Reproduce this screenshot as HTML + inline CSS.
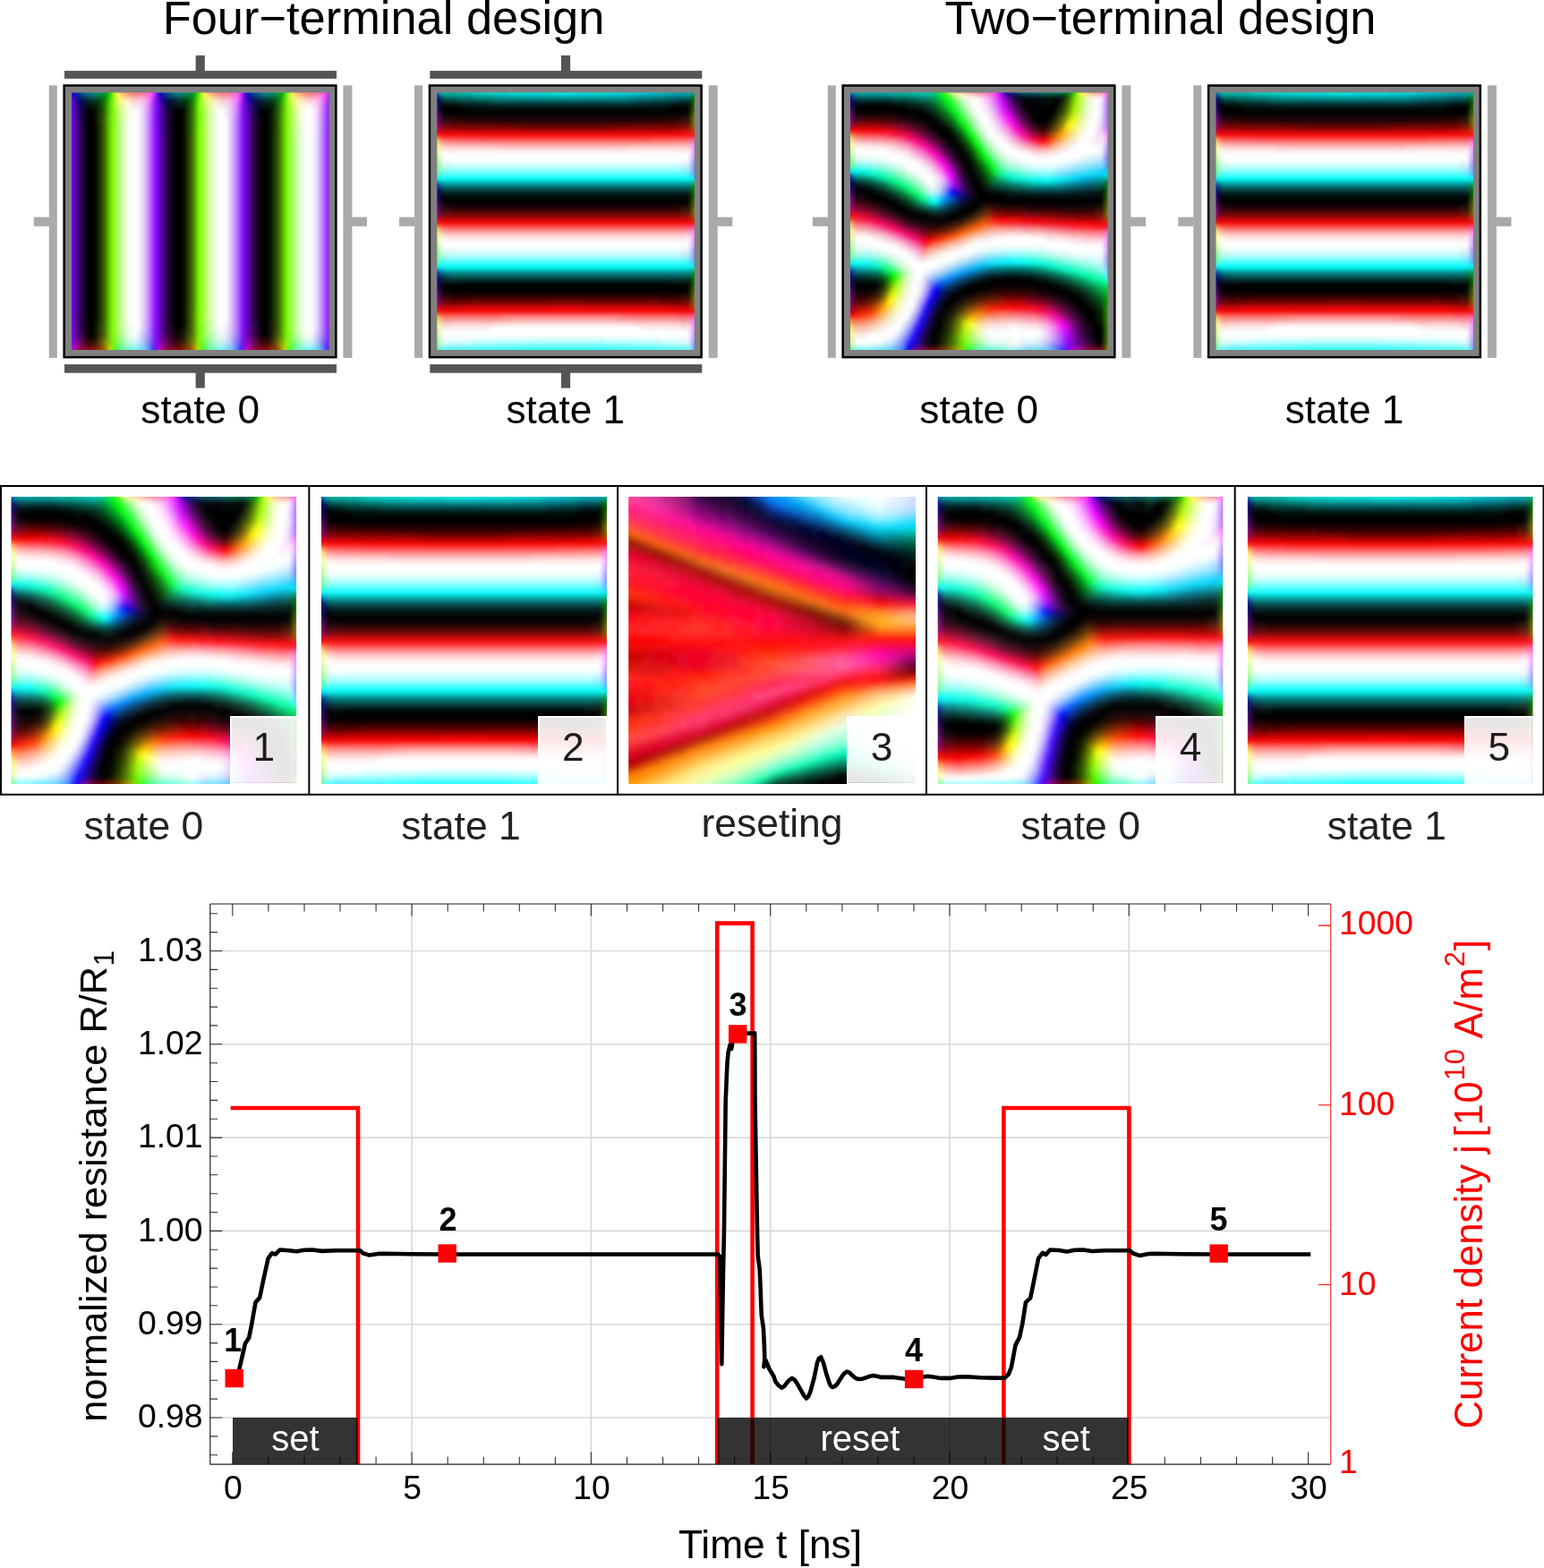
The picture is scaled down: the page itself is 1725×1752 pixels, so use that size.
<!DOCTYPE html>
<html lang="en"><head><meta charset="utf-8"><title>Skyrmion memristor figure</title><style>html,body{margin:0;padding:0;background:#fff}svg{display:block}</style></head><body><svg xmlns="http://www.w3.org/2000/svg" width="1725" height="1752" viewBox="0 0 1725 1752"><defs><clipPath id="ct0"><rect x="0.00" y="0.00" width="287.30" height="287.60"/></clipPath><filter id="bt0" x="-13.5" y="-13.5" width="314.2" height="314.6" filterUnits="userSpaceOnUse" color-interpolation-filters="sRGB"><feGaussianBlur stdDeviation="2.79"/></filter><clipPath id="ct1"><rect x="488.30" y="103.60" width="287.60" height="287.30"/></clipPath><filter id="bt1" x="474.8" y="90.1" width="314.6" height="314.2" filterUnits="userSpaceOnUse" color-interpolation-filters="sRGB"><feGaussianBlur stdDeviation="2.79"/></filter><clipPath id="ct2"><rect x="950.00" y="103.60" width="287.60" height="287.30"/></clipPath><filter id="bt2" x="936.5" y="90.1" width="314.6" height="314.2" filterUnits="userSpaceOnUse" color-interpolation-filters="sRGB"><feGaussianBlur stdDeviation="2.79"/></filter><clipPath id="ct3"><rect x="1358.50" y="103.60" width="287.60" height="287.30"/></clipPath><filter id="bt3" x="1345.0" y="90.1" width="314.6" height="314.2" filterUnits="userSpaceOnUse" color-interpolation-filters="sRGB"><feGaussianBlur stdDeviation="2.79"/></filter><clipPath id="cp0"><rect x="12.50" y="555.00" width="318.60" height="321.00"/></clipPath><filter id="bp0" x="-2.4" y="540.0" width="348.5" height="351.1" filterUnits="userSpaceOnUse" color-interpolation-filters="sRGB"><feGaussianBlur stdDeviation="3.09"/></filter><clipPath id="cp1"><rect x="359.00" y="555.00" width="318.90" height="321.00"/></clipPath><filter id="bp1" x="344.1" y="540.0" width="348.8" height="351.1" filterUnits="userSpaceOnUse" color-interpolation-filters="sRGB"><feGaussianBlur stdDeviation="3.09"/></filter><clipPath id="cp2"><rect x="702.20" y="555.00" width="320.80" height="321.00"/></clipPath><filter id="bp2" x="687.2" y="540.0" width="350.9" height="351.1" filterUnits="userSpaceOnUse" color-interpolation-filters="sRGB"><feGaussianBlur stdDeviation="3.11"/></filter><clipPath id="cp3"><rect x="1047.70" y="555.00" width="318.60" height="321.00"/></clipPath><filter id="bp3" x="1032.8" y="540.0" width="348.5" height="351.1" filterUnits="userSpaceOnUse" color-interpolation-filters="sRGB"><feGaussianBlur stdDeviation="3.09"/></filter><clipPath id="cp4"><rect x="1393.90" y="555.00" width="318.70" height="321.00"/></clipPath><filter id="bp4" x="1379.0" y="540.0" width="348.6" height="351.1" filterUnits="userSpaceOnUse" color-interpolation-filters="sRGB"><feGaussianBlur stdDeviation="3.09"/></filter></defs>
<g font-family="'Liberation Sans',Arial,Helvetica,sans-serif" fill="#000" text-anchor="middle">
<text x="428.5" y="37.6" font-size="52.4">Four−terminal design</text>
<text x="1296.5" y="37.6" font-size="52.4">Two−terminal design</text>
<text x="223.7" y="472.8" font-size="44.2">state 0</text>
<text x="631.8" y="472.8" font-size="44.2">state 1</text>
<text x="1093.7" y="472.8" font-size="44.2">state 0</text>
<text x="1502.0" y="472.8" font-size="44.2">state 1</text>
</g>
<g fill="#aaa">
<rect x="54.8" y="95.4" width="9" height="304.5"/>
<rect x="383.4" y="95.4" width="10" height="304.5"/>
<rect x="37.8" y="242.6" width="17.2" height="10.2"/>
<rect x="392.8" y="242.6" width="17.2" height="10.2"/>
</g>
<g fill="#555">
<rect x="72.0" y="79.1" width="304.0" height="8.8"/>
<rect x="72.0" y="407.1" width="304.0" height="9.6"/>
<rect x="218.6" y="61.9" width="10.2" height="18"/>
<rect x="218.6" y="416" width="10.2" height="17.6"/>
</g>
<rect x="71.65" y="95.55" width="303.70" height="303.60" fill="#808080" stroke="#000" stroke-width="2.5"/>
<g transform="matrix(0 1 1 0 80.00 103.60)"><g clip-path="url(#ct0)"><g filter="url(#bt0)"><g transform="translate(-13.47 -13.48) scale(4.48906 4.49375) translate(0 .5)" fill="none" stroke-width="1.04"><path stroke="#000" d="M7 7h57M7 8h57M7 28h55M7 29h57M7 30h55M7 50h57M7 51h57"/><path stroke="#001" d="M6 6h53M6 28h1M6 50h1"/><path stroke="#002" d="M6 27h2M6 49h3"/><path stroke="#003" d="M5 27h1"/><path stroke="#004" d="M5 5h2M6 68h4"/><path stroke="#005" d="M5 48h1M5 68h1"/><path stroke="#006" d="M4 26h2M4 48h1M4 68h1"/><path stroke="#008" d="M4 4h1M4 25h1M4 47h1"/><path stroke="#009" d="M3 25h1"/><path stroke="#00b" d="M0 3h2M3 3h1"/><path stroke="#00c" d="M2 3h1M0 46h4"/><path stroke="#00e" d="M2 24h1"/><path stroke="#010" d="M6 7h1M6 8h1M6 30h1M6 52h54"/><path stroke="#011" d="M6 29h1M6 51h1"/><path stroke="#012" d="M5 6h1M5 7h1M5 28h1M5 50h1"/><path stroke="#013" d="M5 49h1"/><path stroke="#015" d="M4 5h1"/><path stroke="#018" d="M3 68h1"/><path stroke="#019" d="M3 4h1M0 25h2M3 47h1"/><path stroke="#020" d="M6 9h3M7 31h1M7 69h1"/><path stroke="#021" d="M5 8h1M5 30h1M5 51h1M5 52h1"/><path stroke="#022" d="M5 29h1"/><path stroke="#024" d="M4 6h1M4 27h1M4 28h1M4 49h1"/><path stroke="#029" d="M2 25h1"/><path stroke="#030" d="M5 31h2M6 53h1M6 69h1"/><path stroke="#031" d="M5 9h1"/><path stroke="#034" d="M4 7h1M4 50h1"/><path stroke="#038" d="M1 68h1"/><path stroke="#039" d="M1 4h1M0 47h2M0 68h1"/><path stroke="#03a" d="M0 4h1"/><path stroke="#040" d="M5 53h1M5 69h1"/><path stroke="#042" d="M4 9h1M4 30h1M4 31h1M4 52h1"/><path stroke="#043" d="M4 8h1M4 51h1"/><path stroke="#044" d="M4 29h1"/><path stroke="#048" d="M3 26h1"/><path stroke="#049" d="M2 47h1M2 68h1"/><path stroke="#04a" d="M2 4h1"/><path stroke="#050" d="M5 10h1"/><path stroke="#051" d="M4 53h1"/><path stroke="#057" d="M3 6h1"/><path stroke="#058" d="M3 5h1M3 27h1M3 48h1M3 49h1"/><path stroke="#059" d="M1 5h1M0 26h2M0 48h2"/><path stroke="#060" d="M4 10h1M4 32h2M4 69h1"/><path stroke="#067" d="M3 28h1"/><path stroke="#068" d="M1 6h1M1 27h1M0 49h2"/><path stroke="#069" d="M0 5h1M2 5h1M0 27h1M2 27h1M2 48h1"/><path stroke="#06a" d="M2 26h1"/><path stroke="#070" d="M4 54h2"/><path stroke="#076" d="M3 30h1M3 52h1"/><path stroke="#078" d="M0 6h1M3 7h1M0 28h2M1 50h1M3 50h1"/><path stroke="#079" d="M2 6h1M2 49h1"/><path stroke="#080" d="M4 11h1M4 33h1"/><path stroke="#084" d="M3 32h1"/><path stroke="#085" d="M3 9h1M3 10h1M3 31h1M1 53h1M3 53h1"/><path stroke="#086" d="M0 9h2M1 31h1"/><path stroke="#087" d="M1 8h1M3 8h1M0 30h2M3 51h1M0 52h2"/><path stroke="#088" d="M1 7h1M0 8h1M1 29h1M3 29h1M0 50h1M1 51h1"/><path stroke="#089" d="M0 7h1M2 28h1M2 50h1"/><path stroke="#090" d="M3 33h1"/><path stroke="#091" d="M3 11h1M0 33h2"/><path stroke="#092" d="M2 33h1"/><path stroke="#093" d="M0 11h2M3 54h1"/><path stroke="#094" d="M2 11h1M1 54h1"/><path stroke="#095" d="M0 10h2M0 32h2M0 54h1"/><path stroke="#096" d="M2 10h1M0 31h1M2 31h1M0 53h1M2 53h1"/><path stroke="#097" d="M2 9h1M2 52h1"/><path stroke="#098" d="M2 8h1M2 30h1M0 51h1"/><path stroke="#099" d="M2 7h1M0 29h1M2 29h1M2 51h1"/><path stroke="#0a0" d="M0 55h4"/><path stroke="#0a5" d="M3 69h1"/><path stroke="#0a6" d="M2 32h1M2 54h1M0 69h2"/><path stroke="#0b7" d="M2 69h1"/><path stroke="#0c0" d="M0 12h4"/><path stroke="#0e0" d="M2 34h1"/><path stroke="#100" d="M63 28h1M63 30h1"/><path stroke="#101" d="M59 6h4M62 28h1M10 49h50"/><path stroke="#102" d="M8 27h53M9 49h1M60 49h2"/><path stroke="#104" d="M7 5h2M6 48h2M10 68h52"/><path stroke="#105" d="M6 26h1"/><path stroke="#108" d="M5 4h1M5 47h1"/><path stroke="#10e" d="M0 24h2"/><path stroke="#10f" d="M67 23h1"/><path stroke="#110" d="M10 9h50M62 30h1M60 52h4"/><path stroke="#120" d="M9 9h1M60 9h2M8 31h53M8 69h55"/><path stroke="#12f" d="M67 66h1"/><path stroke="#130" d="M7 53h7"/><path stroke="#140" d="M6 10h2"/><path stroke="#150" d="M6 32h1"/><path stroke="#180" d="M5 11h1"/><path stroke="#1a0" d="M4 55h1"/><path stroke="#1e0" d="M0 34h2"/><path stroke="#1f0" d="M67 35h1"/><path stroke="#1f3" d="M67 57h1M69 57h1"/><path stroke="#200" d="M64 7h1M64 8h1M64 29h1M64 50h1M64 51h1"/><path stroke="#201" d="M63 6h2M64 28h1"/><path stroke="#202" d="M61 27h2M62 49h2"/><path stroke="#204" d="M9 5h53M8 48h53M62 68h1"/><path stroke="#205" d="M7 26h6"/><path stroke="#208" d="M6 4h1"/><path stroke="#20e" d="M3 24h1"/><path stroke="#210" d="M64 30h1M64 52h1"/><path stroke="#21f" d="M68 23h2"/><path stroke="#220" d="M62 9h2M61 31h2"/><path stroke="#22f" d="M68 66h2"/><path stroke="#230" d="M14 53h49M63 69h2"/><path stroke="#240" d="M8 10h53"/><path stroke="#250" d="M7 32h6"/><path stroke="#260" d="M6 54h2"/><path stroke="#2e0" d="M3 34h1"/><path stroke="#2f1" d="M68 35h2"/><path stroke="#2f3" d="M68 57h1"/><path stroke="#300" d="M65 7h1M65 29h1M65 51h1"/><path stroke="#302" d="M64 49h1"/><path stroke="#303" d="M63 27h2"/><path stroke="#304" d="M62 5h2M61 48h3M63 68h1"/><path stroke="#305" d="M13 26h50"/><path stroke="#307" d="M6 47h3"/><path stroke="#308" d="M7 4h4M5 25h2"/><path stroke="#30c" d="M4 46h1"/><path stroke="#310" d="M65 8h1"/><path stroke="#320" d="M64 9h1"/><path stroke="#32f" d="M66 66h1"/><path stroke="#330" d="M63 31h2M63 53h1"/><path stroke="#340" d="M61 10h3"/><path stroke="#350" d="M13 32h50"/><path stroke="#35f" d="M66 44h1"/><path stroke="#360" d="M8 54h53"/><path stroke="#36f" d="M67 44h3"/><path stroke="#370" d="M6 11h3"/><path stroke="#380" d="M5 33h2"/><path stroke="#38f" d="M67 1h3"/><path stroke="#3d0" d="M4 12h1"/><path stroke="#3f3" d="M66 57h1"/><path stroke="#3f5" d="M66 14h1"/><path stroke="#3f6" d="M67 14h3"/><path stroke="#401" d="M65 28h1M65 50h1"/><path stroke="#402" d="M65 6h1M65 49h1"/><path stroke="#403" d="M65 27h1"/><path stroke="#405" d="M63 26h1M64 68h1"/><path stroke="#407" d="M9 47h53"/><path stroke="#408" d="M11 4h51M7 25h51"/><path stroke="#40c" d="M4 3h1M5 46h1"/><path stroke="#40f" d="M67 45h3"/><path stroke="#410" d="M65 30h1"/><path stroke="#41f" d="M66 23h1"/><path stroke="#420" d="M65 9h1M65 52h1"/><path stroke="#430" d="M65 31h1M65 53h1M65 69h1"/><path stroke="#440" d="M64 53h1"/><path stroke="#450" d="M63 32h1"/><path stroke="#460" d="M61 54h3"/><path stroke="#470" d="M9 11h53"/><path stroke="#47f" d="M66 1h1M66 22h1"/><path stroke="#480" d="M7 33h50"/><path stroke="#4a0" d="M5 55h3"/><path stroke="#4d0" d="M5 12h1"/><path stroke="#4f0" d="M67 13h3"/><path stroke="#4f1" d="M66 35h1"/><path stroke="#4f7" d="M66 36h1"/><path stroke="#504" d="M65 5h1M65 48h1"/><path stroke="#505" d="M64 5h1"/><path stroke="#507" d="M62 47h2"/><path stroke="#508" d="M62 4h2M58 25h5"/><path stroke="#50c" d="M5 3h1M6 46h1"/><path stroke="#50d" d="M7 46h1"/><path stroke="#50e" d="M4 24h2"/><path stroke="#50f" d="M4 2h5"/><path stroke="#550" d="M65 10h1"/><path stroke="#570" d="M62 11h2"/><path stroke="#57f" d="M66 65h1"/><path stroke="#580" d="M57 33h6"/><path stroke="#58f" d="M69 22h1"/><path stroke="#59f" d="M67 22h1"/><path stroke="#5a0" d="M8 55h54"/><path stroke="#5d0" d="M6 12h2"/><path stroke="#5f0" d="M4 34h1M2 56h1"/><path stroke="#5f8" d="M69 36h1"/><path stroke="#5f9" d="M67 36h1"/><path stroke="#605" d="M64 48h1M65 68h1"/><path stroke="#606" d="M64 26h1"/><path stroke="#607" d="M64 47h1"/><path stroke="#608" d="M64 4h1M63 25h2"/><path stroke="#60c" d="M6 3h53M62 46h1"/><path stroke="#60d" d="M8 46h54"/><path stroke="#60e" d="M6 24h1"/><path stroke="#60f" d="M0 2h4M9 2h54M7 24h4M66 45h1M0 67h4"/><path stroke="#65f" d="M65 65h1"/><path stroke="#660" d="M64 10h1M64 32h1"/><path stroke="#66f" d="M65 22h1"/><path stroke="#670" d="M64 11h1M64 54h1"/><path stroke="#680" d="M63 33h2"/><path stroke="#68f" d="M68 22h1M68 65h2"/><path stroke="#69f" d="M67 65h1"/><path stroke="#6a0" d="M62 55h2"/><path stroke="#6bf" d="M67 21h3M67 43h1M68 64h1"/><path stroke="#6cf" d="M67 42h3M67 64h1M69 64h1"/><path stroke="#6d0" d="M8 12h55"/><path stroke="#6df" d="M67 20h1M69 20h1M67 63h1"/><path stroke="#6ef" d="M67 19h1M67 41h1"/><path stroke="#6f0" d="M66 13h1M5 34h6M0 56h2M3 56h1"/><path stroke="#6f6" d="M65 36h1M65 58h1"/><path stroke="#6f8" d="M68 36h1"/><path stroke="#6f9" d="M66 58h1"/><path stroke="#6fa" d="M67 58h1"/><path stroke="#6fb" d="M67 15h1M67 37h3M68 59h2"/><path stroke="#6fc" d="M67 16h3M67 59h1"/><path stroke="#6fd" d="M67 38h1M69 38h1M67 60h1"/><path stroke="#6fe" d="M67 17h1M67 39h1"/><path stroke="#6ff" d="M67 18h1M67 40h1M67 61h1M67 62h1"/><path stroke="#700" d="M66 7h1M66 29h1M66 51h1"/><path stroke="#701" d="M66 28h1M66 50h1"/><path stroke="#704" d="M66 26h1"/><path stroke="#706" d="M65 26h1"/><path stroke="#70c" d="M59 3h5"/><path stroke="#70d" d="M63 46h1"/><path stroke="#70e" d="M62 24h1"/><path stroke="#70f" d="M63 2h2M11 24h51M63 24h1M64 45h2"/><path stroke="#710" d="M66 8h1M66 30h1"/><path stroke="#71f" d="M64 23h1"/><path stroke="#72f" d="M65 23h1"/><path stroke="#730" d="M66 69h1"/><path stroke="#73f" d="M63 66h3"/><path stroke="#740" d="M66 32h1"/><path stroke="#760" d="M65 32h1"/><path stroke="#76f" d="M65 44h1"/><path stroke="#77f" d="M65 1h1"/><path stroke="#7a0" d="M64 55h1"/><path stroke="#7af" d="M66 43h1"/><path stroke="#7bf" d="M66 21h1M68 43h2"/><path stroke="#7cf" d="M66 20h1M66 42h1M66 64h1"/><path stroke="#7d0" d="M63 12h1"/><path stroke="#7df" d="M68 20h1M66 41h1M66 63h1M68 63h2"/><path stroke="#7ef" d="M68 19h2M68 41h2"/><path stroke="#7f0" d="M64 13h2M11 34h53M4 56h60"/><path stroke="#7f1" d="M64 35h1"/><path stroke="#7f2" d="M65 35h1"/><path stroke="#7f4" d="M65 57h1"/><path stroke="#7f6" d="M65 14h1"/><path stroke="#7fa" d="M66 15h1M68 58h2"/><path stroke="#7fb" d="M68 15h2M66 37h1"/><path stroke="#7fc" d="M66 16h1M66 38h1M66 59h1"/><path stroke="#7fd" d="M67 0h1M66 17h1M68 38h1M66 60h1M68 60h2"/><path stroke="#7fe" d="M68 17h2M68 39h2"/><path stroke="#7ff" d="M68 18h2M68 40h2M68 61h2M68 62h2"/><path stroke="#800" d="M68 7h2M68 29h2M68 51h2"/><path stroke="#801" d="M68 28h2M68 50h2"/><path stroke="#802" d="M66 6h1M68 6h2M66 49h1M68 49h2"/><path stroke="#803" d="M66 5h1M66 27h1M68 27h1"/><path stroke="#804" d="M68 26h1M66 48h1"/><path stroke="#809" d="M65 25h1"/><path stroke="#80b" d="M65 3h1"/><path stroke="#80c" d="M64 3h1M64 46h2"/><path stroke="#80e" d="M65 24h1"/><path stroke="#80f" d="M65 2h5M64 24h1M7 45h57M4 67h1M65 67h1"/><path stroke="#810" d="M68 8h2M68 30h2"/><path stroke="#81f" d="M61 23h3"/><path stroke="#820" d="M66 9h1M68 9h2M66 52h1M68 52h2M67 69h3"/><path stroke="#830" d="M66 31h1M68 31h1M66 53h1"/><path stroke="#83f" d="M8 66h55"/><path stroke="#840" d="M66 10h1M68 32h1M67 54h1M69 54h1"/><path stroke="#850" d="M66 54h1M68 54h1"/><path stroke="#86f" d="M64 44h1"/><path stroke="#87f" d="M64 1h1"/><path stroke="#880" d="M65 54h1"/><path stroke="#88f" d="M65 43h1"/><path stroke="#890" d="M65 33h1"/><path stroke="#8a0" d="M65 55h1"/><path stroke="#8c0" d="M65 12h1"/><path stroke="#8d0" d="M64 12h1"/><path stroke="#8e0" d="M65 34h1"/><path stroke="#8ef" d="M66 19h1"/><path stroke="#8f0" d="M7 13h57M64 34h1M64 56h3"/><path stroke="#8f1" d="M61 35h1M63 35h1"/><path stroke="#8f2" d="M62 35h1"/><path stroke="#8f3" d="M63 57h1"/><path stroke="#8f4" d="M64 57h1"/><path stroke="#8f6" d="M64 14h1"/><path stroke="#8f8" d="M65 15h1"/><path stroke="#8fd" d="M66 0h1M68 0h2"/><path stroke="#8fe" d="M66 39h1"/><path stroke="#8ff" d="M66 18h1M66 40h1M66 61h1M66 62h1"/><path stroke="#900" d="M67 7h1M67 29h1M67 51h1"/><path stroke="#901" d="M67 28h1M67 50h1"/><path stroke="#902" d="M67 6h1M67 27h1M67 49h1"/><path stroke="#903" d="M67 5h3M69 27h1"/><path stroke="#904" d="M67 26h1M69 26h1M67 48h3"/><path stroke="#905" d="M67 4h1M67 47h1"/><path stroke="#906" d="M68 4h2M68 47h2"/><path stroke="#909" d="M65 47h1"/><path stroke="#90a" d="M65 4h1"/><path stroke="#90f" d="M4 45h3M5 67h2M61 67h4M66 67h4"/><path stroke="#910" d="M67 8h1M67 30h1M67 52h1"/><path stroke="#91f" d="M7 23h54"/><path stroke="#920" d="M67 9h1"/><path stroke="#930" d="M67 31h1M69 31h1M67 53h3"/><path stroke="#93f" d="M6 66h2"/><path stroke="#940" d="M67 10h3M67 32h1M69 32h1"/><path stroke="#950" d="M67 11h1"/><path stroke="#960" d="M68 11h2"/><path stroke="#96f" d="M63 44h1"/><path stroke="#97f" d="M64 22h1M64 65h1"/><path stroke="#98f" d="M64 43h1"/><path stroke="#990" d="M65 11h1"/><path stroke="#99f" d="M64 21h1"/><path stroke="#9af" d="M65 21h1M64 64h1"/><path stroke="#9f0" d="M4 13h3M67 56h3"/><path stroke="#9f1" d="M7 35h54"/><path stroke="#9f3" d="M12 57h51"/><path stroke="#9f6" d="M63 14h1"/><path stroke="#9f8" d="M64 15h1M64 36h1M64 58h1"/><path stroke="#9f9" d="M64 37h1"/><path stroke="#9fa" d="M65 37h1"/><path stroke="#a04" d="M66 68h1M68 68h2"/><path stroke="#a07" d="M66 4h1M66 47h1"/><path stroke="#a08" d="M68 25h1"/><path stroke="#a0e" d="M66 24h1"/><path stroke="#a0f" d="M7 67h54"/><path stroke="#a1f" d="M5 23h2"/><path stroke="#a3f" d="M5 66h1"/><path stroke="#a6f" d="M9 44h54"/><path stroke="#a70" d="M66 11h1"/><path stroke="#a7f" d="M63 1h1M61 22h3M62 65h2"/><path stroke="#abf" d="M65 64h1"/><path stroke="#ae0" d="M66 34h1"/><path stroke="#af2" d="M5 35h2"/><path stroke="#af3" d="M7 57h5"/><path stroke="#af6" d="M10 14h53"/><path stroke="#af7" d="M61 36h3"/><path stroke="#af8" d="M63 58h1"/><path stroke="#afa" d="M64 59h1"/><path stroke="#afb" d="M65 59h1"/><path stroke="#b03" d="M67 68h1"/><path stroke="#b07" d="M67 25h1"/><path stroke="#b08" d="M69 25h1"/><path stroke="#b09" d="M66 25h1"/><path stroke="#b0c" d="M66 3h1"/><path stroke="#b0f" d="M3 45h1"/><path stroke="#b1f" d="M4 23h1"/><path stroke="#b3f" d="M4 66h1"/><path stroke="#b6f" d="M7 44h2"/><path stroke="#b70" d="M67 33h1"/><path stroke="#b7f" d="M62 1h1M8 22h53M9 65h53"/><path stroke="#b80" d="M68 33h2"/><path stroke="#b8f" d="M61 1h1"/><path stroke="#b90" d="M66 33h1"/><path stroke="#b9f" d="M62 43h2"/><path stroke="#baf" d="M63 21h1"/><path stroke="#bcf" d="M64 42h2"/><path stroke="#bdf" d="M65 20h1M65 41h1M65 63h1"/><path stroke="#bef" d="M65 19h1"/><path stroke="#bf0" d="M3 13h1"/><path stroke="#bf2" d="M4 35h1"/><path stroke="#bf3" d="M5 57h2"/><path stroke="#bf6" d="M7 14h3"/><path stroke="#bf7" d="M8 36h53"/><path stroke="#bf8" d="M14 58h49"/><path stroke="#bf9" d="M62 15h2"/><path stroke="#bfa" d="M63 37h1"/><path stroke="#bfc" d="M64 16h2"/><path stroke="#bfd" d="M65 17h1M65 38h1M65 60h1"/><path stroke="#bfe" d="M65 39h1"/><path stroke="#c0d" d="M66 46h1"/><path stroke="#c0f" d="M68 24h2M0 45h3"/><path stroke="#c6f" d="M5 44h2"/><path stroke="#c7f" d="M6 22h2M6 65h3"/><path stroke="#c8f" d="M9 1h52"/><path stroke="#c9f" d="M9 43h53"/><path stroke="#caf" d="M60 21h3"/><path stroke="#cb0" d="M66 55h1"/><path stroke="#cbf" d="M61 64h3"/><path stroke="#ccf" d="M63 20h1M63 42h1"/><path stroke="#cd0" d="M66 12h1"/><path stroke="#cdf" d="M64 20h1"/><path stroke="#cf0" d="M0 13h3M68 34h2"/><path stroke="#cf6" d="M5 14h2"/><path stroke="#cf7" d="M6 36h2"/><path stroke="#cf8" d="M7 58h7"/><path stroke="#cf9" d="M9 15h53"/><path stroke="#cfa" d="M60 37h3"/><path stroke="#cfb" d="M62 59h2"/><path stroke="#cfc" d="M63 16h1M63 38h1"/><path stroke="#cfd" d="M65 0h1M64 38h1"/><path stroke="#cff" d="M65 18h1M65 40h1M65 61h1M65 62h1"/><path stroke="#d0d" d="M67 3h3"/><path stroke="#d0f" d="M67 24h1"/><path stroke="#d7f" d="M7 1h1M5 22h1M5 65h1"/><path stroke="#d8f" d="M8 1h1"/><path stroke="#d9f" d="M6 43h3"/><path stroke="#da0" d="M67 55h1"/><path stroke="#daf" d="M7 21h53"/><path stroke="#db0" d="M68 55h2"/><path stroke="#dbf" d="M8 64h53"/><path stroke="#dcf" d="M60 42h3"/><path stroke="#ddf" d="M62 20h1M63 63h2"/><path stroke="#def" d="M64 19h1M64 41h1"/><path stroke="#df0" d="M67 34h1"/><path stroke="#df4" d="M4 57h1"/><path stroke="#df7" d="M5 36h1"/><path stroke="#df8" d="M6 58h1"/><path stroke="#df9" d="M6 15h3"/><path stroke="#dfa" d="M7 37h53"/><path stroke="#dfb" d="M9 59h53"/><path stroke="#dfc" d="M60 16h3"/><path stroke="#dfd" d="M62 38h1M63 60h2"/><path stroke="#dfe" d="M64 17h1M64 39h1"/><path stroke="#dff" d="M64 18h1M64 40h1M64 61h1M64 62h1"/><path stroke="#e0d" d="M68 46h2"/><path stroke="#e0e" d="M67 46h1"/><path stroke="#e7f" d="M6 1h1"/><path stroke="#eaf" d="M6 21h1"/><path stroke="#ebf" d="M7 64h1"/><path stroke="#ecf" d="M7 42h53"/><path stroke="#ed0" d="M69 12h1"/><path stroke="#edf" d="M8 20h54"/><path stroke="#ee0" d="M67 12h2"/><path stroke="#eef" d="M61 41h3M13 63h50"/><path stroke="#ef8" d="M5 58h1"/><path stroke="#efa" d="M6 37h1"/><path stroke="#efb" d="M7 59h2"/><path stroke="#efc" d="M7 16h53"/><path stroke="#efd" d="M64 0h1M8 38h54"/><path stroke="#efe" d="M61 17h3M12 60h51"/><path stroke="#eff" d="M62 19h2M62 39h2"/><path stroke="#f2f" d="M0 23h4"/><path stroke="#f3f" d="M0 66h4"/><path stroke="#f59" d="M2 43h1"/><path stroke="#f5c" d="M2 65h1"/><path stroke="#f5d" d="M0 65h1"/><path stroke="#f5e" d="M0 1h3"/><path stroke="#f5f" d="M0 44h1M2 44h1"/><path stroke="#f66" d="M0 18h1M2 18h1M0 40h1M2 40h1M2 62h1"/><path stroke="#f67" d="M2 19h1M2 41h1M0 62h1"/><path stroke="#f68" d="M2 20h1M2 63h1"/><path stroke="#f69" d="M2 21h1M0 42h1M2 42h1M0 64h1M2 64h1"/><path stroke="#f6a" d="M0 21h2M0 43h2M1 64h1"/><path stroke="#f6c" d="M2 22h1M3 43h1"/><path stroke="#f6d" d="M0 22h2M1 65h1"/><path stroke="#f6f" d="M3 1h2M3 22h1M1 44h1M3 44h2M3 65h1"/><path stroke="#f76" d="M2 17h1M2 39h1M0 61h1M2 61h1"/><path stroke="#f77" d="M1 18h1M3 18h1M1 40h1M3 40h1M1 61h1M1 62h1"/><path stroke="#f78" d="M0 19h2M0 41h2M3 62h1"/><path stroke="#f79" d="M0 20h2M0 63h2"/><path stroke="#f7a" d="M3 20h1M3 21h1M1 42h1M3 42h1M3 64h1"/><path stroke="#f7f" d="M5 1h1M4 22h1M4 65h1"/><path stroke="#f84" d="M2 0h1"/><path stroke="#f86" d="M2 38h1M2 60h1"/><path stroke="#f87" d="M0 17h2M0 39h2M0 60h1M3 61h1"/><path stroke="#f89" d="M3 19h1M3 41h1"/><path stroke="#f8a" d="M3 63h1"/><path stroke="#f8f" d="M4 43h1"/><path stroke="#f94" d="M0 0h1"/><path stroke="#f95" d="M1 0h1M2 15h1"/><path stroke="#f96" d="M0 16h1M2 16h1M2 37h1M2 59h1"/><path stroke="#f97" d="M0 38h2M1 60h1"/><path stroke="#f98" d="M3 17h1M3 39h1"/><path stroke="#f9f" d="M4 21h1M5 43h1"/><path stroke="#fa5" d="M3 0h1M2 58h1"/><path stroke="#fa6" d="M0 15h2M0 37h2M0 59h2"/><path stroke="#fa7" d="M1 16h1M3 16h1M3 37h1M3 38h1M3 59h1"/><path stroke="#fa8" d="M3 60h1"/><path stroke="#fad" d="M4 42h1"/><path stroke="#faf" d="M5 21h1M4 64h2"/><path stroke="#fb6" d="M0 58h1"/><path stroke="#fbb" d="M4 18h1M4 40h1"/><path stroke="#fbc" d="M4 62h1"/><path stroke="#fbd" d="M4 20h1M4 41h1M4 63h1"/><path stroke="#fbf" d="M5 42h1M6 64h1"/><path stroke="#fc6" d="M3 15h1M2 36h1M1 58h1"/><path stroke="#fcb" d="M4 61h1"/><path stroke="#fcd" d="M4 19h1"/><path stroke="#fcf" d="M5 20h1M6 42h1"/><path stroke="#fd6" d="M0 36h2"/><path stroke="#fda" d="M4 16h1"/><path stroke="#fdb" d="M4 17h1M4 38h1M4 60h1"/><path stroke="#fdc" d="M4 39h1"/><path stroke="#fdd" d="M5 18h1M5 40h1"/><path stroke="#fde" d="M5 19h1M5 41h1M5 62h1M5 63h1"/><path stroke="#fdf" d="M6 20h2M6 63h1"/><path stroke="#fe6" d="M3 58h1"/><path stroke="#fea" d="M4 59h1"/><path stroke="#fed" d="M5 17h1M5 39h1M5 60h1M5 61h1"/><path stroke="#fee" d="M6 18h1M6 40h1"/><path stroke="#fef" d="M6 19h1M6 41h3M7 63h6"/><path stroke="#ff2" d="M0 35h4"/><path stroke="#ff4" d="M0 57h4"/><path stroke="#ff5" d="M2 14h1"/><path stroke="#ff6" d="M0 14h2M3 14h2M3 36h1"/><path stroke="#ff7" d="M4 36h1"/><path stroke="#ff8" d="M4 15h1M4 58h1"/><path stroke="#ff9" d="M5 15h1M4 37h1"/><path stroke="#ffa" d="M4 0h1M5 37h1"/><path stroke="#ffb" d="M5 59h2"/><path stroke="#ffc" d="M5 0h1M5 16h2M5 38h1"/><path stroke="#ffd" d="M6 0h2M62 0h2M6 38h2M6 60h1"/><path stroke="#ffe" d="M8 0h54M6 17h3M6 39h1M7 60h5"/><path stroke="#fff" d="M9 17h52M7 18h57M7 19h55M7 39h55M7 40h57M9 41h52M6 61h58M6 62h58"/></g></g></g></g>
<g fill="#aaa">
<rect x="463.1" y="95.4" width="9" height="304.5"/>
<rect x="791.7" y="95.4" width="10" height="304.5"/>
<rect x="446.1" y="242.6" width="17.2" height="10.2"/>
<rect x="801.1" y="242.6" width="17.2" height="10.2"/>
</g>
<g fill="#555">
<rect x="480.3" y="79.1" width="304.0" height="8.8"/>
<rect x="480.3" y="407.1" width="304.0" height="9.6"/>
<rect x="626.9" y="61.9" width="10.2" height="18"/>
<rect x="626.9" y="416" width="10.2" height="17.6"/>
</g>
<rect x="479.95" y="95.55" width="303.70" height="303.60" fill="#808080" stroke="#000" stroke-width="2.5"/>
<g clip-path="url(#ct1)"><g filter="url(#bt1)"><g transform="translate(474.82 90.13) scale(4.49375 4.48906) translate(0 .5)" fill="none" stroke-width="1.04"><path stroke="#000" d="M4 6h6M60 6h6M4 7h62M4 8h62M4 28h1M65 28h1M4 29h62M4 30h62M4 50h1M6 50h1M8 50h54M63 50h1M65 50h1M4 51h62M4 52h62M22 69h26"/><path stroke="#001" d="M5 50h1M7 50h1M21 69h1"/><path stroke="#004" d="M3 5h1M3 6h1M3 28h1M3 50h1"/><path stroke="#005" d="M3 4h1M3 27h1M3 49h1"/><path stroke="#007" d="M1 4h1M1 27h1M1 49h1"/><path stroke="#008" d="M0 4h1M0 27h1M0 49h1"/><path stroke="#009" d="M2 4h1M2 26h1M2 27h1M2 48h1M2 49h1"/><path stroke="#010" d="M62 50h1M64 50h1M48 69h1"/><path stroke="#011" d="M4 5h1M65 5h1M10 6h50M5 28h60M20 69h1M49 69h1"/><path stroke="#012" d="M19 69h1"/><path stroke="#019" d="M0 26h1M0 48h1"/><path stroke="#021" d="M50 69h1"/><path stroke="#022" d="M5 5h3M62 5h3M4 49h1M65 49h1"/><path stroke="#023" d="M61 5h1M5 49h1M18 69h1"/><path stroke="#028" d="M1 26h1M1 48h1"/><path stroke="#02a" d="M2 3h1M2 47h1"/><path stroke="#032" d="M8 5h1M64 49h1M51 69h1"/><path stroke="#033" d="M9 5h7M54 5h7M4 27h62M6 49h58"/><path stroke="#034" d="M53 5h1M16 69h2"/><path stroke="#037" d="M3 26h1M3 48h1"/><path stroke="#039" d="M0 47h2"/><path stroke="#03a" d="M0 3h1"/><path stroke="#03b" d="M2 25h1"/><path stroke="#040" d="M66 5h1M66 6h1M66 28h1M66 50h1"/><path stroke="#043" d="M16 5h1M52 69h2"/><path stroke="#044" d="M4 4h1M65 4h1M17 5h36"/><path stroke="#045" d="M15 69h1"/><path stroke="#04a" d="M1 3h1M0 25h1"/><path stroke="#050" d="M66 4h1M66 27h1M66 49h1"/><path stroke="#054" d="M54 69h1"/><path stroke="#055" d="M5 4h3M62 4h3"/><path stroke="#056" d="M60 4h2M4 48h2M14 69h1"/><path stroke="#059" d="M3 47h1"/><path stroke="#05a" d="M1 25h1"/><path stroke="#05b" d="M2 2h1"/><path stroke="#065" d="M8 4h2M64 48h2M55 69h1"/><path stroke="#066" d="M10 4h2M58 4h2M4 26h62M6 48h58"/><path stroke="#067" d="M56 4h2M13 69h1"/><path stroke="#070" d="M68 4h1M68 27h1M68 49h1"/><path stroke="#073" d="M66 26h1M66 48h1"/><path stroke="#076" d="M12 4h2M56 69h1"/><path stroke="#077" d="M14 4h3M53 4h3"/><path stroke="#078" d="M51 4h2M12 69h1"/><path stroke="#079" d="M3 3h1"/><path stroke="#07a" d="M3 25h1"/><path stroke="#07b" d="M0 2h2"/><path stroke="#07e" d="M2 1h1"/><path stroke="#080" d="M69 4h1M69 27h1M69 49h1"/><path stroke="#082" d="M68 26h1M68 48h1"/><path stroke="#087" d="M17 4h2M57 69h1"/><path stroke="#088" d="M19 4h32"/><path stroke="#089" d="M4 47h1M11 69h1"/><path stroke="#08a" d="M10 69h1"/><path stroke="#090" d="M67 4h1M67 26h1M67 27h1M67 48h1M67 49h1"/><path stroke="#091" d="M69 26h1M69 48h1"/><path stroke="#093" d="M68 47h2"/><path stroke="#095" d="M66 47h1"/><path stroke="#097" d="M66 3h1"/><path stroke="#098" d="M65 47h1M58 69h1"/><path stroke="#099" d="M5 47h60"/><path stroke="#09a" d="M3 2h1M61 3h4"/><path stroke="#09b" d="M9 69h1"/><path stroke="#09e" d="M0 1h1"/><path stroke="#0a2" d="M67 3h1M67 47h1"/><path stroke="#0a3" d="M69 3h1"/><path stroke="#0a4" d="M68 3h1M69 25h1"/><path stroke="#0a5" d="M68 25h1"/><path stroke="#0a7" d="M66 25h1"/><path stroke="#0a8" d="M59 69h1"/><path stroke="#0a9" d="M66 2h1M5 3h4"/><path stroke="#0aa" d="M4 3h1M9 3h3M58 3h3M65 3h1M4 25h62"/><path stroke="#0ab" d="M64 2h1M53 3h5"/><path stroke="#0ac" d="M8 69h1"/><path stroke="#0ae" d="M1 1h1"/><path stroke="#0b3" d="M67 25h1"/><path stroke="#0b5" d="M67 2h1"/><path stroke="#0b7" d="M68 2h2"/><path stroke="#0b9" d="M60 69h1"/><path stroke="#0ba" d="M5 2h1M12 3h5"/><path stroke="#0bb" d="M6 2h2M62 2h2M17 3h4M49 3h4"/><path stroke="#0bc" d="M60 2h2M65 2h1M46 3h3"/><path stroke="#0bd" d="M7 69h1"/><path stroke="#0be" d="M6 69h1"/><path stroke="#0ca" d="M61 69h1"/><path stroke="#0cb" d="M4 2h1M8 2h2M21 3h3"/><path stroke="#0cc" d="M10 2h1M59 2h1M24 3h7M39 3h7"/><path stroke="#0cd" d="M65 1h1M57 2h2M37 3h2"/><path stroke="#0ce" d="M5 69h1"/><path stroke="#0cf" d="M4 69h1"/><path stroke="#0db" d="M62 69h1"/><path stroke="#0dc" d="M4 1h1M11 2h2M31 3h2"/><path stroke="#0dd" d="M33 3h4"/><path stroke="#0de" d="M64 1h1M55 2h2"/><path stroke="#0df" d="M62 1h2"/><path stroke="#0e7" d="M67 1h1"/><path stroke="#0e9" d="M69 1h1"/><path stroke="#0ea" d="M68 1h1"/><path stroke="#0eb" d="M63 69h1"/><path stroke="#0ec" d="M64 69h1"/><path stroke="#0ed" d="M5 1h1M13 2h2"/><path stroke="#0ef" d="M3 1h1M55 1h7M52 2h3M3 69h1M67 69h1M69 69h1"/><path stroke="#0fc" d="M65 69h1"/><path stroke="#0fd" d="M6 1h2"/><path stroke="#0fe" d="M8 1h7M66 1h1M15 2h3M0 69h1M2 69h1M66 69h1"/><path stroke="#0ff" d="M18 2h34M0 24h70M0 46h70M11 68h48M1 69h1M68 69h1"/><path stroke="#100" d="M4 9h1M10 9h50M65 9h1M4 31h1M6 31h58M65 31h1M4 53h1M65 53h1"/><path stroke="#104" d="M3 29h1"/><path stroke="#107" d="M1 5h1"/><path stroke="#108" d="M0 5h1"/><path stroke="#140" d="M66 29h1"/><path stroke="#170" d="M68 5h1"/><path stroke="#180" d="M69 5h1"/><path stroke="#1ef" d="M54 1h1"/><path stroke="#1fe" d="M15 1h1"/><path stroke="#1ff" d="M24 67h22M10 68h1M59 68h1"/><path stroke="#200" d="M6 9h4M60 9h4M6 53h58"/><path stroke="#201" d="M5 9h1M5 31h1M5 53h1"/><path stroke="#204" d="M3 7h1M3 51h1"/><path stroke="#206" d="M1 6h1"/><path stroke="#207" d="M0 28h2M0 50h2"/><path stroke="#209" d="M2 5h1"/><path stroke="#210" d="M64 9h1M64 31h1M64 53h1"/><path stroke="#240" d="M66 7h1M66 51h1"/><path stroke="#260" d="M68 6h1"/><path stroke="#270" d="M68 28h2M68 50h2"/><path stroke="#290" d="M67 5h1"/><path stroke="#29f" d="M66 0h1"/><path stroke="#2cf" d="M68 0h1"/><path stroke="#2df" d="M69 0h1"/><path stroke="#2ef" d="M67 0h1M53 1h1"/><path stroke="#2f9" d="M3 0h1"/><path stroke="#2fc" d="M1 0h1"/><path stroke="#2fd" d="M0 0h1"/><path stroke="#2fe" d="M2 0h1M16 1h1"/><path stroke="#2ff" d="M4 45h62M19 67h5M46 67h5M8 68h2M60 68h2"/><path stroke="#300" d="M18 10h34M4 32h1M65 32h1"/><path stroke="#304" d="M3 30h1M3 52h1"/><path stroke="#306" d="M1 7h1M1 29h1M1 51h1"/><path stroke="#307" d="M0 6h1M0 29h1M0 51h1"/><path stroke="#309" d="M2 28h1M2 50h1"/><path stroke="#340" d="M66 30h1M66 52h1"/><path stroke="#360" d="M68 7h1M68 29h1M68 51h1"/><path stroke="#370" d="M69 6h1M69 29h1M69 51h1"/><path stroke="#390" d="M67 28h1M67 50h1"/><path stroke="#3af" d="M67 45h1"/><path stroke="#3bf" d="M69 45h1"/><path stroke="#3cf" d="M68 45h1"/><path stroke="#3df" d="M66 45h1"/><path stroke="#3ef" d="M52 1h1M15 67h2"/><path stroke="#3fa" d="M2 45h1"/><path stroke="#3fb" d="M0 45h1"/><path stroke="#3fc" d="M1 45h1"/><path stroke="#3fd" d="M3 45h1"/><path stroke="#3fe" d="M17 1h1M53 67h2"/><path stroke="#3ff" d="M17 67h2M51 67h2M6 68h2M62 68h2"/><path stroke="#400" d="M4 10h1M6 10h12M52 10h12M65 10h1M6 32h58M4 54h1M6 54h6M58 54h6M65 54h1"/><path stroke="#401" d="M5 32h1"/><path stroke="#405" d="M3 8h1"/><path stroke="#407" d="M0 7h1M0 30h2M1 52h1"/><path stroke="#409" d="M2 6h1M2 29h1M2 51h1"/><path stroke="#410" d="M64 32h1"/><path stroke="#450" d="M66 8h1"/><path stroke="#470" d="M69 7h1M68 30h2M68 52h1"/><path stroke="#48f" d="M67 68h1"/><path stroke="#490" d="M67 6h1M67 29h1M67 51h1"/><path stroke="#49f" d="M67 23h1M67 67h1M69 68h1"/><path stroke="#4af" d="M68 23h2M69 67h1M68 68h1"/><path stroke="#4bf" d="M68 67h1"/><path stroke="#4cf" d="M66 23h1"/><path stroke="#4df" d="M65 0h1M66 67h1"/><path stroke="#4ef" d="M51 1h1M6 67h9"/><path stroke="#4f8" d="M2 68h1"/><path stroke="#4f9" d="M2 23h1M2 67h1M0 68h1"/><path stroke="#4fa" d="M0 23h2M0 67h1M1 68h1"/><path stroke="#4fb" d="M1 67h1"/><path stroke="#4fc" d="M3 23h1"/><path stroke="#4fd" d="M4 0h1M3 67h1"/><path stroke="#4fe" d="M18 1h1M55 67h9"/><path stroke="#4ff" d="M4 23h62M23 66h24M4 67h2M64 67h2M4 68h2M64 68h2"/><path stroke="#500" d="M12 54h46"/><path stroke="#501" d="M5 10h1M5 54h1"/><path stroke="#505" d="M3 31h1M3 53h1"/><path stroke="#507" d="M0 8h2M1 31h1M0 52h1M1 53h1"/><path stroke="#508" d="M2 8h1"/><path stroke="#509" d="M2 7h1M2 30h1M2 52h1"/><path stroke="#510" d="M64 10h1M64 54h1"/><path stroke="#550" d="M66 31h1M66 53h1"/><path stroke="#55f" d="M67 43h1"/><path stroke="#56f" d="M67 66h1"/><path stroke="#570" d="M68 8h2M68 31h1M69 52h1M68 53h1"/><path stroke="#580" d="M67 8h1"/><path stroke="#590" d="M67 7h1M67 30h1M67 52h1"/><path stroke="#5df" d="M64 0h1"/><path stroke="#5ef" d="M50 1h1"/><path stroke="#5f5" d="M2 43h1"/><path stroke="#5f6" d="M2 66h1"/><path stroke="#5fd" d="M5 0h1"/><path stroke="#5fe" d="M19 1h1"/><path stroke="#5ff" d="M10 66h13M47 66h13M3 68h1M66 68h1"/><path stroke="#600" d="M23 11h24"/><path stroke="#604" d="M3 32h1M3 54h1"/><path stroke="#605" d="M3 10h1"/><path stroke="#606" d="M3 9h1"/><path stroke="#607" d="M1 9h1M0 31h1M0 53h1"/><path stroke="#608" d="M0 9h1M2 31h1M2 53h1"/><path stroke="#640" d="M66 32h1M66 54h1"/><path stroke="#650" d="M66 10h1"/><path stroke="#65f" d="M67 21h1"/><path stroke="#660" d="M66 9h1"/><path stroke="#670" d="M68 9h1M69 31h1M69 53h1"/><path stroke="#67f" d="M67 22h1M69 43h1M67 44h1"/><path stroke="#680" d="M69 9h1M67 31h1M67 53h1"/><path stroke="#68f" d="M69 22h1M69 66h1"/><path stroke="#69f" d="M68 66h1"/><path stroke="#6ef" d="M49 1h1M6 66h4"/><path stroke="#6f5" d="M2 21h1"/><path stroke="#6f7" d="M2 22h1M0 43h1M2 44h1"/><path stroke="#6f8" d="M0 22h1M0 66h1"/><path stroke="#6f9" d="M1 66h1"/><path stroke="#6fe" d="M20 1h1M60 66h4"/><path stroke="#6ff" d="M5 66h1M64 66h1"/><path stroke="#700" d="M6 11h17M47 11h17M6 33h58M5 55h3M62 55h3"/><path stroke="#701" d="M4 11h2M4 33h2M4 55h1"/><path stroke="#704" d="M3 33h1"/><path stroke="#709" d="M2 9h1"/><path stroke="#710" d="M64 11h2M64 33h2M65 55h1"/><path stroke="#740" d="M66 33h1"/><path stroke="#75f" d="M67 65h1"/><path stroke="#77f" d="M68 21h2M68 43h1"/><path stroke="#78f" d="M69 44h1"/><path stroke="#790" d="M67 9h1"/><path stroke="#79f" d="M68 22h1M68 44h1"/><path stroke="#7bf" d="M66 44h1"/><path stroke="#7df" d="M63 0h1"/><path stroke="#7ef" d="M48 1h1"/><path stroke="#7f5" d="M2 65h1"/><path stroke="#7f7" d="M0 21h2M1 43h1"/><path stroke="#7f8" d="M0 44h1"/><path stroke="#7f9" d="M1 22h1M1 44h1"/><path stroke="#7fb" d="M3 44h1"/><path stroke="#7fd" d="M6 0h1"/><path stroke="#7fe" d="M21 1h1"/><path stroke="#7ff" d="M4 66h1M65 66h1"/><path stroke="#800" d="M8 55h54"/><path stroke="#804" d="M3 11h1M3 55h1"/><path stroke="#806" d="M1 11h1M1 33h1M1 55h1"/><path stroke="#807" d="M1 10h1M0 33h1"/><path stroke="#808" d="M0 32h2M1 54h1"/><path stroke="#840" d="M66 11h1M66 55h1"/><path stroke="#860" d="M68 11h1M68 33h1M68 55h1"/><path stroke="#86f" d="M69 65h1"/><path stroke="#870" d="M68 10h1M69 33h1"/><path stroke="#87f" d="M68 65h1"/><path stroke="#880" d="M68 32h2M68 54h1"/><path stroke="#8bf" d="M66 22h1"/><path stroke="#8cf" d="M66 66h1"/><path stroke="#8df" d="M62 0h1"/><path stroke="#8ef" d="M46 1h2M64 22h2M64 44h2"/><path stroke="#8f6" d="M0 65h1"/><path stroke="#8f7" d="M1 65h1"/><path stroke="#8fb" d="M3 22h1"/><path stroke="#8fc" d="M3 66h1"/><path stroke="#8fd" d="M7 0h1"/><path stroke="#8fe" d="M22 1h2M4 22h2M4 44h2"/><path stroke="#8ff" d="M6 22h58M6 44h58"/><path stroke="#907" d="M0 11h1M0 55h1"/><path stroke="#908" d="M0 10h1M2 11h1M2 33h1M0 54h1M2 55h1"/><path stroke="#90a" d="M2 32h1"/><path stroke="#96f" d="M67 42h1"/><path stroke="#970" d="M69 11h1M69 55h1"/><path stroke="#97f" d="M67 20h1"/><path stroke="#980" d="M69 10h1M67 11h1M67 33h1M69 54h1M67 55h1"/><path stroke="#98f" d="M69 42h1"/><path stroke="#9a0" d="M67 32h1"/><path stroke="#9af" d="M66 21h1"/><path stroke="#9bf" d="M66 43h1"/><path stroke="#9f6" d="M2 42h1"/><path stroke="#9f7" d="M2 20h1"/><path stroke="#9f8" d="M0 42h1"/><path stroke="#9fa" d="M3 21h1"/><path stroke="#9fb" d="M3 43h1"/><path stroke="#9ff" d="M24 1h2M44 1h2M18 65h34"/><path stroke="#a00" d="M25 12h20"/><path stroke="#a0a" d="M2 10h1M2 54h1"/><path stroke="#a6f" d="M67 19h1M67 41h1"/><path stroke="#a7f" d="M67 64h1"/><path stroke="#a8f" d="M69 20h1M69 41h1M68 42h1M69 64h1"/><path stroke="#a9f" d="M68 20h1"/><path stroke="#aa0" d="M67 10h1M67 54h1"/><path stroke="#aaf" d="M66 20h1M66 42h1"/><path stroke="#abf" d="M66 65h1"/><path stroke="#adf" d="M61 0h1"/><path stroke="#aef" d="M64 43h1"/><path stroke="#af6" d="M2 19h1M2 41h1"/><path stroke="#af7" d="M2 64h1"/><path stroke="#af8" d="M0 20h1M0 41h1M1 42h1M0 64h1"/><path stroke="#af9" d="M1 20h1"/><path stroke="#afa" d="M3 20h1M3 42h1"/><path stroke="#afb" d="M3 65h1"/><path stroke="#afd" d="M8 0h1"/><path stroke="#afe" d="M5 43h1"/><path stroke="#aff" d="M26 1h2M42 1h2M12 65h6M52 65h6"/><path stroke="#b00" d="M9 12h16M45 12h16"/><path stroke="#b6f" d="M67 18h1M67 40h1M67 63h1"/><path stroke="#b8f" d="M68 19h2M69 63h1"/><path stroke="#b9f" d="M68 41h1M68 64h1"/><path stroke="#bbf" d="M66 64h1"/><path stroke="#bef" d="M60 0h1M64 21h1"/><path stroke="#bf6" d="M2 18h1M2 40h1M2 63h1"/><path stroke="#bf8" d="M0 19h2M0 63h1"/><path stroke="#bf9" d="M1 41h1M1 64h1"/><path stroke="#bfb" d="M3 64h1"/><path stroke="#bfe" d="M9 0h1M5 21h1"/><path stroke="#bff" d="M28 1h14M6 21h58M4 43h1M6 43h58M65 43h1M7 65h5M58 65h5"/><path stroke="#c00" d="M6 12h3M61 12h3M4 34h62M4 56h5M61 56h5"/><path stroke="#c01" d="M4 12h2"/><path stroke="#c02" d="M3 34h1M3 56h1"/><path stroke="#c03" d="M3 12h1"/><path stroke="#c04" d="M0 12h2M0 34h2M1 56h1"/><path stroke="#c05" d="M2 12h1M2 34h1M0 56h1"/><path stroke="#c06" d="M2 56h1"/><path stroke="#c10" d="M64 12h2"/><path stroke="#c20" d="M66 34h1M66 56h1"/><path stroke="#c30" d="M66 12h1"/><path stroke="#c40" d="M68 12h2M68 34h2M68 56h1"/><path stroke="#c50" d="M67 12h1M67 34h1M69 56h1"/><path stroke="#c60" d="M67 56h1"/><path stroke="#c6f" d="M67 17h1M67 39h1M67 62h1"/><path stroke="#c8f" d="M69 18h1M69 40h1M69 62h1M68 63h1"/><path stroke="#c9f" d="M68 18h1M68 40h1"/><path stroke="#cbf" d="M66 19h1M66 41h1"/><path stroke="#cef" d="M59 0h1"/><path stroke="#cf6" d="M2 17h1M2 39h1M2 62h1"/><path stroke="#cf8" d="M0 18h1M0 40h1M0 62h1M1 63h1"/><path stroke="#cf9" d="M1 18h1M1 40h1"/><path stroke="#cfb" d="M3 19h1M3 41h1"/><path stroke="#cfe" d="M10 0h1"/><path stroke="#cff" d="M4 21h1M65 21h1M26 64h18M5 65h2M63 65h2"/><path stroke="#d00" d="M9 56h22M39 56h22"/><path stroke="#d6f" d="M67 61h1"/><path stroke="#d8f" d="M68 17h2M68 39h2M69 61h1"/><path stroke="#d9f" d="M68 62h1"/><path stroke="#dbf" d="M66 63h1"/><path stroke="#def" d="M64 42h1"/><path stroke="#df6" d="M2 61h1"/><path stroke="#df8" d="M0 17h2M0 39h2M0 61h1"/><path stroke="#df9" d="M1 62h1"/><path stroke="#dfb" d="M3 63h1"/><path stroke="#dfe" d="M5 42h1"/><path stroke="#dff" d="M7 42h56M12 64h14M44 64h14M4 65h1M65 65h1"/><path stroke="#e00" d="M31 56h8"/><path stroke="#e8f" d="M68 61h1"/><path stroke="#ebf" d="M66 18h1M66 40h1M66 62h1"/><path stroke="#eef" d="M58 0h1M64 20h1"/><path stroke="#ef8" d="M1 61h1"/><path stroke="#efb" d="M3 18h1M3 40h1M3 62h1"/><path stroke="#efe" d="M11 0h1M5 20h1"/><path stroke="#eff" d="M4 20h1M6 20h58M65 20h1M4 42h1M6 42h1M63 42h1M65 42h1M5 64h7M58 64h7"/><path stroke="#f00" d="M0 13h70M0 35h70M0 57h70"/><path stroke="#f44" d="M14 14h42"/><path stroke="#f45" d="M11 14h3"/><path stroke="#f4c" d="M67 58h1"/><path stroke="#f54" d="M56 14h3"/><path stroke="#f55" d="M4 14h7M59 14h7M6 36h58"/><path stroke="#f56" d="M64 36h2M62 58h4"/><path stroke="#f59" d="M66 14h1M66 36h1M66 58h1"/><path stroke="#f5a" d="M68 58h1"/><path stroke="#f5b" d="M68 14h1M68 36h1M69 58h1"/><path stroke="#f5c" d="M69 14h1M69 36h1"/><path stroke="#f5d" d="M67 14h1M67 36h1"/><path stroke="#f65" d="M4 36h2M4 58h4"/><path stroke="#f66" d="M8 58h11M51 58h11"/><path stroke="#f67" d="M49 58h2"/><path stroke="#f6d" d="M69 59h1"/><path stroke="#f6e" d="M69 15h1M67 59h1"/><path stroke="#f6f" d="M67 15h1M67 16h1M67 37h1M67 38h1M67 60h1"/><path stroke="#f76" d="M19 58h2"/><path stroke="#f77" d="M21 58h28"/><path stroke="#f7c" d="M66 59h1"/><path stroke="#f7d" d="M68 15h1M68 37h1M68 59h1"/><path stroke="#f7e" d="M69 37h1"/><path stroke="#f7f" d="M69 16h1M69 38h1M69 60h1"/><path stroke="#f88" d="M7 15h1M9 15h52M62 15h1"/><path stroke="#f89" d="M8 15h1M64 15h1M64 59h1"/><path stroke="#f8c" d="M66 15h1M66 37h1"/><path stroke="#f8f" d="M68 16h1M68 38h1M68 60h1"/><path stroke="#f95" d="M3 14h1M3 36h1M3 58h1"/><path stroke="#f98" d="M5 15h1M61 15h1M5 59h1"/><path stroke="#f99" d="M4 15h1M6 15h1M63 15h1M65 15h1M5 37h60M4 59h1M6 59h15M49 59h15M65 59h1"/><path stroke="#f9a" d="M65 37h1M47 59h2"/><path stroke="#f9f" d="M66 60h1"/><path stroke="#fa5" d="M1 58h1"/><path stroke="#fa9" d="M4 37h1M21 59h2"/><path stroke="#faa" d="M23 59h24"/><path stroke="#faf" d="M66 16h1M66 38h1M66 61h1"/><path stroke="#fb5" d="M1 14h1M1 36h1M0 58h1"/><path stroke="#fbb" d="M20 16h30"/><path stroke="#fbc" d="M18 16h2M64 60h1"/><path stroke="#fbf" d="M66 17h1M66 39h1"/><path stroke="#fc4" d="M2 58h1"/><path stroke="#fc5" d="M0 14h1M0 36h1"/><path stroke="#fc7" d="M3 59h1"/><path stroke="#fc8" d="M3 15h1M3 37h1"/><path stroke="#fcb" d="M50 16h2M5 60h1"/><path stroke="#fcc" d="M4 16h14M52 16h14M6 38h58M4 60h1M6 60h11M53 60h11M65 60h1"/><path stroke="#fcd" d="M64 38h1M52 60h1"/><path stroke="#fd5" d="M2 14h1M2 36h1"/><path stroke="#fd6" d="M0 59h1"/><path stroke="#fd7" d="M1 15h1M1 37h1M1 59h1"/><path stroke="#fdc" d="M5 38h1M17 60h1"/><path stroke="#fdd" d="M4 38h1M65 38h1M18 60h34"/><path stroke="#fde" d="M64 61h1"/><path stroke="#fe6" d="M0 15h1M2 59h1"/><path stroke="#fe7" d="M0 37h1"/><path stroke="#fed" d="M5 61h1"/><path stroke="#fee" d="M25 0h20M5 17h60M6 39h58M4 61h1M6 61h10M54 61h10M65 61h1"/><path stroke="#fef" d="M56 0h2M64 39h1"/><path stroke="#ff6" d="M2 15h1M2 16h1M2 37h1M2 38h1M2 60h1"/><path stroke="#ff7" d="M0 16h1M0 38h1M0 60h1"/><path stroke="#ff8" d="M1 16h1M1 38h1M1 60h1"/><path stroke="#ff9" d="M3 60h1"/><path stroke="#ffa" d="M3 16h1M3 38h1M3 61h1"/><path stroke="#ffb" d="M3 17h1M3 39h1"/><path stroke="#ffe" d="M12 0h2M5 39h1"/><path stroke="#fff" d="M14 0h11M45 0h11M4 17h1M65 17h1M4 18h62M4 19h62M4 39h1M65 39h1M4 40h62M4 41h62M16 61h38M4 62h62M4 63h62M4 64h1M65 64h1"/></g></g></g>
<g fill="#aaa">
<rect x="924.8" y="95.4" width="9" height="304.5"/>
<rect x="1253.4" y="95.4" width="10" height="304.5"/>
<rect x="907.8" y="242.6" width="17.2" height="10.2"/>
<rect x="1262.8" y="242.6" width="17.2" height="10.2"/>
</g>
<rect x="941.65" y="95.55" width="303.70" height="303.60" fill="#808080" stroke="#000" stroke-width="2.5"/>
<g clip-path="url(#ct2)"><g filter="url(#bt2)"><g transform="translate(936.52 90.13) scale(4.49375 4.48906) translate(0 .5)" fill="none" stroke-width="1.04"><path stroke="#000" d="M45 4h11M46 5h2M53 5h2M4 6h13M46 6h9M4 7h17M47 7h7M4 8h1M14 8h9M48 8h6M19 9h5M48 9h5M21 10h4M49 10h3M23 11h4M24 12h4M25 13h4M26 14h3M27 15h3M28 16h3M29 17h2M30 18h2M30 19h2M31 20h2M31 21h2M32 22h2M32 23h2M33 24h2M33 25h2M4 26h1M33 26h3M4 27h5M34 27h3M6 28h5M34 28h8M65 28h1M8 29h5M34 29h32M10 30h5M33 30h3M40 30h26M12 31h5M31 31h4M14 32h5M29 32h5M16 33h7M27 33h5M19 34h11M24 35h2M38 49h11M4 50h6M34 50h19M4 51h6M31 51h8M48 51h8M4 52h1M6 52h1M30 52h5M52 52h6M28 53h4M55 53h5M27 54h3M57 54h4M26 55h3M58 55h4M26 56h2M59 56h4M25 57h1M60 57h4M25 58h2M61 58h3M24 59h2M62 59h2M24 60h2M62 60h3M24 61h2M63 61h3M23 62h2M63 62h3M23 63h2M63 63h3M23 64h2M64 64h2M23 65h2M64 65h2"/><path stroke="#001" d="M48 5h3M32 24h1M5 26h1M63 28h1M33 29h1M32 30h1M30 31h1M26 33h1M37 49h1M33 50h1M29 52h1M27 53h1M25 56h1M26 57h1M24 58h1M23 61h1M22 65h1"/><path stroke="#002" d="M44 4h1M32 29h1M26 54h1M24 57h1M23 60h1M22 63h1"/><path stroke="#003" d="M25 55h1M23 59h1"/><path stroke="#004" d="M44 3h1M3 6h1M3 25h1M3 26h1M31 29h1M3 50h1M24 56h1M23 58h1"/><path stroke="#005" d="M43 3h1M3 5h1M3 49h1M25 54h1"/><path stroke="#006" d="M3 4h1M31 28h1M24 55h1"/><path stroke="#007" d="M42 3h1M1 4h1M1 24h1M1 48h1M25 53h1M24 54h1"/><path stroke="#008" d="M0 4h1M0 24h1M30 28h1M0 48h1"/><path stroke="#009" d="M41 1h1M2 4h1M2 24h1M2 48h1"/><path stroke="#00a" d="M41 0h1M41 2h1M24 53h1"/><path stroke="#00b" d="M29 28h1"/><path stroke="#00f" d="M28 27h1M24 51h1M24 52h1M23 53h1M23 54h1M22 55h1M22 56h1M21 58h1M20 60h1M19 62h1M18 65h1M17 66h1M17 67h1M16 68h1M15 69h1"/><path stroke="#010" d="M51 5h2M17 6h1M21 7h1M23 8h1M24 9h1M25 10h1M29 14h1M30 15h1M31 17h1M32 18h1M32 19h1M33 20h1M33 21h1M34 22h1M34 23h1M35 24h1M35 25h1M36 26h1M11 28h1M42 28h1M64 28h1M13 29h1M15 30h1M17 31h1M19 32h1M49 49h1M10 50h1M53 50h1M56 51h1M58 52h1M60 53h1M61 54h1M62 55h1M63 56h1M64 57h1M64 58h1M64 59h2M65 60h1M25 62h1M25 63h1M25 65h1"/><path stroke="#011" d="M4 5h1M6 5h8M18 6h2M6 26h2M9 27h1M37 27h3M65 27h1M12 28h1M43 28h20M14 29h1M20 32h1M28 32h1M23 33h3M41 48h5M4 49h1M35 49h2M50 49h2M32 50h1M54 50h1M30 51h1M57 51h1M59 52h1"/><path stroke="#012" d="M5 5h1M31 30h1M29 31h1M27 32h1M5 49h1M28 52h1"/><path stroke="#013" d="M30 30h1M29 51h1M27 52h1"/><path stroke="#014" d="M26 53h1"/><path stroke="#016" d="M30 29h1M3 48h1M26 52h1"/><path stroke="#018" d="M25 52h1"/><path stroke="#019" d="M42 2h1M2 47h1"/><path stroke="#01f" d="M28 28h1"/><path stroke="#020" d="M26 10h1M27 11h1M28 12h1M29 13h1M31 16h1M34 21h1M35 23h1M36 25h1M63 55h1M64 56h1M65 57h1M65 58h1"/><path stroke="#021" d="M20 6h2M22 7h1M24 8h1M25 9h1M4 25h1M37 26h1M10 27h1M40 27h1M13 28h1M16 30h1M18 31h1M6 49h4M52 49h1M55 50h1M58 51h1M60 52h1M61 53h1M62 54h1"/><path stroke="#022" d="M14 5h3M8 26h1M11 27h1M41 27h2M62 27h3M21 32h1M38 48h3M46 48h3M34 49h1"/><path stroke="#023" d="M60 27h2M28 31h1M26 32h1M37 48h1M33 49h1M31 50h1"/><path stroke="#024" d="M45 3h1M30 50h1M28 51h1"/><path stroke="#025" d="M29 30h1"/><path stroke="#026" d="M3 24h1"/><path stroke="#028" d="M42 1h1M1 47h1"/><path stroke="#029" d="M0 23h1M0 47h1"/><path stroke="#02a" d="M2 23h1"/><path stroke="#030" d="M56 4h1M30 14h1M32 17h1M33 19h1M36 24h1M65 56h1"/><path stroke="#031" d="M23 7h1M15 29h1M17 30h1M10 49h1M62 53h1M63 54h1M64 55h1"/><path stroke="#032" d="M17 5h2M22 6h1M9 26h1M38 26h1M43 27h1M19 31h1M22 32h1M49 48h1M53 49h2M56 50h2M59 51h1M61 52h1"/><path stroke="#033" d="M47 3h1M19 5h1M5 25h2M44 27h3M57 27h3M25 32h1M50 48h1"/><path stroke="#034" d="M46 3h1M49 3h1M4 4h1M65 26h1M56 27h1M36 48h1"/><path stroke="#035" d="M48 3h1M27 31h1M35 48h1M32 49h1"/><path stroke="#036" d="M29 50h1M27 51h1"/><path stroke="#037" d="M43 1h1M28 30h1"/><path stroke="#038" d="M29 29h1M26 51h1"/><path stroke="#039" d="M42 0h1"/><path stroke="#03a" d="M2 3h1"/><path stroke="#03c" d="M25 51h1"/><path stroke="#03f" d="M16 67h1"/><path stroke="#040" d="M31 15h1M33 18h1M34 20h1M35 22h1M66 27h1M66 28h1M11 50h1M65 55h1"/><path stroke="#041" d="M24 7h1M25 8h1M26 9h1M27 10h1M28 11h1M37 25h1M64 54h1"/><path stroke="#042" d="M55 3h1M23 6h1M12 27h1M14 28h1M16 29h1M60 51h1M63 53h1"/><path stroke="#043" d="M53 3h2M20 5h2M7 25h1M10 26h1M39 26h2M47 27h1M23 32h1M51 48h1M55 49h1"/><path stroke="#044" d="M5 4h9M63 26h1M48 27h8M24 32h1M4 48h4"/><path stroke="#045" d="M50 3h1M62 26h1M42 47h1"/><path stroke="#046" d="M34 48h1M31 49h1"/><path stroke="#047" d="M44 1h1M30 49h1M28 50h1"/><path stroke="#048" d="M43 0h1M3 47h1"/><path stroke="#049" d="M1 23h1"/><path stroke="#04a" d="M0 3h2"/><path stroke="#04f" d="M25 50h1"/><path stroke="#050" d="M56 3h1M30 13h1M32 16h1M35 21h1M36 23h1M66 26h1M11 49h1"/><path stroke="#051" d="M29 12h1"/><path stroke="#052" d="M18 30h1M62 52h1"/><path stroke="#053" d="M51 3h2M22 5h1M11 26h1M13 27h1M15 28h1M20 31h1M58 50h1"/><path stroke="#054" d="M14 4h3M8 25h1M41 26h2M64 26h1M8 48h2M52 48h1M56 49h1"/><path stroke="#055" d="M48 1h1M17 4h1M61 26h1M39 47h3M43 47h5"/><path stroke="#056" d="M48 0h1M45 1h1M59 26h2M26 31h1M37 47h2"/><path stroke="#057" d="M44 0h1M33 48h1"/><path stroke="#058" d="M27 30h1M32 48h1"/><path stroke="#059" d="M43 2h1M29 49h1M27 50h1"/><path stroke="#05a" d="M28 29h1"/><path stroke="#05e" d="M26 50h1"/><path stroke="#060" d="M31 14h1M33 17h1M34 19h1M36 22h1"/><path stroke="#061" d="M25 7h1M26 8h1M27 9h1M28 10h1M37 24h1"/><path stroke="#062" d="M24 6h1M64 53h1M65 54h1"/><path stroke="#063" d="M23 5h1M38 25h1M66 25h1M17 29h1M10 48h1M59 50h1M61 51h1M63 52h1"/><path stroke="#064" d="M21 31h1M53 48h1M57 49h1"/><path stroke="#065" d="M18 4h2M9 25h1M43 26h2M48 47h2"/><path stroke="#066" d="M46 1h1M50 1h1M53 1h2M4 24h2M45 26h1M58 26h1M22 31h1"/><path stroke="#067" d="M45 0h1M47 1h1M49 1h1M56 26h2M25 31h1M4 47h1M36 47h1"/><path stroke="#068" d="M49 0h1M35 47h1"/><path stroke="#069" d="M44 2h1M3 3h1"/><path stroke="#06a" d="M31 48h1"/><path stroke="#06c" d="M2 46h1"/><path stroke="#06d" d="M28 49h1"/><path stroke="#06f" d="M27 28h1M27 29h1"/><path stroke="#070" d="M57 3h1M35 20h1M68 26h1"/><path stroke="#071" d="M29 11h1M30 12h1M32 15h1M37 23h1"/><path stroke="#072" d="M65 53h1"/><path stroke="#073" d="M16 28h1"/><path stroke="#074" d="M56 1h1M39 25h1M12 26h1M14 27h1M19 30h1M60 50h1M62 51h1"/><path stroke="#075" d="M52 1h1M55 1h1M20 4h1M10 25h1M40 25h1M54 48h1"/><path stroke="#076" d="M51 0h3M55 0h1M51 1h1M21 4h1M6 24h2M46 26h1M50 47h2M55 48h1"/><path stroke="#077" d="M46 0h2M50 0h1M54 0h1M64 25h2M47 26h9M23 31h2M6 47h2"/><path stroke="#078" d="M48 2h1M61 25h3M5 47h1"/><path stroke="#07a" d="M3 23h1M34 47h1"/><path stroke="#07b" d="M0 2h1M26 30h1"/><path stroke="#07c" d="M2 2h1M0 46h1"/><path stroke="#07d" d="M30 48h1"/><path stroke="#07f" d="M27 49h1"/><path stroke="#080" d="M34 18h1M36 21h1M69 26h1M12 49h1M66 55h1"/><path stroke="#081" d="M27 8h1M28 9h1M31 13h1M33 16h1M69 25h1"/><path stroke="#082" d="M57 0h1M57 1h1M25 6h1M26 7h1M68 25h1"/><path stroke="#083" d="M24 5h1M38 24h1M11 48h1M64 52h1"/><path stroke="#084" d="M15 27h1M17 28h1M18 29h1M63 51h1"/><path stroke="#085" d="M56 0h1M22 4h1M13 26h1M20 30h1M58 49h1M61 50h1"/><path stroke="#086" d="M11 25h1M41 25h1M9 47h1M52 47h1M56 48h1M59 49h1"/><path stroke="#087" d="M8 24h1M42 25h1M8 47h1"/><path stroke="#088" d="M40 46h7"/><path stroke="#089" d="M45 2h3M49 2h1M59 25h2M39 46h1"/><path stroke="#08a" d="M58 25h1M38 46h1"/><path stroke="#08b" d="M1 2h1"/><path stroke="#08c" d="M1 46h1M33 47h1"/><path stroke="#08f" d="M26 49h1"/><path stroke="#090" d="M67 26h1M66 54h1"/><path stroke="#091" d="M32 14h1M35 19h1M37 22h1M67 25h1"/><path stroke="#092" d="M29 10h1M67 24h1"/><path stroke="#093" d="M57 2h1M69 24h1"/><path stroke="#094" d="M23 4h1M68 24h1M65 52h1"/><path stroke="#095" d="M39 24h1"/><path stroke="#096" d="M56 2h1M10 47h1M60 49h1M62 50h1"/><path stroke="#097" d="M55 2h1M66 24h1M53 47h1M57 48h1"/><path stroke="#098" d="M50 2h5M43 25h2M47 46h2"/><path stroke="#099" d="M4 3h9"/><path stroke="#09a" d="M64 24h1M57 25h1"/><path stroke="#09b" d="M3 2h1M63 24h1M37 46h1"/><path stroke="#09c" d="M3 46h1"/><path stroke="#09d" d="M0 1h1M2 1h1M36 46h1"/><path stroke="#09f" d="M26 29h1M32 47h1M28 48h2"/><path stroke="#0a0" d="M34 17h1M68 54h1M68 55h1M69 56h1M69 57h1"/><path stroke="#0a1" d="M36 20h1M66 53h1"/><path stroke="#0a2" d="M25 5h1M26 6h1M27 7h1M30 11h1M12 48h1M69 55h1"/><path stroke="#0a3" d="M24 4h1M38 23h1"/><path stroke="#0a5" d="M14 26h1M16 27h1M19 29h1M64 51h1"/><path stroke="#0a6" d="M12 25h1"/><path stroke="#0a7" d="M9 24h1M40 24h1"/><path stroke="#0a8" d="M49 46h1M54 47h1"/><path stroke="#0a9" d="M13 3h6M45 25h1"/><path stroke="#0ab" d="M65 24h1M56 25h1"/><path stroke="#0ac" d="M62 24h1M55 25h1"/><path stroke="#0ad" d="M1 1h1M61 24h1M25 30h1"/><path stroke="#0af" d="M30 47h2"/><path stroke="#0b0" d="M58 0h1M58 1h1M58 2h1M67 53h1M67 54h1"/><path stroke="#0b2" d="M28 8h1M68 53h1"/><path stroke="#0b3" d="M66 52h1M69 54h1"/><path stroke="#0b5" d="M65 51h1"/><path stroke="#0b6" d="M63 50h1"/><path stroke="#0b7" d="M21 30h1M58 48h1M61 49h1"/><path stroke="#0b8" d="M23 3h1"/><path stroke="#0b9" d="M22 3h1M5 23h1M46 25h1M50 46h1"/><path stroke="#0ba" d="M19 3h3"/><path stroke="#0bb" d="M4 2h13"/><path stroke="#0bd" d="M3 1h1M54 25h1"/><path stroke="#0be" d="M60 24h1"/><path stroke="#0bf" d="M66 22h1M33 46h3"/><path stroke="#0c1" d="M31 12h1"/><path stroke="#0c2" d="M37 21h1M67 52h1"/><path stroke="#0c3" d="M25 4h1"/><path stroke="#0c4" d="M66 51h1M68 52h1"/><path stroke="#0c5" d="M18 28h1M69 53h1"/><path stroke="#0c6" d="M24 3h1"/><path stroke="#0c7" d="M64 50h1"/><path stroke="#0c8" d="M69 23h1M10 24h1M55 47h1"/><path stroke="#0c9" d="M41 24h1"/><path stroke="#0ca" d="M6 23h1M47 25h1M51 46h1"/><path stroke="#0cb" d="M17 2h4M4 23h1M6 46h1"/><path stroke="#0cc" d="M4 46h2"/><path stroke="#0cd" d="M4 1h5M53 25h1"/><path stroke="#0cf" d="M67 22h1M65 23h1M59 24h1M25 29h1"/><path stroke="#0d0" d="M33 15h1M35 18h1"/><path stroke="#0d2" d="M26 5h1M29 9h1"/><path stroke="#0d6" d="M15 26h1M11 47h1"/><path stroke="#0d7" d="M13 25h1"/><path stroke="#0d8" d="M59 48h1M62 49h1"/><path stroke="#0d9" d="M22 30h1"/><path stroke="#0da" d="M23 2h1M42 24h1"/><path stroke="#0db" d="M21 2h2M68 23h1M48 25h1M7 46h2"/><path stroke="#0dc" d="M9 1h6M49 25h1"/><path stroke="#0dd" d="M15 1h1M50 25h1M52 25h1"/><path stroke="#0df" d="M60 23h1M62 23h3M58 24h1M36 45h1"/><path stroke="#0e1" d="M27 6h1"/><path stroke="#0e2" d="M38 22h1"/><path stroke="#0e4" d="M67 51h1"/><path stroke="#0e5" d="M39 23h1"/><path stroke="#0e7" d="M65 50h1"/><path stroke="#0e8" d="M24 2h1M69 52h1"/><path stroke="#0e9" d="M11 24h1"/><path stroke="#0ea" d="M56 47h1"/><path stroke="#0eb" d="M7 23h1M52 46h1"/><path stroke="#0ed" d="M16 1h2"/><path stroke="#0ee" d="M51 25h1"/><path stroke="#0ef" d="M61 23h1M56 24h2M24 30h1M37 45h7"/><path stroke="#0f0" d="M25 1h1M25 2h1M26 3h1M27 5h1M29 8h1M30 9h1M30 10h1M31 11h1M32 12h1M32 13h1M33 14h1M34 15h1M34 16h1M35 17h1M36 18h1M36 19h1M37 20h1M13 48h2"/><path stroke="#0f1" d="M26 4h2M28 6h1M28 7h1M31 10h1M33 13h1M38 21h1M32 67h1"/><path stroke="#0f2" d="M35 16h1"/><path stroke="#0f3" d="M29 7h1M37 19h1"/><path stroke="#0f4" d="M25 3h1"/><path stroke="#0f5" d="M39 22h1M12 47h2"/><path stroke="#0f6" d="M17 27h2M19 28h1"/><path stroke="#0f7" d="M16 26h1M20 29h1M66 50h1M68 51h1"/><path stroke="#0f8" d="M24 1h1M14 25h2M17 26h1M20 28h1"/><path stroke="#0f9" d="M40 23h1M12 24h2M11 46h1M63 49h1"/><path stroke="#0fa" d="M21 29h1M10 46h1M60 48h2M64 49h2"/><path stroke="#0fb" d="M8 23h1M41 23h1M9 46h1M57 47h2M62 48h1M67 50h1"/><path stroke="#0fc" d="M23 1h1M9 23h3M42 23h1M67 23h1M43 24h1M53 46h2M59 47h1"/><path stroke="#0fd" d="M18 1h2M44 24h1M22 29h1M23 30h1M52 45h1M55 46h2"/><path stroke="#0fe" d="M20 1h3M6 22h2M45 24h2M8 45h1M44 45h8M69 51h1"/><path stroke="#0ff" d="M0 22h6M68 22h2M66 23h1M47 24h4M53 24h3M0 45h8"/><path stroke="#100" d="M5 8h9M47 8h1M16 9h3M20 10h1M52 10h1M22 11h1M50 11h2M4 28h2M4 29h1M6 29h2M8 30h2M36 30h4M11 31h1M35 31h1M46 31h18M65 31h1M13 32h1M15 33h1M32 33h1M17 34h2M30 34h1M20 35h4M26 35h2M39 51h9M5 52h1M7 52h2M35 52h3M49 52h3M4 53h1M32 53h2M53 53h2M30 54h1M56 54h1M29 55h1M27 57h1"/><path stroke="#101" d="M45 5h1M46 7h1M48 10h1M23 12h1M24 13h1M27 16h1M28 17h1M29 18h1M29 19h1M30 20h1M31 22h1M32 25h1M33 27h1M55 54h1M57 55h1M58 56h1M59 57h1M60 58h1M61 59h1M61 60h1M62 61h1M62 62h1M22 64h1M63 64h1M63 65h1"/><path stroke="#102" d="M45 6h1M31 23h1M32 26h1M33 28h1M62 63h1"/><path stroke="#103" d="M32 28h1M22 62h1M21 65h1"/><path stroke="#104" d="M22 61h1M21 64h1"/><path stroke="#105" d="M22 60h1M21 63h1"/><path stroke="#106" d="M1 6h1M23 57h1M22 59h1M21 62h1M20 65h1"/><path stroke="#107" d="M1 25h1M1 49h1M23 56h1"/><path stroke="#109" d="M2 25h1"/><path stroke="#10a" d="M23 55h1"/><path stroke="#10d" d="M21 59h1"/><path stroke="#10f" d="M23 52h1M21 57h1M20 61h1M19 63h1M18 64h1"/><path stroke="#110" d="M54 7h1M53 9h1M34 32h1M10 51h1M9 52h1M31 54h1M30 55h1M28 56h1M28 57h1M27 58h1M26 59h1M26 60h1M26 61h1M25 64h1"/><path stroke="#11f" d="M17 65h1"/><path stroke="#120" d="M55 5h1M55 6h1M54 8h1M27 59h1M26 62h1M26 63h1"/><path stroke="#170" d="M68 27h1"/><path stroke="#180" d="M66 56h1"/><path stroke="#190" d="M68 56h1M69 58h1M69 59h1"/><path stroke="#1bf" d="M32 46h1"/><path stroke="#1d0" d="M13 49h1"/><path stroke="#1df" d="M65 22h1"/><path stroke="#1f0" d="M32 68h1"/><path stroke="#1f3" d="M24 0h1"/><path stroke="#1fb" d="M63 48h1"/><path stroke="#1fc" d="M60 47h1"/><path stroke="#1fd" d="M15 0h1M43 23h1M9 45h1"/><path stroke="#1fe" d="M0 0h3M12 0h3"/><path stroke="#1ff" d="M3 0h9M51 24h2M68 50h1"/><path stroke="#200" d="M14 9h2M39 31h7M22 36h3M38 52h5M44 52h5M5 53h3"/><path stroke="#201" d="M47 9h1M18 10h2M21 11h1M49 11h1M22 12h1M25 14h1M26 15h1M5 29h1M7 30h1M10 31h1M12 32h1M14 33h1M16 34h1M18 35h2M51 53h2M54 54h1M56 55h1"/><path stroke="#202" d="M46 8h1M28 18h1M30 21h1M59 58h1M60 59h1M61 61h1M62 64h1"/><path stroke="#203" d="M44 5h1M31 24h1M32 27h1M61 62h1"/><path stroke="#204" d="M3 27h1M3 51h1"/><path stroke="#206" d="M1 26h1M1 50h1"/><path stroke="#207" d="M0 5h2M0 6h1M0 25h1M0 26h1M0 49h1M21 61h1"/><path stroke="#208" d="M22 58h1M20 63h1M20 64h1"/><path stroke="#209" d="M2 49h1"/><path stroke="#20a" d="M21 60h1M19 65h1"/><path stroke="#20b" d="M22 57h1M20 62h1"/><path stroke="#20c" d="M19 64h1"/><path stroke="#20f" d="M22 54h1M20 59h1M19 61h1"/><path stroke="#210" d="M52 11h1M36 31h1M64 31h1M33 33h1M31 34h1M28 35h1M34 53h2M32 54h1M29 56h1"/><path stroke="#220" d="M53 10h1M10 52h1M28 58h1M27 60h1M26 64h1"/><path stroke="#22f" d="M55 68h1"/><path stroke="#230" d="M55 7h1M27 61h1M27 62h1M26 65h1"/><path stroke="#23f" d="M55 67h1"/><path stroke="#240" d="M66 29h1M11 51h1M27 63h1"/><path stroke="#250" d="M66 63h1"/><path stroke="#260" d="M68 28h1M66 60h1M66 61h1M66 62h1"/><path stroke="#26f" d="M24 50h1M15 68h1"/><path stroke="#270" d="M69 27h1M69 28h1M66 57h1M66 58h1M66 59h1"/><path stroke="#290" d="M67 27h1M68 57h1M68 58h1M68 59h1M69 60h1M69 61h1M69 62h1"/><path stroke="#2a0" d="M67 55h1"/><path stroke="#2c0" d="M58 3h1"/><path stroke="#2cf" d="M35 45h1"/><path stroke="#2df" d="M64 22h1M58 23h2"/><path stroke="#2f1" d="M33 69h1"/><path stroke="#2f3" d="M32 11h1"/><path stroke="#2f4" d="M30 8h1"/><path stroke="#2f5" d="M38 20h1"/><path stroke="#2f8" d="M19 27h1"/><path stroke="#2f9" d="M40 22h1M14 24h1M16 25h1M12 46h1"/><path stroke="#2fc" d="M17 0h1M57 46h1"/><path stroke="#2fd" d="M16 0h1M8 22h1M53 45h1M66 49h1"/><path stroke="#2ff" d="M23 29h2M41 44h6"/><path stroke="#300" d="M4 9h1M6 9h1M9 9h5M38 31h1M54 32h10M65 32h1M25 36h1M43 52h1M4 54h1M65 66h1"/><path stroke="#301" d="M17 10h1M20 11h1M6 30h1M9 31h1M11 32h1M13 33h1M20 36h2M49 53h2M53 54h1"/><path stroke="#302" d="M47 10h1M48 11h1M23 13h1M24 14h1M25 15h1M55 55h1M57 56h1M58 57h1"/><path stroke="#303" d="M45 7h1M46 9h1M26 16h1M27 17h1M29 20h1M30 22h1M60 60h1M61 63h1M62 65h1"/><path stroke="#304" d="M44 6h1M31 25h1M60 61h1M61 64h1"/><path stroke="#305" d="M43 4h1M31 26h1"/><path stroke="#306" d="M31 27h1M1 51h1"/><path stroke="#307" d="M0 50h1M0 51h1"/><path stroke="#309" d="M2 5h1M2 6h1M2 50h1"/><path stroke="#30d" d="M29 27h1M18 66h1"/><path stroke="#30e" d="M40 0h1"/><path stroke="#310" d="M37 31h1M35 32h1M29 35h1M26 36h1M8 53h2M36 53h2M33 54h1M24 66h1"/><path stroke="#31f" d="M18 63h1"/><path stroke="#320" d="M31 55h1M30 56h1M29 57h1"/><path stroke="#32f" d="M55 69h1"/><path stroke="#330" d="M54 9h1M28 59h1"/><path stroke="#340" d="M56 5h1M55 8h1M28 60h1M27 64h1"/><path stroke="#34f" d="M54 69h1"/><path stroke="#350" d="M56 6h1M66 64h1M27 65h1M66 65h1"/><path stroke="#35f" d="M14 69h1"/><path stroke="#360" d="M68 29h1"/><path stroke="#370" d="M12 50h1"/><path stroke="#380" d="M68 60h1M68 61h1M68 62h1M68 63h1M69 65h1"/><path stroke="#390" d="M67 28h1M69 63h1M69 64h1"/><path stroke="#39f" d="M69 21h1M25 49h1"/><path stroke="#3a0" d="M67 56h1M67 57h1M67 58h1M67 59h1"/><path stroke="#3af" d="M27 48h1"/><path stroke="#3bf" d="M29 47h1"/><path stroke="#3df" d="M63 22h1"/><path stroke="#3ef" d="M40 44h1"/><path stroke="#3f3" d="M28 5h1M32 66h1"/><path stroke="#3f4" d="M34 14h1"/><path stroke="#3f5" d="M36 17h1M33 68h1"/><path stroke="#3f7" d="M39 21h1"/><path stroke="#3fb" d="M12 23h1M64 48h1"/><path stroke="#3fc" d="M18 0h1M10 45h1M58 46h1M61 47h1"/><path stroke="#3fd" d="M9 22h1M44 23h1"/><path stroke="#3fe" d="M47 44h2"/><path stroke="#3ff" d="M69 50h1"/><path stroke="#400" d="M7 9h2M50 12h2M47 32h7M5 54h2"/><path stroke="#401" d="M5 9h1M16 10h1M4 30h2M8 31h1M15 34h1M17 35h1M47 53h2M52 54h1M22 66h2"/><path stroke="#402" d="M19 11h1M21 12h1M10 32h1M54 55h1M56 56h1"/><path stroke="#403" d="M22 13h1M57 57h1"/><path stroke="#404" d="M3 7h1M45 8h1M28 19h1M3 52h1M58 58h1M59 59h1M60 62h1"/><path stroke="#405" d="M3 8h1M30 23h1M60 63h1M61 65h1"/><path stroke="#406" d="M43 5h1M1 8h1"/><path stroke="#407" d="M1 27h1"/><path stroke="#409" d="M2 26h1M2 27h1M30 27h1M2 51h1"/><path stroke="#40b" d="M41 3h1"/><path stroke="#40f" d="M56 68h1"/><path stroke="#410" d="M64 32h1M30 35h1M27 36h1M38 53h2M7 54h1M34 54h1"/><path stroke="#41f" d="M21 56h1M56 67h1"/><path stroke="#420" d="M36 32h1M34 33h1M32 34h1M32 55h1"/><path stroke="#430" d="M53 11h1M10 53h1"/><path stroke="#43f" d="M27 27h1"/><path stroke="#440" d="M54 10h1M66 30h1M29 58h1"/><path stroke="#44f" d="M23 51h1"/><path stroke="#450" d="M28 61h1M28 62h1"/><path stroke="#45f" d="M54 66h1"/><path stroke="#460" d="M56 7h1M28 63h1M28 65h1"/><path stroke="#470" d="M57 4h1M69 29h1M28 64h1M68 65h1"/><path stroke="#47f" d="M67 21h1M16 66h1M13 69h1"/><path stroke="#480" d="M68 64h1"/><path stroke="#48f" d="M68 21h1"/><path stroke="#490" d="M67 29h1M67 61h1M67 62h1M67 63h1M67 65h1"/><path stroke="#49f" d="M14 68h1"/><path stroke="#4a0" d="M67 60h1"/><path stroke="#4af" d="M14 67h2"/><path stroke="#4bf" d="M31 46h1"/><path stroke="#4cf" d="M34 45h1"/><path stroke="#4df" d="M62 22h1M57 23h1M38 44h1"/><path stroke="#4ef" d="M39 44h1"/><path stroke="#4f5" d="M33 66h1"/><path stroke="#4f6" d="M34 69h1"/><path stroke="#4f8" d="M35 69h1"/><path stroke="#4f9" d="M0 21h1M18 26h1M34 67h1"/><path stroke="#4fb" d="M41 22h1M35 67h1"/><path stroke="#4fc" d="M19 0h1M62 47h1M65 48h1"/><path stroke="#4fd" d="M20 0h1M45 23h1M49 44h1M54 45h1"/><path stroke="#4ff" d="M22 0h2M67 49h1"/><path stroke="#500" d="M41 32h6M22 37h1M40 53h7"/><path stroke="#501" d="M14 10h2M49 12h1M7 31h1M19 36h1M51 54h1M64 66h1"/><path stroke="#502" d="M18 11h1M20 12h1M12 33h1M14 34h1M16 35h1M63 66h1"/><path stroke="#503" d="M23 14h1"/><path stroke="#504" d="M46 10h1M26 17h1M27 18h1M3 54h1M21 66h1"/><path stroke="#505" d="M44 7h1M29 21h1M3 28h1M3 53h1M59 60h1"/><path stroke="#506" d="M30 24h1M59 61h1M60 64h1"/><path stroke="#507" d="M0 7h2M0 8h1M30 25h1M0 27h1M0 28h2M0 52h2M1 53h1M60 65h1"/><path stroke="#508" d="M2 8h1M30 26h1M19 66h1"/><path stroke="#50d" d="M17 68h1"/><path stroke="#50e" d="M40 1h1"/><path stroke="#50f" d="M16 69h1"/><path stroke="#510" d="M28 36h1M8 54h1M35 54h1"/><path stroke="#520" d="M52 12h1M33 34h1M33 55h1M25 66h1"/><path stroke="#530" d="M31 56h1M26 66h1"/><path stroke="#53f" d="M20 58h1"/><path stroke="#540" d="M30 57h1"/><path stroke="#54f" d="M67 19h1M17 64h1M55 66h1"/><path stroke="#550" d="M66 31h1M11 52h1"/><path stroke="#560" d="M29 59h1"/><path stroke="#56f" d="M67 20h1"/><path stroke="#570" d="M57 5h1M68 30h2M68 31h1M12 51h1"/><path stroke="#57f" d="M54 68h1M53 69h1"/><path stroke="#590" d="M67 64h1M29 65h1"/><path stroke="#59f" d="M69 20h1M26 28h1M15 66h1M54 67h1M53 68h1M12 69h1M52 69h1"/><path stroke="#5af" d="M66 21h1M69 49h1M53 67h1M11 69h1M51 69h1"/><path stroke="#5bf" d="M52 67h1M13 68h1"/><path stroke="#5c0" d="M13 50h1"/><path stroke="#5cf" d="M13 67h1M51 67h1M12 68h1"/><path stroke="#5df" d="M61 22h1M56 23h1M11 67h2M48 67h3"/><path stroke="#5ef" d="M8 67h3"/><path stroke="#5f0" d="M14 49h1M31 66h1M31 67h1M32 69h1"/><path stroke="#5f2" d="M26 2h1"/><path stroke="#5f5" d="M28 4h1M29 6h1M2 20h1"/><path stroke="#5f6" d="M31 9h1M33 12h1"/><path stroke="#5f7" d="M37 18h1M2 21h1M2 44h1M2 68h1"/><path stroke="#5f8" d="M2 67h1M33 67h1M2 69h1"/><path stroke="#5f9" d="M0 44h2M0 67h1M34 68h1M0 69h1M36 69h1"/><path stroke="#5fa" d="M1 21h1M3 21h1M15 24h1M21 28h1M1 67h1M35 68h1M1 69h1"/><path stroke="#5fb" d="M13 23h1M3 44h1M11 45h1M36 68h1"/><path stroke="#5fc" d="M10 22h1M59 46h1M63 47h1M36 67h1"/><path stroke="#5fd" d="M4 21h1M46 23h1M50 44h1M55 45h1M37 67h2"/><path stroke="#5fe" d="M4 44h2"/><path stroke="#5ff" d="M21 0h1M66 48h1M68 49h1M4 67h1"/><path stroke="#600" d="M11 10h1M38 32h3M56 33h8M23 37h2M4 55h2M23 68h1M65 68h1"/><path stroke="#601" d="M4 10h1M12 10h2M6 31h1M21 37h1M49 54h2M22 68h1"/><path stroke="#602" d="M17 11h1M9 32h1M11 33h1M18 36h1M53 55h1"/><path stroke="#603" d="M47 11h1M48 12h1M21 13h1M3 55h1M55 56h1M62 66h1"/><path stroke="#604" d="M24 15h1M25 16h1M56 57h1M20 68h1"/><path stroke="#605" d="M3 9h1M45 9h1M57 58h1M58 59h1"/><path stroke="#606" d="M28 20h1M29 22h1M3 29h1"/><path stroke="#607" d="M43 6h1M1 29h1M0 53h1M59 62h1M20 66h1"/><path stroke="#608" d="M42 4h1M2 53h1M59 63h1M59 64h1"/><path stroke="#609" d="M2 7h1M2 28h1M2 52h1M59 65h1"/><path stroke="#60f" d="M56 69h1"/><path stroke="#610" d="M37 32h1M65 33h1M25 37h2M36 54h2"/><path stroke="#61f" d="M56 66h1"/><path stroke="#620" d="M35 33h1M31 35h1M29 36h1M9 54h1"/><path stroke="#640" d="M32 56h1"/><path stroke="#64f" d="M19 60h1"/><path stroke="#650" d="M66 32h1M27 66h1"/><path stroke="#65f" d="M22 53h1M18 62h1"/><path stroke="#660" d="M55 9h1M30 58h1"/><path stroke="#66f" d="M67 46h1"/><path stroke="#670" d="M56 8h1M69 31h1M29 60h1"/><path stroke="#67f" d="M68 19h2M23 50h1M17 63h1M16 65h1"/><path stroke="#680" d="M57 6h1M67 31h1M29 61h1M29 62h1"/><path stroke="#68f" d="M67 47h1"/><path stroke="#690" d="M67 30h1M29 63h1M29 64h1"/><path stroke="#69f" d="M68 20h1M24 49h1"/><path stroke="#6af" d="M67 48h1M69 48h1M52 68h1M50 69h1"/><path stroke="#6bf" d="M28 47h1M26 48h1M68 48h1M14 66h1M51 68h1M10 69h1"/><path stroke="#6cf" d="M33 45h1M47 67h1M11 68h1M49 68h2M8 69h2"/><path stroke="#6d0" d="M30 65h1"/><path stroke="#6df" d="M64 21h2M60 22h1M55 23h1M37 44h1M46 67h1M9 68h2M6 69h2"/><path stroke="#6ef" d="M54 23h1M6 67h2M44 67h2M5 69h1"/><path stroke="#6f0" d="M31 65h1M31 68h1"/><path stroke="#6f4" d="M27 3h1"/><path stroke="#6f5" d="M2 42h1M2 66h1"/><path stroke="#6f6" d="M29 5h1M30 7h1M2 43h1"/><path stroke="#6f7" d="M35 15h1M38 19h1M0 20h1"/><path stroke="#6f8" d="M39 20h1M0 43h1M14 47h1M0 68h1"/><path stroke="#6f9" d="M13 46h1M34 66h1M1 68h1"/><path stroke="#6fa" d="M40 21h1M17 25h1M37 69h1"/><path stroke="#6fb" d="M37 68h2M38 69h1"/><path stroke="#6fc" d="M11 22h1M42 22h1M64 47h1M3 67h1M39 67h1M3 69h1"/><path stroke="#6fd" d="M5 21h1M47 23h1M51 44h1M56 45h1M60 46h1M40 67h1"/><path stroke="#6fe" d="M48 23h1M6 44h2M41 67h2"/><path stroke="#6ff" d="M5 67h1M4 69h1"/><path stroke="#700" d="M6 10h5M50 13h1M50 33h6M23 69h1M65 69h1"/><path stroke="#701" d="M5 10h1M48 33h2M47 54h2M64 68h1M22 69h1M64 69h1"/><path stroke="#702" d="M16 11h1M4 31h2M8 32h1M20 37h1M52 55h1M63 68h1M21 69h1M63 69h1"/><path stroke="#703" d="M19 12h1M10 33h1M13 34h1M15 35h1M17 36h1M21 68h1M62 68h1"/><path stroke="#704" d="M3 10h1M22 14h1M54 56h1"/><path stroke="#705" d="M3 30h1M61 66h1"/><path stroke="#707" d="M44 8h1M27 19h1M1 54h1M58 60h1"/><path stroke="#708" d="M43 7h1M29 23h1M0 29h1"/><path stroke="#709" d="M42 5h1M2 29h1"/><path stroke="#70b" d="M58 65h1"/><path stroke="#70e" d="M57 68h1"/><path stroke="#70f" d="M40 2h1"/><path stroke="#710" d="M51 13h1M64 33h1M38 54h2M6 55h2M24 68h1M24 69h1"/><path stroke="#720" d="M27 37h1M25 68h1M25 69h1"/><path stroke="#730" d="M36 33h1M34 34h1M32 35h1M30 36h1M34 55h1M26 68h1M26 69h1"/><path stroke="#740" d="M53 12h1M66 33h1M66 68h1"/><path stroke="#750" d="M54 11h1M10 54h1M31 57h1M66 66h1"/><path stroke="#75f" d="M67 45h1M21 55h1"/><path stroke="#760" d="M55 10h1M11 53h1"/><path stroke="#77f" d="M69 18h1M69 46h1M18 61h1"/><path stroke="#780" d="M12 52h1"/><path stroke="#78f" d="M69 47h1M16 64h1"/><path stroke="#790" d="M57 7h1"/><path stroke="#79f" d="M26 27h1M53 66h1"/><path stroke="#7af" d="M66 20h1M68 47h1"/><path stroke="#7bf" d="M25 28h1M52 66h1M49 69h1"/><path stroke="#7c0" d="M58 4h1M30 66h1"/><path stroke="#7cf" d="M30 46h1M13 66h1M51 66h1M48 68h1M48 69h1"/><path stroke="#7d0" d="M58 5h1M30 64h1"/><path stroke="#7df" d="M63 21h1M58 22h2M36 44h1M12 66h1"/><path stroke="#7ef" d="M62 21h1M53 23h1M6 68h3"/><path stroke="#7f6" d="M15 48h1"/><path stroke="#7f7" d="M30 6h1M31 8h1M32 10h1M34 13h1M0 42h1M0 66h1"/><path stroke="#7f8" d="M36 16h1M1 20h1M15 47h1M1 66h1"/><path stroke="#7f9" d="M1 43h1"/><path stroke="#7fa" d="M19 26h1M20 27h1"/><path stroke="#7fb" d="M14 23h1M16 24h1M18 25h1M12 45h1M35 66h1M3 68h1"/><path stroke="#7fc" d="M36 66h1M39 68h1M39 69h1"/><path stroke="#7fd" d="M12 22h1M43 22h2M8 44h2M52 44h2M57 45h2M61 46h2M37 66h1M40 69h1"/><path stroke="#7fe" d="M6 21h2M49 23h1"/><path stroke="#7ff" d="M50 23h3M65 47h1M43 67h1M4 68h2"/><path stroke="#800" d="M40 33h6M22 38h1M41 54h5"/><path stroke="#801" d="M46 33h2M46 54h1"/><path stroke="#802" d="M14 11h2M6 32h2M21 38h1M51 55h1M21 67h1"/><path stroke="#803" d="M18 12h1M49 13h1M9 33h1M12 34h1M19 37h1M62 69h1"/><path stroke="#804" d="M20 13h1M14 35h1M16 36h1M20 67h1M20 69h1"/><path stroke="#805" d="M47 12h1M23 15h1M3 31h1M55 57h1M61 68h1M19 69h1M61 69h1"/><path stroke="#806" d="M1 10h1M46 11h1M24 16h1M25 17h1M60 68h1M60 69h1"/><path stroke="#807" d="M0 10h1M45 10h1M26 18h1M1 55h1M57 59h1"/><path stroke="#808" d="M0 9h2M44 9h1M28 21h1M1 30h1M0 54h1M0 55h1M58 61h1M19 68h1"/><path stroke="#809" d="M58 62h1M18 68h1"/><path stroke="#80a" d="M42 6h1M29 24h1M58 63h1M18 67h1M17 69h1"/><path stroke="#80b" d="M58 64h1"/><path stroke="#80c" d="M29 25h1"/><path stroke="#80d" d="M29 26h1M57 69h1"/><path stroke="#80f" d="M28 26h1M57 65h1M57 66h1M57 67h1"/><path stroke="#810" d="M23 38h1M40 54h1"/><path stroke="#81f" d="M56 65h1"/><path stroke="#820" d="M8 55h1M35 55h1"/><path stroke="#830" d="M52 13h1M66 67h1"/><path stroke="#840" d="M35 34h1M33 56h1M27 68h1M27 69h1M66 69h1"/><path stroke="#850" d="M28 67h1M28 69h1"/><path stroke="#860" d="M54 12h1M68 33h1M28 68h1"/><path stroke="#86f" d="M67 18h1M20 57h1"/><path stroke="#87f" d="M22 52h1M19 59h1"/><path stroke="#880" d="M56 9h1M68 32h1M28 66h1"/><path stroke="#88f" d="M68 18h1M69 45h1M17 62h1"/><path stroke="#890" d="M69 32h1M30 59h1M30 60h1M68 66h2"/><path stroke="#89f" d="M66 19h1M68 46h1M15 65h1"/><path stroke="#8a0" d="M57 8h1M30 61h1M29 66h1"/><path stroke="#8af" d="M23 49h1"/><path stroke="#8b0" d="M30 68h1"/><path stroke="#8bf" d="M25 48h1"/><path stroke="#8c0" d="M30 62h1M30 63h1"/><path stroke="#8cf" d="M32 45h1M29 46h1M27 47h1M47 68h1"/><path stroke="#8d0" d="M13 51h1M31 69h1"/><path stroke="#8df" d="M35 44h1M11 66h1M47 66h1M49 66h2M46 68h1M46 69h2"/><path stroke="#8ef" d="M61 21h1M56 22h2M24 28h1M40 43h3M9 66h2M48 66h1M44 69h2"/><path stroke="#8f0" d="M14 50h1M31 64h1"/><path stroke="#8f3" d="M25 0h1"/><path stroke="#8f4" d="M32 65h1"/><path stroke="#8f6" d="M2 19h1M33 65h1"/><path stroke="#8f7" d="M0 19h1M1 42h1M34 65h1"/><path stroke="#8f8" d="M32 9h1M33 11h1M35 14h1M37 17h1"/><path stroke="#8f9" d="M38 18h1"/><path stroke="#8fa" d="M39 19h1M14 46h1M3 66h1"/><path stroke="#8fb" d="M3 20h1M40 20h1M3 43h1"/><path stroke="#8fc" d="M41 21h1M15 23h1M17 24h1M22 28h1"/><path stroke="#8fd" d="M13 22h1M10 44h1M38 66h2M40 68h2M41 69h1"/><path stroke="#8fe" d="M8 21h2M45 22h1M46 43h3M54 44h1M59 45h1M63 46h1M42 68h1M42 69h1"/><path stroke="#8ff" d="M43 43h3M66 47h1M43 69h1"/><path stroke="#900" d="M39 33h1M59 34h6M4 56h1M65 67h1"/><path stroke="#901" d="M22 67h2M64 67h1"/><path stroke="#902" d="M12 11h2M49 55h2M63 67h1"/><path stroke="#903" d="M17 12h1M5 32h1M3 56h1M62 67h1"/><path stroke="#904" d="M11 34h1M18 37h1M53 56h1M61 67h1"/><path stroke="#905" d="M19 13h1M21 14h1M1 56h1M60 67h1"/><path stroke="#906" d="M22 15h1M0 31h2M0 56h1M56 58h1"/><path stroke="#908" d="M2 10h1M27 20h1M0 30h1M60 66h1"/><path stroke="#909" d="M2 55h1"/><path stroke="#90a" d="M43 8h1M2 9h1M2 54h1"/><path stroke="#90b" d="M58 66h1M58 68h1"/><path stroke="#90c" d="M41 4h1"/><path stroke="#90f" d="M57 64h1"/><path stroke="#910" d="M38 33h1M65 34h1M5 56h2M24 67h1"/><path stroke="#91f" d="M56 64h1"/><path stroke="#920" d="M37 33h1M24 38h1M36 55h2M25 67h1"/><path stroke="#930" d="M28 37h1M26 67h1"/><path stroke="#940" d="M66 34h1M33 35h1M9 55h1M34 56h1M27 67h1"/><path stroke="#95f" d="M69 6h1M55 65h1"/><path stroke="#960" d="M32 57h1"/><path stroke="#96f" d="M67 17h1"/><path stroke="#970" d="M55 11h1M69 33h1M11 54h1M31 58h1M68 68h1M68 69h1"/><path stroke="#97f" d="M27 26h1M67 44h1"/><path stroke="#980" d="M67 33h1"/><path stroke="#98f" d="M69 17h1M68 45h1M22 51h1M21 54h1M53 65h1"/><path stroke="#990" d="M69 68h1"/><path stroke="#99f" d="M66 18h1M22 50h1M20 56h1M19 58h1M18 60h1"/><path stroke="#9a0" d="M67 32h1"/><path stroke="#9af" d="M16 63h1"/><path stroke="#9b0" d="M67 66h1"/><path stroke="#9cf" d="M24 48h1"/><path stroke="#9df" d="M64 20h2M34 44h1M31 45h1M26 47h1"/><path stroke="#9e0" d="M58 6h1"/><path stroke="#9ef" d="M59 21h2M54 22h2M37 43h3M8 66h1M44 68h2"/><path stroke="#9f0" d="M59 0h1"/><path stroke="#9f4" d="M32 64h1"/><path stroke="#9f6" d="M2 40h1"/><path stroke="#9f7" d="M2 18h1"/><path stroke="#9f8" d="M29 4h1M1 19h1M0 40h1"/><path stroke="#9f9" d="M31 7h1M33 10h1M34 12h1M36 15h1"/><path stroke="#9fa" d="M3 42h1"/><path stroke="#9fb" d="M20 26h1"/><path stroke="#9fc" d="M19 25h1M21 27h1M13 45h1"/><path stroke="#9fd" d="M42 21h1M11 44h1M40 66h1"/><path stroke="#9fe" d="M10 21h2M46 22h2M4 43h2M7 43h1M49 43h3M55 44h2M60 45h2M64 46h1"/><path stroke="#9ff" d="M23 28h1M6 43h1M5 66h1M7 66h1M43 68h1"/><path stroke="#a01" d="M10 11h2M55 34h4"/><path stroke="#a02" d="M4 32h1M47 55h2"/><path stroke="#a03" d="M16 12h1M8 33h1M20 38h1"/><path stroke="#a04" d="M48 13h1M13 35h1M52 56h1"/><path stroke="#a06" d="M54 57h1"/><path stroke="#a07" d="M23 16h1M2 56h1M55 58h1"/><path stroke="#a08" d="M45 11h1M2 31h1"/><path stroke="#a09" d="M26 19h1M56 59h1M59 69h1"/><path stroke="#a0a" d="M28 22h1M2 30h1M57 60h1M59 66h1M59 68h1M18 69h1"/><path stroke="#a0b" d="M57 61h1M58 69h1"/><path stroke="#a0c" d="M42 7h1"/><path stroke="#a0d" d="M57 62h1"/><path stroke="#a0e" d="M41 5h1M57 63h1"/><path stroke="#a20" d="M25 38h1M38 55h2M7 56h1"/><path stroke="#a40" d="M31 36h1"/><path stroke="#a50" d="M53 13h1"/><path stroke="#a5f" d="M67 4h1M69 4h1M67 5h1M69 5h1M67 6h1M67 7h1M69 7h1M67 8h1M67 9h1M67 10h1M55 64h1"/><path stroke="#a60" d="M68 34h1M10 55h1"/><path stroke="#a6f" d="M68 6h1M68 7h1M68 8h1M67 16h1M67 43h1"/><path stroke="#a70" d="M69 34h1M68 67h1"/><path stroke="#a7f" d="M54 65h1"/><path stroke="#a80" d="M67 34h1"/><path stroke="#a8f" d="M69 16h1M68 17h1M68 43h2M69 44h1"/><path stroke="#a90" d="M67 67h1M69 67h1M67 68h1M29 69h1M67 69h1M69 69h1"/><path stroke="#a9f" d="M26 26h1M68 44h1M21 53h1"/><path stroke="#aa0" d="M56 10h1M29 68h1"/><path stroke="#aaf" d="M20 55h1M17 61h1M52 65h1"/><path stroke="#ab0" d="M30 67h1M30 69h1"/><path stroke="#abf" d="M66 44h1M15 64h1M14 65h1"/><path stroke="#acf" d="M66 45h1"/><path stroke="#adf" d="M25 27h1M33 44h1M30 45h1M28 46h1M66 46h1M46 66h1"/><path stroke="#aef" d="M62 20h2M58 21h1M36 43h1"/><path stroke="#af0" d="M59 1h1M59 3h1M59 4h1M58 7h1M31 63h1"/><path stroke="#af4" d="M32 63h1"/><path stroke="#af6" d="M26 1h1M15 49h1"/><path stroke="#af7" d="M2 41h1M33 64h1"/><path stroke="#af8" d="M0 18h1M1 40h1M0 41h1"/><path stroke="#af9" d="M30 5h1M1 18h1M3 19h1"/><path stroke="#afa" d="M32 8h1M35 13h1M37 16h1M16 47h1M35 65h1"/><path stroke="#afb" d="M38 17h1"/><path stroke="#afc" d="M41 20h1M16 23h1M18 24h1"/><path stroke="#afd" d="M14 22h1M12 44h1M41 66h1"/><path stroke="#afe" d="M4 20h2M12 21h1M43 21h2M8 43h2M52 43h1M57 44h1M62 45h1"/><path stroke="#aff" d="M6 20h2M48 22h6M65 46h1M6 66h1"/><path stroke="#b00" d="M4 11h5M3 57h1"/><path stroke="#b01" d="M9 11h1M53 34h2M46 55h1"/><path stroke="#b03" d="M3 11h1"/><path stroke="#b04" d="M17 37h1M1 57h1"/><path stroke="#b05" d="M0 11h2M0 32h2M3 32h1M15 36h1M0 57h1M2 57h1"/><path stroke="#b06" d="M2 11h1M20 14h1"/><path stroke="#b07" d="M46 12h1"/><path stroke="#b08" d="M24 17h1M25 18h1M2 32h1"/><path stroke="#b09" d="M44 10h1M19 67h1"/><path stroke="#b0a" d="M59 67h1"/><path stroke="#b0c" d="M58 67h1"/><path stroke="#b0f" d="M40 3h1M28 25h1M56 63h1"/><path stroke="#b10" d="M40 55h1"/><path stroke="#b30" d="M8 56h1"/><path stroke="#b40" d="M36 34h1M29 37h1M35 56h1"/><path stroke="#b50" d="M34 35h1"/><path stroke="#b5f" d="M69 8h1M55 63h1"/><path stroke="#b60" d="M33 57h1"/><path stroke="#b6f" d="M68 4h1M68 5h1M68 9h1M67 15h1M27 25h1M67 42h1"/><path stroke="#b7f" d="M66 11h1M54 64h1"/><path stroke="#b80" d="M32 58h1"/><path stroke="#b8f" d="M66 6h1M66 7h1M66 8h1M66 9h1M66 10h1M69 15h1M68 16h1"/><path stroke="#ba0" d="M31 59h1"/><path stroke="#baf" d="M66 17h1M21 52h1M19 57h1M18 59h1"/><path stroke="#bb0" d="M12 53h1"/><path stroke="#bbf" d="M66 43h1M22 49h1M16 62h1"/><path stroke="#bd0" d="M57 9h1"/><path stroke="#bdf" d="M27 46h1M25 47h1M23 48h1M13 65h1"/><path stroke="#bef" d="M61 20h1M57 21h1M35 43h1M32 44h1M29 45h1M44 66h2"/><path stroke="#bf0" d="M59 2h1M59 5h1M14 51h1M13 52h1M31 62h1"/><path stroke="#bf1" d="M59 6h1"/><path stroke="#bf2" d="M59 7h1"/><path stroke="#bf3" d="M32 62h1"/><path stroke="#bf6" d="M60 4h1M2 38h1M15 50h1M2 64h1"/><path stroke="#bf7" d="M2 65h1"/><path stroke="#bf9" d="M1 41h1M16 48h1"/><path stroke="#bfa" d="M3 41h1M34 64h1"/><path stroke="#bfb" d="M31 6h1M33 9h1M34 11h1M3 18h1M3 40h1"/><path stroke="#bfc" d="M36 14h1M39 18h1M40 19h1M15 46h1"/><path stroke="#bfd" d="M15 22h1M17 23h1M21 26h1M14 45h1"/><path stroke="#bfe" d="M8 20h2M13 21h1M45 21h1M22 27h1M10 43h1M53 43h2M58 44h2M63 45h1M42 66h1"/><path stroke="#bff" d="M41 42h7M64 45h1M4 66h1M43 66h1"/><path stroke="#c00" d="M43 55h2M4 57h1"/><path stroke="#c01" d="M51 34h2M45 55h1"/><path stroke="#c03" d="M15 12h1M7 33h1"/><path stroke="#c04" d="M10 34h1M19 38h1M51 56h1"/><path stroke="#c05" d="M18 13h1"/><path stroke="#c06" d="M53 57h1"/><path stroke="#c0f" d="M39 0h1"/><path stroke="#c10" d="M41 55h2"/><path stroke="#c30" d="M26 38h1"/><path stroke="#c4f" d="M55 62h1"/><path stroke="#c50" d="M9 56h1"/><path stroke="#c6f" d="M67 14h1M67 40h1M67 41h1"/><path stroke="#c7f" d="M67 13h1M54 63h1"/><path stroke="#c8f" d="M66 5h1M69 41h1M69 42h1"/><path stroke="#c9f" d="M68 15h1M68 42h1"/><path stroke="#ca0" d="M29 67h1"/><path stroke="#caf" d="M53 64h1"/><path stroke="#cbf" d="M66 16h1M20 54h1"/><path stroke="#ccf" d="M25 26h1M21 51h1M19 56h1M18 58h1M17 60h1M15 63h1M51 65h1"/><path stroke="#cdf" d="M22 48h1M14 64h1"/><path stroke="#cef" d="M63 19h3M59 20h2M55 21h2M24 27h1M34 43h1M31 44h1M26 46h1M24 47h1M12 65h1"/><path stroke="#cf0" d="M58 8h1M31 61h1"/><path stroke="#cf4" d="M59 8h1"/><path stroke="#cf6" d="M2 16h1M2 17h1"/><path stroke="#cf7" d="M60 5h1M60 6h1M15 51h1M33 63h1"/><path stroke="#cf8" d="M28 3h1M60 7h1M0 17h1M0 38h1M0 64h1M0 65h1"/><path stroke="#cf9" d="M16 49h1M1 65h1"/><path stroke="#cfa" d="M34 63h1"/><path stroke="#cfb" d="M30 4h1M35 64h1"/><path stroke="#cfc" d="M31 5h1M32 7h1M35 12h1M37 15h1"/><path stroke="#cfd" d="M34 10h1M41 19h1M19 24h1M20 25h1M13 44h1M36 65h1"/><path stroke="#cfe" d="M10 20h1M42 20h2M14 21h1M46 21h1M16 22h1M5 42h1M11 43h1M55 43h2M60 44h2"/><path stroke="#cff" d="M47 21h1M23 27h1M6 42h2M38 42h3M48 42h3M62 44h1M65 45h1"/><path stroke="#d00" d="M48 34h3"/><path stroke="#d02" d="M14 12h1"/><path stroke="#d03" d="M6 33h1M50 56h1"/><path stroke="#d05" d="M12 35h1"/><path stroke="#d06" d="M47 13h1"/><path stroke="#d0c" d="M43 9h1M27 21h1M56 60h1"/><path stroke="#d0f" d="M40 4h1M40 5h1M41 6h1M28 23h1M28 24h1M56 62h1"/><path stroke="#d20" d="M5 57h1"/><path stroke="#d2f" d="M40 6h1"/><path stroke="#d30" d="M37 34h1M36 56h1"/><path stroke="#d40" d="M32 36h1"/><path stroke="#d4f" d="M39 4h1M40 7h1M27 24h1"/><path stroke="#d5f" d="M67 11h1"/><path stroke="#d6f" d="M39 5h1"/><path stroke="#d8f" d="M66 4h1M69 13h1M69 14h1M68 40h2M68 41h1"/><path stroke="#d90" d="M55 12h1"/><path stroke="#d9f" d="M68 13h1M68 14h1M53 63h1"/><path stroke="#daf" d="M26 25h1"/><path stroke="#dcf" d="M66 42h1M52 64h1"/><path stroke="#ddf" d="M21 49h1M21 50h1M20 53h1M16 61h1M51 64h1M50 65h1"/><path stroke="#de0" d="M31 60h1"/><path stroke="#def" d="M64 18h1M62 19h1M33 43h1M30 44h1M28 45h1M23 47h1M15 62h1M13 64h1M50 64h1M11 65h1M46 65h2M49 65h1"/><path stroke="#df2" d="M14 52h1M32 61h1"/><path stroke="#df4" d="M14 53h1"/><path stroke="#df5" d="M59 9h1"/><path stroke="#df6" d="M2 39h1M2 63h1"/><path stroke="#df7" d="M33 62h1"/><path stroke="#df8" d="M60 8h1M0 16h1M1 17h1M1 38h1M0 39h1M15 52h1M1 64h1"/><path stroke="#df9" d="M1 16h1M16 50h1"/><path stroke="#dfa" d="M61 5h1"/><path stroke="#dfc" d="M17 48h1"/><path stroke="#dfd" d="M32 6h1M33 8h1M36 13h1M38 16h1M39 17h1M40 18h1M15 45h1M16 46h1M17 47h1M36 64h1"/><path stroke="#dfe" d="M5 19h1M11 20h2M44 20h1M15 21h1M18 23h1M21 25h1M22 26h1M12 43h1M14 44h1M37 65h4"/><path stroke="#dff" d="M61 19h1M57 20h2M48 21h7M4 42h1M8 42h2M36 42h2M51 42h2M57 43h2M63 44h2M48 65h1"/><path stroke="#e00" d="M50 14h2M44 34h4M22 39h1"/><path stroke="#e01" d="M21 39h1"/><path stroke="#e02" d="M5 33h1M49 56h1"/><path stroke="#e04" d="M9 34h1"/><path stroke="#e07" d="M21 15h1"/><path stroke="#e08" d="M54 58h1"/><path stroke="#e0b" d="M55 59h1"/><path stroke="#e0f" d="M41 7h1"/><path stroke="#e10" d="M67 35h1"/><path stroke="#e1f" d="M41 8h1"/><path stroke="#e20" d="M37 56h1M6 57h1"/><path stroke="#e30" d="M27 38h1"/><path stroke="#e5f" d="M67 3h1M69 3h1"/><path stroke="#e60" d="M34 57h1"/><path stroke="#e6f" d="M68 3h1M40 8h1M69 9h1M68 10h1M67 12h1M54 62h1"/><path stroke="#e7f" d="M39 6h1"/><path stroke="#e8f" d="M38 5h1M39 7h1M69 11h1M66 12h1M68 12h2"/><path stroke="#e9f" d="M38 6h1M26 24h1M53 62h1"/><path stroke="#ebf" d="M38 7h1M66 15h1M66 41h1"/><path stroke="#ec0" d="M56 11h1"/><path stroke="#ecf" d="M65 12h1M52 63h1"/><path stroke="#edf" d="M65 9h1M65 10h1M65 11h1M25 25h1M19 55h1M51 63h1"/><path stroke="#eef" d="M65 6h1M65 7h1M65 8h1M64 12h1M24 25h1M24 26h1M25 46h1M21 48h1M20 51h1M20 52h1M19 54h1M18 57h1M17 59h1M16 60h1M14 63h1M45 64h1M49 64h1"/><path stroke="#ef0" d="M58 9h1"/><path stroke="#ef6" d="M26 0h1"/><path stroke="#ef7" d="M59 10h1M0 63h1"/><path stroke="#ef8" d="M1 63h1"/><path stroke="#ef9" d="M61 4h1M60 9h1M1 39h1M15 53h1M34 62h1"/><path stroke="#efa" d="M61 6h1M60 10h1M16 51h1M15 54h1"/><path stroke="#efb" d="M61 7h1M61 8h1M3 17h1M16 52h1M3 64h1M3 65h1"/><path stroke="#efc" d="M61 9h1M17 49h1M16 53h1M35 63h1"/><path stroke="#efd" d="M62 5h1M62 6h1M17 50h1M17 51h1"/><path stroke="#efe" d="M32 5h1M33 7h1M34 9h1M35 11h1M36 12h1M37 14h1M38 15h1M41 18h1M42 19h1M17 22h1M19 23h1M20 24h1M5 41h1M16 45h1M17 46h1M18 47h1M18 48h1M36 63h1M37 64h1M41 65h1"/><path stroke="#eff" d="M39 16h1M64 16h1M40 17h1M62 18h2M65 18h1M4 19h1M6 19h6M43 19h1M59 19h2M13 20h2M45 20h3M55 20h2M16 21h1M6 41h2M38 41h13M10 42h2M34 42h2M53 42h4M13 43h1M31 43h2M59 43h6M15 44h1M29 44h1M65 44h1M26 45h2M24 46h1M22 47h1M11 64h2M38 64h5M46 64h3M10 65h1"/><path stroke="#f00" d="M0 12h12M0 33h3M39 34h5M52 35h15M68 35h2M23 39h1M40 56h7M0 58h4"/><path stroke="#f01" d="M12 12h2M3 33h1M48 35h4M47 56h2"/><path stroke="#f02" d="M49 14h1M4 33h1M21 40h1"/><path stroke="#f03" d="M14 13h2M6 34h3"/><path stroke="#f04" d="M16 13h2M48 14h1M11 35h1M20 39h1M50 57h1"/><path stroke="#f05" d="M9 35h2M13 36h2M16 37h1M18 38h1M51 57h1"/><path stroke="#f06" d="M18 14h2M47 14h1M12 36h1M15 37h1M17 38h1M19 39h1M52 57h1"/><path stroke="#f07" d="M17 14h1M14 37h1"/><path stroke="#f08" d="M46 13h1M19 15h2"/><path stroke="#f09" d="M22 16h1M53 58h1"/><path stroke="#f0a" d="M45 12h1M45 13h1M21 16h1M23 17h1"/><path stroke="#f0b" d="M22 17h1"/><path stroke="#f0c" d="M44 11h1M44 12h1M24 18h1M54 59h1"/><path stroke="#f0d" d="M43 11h1M25 19h1M26 20h1"/><path stroke="#f0e" d="M25 20h1"/><path stroke="#f0f" d="M42 8h1M42 9h1M43 10h1M26 21h1M27 22h1M27 23h1M55 60h1M56 61h1"/><path stroke="#f10" d="M38 34h1M24 39h1M22 40h1M38 56h2"/><path stroke="#f11" d="M65 36h1"/><path stroke="#f12" d="M50 15h1M45 35h3M63 36h2M66 36h1"/><path stroke="#f13" d="M68 36h1"/><path stroke="#f14" d="M13 13h1M5 34h1M67 36h1M69 36h1M49 57h1"/><path stroke="#f18" d="M16 38h1M18 39h1M52 58h1"/><path stroke="#f1b" d="M23 18h1"/><path stroke="#f1c" d="M24 19h1"/><path stroke="#f1f" d="M39 1h1M55 61h1"/><path stroke="#f20" d="M52 14h1M25 39h1M7 57h1M4 58h2"/><path stroke="#f21" d="M51 15h1M3 34h1"/><path stroke="#f22" d="M40 35h5M61 36h2"/><path stroke="#f23" d="M4 34h1M58 36h3"/><path stroke="#f24" d="M12 13h1M48 57h1"/><path stroke="#f25" d="M49 15h1"/><path stroke="#f27" d="M11 36h1M20 40h1"/><path stroke="#f2e" d="M42 10h1"/><path stroke="#f2f" d="M39 2h1"/><path stroke="#f30" d="M28 38h1M8 57h1M6 58h1"/><path stroke="#f32" d="M39 35h1"/><path stroke="#f34" d="M57 36h1"/><path stroke="#f35" d="M10 13h2M56 36h1M46 57h2"/><path stroke="#f36" d="M8 35h1"/><path stroke="#f37" d="M16 14h1"/><path stroke="#f39" d="M46 14h1"/><path stroke="#f3a" d="M20 16h1"/><path stroke="#f3b" d="M53 59h1"/><path stroke="#f3d" d="M54 60h1"/><path stroke="#f3f" d="M39 3h1M26 22h1"/><path stroke="#f40" d="M37 35h1M30 37h1M26 39h1"/><path stroke="#f41" d="M37 57h1M7 58h1"/><path stroke="#f42" d="M38 35h1M38 57h1"/><path stroke="#f44" d="M6 13h1M43 57h1"/><path stroke="#f45" d="M7 13h3M55 36h1M44 57h2"/><path stroke="#f46" d="M54 36h1"/><path stroke="#f47" d="M48 15h1M7 35h1"/><path stroke="#f48" d="M13 37h1M51 58h1"/><path stroke="#f49" d="M18 15h1"/><path stroke="#f4f" d="M67 2h1M69 2h1M41 9h1"/><path stroke="#f50" d="M53 14h1M35 35h2M33 36h2M31 37h1M29 38h1M36 57h1"/><path stroke="#f52" d="M52 15h1M23 40h1M0 59h1"/><path stroke="#f53" d="M39 57h2"/><path stroke="#f54" d="M4 13h2M41 57h2"/><path stroke="#f55" d="M21 41h1"/><path stroke="#f56" d="M4 35h1M53 36h1"/><path stroke="#f57" d="M6 35h1M52 36h1"/><path stroke="#f58" d="M15 14h1M10 36h1M50 58h1"/><path stroke="#f59" d="M15 38h1M17 39h1M19 40h1"/><path stroke="#f5a" d="M37 2h1"/><path stroke="#f5b" d="M44 13h1M21 17h1"/><path stroke="#f5c" d="M38 2h1"/><path stroke="#f5d" d="M43 12h1"/><path stroke="#f5e" d="M68 0h1M68 1h1M68 2h1"/><path stroke="#f5f" d="M38 0h1M67 0h1M69 0h1M38 1h1M67 1h1M69 1h1M54 61h1"/><path stroke="#f60" d="M32 37h1M9 57h1M35 57h1"/><path stroke="#f61" d="M35 36h1M27 39h1"/><path stroke="#f62" d="M8 58h1M1 59h1"/><path stroke="#f63" d="M24 40h1M4 59h1"/><path stroke="#f64" d="M5 59h1"/><path stroke="#f65" d="M64 2h1"/><path stroke="#f67" d="M33 2h2M5 35h1M50 36h2M62 37h4"/><path stroke="#f68" d="M35 2h1M14 14h1M49 58h1"/><path stroke="#f69" d="M36 2h1M65 2h1M17 15h1M47 15h1M9 36h1M12 37h1M20 41h1"/><path stroke="#f6a" d="M19 16h1M66 37h1"/><path stroke="#f6b" d="M66 2h1M45 14h1M22 18h1M68 37h1M52 59h1"/><path stroke="#f6c" d="M37 0h1M66 0h1M37 1h1M23 19h1M69 37h1"/><path stroke="#f6d" d="M42 11h1M24 20h1M25 21h1M67 37h1M53 60h1"/><path stroke="#f6e" d="M69 38h1"/><path stroke="#f6f" d="M38 3h1M41 10h1M67 38h1M67 39h1"/><path stroke="#f70" d="M54 13h1M10 56h1"/><path stroke="#f71" d="M30 38h1"/><path stroke="#f73" d="M1 34h2M3 59h1"/><path stroke="#f74" d="M28 39h1M25 40h1"/><path stroke="#f75" d="M6 59h1"/><path stroke="#f76" d="M32 2h1M22 41h1"/><path stroke="#f77" d="M63 2h1M42 36h1M47 36h3M59 37h3M43 58h1"/><path stroke="#f78" d="M12 14h2M45 36h2M57 37h2M45 58h4"/><path stroke="#f79" d="M33 0h1M8 36h1"/><path stroke="#f7a" d="M35 0h1M16 15h1M46 15h1M11 37h1M14 38h1M16 39h1M18 40h1"/><path stroke="#f7b" d="M36 0h1M36 1h1M18 16h1M20 17h1M51 59h1"/><path stroke="#f7c" d="M66 1h1M21 18h1"/><path stroke="#f7d" d="M37 3h1M43 13h1M68 38h1"/><path stroke="#f7f" d="M38 4h1M40 9h1M69 10h1M26 23h1M69 39h1"/><path stroke="#f80" d="M54 14h1"/><path stroke="#f82" d="M2 59h1"/><path stroke="#f83" d="M0 34h1M33 37h1"/><path stroke="#f84" d="M53 15h1M36 36h1M31 38h1M9 58h1"/><path stroke="#f85" d="M3 13h1M36 58h1"/><path stroke="#f86" d="M37 36h1M37 58h2M7 59h2M4 60h1"/><path stroke="#f87" d="M64 0h1M31 2h1M38 36h4M43 36h1M39 58h3"/><path stroke="#f88" d="M6 14h1M9 14h3M50 16h2M44 36h1M56 37h1M21 42h1M42 58h1M44 58h1"/><path stroke="#f89" d="M34 0h1M7 14h2M49 16h1M6 36h2M54 37h2"/><path stroke="#f8a" d="M65 0h1M34 1h2M15 15h1M10 37h1M50 59h1"/><path stroke="#f8b" d="M65 1h1M13 38h1M15 39h1M17 40h1M19 41h1"/><path stroke="#f8c" d="M44 14h1M19 17h1M66 38h1"/><path stroke="#f8d" d="M22 19h1M23 20h1M52 60h1"/><path stroke="#f8e" d="M41 11h1M42 12h1M24 21h1M25 22h1"/><path stroke="#f8f" d="M66 3h1M68 11h1M68 39h1M53 61h1"/><path stroke="#f90" d="M11 55h1M34 58h1"/><path stroke="#f91" d="M10 57h1"/><path stroke="#f93" d="M35 58h1"/><path stroke="#f95" d="M34 37h1"/><path stroke="#f96" d="M62 2h1M29 39h1M26 40h1"/><path stroke="#f97" d="M32 0h1M64 1h1M35 37h1M23 41h1M5 60h2"/><path stroke="#f98" d="M31 0h1M63 0h1M5 14h1M52 16h1M24 41h1"/><path stroke="#f99" d="M33 1h1M4 14h1M4 36h2M53 37h1"/><path stroke="#f9a" d="M14 15h1M48 16h1M51 37h2M62 38h4M48 59h2"/><path stroke="#f9b" d="M17 16h1M47 16h1M9 37h1M12 38h1M20 42h1"/><path stroke="#f9c" d="M36 3h1M45 15h1M18 41h1"/><path stroke="#f9d" d="M20 18h1"/><path stroke="#f9f" d="M39 8h1M40 10h1"/><path stroke="#fa0" d="M55 13h1M33 58h1"/><path stroke="#fa4" d="M55 14h1"/><path stroke="#fa5" d="M1 13h1"/><path stroke="#fa6" d="M61 2h1M10 58h1M3 60h1"/><path stroke="#fa7" d="M62 0h1M30 2h1M54 15h1M3 35h1M32 38h1M9 59h1"/><path stroke="#fa8" d="M30 0h1M32 1h1M36 37h1M33 38h1M30 39h1M27 40h1M7 60h1"/><path stroke="#fa9" d="M31 1h1M63 1h1M53 16h1M37 37h1M25 41h1M22 42h1M38 59h1"/><path stroke="#faa" d="M48 37h3M59 38h3M39 59h1M47 59h1"/><path stroke="#fab" d="M12 15h2M8 37h1M46 37h2M58 38h1M45 59h2"/><path stroke="#fac" d="M34 3h2M16 16h1M14 39h1M16 40h1"/><path stroke="#fad" d="M43 14h1M18 17h1M21 19h1M51 60h1"/><path stroke="#fae" d="M41 12h1M42 13h1M24 22h1"/><path stroke="#faf" d="M37 4h1M39 9h1M66 13h1M25 23h1M66 39h1M66 40h1M52 61h1"/><path stroke="#fb0" d="M11 56h1"/><path stroke="#fb3" d="M56 13h1"/><path stroke="#fb4" d="M2 13h1"/><path stroke="#fb5" d="M0 13h1M11 57h1M34 59h1M0 60h2"/><path stroke="#fb6" d="M35 59h1"/><path stroke="#fb8" d="M29 0h1M62 1h1M55 15h1M10 59h1M36 59h1"/><path stroke="#fb9" d="M34 38h1M31 39h1M28 40h1M37 59h1M8 60h1M4 61h2"/><path stroke="#fba" d="M38 37h3M29 40h1M26 41h1M23 42h1M40 59h2M6 61h1"/><path stroke="#fbb" d="M10 15h2M50 17h2M41 37h5M56 38h2M21 43h1M42 59h3"/><path stroke="#fbc" d="M8 15h2M15 16h1M46 16h1M49 17h1M7 37h1M11 38h1M55 38h1M20 43h1"/><path stroke="#fbd" d="M44 15h1M19 18h1M13 39h1M17 41h1M19 42h1M50 60h1"/><path stroke="#fbe" d="M65 3h1M22 20h1M23 21h1"/><path stroke="#fbf" d="M37 5h1M40 11h1M66 14h1M52 62h1"/><path stroke="#fc0" d="M33 59h1"/><path stroke="#fc4" d="M12 56h1"/><path stroke="#fc5" d="M2 60h1"/><path stroke="#fc6" d="M0 35h2"/><path stroke="#fc7" d="M28 0h1M61 0h1M61 1h1M29 2h1M56 14h1M11 58h1M3 61h1"/><path stroke="#fc8" d="M29 1h1M3 14h1"/><path stroke="#fc9" d="M30 1h1M3 36h1"/><path stroke="#fca" d="M64 3h1M54 16h1M35 38h1M32 39h1M9 60h1"/><path stroke="#fcb" d="M63 3h1M52 17h1M5 37h1M36 38h1M30 40h1M27 41h1M24 42h1M7 61h2"/><path stroke="#fcc" d="M4 15h4M6 37h1M53 38h2M62 39h4M4 62h1"/><path stroke="#fcd" d="M14 16h1M45 16h1M17 17h1M48 17h1M4 37h1M9 38h2M52 38h1M61 39h1M15 40h1M47 60h3"/><path stroke="#fce" d="M41 13h1M42 14h1M43 15h1M18 18h1M20 19h1M21 20h1M18 42h1M51 61h1"/><path stroke="#fcf" d="M36 4h1M37 6h1M38 8h1M39 10h1M40 12h1M25 24h1"/><path stroke="#fd0" d="M56 12h1M12 54h1M32 59h1"/><path stroke="#fd4" d="M57 12h1"/><path stroke="#fd6" d="M2 35h1M0 61h2"/><path stroke="#fd7" d="M57 13h1M1 14h1M12 57h1"/><path stroke="#fd9" d="M57 14h1M12 58h1M35 60h1"/><path stroke="#fda" d="M62 3h1M56 15h1M11 59h1"/><path stroke="#fdb" d="M32 3h1M55 16h1M10 60h1M36 60h1"/><path stroke="#fdc" d="M33 3h1M53 17h1M37 38h1M33 39h1M31 40h1M28 41h1M25 42h1M22 43h1M37 60h3M9 61h1M5 62h2"/><path stroke="#fdd" d="M12 16h2M47 17h1M54 17h1M8 38h1M38 38h3M48 38h4M12 39h1M57 39h4M23 43h1M21 44h1M40 60h7M7 62h1"/><path stroke="#fde" d="M11 16h1M44 16h1M15 17h2M19 19h1M22 21h1M11 39h1M14 40h1M16 41h1M19 43h1M20 44h1M50 61h1"/><path stroke="#fdf" d="M36 5h1M37 7h1M38 9h1M39 11h1M64 13h2M64 14h1M23 22h1M24 23h1M51 62h1"/><path stroke="#fe0" d="M12 55h1"/><path stroke="#fe5" d="M13 55h1"/><path stroke="#fe7" d="M58 12h1M0 14h1M1 36h1M13 56h1M34 60h1"/><path stroke="#fe9" d="M58 13h1M13 57h1"/><path stroke="#feb" d="M58 14h1"/><path stroke="#fec" d="M57 15h1M56 16h1M13 58h1M12 59h1M11 60h1"/><path stroke="#fed" d="M58 15h1M34 39h1M29 41h1M26 42h1M12 60h1M10 61h1M36 61h1M8 62h1M5 63h1"/><path stroke="#fee" d="M5 16h6M57 16h1M14 17h1M45 17h2M55 17h1M17 18h1M49 18h5M5 38h3M41 38h7M10 39h1M35 39h3M53 39h4M13 40h1M32 40h1M60 40h6M15 41h1M30 41h1M17 42h1M27 42h1M24 43h1M22 44h1M11 61h1M37 61h5M46 61h4M9 62h1M4 63h1M6 63h1"/><path stroke="#fef" d="M35 4h1M35 5h1M65 5h1M36 6h1M36 7h1M37 8h1M37 9h1M38 10h1M64 10h1M38 11h1M64 11h1M39 12h1M40 13h1M41 14h1M63 14h1M42 15h1M63 15h2M43 16h1M13 17h1M16 18h1M48 18h1M18 19h1M20 20h1M21 21h1M22 22h1M23 23h1M24 24h1M4 38h1M9 39h1M52 39h1M12 40h1M59 40h1M18 43h1M19 44h1M20 50h1M45 61h1M50 62h1M45 65h1"/><path stroke="#ff0" d="M57 10h1M57 11h1M13 53h1M13 54h1M32 60h1"/><path stroke="#ff2" d="M58 10h1"/><path stroke="#ff5" d="M60 0h1M60 1h1M60 2h1M60 3h1M58 11h1M33 60h1M2 61h1"/><path stroke="#ff6" d="M27 0h1M2 14h1M2 15h1M2 36h1M2 37h1M33 61h1M2 62h1"/><path stroke="#ff7" d="M27 1h1M27 2h2M0 15h1M0 36h1M0 37h1M14 54h1M0 62h2"/><path stroke="#ff8" d="M28 1h1M61 3h1M59 11h1M1 15h1M1 37h1M14 55h1M34 61h1"/><path stroke="#ff9" d="M3 62h1"/><path stroke="#ffa" d="M29 3h1M59 12h1M3 15h1M3 37h1M14 56h1M3 63h1"/><path stroke="#ffb" d="M60 11h1M3 16h1M3 38h1M3 39h1M35 61h1"/><path stroke="#ffc" d="M30 3h2M60 12h1M59 13h1M15 55h1M14 57h1M35 62h1"/><path stroke="#ffd" d="M62 4h1M61 10h1M61 11h1M59 14h1M16 54h1M15 56h1M13 59h1"/><path stroke="#ffe" d="M31 4h1M62 7h1M62 8h1M62 9h1M61 12h1M60 13h1M65 14h1M56 17h1M33 40h1M28 42h1M25 43h1M23 44h1M18 49h1M17 52h1M17 53h1M16 55h1M16 56h1M15 57h1M14 58h1M14 59h1M13 60h1M42 61h1M10 62h1M36 62h1M42 65h1"/><path stroke="#fff" d="M32 4h3M63 4h3M33 5h2M63 5h2M33 6h3M63 6h2M34 7h2M63 7h2M34 8h3M63 8h2M35 9h2M63 9h2M35 10h3M62 10h2M36 11h2M62 11h2M37 12h2M62 12h2M37 13h3M61 13h3M38 14h3M60 14h3M39 15h3M59 15h4M65 15h1M4 16h1M40 16h3M58 16h6M65 16h1M4 17h9M41 17h4M57 17h9M4 18h12M42 18h6M54 18h8M12 19h6M44 19h15M15 20h5M48 20h7M17 21h4M18 22h4M20 23h3M21 24h3M22 25h2M23 26h1M4 39h5M38 39h14M4 40h8M34 40h25M4 41h1M8 41h7M31 41h7M51 41h15M12 42h5M29 42h5M57 42h9M14 43h4M26 43h5M65 43h1M16 44h3M24 44h5M17 45h9M18 46h6M19 47h3M19 48h2M19 49h2M18 50h2M18 51h2M18 52h2M18 53h2M17 54h2M17 55h2M17 56h2M16 57h2M15 58h3M15 59h2M14 60h2M12 61h4M43 61h2M11 62h4M37 62h13M7 63h7M37 63h14M4 64h7M43 64h2M4 65h6M43 65h2"/></g></g></g>
<g fill="#aaa">
<rect x="1333.3" y="95.4" width="9" height="304.5"/>
<rect x="1661.9" y="95.4" width="10" height="304.5"/>
<rect x="1316.3" y="242.6" width="17.2" height="10.2"/>
<rect x="1671.3" y="242.6" width="17.2" height="10.2"/>
</g>
<rect x="1350.15" y="95.55" width="303.70" height="303.60" fill="#808080" stroke="#000" stroke-width="2.5"/>
<g clip-path="url(#ct3)"><g filter="url(#bt3)"><g transform="translate(1345.02 90.13) scale(4.49375 4.48906) translate(0 .5)" fill="none" stroke-width="1.04"><path stroke="#000" d="M4 6h6M60 6h6M4 7h62M4 8h62M4 28h1M65 28h1M4 29h62M4 30h62M4 50h1M6 50h1M8 50h54M63 50h1M65 50h1M4 51h62M4 52h62M22 69h26"/><path stroke="#001" d="M5 50h1M7 50h1M21 69h1"/><path stroke="#004" d="M3 5h1M3 6h1M3 28h1M3 50h1"/><path stroke="#005" d="M3 4h1M3 27h1M3 49h1"/><path stroke="#007" d="M1 4h1M1 27h1M1 49h1"/><path stroke="#008" d="M0 4h1M0 27h1M0 49h1"/><path stroke="#009" d="M2 4h1M2 26h1M2 27h1M2 48h1M2 49h1"/><path stroke="#010" d="M62 50h1M64 50h1M48 69h1"/><path stroke="#011" d="M4 5h1M65 5h1M10 6h50M5 28h60M20 69h1M49 69h1"/><path stroke="#012" d="M19 69h1"/><path stroke="#019" d="M0 26h1M0 48h1"/><path stroke="#021" d="M50 69h1"/><path stroke="#022" d="M5 5h3M62 5h3M4 49h1M65 49h1"/><path stroke="#023" d="M61 5h1M5 49h1M18 69h1"/><path stroke="#028" d="M1 26h1M1 48h1"/><path stroke="#02a" d="M2 3h1M2 47h1"/><path stroke="#032" d="M8 5h1M64 49h1M51 69h1"/><path stroke="#033" d="M9 5h7M54 5h7M4 27h62M6 49h58"/><path stroke="#034" d="M53 5h1M16 69h2"/><path stroke="#037" d="M3 26h1M3 48h1"/><path stroke="#039" d="M0 47h2"/><path stroke="#03a" d="M0 3h1"/><path stroke="#03b" d="M2 25h1"/><path stroke="#040" d="M66 5h1M66 6h1M66 28h1M66 50h1"/><path stroke="#043" d="M16 5h1M52 69h2"/><path stroke="#044" d="M4 4h1M65 4h1M17 5h36"/><path stroke="#045" d="M15 69h1"/><path stroke="#04a" d="M1 3h1M0 25h1"/><path stroke="#050" d="M66 4h1M66 27h1M66 49h1"/><path stroke="#054" d="M54 69h1"/><path stroke="#055" d="M5 4h3M62 4h3"/><path stroke="#056" d="M60 4h2M4 48h2M14 69h1"/><path stroke="#059" d="M3 47h1"/><path stroke="#05a" d="M1 25h1"/><path stroke="#05b" d="M2 2h1"/><path stroke="#065" d="M8 4h2M64 48h2M55 69h1"/><path stroke="#066" d="M10 4h2M58 4h2M4 26h62M6 48h58"/><path stroke="#067" d="M56 4h2M13 69h1"/><path stroke="#070" d="M68 4h1M68 27h1M68 49h1"/><path stroke="#073" d="M66 26h1M66 48h1"/><path stroke="#076" d="M12 4h2M56 69h1"/><path stroke="#077" d="M14 4h3M53 4h3"/><path stroke="#078" d="M51 4h2M12 69h1"/><path stroke="#079" d="M3 3h1"/><path stroke="#07a" d="M3 25h1"/><path stroke="#07b" d="M0 2h2"/><path stroke="#07e" d="M2 1h1"/><path stroke="#080" d="M69 4h1M69 27h1M69 49h1"/><path stroke="#082" d="M68 26h1M68 48h1"/><path stroke="#087" d="M17 4h2M57 69h1"/><path stroke="#088" d="M19 4h32"/><path stroke="#089" d="M4 47h1M11 69h1"/><path stroke="#08a" d="M10 69h1"/><path stroke="#090" d="M67 4h1M67 26h1M67 27h1M67 48h1M67 49h1"/><path stroke="#091" d="M69 26h1M69 48h1"/><path stroke="#093" d="M68 47h2"/><path stroke="#095" d="M66 47h1"/><path stroke="#097" d="M66 3h1"/><path stroke="#098" d="M65 47h1M58 69h1"/><path stroke="#099" d="M5 47h60"/><path stroke="#09a" d="M3 2h1M61 3h4"/><path stroke="#09b" d="M9 69h1"/><path stroke="#09e" d="M0 1h1"/><path stroke="#0a2" d="M67 3h1M67 47h1"/><path stroke="#0a3" d="M69 3h1"/><path stroke="#0a4" d="M68 3h1M69 25h1"/><path stroke="#0a5" d="M68 25h1"/><path stroke="#0a7" d="M66 25h1"/><path stroke="#0a8" d="M59 69h1"/><path stroke="#0a9" d="M66 2h1M5 3h4"/><path stroke="#0aa" d="M4 3h1M9 3h3M58 3h3M65 3h1M4 25h62"/><path stroke="#0ab" d="M64 2h1M53 3h5"/><path stroke="#0ac" d="M8 69h1"/><path stroke="#0ae" d="M1 1h1"/><path stroke="#0b3" d="M67 25h1"/><path stroke="#0b5" d="M67 2h1"/><path stroke="#0b7" d="M68 2h2"/><path stroke="#0b9" d="M60 69h1"/><path stroke="#0ba" d="M5 2h1M12 3h5"/><path stroke="#0bb" d="M6 2h2M62 2h2M17 3h4M49 3h4"/><path stroke="#0bc" d="M60 2h2M65 2h1M46 3h3"/><path stroke="#0bd" d="M7 69h1"/><path stroke="#0be" d="M6 69h1"/><path stroke="#0ca" d="M61 69h1"/><path stroke="#0cb" d="M4 2h1M8 2h2M21 3h3"/><path stroke="#0cc" d="M10 2h1M59 2h1M24 3h7M39 3h7"/><path stroke="#0cd" d="M65 1h1M57 2h2M37 3h2"/><path stroke="#0ce" d="M5 69h1"/><path stroke="#0cf" d="M4 69h1"/><path stroke="#0db" d="M62 69h1"/><path stroke="#0dc" d="M4 1h1M11 2h2M31 3h2"/><path stroke="#0dd" d="M33 3h4"/><path stroke="#0de" d="M64 1h1M55 2h2"/><path stroke="#0df" d="M62 1h2"/><path stroke="#0e7" d="M67 1h1"/><path stroke="#0e9" d="M69 1h1"/><path stroke="#0ea" d="M68 1h1"/><path stroke="#0eb" d="M63 69h1"/><path stroke="#0ec" d="M64 69h1"/><path stroke="#0ed" d="M5 1h1M13 2h2"/><path stroke="#0ef" d="M3 1h1M55 1h7M52 2h3M3 69h1M67 69h1M69 69h1"/><path stroke="#0fc" d="M65 69h1"/><path stroke="#0fd" d="M6 1h2"/><path stroke="#0fe" d="M8 1h7M66 1h1M15 2h3M0 69h1M2 69h1M66 69h1"/><path stroke="#0ff" d="M18 2h34M0 24h70M0 46h70M11 68h48M1 69h1M68 69h1"/><path stroke="#100" d="M4 9h1M10 9h50M65 9h1M4 31h1M6 31h58M65 31h1M4 53h1M65 53h1"/><path stroke="#104" d="M3 29h1"/><path stroke="#107" d="M1 5h1"/><path stroke="#108" d="M0 5h1"/><path stroke="#140" d="M66 29h1"/><path stroke="#170" d="M68 5h1"/><path stroke="#180" d="M69 5h1"/><path stroke="#1ef" d="M54 1h1"/><path stroke="#1fe" d="M15 1h1"/><path stroke="#1ff" d="M24 67h22M10 68h1M59 68h1"/><path stroke="#200" d="M6 9h4M60 9h4M6 53h58"/><path stroke="#201" d="M5 9h1M5 31h1M5 53h1"/><path stroke="#204" d="M3 7h1M3 51h1"/><path stroke="#206" d="M1 6h1"/><path stroke="#207" d="M0 28h2M0 50h2"/><path stroke="#209" d="M2 5h1"/><path stroke="#210" d="M64 9h1M64 31h1M64 53h1"/><path stroke="#240" d="M66 7h1M66 51h1"/><path stroke="#260" d="M68 6h1"/><path stroke="#270" d="M68 28h2M68 50h2"/><path stroke="#290" d="M67 5h1"/><path stroke="#29f" d="M66 0h1"/><path stroke="#2cf" d="M68 0h1"/><path stroke="#2df" d="M69 0h1"/><path stroke="#2ef" d="M67 0h1M53 1h1"/><path stroke="#2f9" d="M3 0h1"/><path stroke="#2fc" d="M1 0h1"/><path stroke="#2fd" d="M0 0h1"/><path stroke="#2fe" d="M2 0h1M16 1h1"/><path stroke="#2ff" d="M4 45h62M19 67h5M46 67h5M8 68h2M60 68h2"/><path stroke="#300" d="M18 10h34M4 32h1M65 32h1"/><path stroke="#304" d="M3 30h1M3 52h1"/><path stroke="#306" d="M1 7h1M1 29h1M1 51h1"/><path stroke="#307" d="M0 6h1M0 29h1M0 51h1"/><path stroke="#309" d="M2 28h1M2 50h1"/><path stroke="#340" d="M66 30h1M66 52h1"/><path stroke="#360" d="M68 7h1M68 29h1M68 51h1"/><path stroke="#370" d="M69 6h1M69 29h1M69 51h1"/><path stroke="#390" d="M67 28h1M67 50h1"/><path stroke="#3af" d="M67 45h1"/><path stroke="#3bf" d="M69 45h1"/><path stroke="#3cf" d="M68 45h1"/><path stroke="#3df" d="M66 45h1"/><path stroke="#3ef" d="M52 1h1M15 67h2"/><path stroke="#3fa" d="M2 45h1"/><path stroke="#3fb" d="M0 45h1"/><path stroke="#3fc" d="M1 45h1"/><path stroke="#3fd" d="M3 45h1"/><path stroke="#3fe" d="M17 1h1M53 67h2"/><path stroke="#3ff" d="M17 67h2M51 67h2M6 68h2M62 68h2"/><path stroke="#400" d="M4 10h1M6 10h12M52 10h12M65 10h1M6 32h58M4 54h1M6 54h6M58 54h6M65 54h1"/><path stroke="#401" d="M5 32h1"/><path stroke="#405" d="M3 8h1"/><path stroke="#407" d="M0 7h1M0 30h2M1 52h1"/><path stroke="#409" d="M2 6h1M2 29h1M2 51h1"/><path stroke="#410" d="M64 32h1"/><path stroke="#450" d="M66 8h1"/><path stroke="#470" d="M69 7h1M68 30h2M68 52h1"/><path stroke="#48f" d="M67 68h1"/><path stroke="#490" d="M67 6h1M67 29h1M67 51h1"/><path stroke="#49f" d="M67 23h1M67 67h1M69 68h1"/><path stroke="#4af" d="M68 23h2M69 67h1M68 68h1"/><path stroke="#4bf" d="M68 67h1"/><path stroke="#4cf" d="M66 23h1"/><path stroke="#4df" d="M65 0h1M66 67h1"/><path stroke="#4ef" d="M51 1h1M6 67h9"/><path stroke="#4f8" d="M2 68h1"/><path stroke="#4f9" d="M2 23h1M2 67h1M0 68h1"/><path stroke="#4fa" d="M0 23h2M0 67h1M1 68h1"/><path stroke="#4fb" d="M1 67h1"/><path stroke="#4fc" d="M3 23h1"/><path stroke="#4fd" d="M4 0h1M3 67h1"/><path stroke="#4fe" d="M18 1h1M55 67h9"/><path stroke="#4ff" d="M4 23h62M23 66h24M4 67h2M64 67h2M4 68h2M64 68h2"/><path stroke="#500" d="M12 54h46"/><path stroke="#501" d="M5 10h1M5 54h1"/><path stroke="#505" d="M3 31h1M3 53h1"/><path stroke="#507" d="M0 8h2M1 31h1M0 52h1M1 53h1"/><path stroke="#508" d="M2 8h1"/><path stroke="#509" d="M2 7h1M2 30h1M2 52h1"/><path stroke="#510" d="M64 10h1M64 54h1"/><path stroke="#550" d="M66 31h1M66 53h1"/><path stroke="#55f" d="M67 43h1"/><path stroke="#56f" d="M67 66h1"/><path stroke="#570" d="M68 8h2M68 31h1M69 52h1M68 53h1"/><path stroke="#580" d="M67 8h1"/><path stroke="#590" d="M67 7h1M67 30h1M67 52h1"/><path stroke="#5df" d="M64 0h1"/><path stroke="#5ef" d="M50 1h1"/><path stroke="#5f5" d="M2 43h1"/><path stroke="#5f6" d="M2 66h1"/><path stroke="#5fd" d="M5 0h1"/><path stroke="#5fe" d="M19 1h1"/><path stroke="#5ff" d="M10 66h13M47 66h13M3 68h1M66 68h1"/><path stroke="#600" d="M23 11h24"/><path stroke="#604" d="M3 32h1M3 54h1"/><path stroke="#605" d="M3 10h1"/><path stroke="#606" d="M3 9h1"/><path stroke="#607" d="M1 9h1M0 31h1M0 53h1"/><path stroke="#608" d="M0 9h1M2 31h1M2 53h1"/><path stroke="#640" d="M66 32h1M66 54h1"/><path stroke="#650" d="M66 10h1"/><path stroke="#65f" d="M67 21h1"/><path stroke="#660" d="M66 9h1"/><path stroke="#670" d="M68 9h1M69 31h1M69 53h1"/><path stroke="#67f" d="M67 22h1M69 43h1M67 44h1"/><path stroke="#680" d="M69 9h1M67 31h1M67 53h1"/><path stroke="#68f" d="M69 22h1M69 66h1"/><path stroke="#69f" d="M68 66h1"/><path stroke="#6ef" d="M49 1h1M6 66h4"/><path stroke="#6f5" d="M2 21h1"/><path stroke="#6f7" d="M2 22h1M0 43h1M2 44h1"/><path stroke="#6f8" d="M0 22h1M0 66h1"/><path stroke="#6f9" d="M1 66h1"/><path stroke="#6fe" d="M20 1h1M60 66h4"/><path stroke="#6ff" d="M5 66h1M64 66h1"/><path stroke="#700" d="M6 11h17M47 11h17M6 33h58M5 55h3M62 55h3"/><path stroke="#701" d="M4 11h2M4 33h2M4 55h1"/><path stroke="#704" d="M3 33h1"/><path stroke="#709" d="M2 9h1"/><path stroke="#710" d="M64 11h2M64 33h2M65 55h1"/><path stroke="#740" d="M66 33h1"/><path stroke="#75f" d="M67 65h1"/><path stroke="#77f" d="M68 21h2M68 43h1"/><path stroke="#78f" d="M69 44h1"/><path stroke="#790" d="M67 9h1"/><path stroke="#79f" d="M68 22h1M68 44h1"/><path stroke="#7bf" d="M66 44h1"/><path stroke="#7df" d="M63 0h1"/><path stroke="#7ef" d="M48 1h1"/><path stroke="#7f5" d="M2 65h1"/><path stroke="#7f7" d="M0 21h2M1 43h1"/><path stroke="#7f8" d="M0 44h1"/><path stroke="#7f9" d="M1 22h1M1 44h1"/><path stroke="#7fb" d="M3 44h1"/><path stroke="#7fd" d="M6 0h1"/><path stroke="#7fe" d="M21 1h1"/><path stroke="#7ff" d="M4 66h1M65 66h1"/><path stroke="#800" d="M8 55h54"/><path stroke="#804" d="M3 11h1M3 55h1"/><path stroke="#806" d="M1 11h1M1 33h1M1 55h1"/><path stroke="#807" d="M1 10h1M0 33h1"/><path stroke="#808" d="M0 32h2M1 54h1"/><path stroke="#840" d="M66 11h1M66 55h1"/><path stroke="#860" d="M68 11h1M68 33h1M68 55h1"/><path stroke="#86f" d="M69 65h1"/><path stroke="#870" d="M68 10h1M69 33h1"/><path stroke="#87f" d="M68 65h1"/><path stroke="#880" d="M68 32h2M68 54h1"/><path stroke="#8bf" d="M66 22h1"/><path stroke="#8cf" d="M66 66h1"/><path stroke="#8df" d="M62 0h1"/><path stroke="#8ef" d="M46 1h2M64 22h2M64 44h2"/><path stroke="#8f6" d="M0 65h1"/><path stroke="#8f7" d="M1 65h1"/><path stroke="#8fb" d="M3 22h1"/><path stroke="#8fc" d="M3 66h1"/><path stroke="#8fd" d="M7 0h1"/><path stroke="#8fe" d="M22 1h2M4 22h2M4 44h2"/><path stroke="#8ff" d="M6 22h58M6 44h58"/><path stroke="#907" d="M0 11h1M0 55h1"/><path stroke="#908" d="M0 10h1M2 11h1M2 33h1M0 54h1M2 55h1"/><path stroke="#90a" d="M2 32h1"/><path stroke="#96f" d="M67 42h1"/><path stroke="#970" d="M69 11h1M69 55h1"/><path stroke="#97f" d="M67 20h1"/><path stroke="#980" d="M69 10h1M67 11h1M67 33h1M69 54h1M67 55h1"/><path stroke="#98f" d="M69 42h1"/><path stroke="#9a0" d="M67 32h1"/><path stroke="#9af" d="M66 21h1"/><path stroke="#9bf" d="M66 43h1"/><path stroke="#9f6" d="M2 42h1"/><path stroke="#9f7" d="M2 20h1"/><path stroke="#9f8" d="M0 42h1"/><path stroke="#9fa" d="M3 21h1"/><path stroke="#9fb" d="M3 43h1"/><path stroke="#9ff" d="M24 1h2M44 1h2M18 65h34"/><path stroke="#a00" d="M25 12h20"/><path stroke="#a0a" d="M2 10h1M2 54h1"/><path stroke="#a6f" d="M67 19h1M67 41h1"/><path stroke="#a7f" d="M67 64h1"/><path stroke="#a8f" d="M69 20h1M69 41h1M68 42h1M69 64h1"/><path stroke="#a9f" d="M68 20h1"/><path stroke="#aa0" d="M67 10h1M67 54h1"/><path stroke="#aaf" d="M66 20h1M66 42h1"/><path stroke="#abf" d="M66 65h1"/><path stroke="#adf" d="M61 0h1"/><path stroke="#aef" d="M64 43h1"/><path stroke="#af6" d="M2 19h1M2 41h1"/><path stroke="#af7" d="M2 64h1"/><path stroke="#af8" d="M0 20h1M0 41h1M1 42h1M0 64h1"/><path stroke="#af9" d="M1 20h1"/><path stroke="#afa" d="M3 20h1M3 42h1"/><path stroke="#afb" d="M3 65h1"/><path stroke="#afd" d="M8 0h1"/><path stroke="#afe" d="M5 43h1"/><path stroke="#aff" d="M26 1h2M42 1h2M12 65h6M52 65h6"/><path stroke="#b00" d="M9 12h16M45 12h16"/><path stroke="#b6f" d="M67 18h1M67 40h1M67 63h1"/><path stroke="#b8f" d="M68 19h2M69 63h1"/><path stroke="#b9f" d="M68 41h1M68 64h1"/><path stroke="#bbf" d="M66 64h1"/><path stroke="#bef" d="M60 0h1M64 21h1"/><path stroke="#bf6" d="M2 18h1M2 40h1M2 63h1"/><path stroke="#bf8" d="M0 19h2M0 63h1"/><path stroke="#bf9" d="M1 41h1M1 64h1"/><path stroke="#bfb" d="M3 64h1"/><path stroke="#bfe" d="M9 0h1M5 21h1"/><path stroke="#bff" d="M28 1h14M6 21h58M4 43h1M6 43h58M65 43h1M7 65h5M58 65h5"/><path stroke="#c00" d="M6 12h3M61 12h3M4 34h62M4 56h5M61 56h5"/><path stroke="#c01" d="M4 12h2"/><path stroke="#c02" d="M3 34h1M3 56h1"/><path stroke="#c03" d="M3 12h1"/><path stroke="#c04" d="M0 12h2M0 34h2M1 56h1"/><path stroke="#c05" d="M2 12h1M2 34h1M0 56h1"/><path stroke="#c06" d="M2 56h1"/><path stroke="#c10" d="M64 12h2"/><path stroke="#c20" d="M66 34h1M66 56h1"/><path stroke="#c30" d="M66 12h1"/><path stroke="#c40" d="M68 12h2M68 34h2M68 56h1"/><path stroke="#c50" d="M67 12h1M67 34h1M69 56h1"/><path stroke="#c60" d="M67 56h1"/><path stroke="#c6f" d="M67 17h1M67 39h1M67 62h1"/><path stroke="#c8f" d="M69 18h1M69 40h1M69 62h1M68 63h1"/><path stroke="#c9f" d="M68 18h1M68 40h1"/><path stroke="#cbf" d="M66 19h1M66 41h1"/><path stroke="#cef" d="M59 0h1"/><path stroke="#cf6" d="M2 17h1M2 39h1M2 62h1"/><path stroke="#cf8" d="M0 18h1M0 40h1M0 62h1M1 63h1"/><path stroke="#cf9" d="M1 18h1M1 40h1"/><path stroke="#cfb" d="M3 19h1M3 41h1"/><path stroke="#cfe" d="M10 0h1"/><path stroke="#cff" d="M4 21h1M65 21h1M26 64h18M5 65h2M63 65h2"/><path stroke="#d00" d="M9 56h22M39 56h22"/><path stroke="#d6f" d="M67 61h1"/><path stroke="#d8f" d="M68 17h2M68 39h2M69 61h1"/><path stroke="#d9f" d="M68 62h1"/><path stroke="#dbf" d="M66 63h1"/><path stroke="#def" d="M64 42h1"/><path stroke="#df6" d="M2 61h1"/><path stroke="#df8" d="M0 17h2M0 39h2M0 61h1"/><path stroke="#df9" d="M1 62h1"/><path stroke="#dfb" d="M3 63h1"/><path stroke="#dfe" d="M5 42h1"/><path stroke="#dff" d="M7 42h56M12 64h14M44 64h14M4 65h1M65 65h1"/><path stroke="#e00" d="M31 56h8"/><path stroke="#e8f" d="M68 61h1"/><path stroke="#ebf" d="M66 18h1M66 40h1M66 62h1"/><path stroke="#eef" d="M58 0h1M64 20h1"/><path stroke="#ef8" d="M1 61h1"/><path stroke="#efb" d="M3 18h1M3 40h1M3 62h1"/><path stroke="#efe" d="M11 0h1M5 20h1"/><path stroke="#eff" d="M4 20h1M6 20h58M65 20h1M4 42h1M6 42h1M63 42h1M65 42h1M5 64h7M58 64h7"/><path stroke="#f00" d="M0 13h70M0 35h70M0 57h70"/><path stroke="#f44" d="M14 14h42"/><path stroke="#f45" d="M11 14h3"/><path stroke="#f4c" d="M67 58h1"/><path stroke="#f54" d="M56 14h3"/><path stroke="#f55" d="M4 14h7M59 14h7M6 36h58"/><path stroke="#f56" d="M64 36h2M62 58h4"/><path stroke="#f59" d="M66 14h1M66 36h1M66 58h1"/><path stroke="#f5a" d="M68 58h1"/><path stroke="#f5b" d="M68 14h1M68 36h1M69 58h1"/><path stroke="#f5c" d="M69 14h1M69 36h1"/><path stroke="#f5d" d="M67 14h1M67 36h1"/><path stroke="#f65" d="M4 36h2M4 58h4"/><path stroke="#f66" d="M8 58h11M51 58h11"/><path stroke="#f67" d="M49 58h2"/><path stroke="#f6d" d="M69 59h1"/><path stroke="#f6e" d="M69 15h1M67 59h1"/><path stroke="#f6f" d="M67 15h1M67 16h1M67 37h1M67 38h1M67 60h1"/><path stroke="#f76" d="M19 58h2"/><path stroke="#f77" d="M21 58h28"/><path stroke="#f7c" d="M66 59h1"/><path stroke="#f7d" d="M68 15h1M68 37h1M68 59h1"/><path stroke="#f7e" d="M69 37h1"/><path stroke="#f7f" d="M69 16h1M69 38h1M69 60h1"/><path stroke="#f88" d="M7 15h1M9 15h52M62 15h1"/><path stroke="#f89" d="M8 15h1M64 15h1M64 59h1"/><path stroke="#f8c" d="M66 15h1M66 37h1"/><path stroke="#f8f" d="M68 16h1M68 38h1M68 60h1"/><path stroke="#f95" d="M3 14h1M3 36h1M3 58h1"/><path stroke="#f98" d="M5 15h1M61 15h1M5 59h1"/><path stroke="#f99" d="M4 15h1M6 15h1M63 15h1M65 15h1M5 37h60M4 59h1M6 59h15M49 59h15M65 59h1"/><path stroke="#f9a" d="M65 37h1M47 59h2"/><path stroke="#f9f" d="M66 60h1"/><path stroke="#fa5" d="M1 58h1"/><path stroke="#fa9" d="M4 37h1M21 59h2"/><path stroke="#faa" d="M23 59h24"/><path stroke="#faf" d="M66 16h1M66 38h1M66 61h1"/><path stroke="#fb5" d="M1 14h1M1 36h1M0 58h1"/><path stroke="#fbb" d="M20 16h30"/><path stroke="#fbc" d="M18 16h2M64 60h1"/><path stroke="#fbf" d="M66 17h1M66 39h1"/><path stroke="#fc4" d="M2 58h1"/><path stroke="#fc5" d="M0 14h1M0 36h1"/><path stroke="#fc7" d="M3 59h1"/><path stroke="#fc8" d="M3 15h1M3 37h1"/><path stroke="#fcb" d="M50 16h2M5 60h1"/><path stroke="#fcc" d="M4 16h14M52 16h14M6 38h58M4 60h1M6 60h11M53 60h11M65 60h1"/><path stroke="#fcd" d="M64 38h1M52 60h1"/><path stroke="#fd5" d="M2 14h1M2 36h1"/><path stroke="#fd6" d="M0 59h1"/><path stroke="#fd7" d="M1 15h1M1 37h1M1 59h1"/><path stroke="#fdc" d="M5 38h1M17 60h1"/><path stroke="#fdd" d="M4 38h1M65 38h1M18 60h34"/><path stroke="#fde" d="M64 61h1"/><path stroke="#fe6" d="M0 15h1M2 59h1"/><path stroke="#fe7" d="M0 37h1"/><path stroke="#fed" d="M5 61h1"/><path stroke="#fee" d="M25 0h20M5 17h60M6 39h58M4 61h1M6 61h10M54 61h10M65 61h1"/><path stroke="#fef" d="M56 0h2M64 39h1"/><path stroke="#ff6" d="M2 15h1M2 16h1M2 37h1M2 38h1M2 60h1"/><path stroke="#ff7" d="M0 16h1M0 38h1M0 60h1"/><path stroke="#ff8" d="M1 16h1M1 38h1M1 60h1"/><path stroke="#ff9" d="M3 60h1"/><path stroke="#ffa" d="M3 16h1M3 38h1M3 61h1"/><path stroke="#ffb" d="M3 17h1M3 39h1"/><path stroke="#ffe" d="M12 0h2M5 39h1"/><path stroke="#fff" d="M14 0h11M45 0h11M4 17h1M65 17h1M4 18h62M4 19h62M4 39h1M65 39h1M4 40h62M4 41h62M16 61h38M4 62h62M4 63h62M4 64h1M65 64h1"/></g></g></g>
<g clip-path="url(#cp0)"><g filter="url(#bp0)"><g transform="translate(-2.43 539.95) scale(4.97813 5.01562) translate(0 .5)" fill="none" stroke-width="1.04"><path stroke="#000" d="M45 4h11M46 5h2M53 5h2M4 6h13M46 6h9M4 7h17M47 7h7M4 8h1M14 8h9M48 8h6M19 9h5M48 9h5M21 10h4M49 10h3M23 11h4M24 12h4M25 13h4M26 14h3M27 15h3M28 16h3M29 17h2M30 18h2M30 19h2M31 20h2M31 21h2M32 22h2M32 23h2M33 24h2M33 25h2M4 26h1M33 26h3M4 27h5M34 27h3M6 28h5M34 28h8M65 28h1M8 29h5M34 29h32M10 30h5M33 30h3M40 30h26M12 31h5M31 31h4M14 32h5M29 32h5M16 33h7M27 33h5M19 34h11M24 35h2M38 49h11M4 50h6M34 50h19M4 51h6M31 51h8M48 51h8M4 52h1M6 52h1M30 52h5M52 52h6M28 53h4M55 53h5M27 54h3M57 54h4M26 55h3M58 55h4M26 56h2M59 56h4M25 57h1M60 57h4M25 58h2M61 58h3M24 59h2M62 59h2M24 60h2M62 60h3M24 61h2M63 61h3M23 62h2M63 62h3M23 63h2M63 63h3M23 64h2M64 64h2M23 65h2M64 65h2"/><path stroke="#001" d="M48 5h3M32 24h1M5 26h1M63 28h1M33 29h1M32 30h1M30 31h1M26 33h1M37 49h1M33 50h1M29 52h1M27 53h1M25 56h1M26 57h1M24 58h1M23 61h1M22 65h1"/><path stroke="#002" d="M44 4h1M32 29h1M26 54h1M24 57h1M23 60h1M22 63h1"/><path stroke="#003" d="M25 55h1M23 59h1"/><path stroke="#004" d="M44 3h1M3 6h1M3 25h1M3 26h1M31 29h1M3 50h1M24 56h1M23 58h1"/><path stroke="#005" d="M43 3h1M3 5h1M3 49h1M25 54h1"/><path stroke="#006" d="M3 4h1M31 28h1M24 55h1"/><path stroke="#007" d="M42 3h1M1 4h1M1 24h1M1 48h1M25 53h1M24 54h1"/><path stroke="#008" d="M0 4h1M0 24h1M30 28h1M0 48h1"/><path stroke="#009" d="M41 1h1M2 4h1M2 24h1M2 48h1"/><path stroke="#00a" d="M41 0h1M41 2h1M24 53h1"/><path stroke="#00b" d="M29 28h1"/><path stroke="#00f" d="M28 27h1M24 51h1M24 52h1M23 53h1M23 54h1M22 55h1M22 56h1M21 58h1M20 60h1M19 62h1M18 65h1M17 66h1M17 67h1M16 68h1M15 69h1"/><path stroke="#010" d="M51 5h2M17 6h1M21 7h1M23 8h1M24 9h1M25 10h1M29 14h1M30 15h1M31 17h1M32 18h1M32 19h1M33 20h1M33 21h1M34 22h1M34 23h1M35 24h1M35 25h1M36 26h1M11 28h1M42 28h1M64 28h1M13 29h1M15 30h1M17 31h1M19 32h1M49 49h1M10 50h1M53 50h1M56 51h1M58 52h1M60 53h1M61 54h1M62 55h1M63 56h1M64 57h1M64 58h1M64 59h2M65 60h1M25 62h1M25 63h1M25 65h1"/><path stroke="#011" d="M4 5h1M6 5h8M18 6h2M6 26h2M9 27h1M37 27h3M65 27h1M12 28h1M43 28h20M14 29h1M20 32h1M28 32h1M23 33h3M41 48h5M4 49h1M35 49h2M50 49h2M32 50h1M54 50h1M30 51h1M57 51h1M59 52h1"/><path stroke="#012" d="M5 5h1M31 30h1M29 31h1M27 32h1M5 49h1M28 52h1"/><path stroke="#013" d="M30 30h1M29 51h1M27 52h1"/><path stroke="#014" d="M26 53h1"/><path stroke="#016" d="M30 29h1M3 48h1M26 52h1"/><path stroke="#018" d="M25 52h1"/><path stroke="#019" d="M42 2h1M2 47h1"/><path stroke="#01f" d="M28 28h1"/><path stroke="#020" d="M26 10h1M27 11h1M28 12h1M29 13h1M31 16h1M34 21h1M35 23h1M36 25h1M63 55h1M64 56h1M65 57h1M65 58h1"/><path stroke="#021" d="M20 6h2M22 7h1M24 8h1M25 9h1M4 25h1M37 26h1M10 27h1M40 27h1M13 28h1M16 30h1M18 31h1M6 49h4M52 49h1M55 50h1M58 51h1M60 52h1M61 53h1M62 54h1"/><path stroke="#022" d="M14 5h3M8 26h1M11 27h1M41 27h2M62 27h3M21 32h1M38 48h3M46 48h3M34 49h1"/><path stroke="#023" d="M60 27h2M28 31h1M26 32h1M37 48h1M33 49h1M31 50h1"/><path stroke="#024" d="M45 3h1M30 50h1M28 51h1"/><path stroke="#025" d="M29 30h1"/><path stroke="#026" d="M3 24h1"/><path stroke="#028" d="M42 1h1M1 47h1"/><path stroke="#029" d="M0 23h1M0 47h1"/><path stroke="#02a" d="M2 23h1"/><path stroke="#030" d="M56 4h1M30 14h1M32 17h1M33 19h1M36 24h1M65 56h1"/><path stroke="#031" d="M23 7h1M15 29h1M17 30h1M10 49h1M62 53h1M63 54h1M64 55h1"/><path stroke="#032" d="M17 5h2M22 6h1M9 26h1M38 26h1M43 27h1M19 31h1M22 32h1M49 48h1M53 49h2M56 50h2M59 51h1M61 52h1"/><path stroke="#033" d="M47 3h1M19 5h1M5 25h2M44 27h3M57 27h3M25 32h1M50 48h1"/><path stroke="#034" d="M46 3h1M49 3h1M4 4h1M65 26h1M56 27h1M36 48h1"/><path stroke="#035" d="M48 3h1M27 31h1M35 48h1M32 49h1"/><path stroke="#036" d="M29 50h1M27 51h1"/><path stroke="#037" d="M43 1h1M28 30h1"/><path stroke="#038" d="M29 29h1M26 51h1"/><path stroke="#039" d="M42 0h1"/><path stroke="#03a" d="M2 3h1"/><path stroke="#03c" d="M25 51h1"/><path stroke="#03f" d="M16 67h1"/><path stroke="#040" d="M31 15h1M33 18h1M34 20h1M35 22h1M66 27h1M66 28h1M11 50h1M65 55h1"/><path stroke="#041" d="M24 7h1M25 8h1M26 9h1M27 10h1M28 11h1M37 25h1M64 54h1"/><path stroke="#042" d="M55 3h1M23 6h1M12 27h1M14 28h1M16 29h1M60 51h1M63 53h1"/><path stroke="#043" d="M53 3h2M20 5h2M7 25h1M10 26h1M39 26h2M47 27h1M23 32h1M51 48h1M55 49h1"/><path stroke="#044" d="M5 4h9M63 26h1M48 27h8M24 32h1M4 48h4"/><path stroke="#045" d="M50 3h1M62 26h1M42 47h1"/><path stroke="#046" d="M34 48h1M31 49h1"/><path stroke="#047" d="M44 1h1M30 49h1M28 50h1"/><path stroke="#048" d="M43 0h1M3 47h1"/><path stroke="#049" d="M1 23h1"/><path stroke="#04a" d="M0 3h2"/><path stroke="#04f" d="M25 50h1"/><path stroke="#050" d="M56 3h1M30 13h1M32 16h1M35 21h1M36 23h1M66 26h1M11 49h1"/><path stroke="#051" d="M29 12h1"/><path stroke="#052" d="M18 30h1M62 52h1"/><path stroke="#053" d="M51 3h2M22 5h1M11 26h1M13 27h1M15 28h1M20 31h1M58 50h1"/><path stroke="#054" d="M14 4h3M8 25h1M41 26h2M64 26h1M8 48h2M52 48h1M56 49h1"/><path stroke="#055" d="M48 1h1M17 4h1M61 26h1M39 47h3M43 47h5"/><path stroke="#056" d="M48 0h1M45 1h1M59 26h2M26 31h1M37 47h2"/><path stroke="#057" d="M44 0h1M33 48h1"/><path stroke="#058" d="M27 30h1M32 48h1"/><path stroke="#059" d="M43 2h1M29 49h1M27 50h1"/><path stroke="#05a" d="M28 29h1"/><path stroke="#05e" d="M26 50h1"/><path stroke="#060" d="M31 14h1M33 17h1M34 19h1M36 22h1"/><path stroke="#061" d="M25 7h1M26 8h1M27 9h1M28 10h1M37 24h1"/><path stroke="#062" d="M24 6h1M64 53h1M65 54h1"/><path stroke="#063" d="M23 5h1M38 25h1M66 25h1M17 29h1M10 48h1M59 50h1M61 51h1M63 52h1"/><path stroke="#064" d="M21 31h1M53 48h1M57 49h1"/><path stroke="#065" d="M18 4h2M9 25h1M43 26h2M48 47h2"/><path stroke="#066" d="M46 1h1M50 1h1M53 1h2M4 24h2M45 26h1M58 26h1M22 31h1"/><path stroke="#067" d="M45 0h1M47 1h1M49 1h1M56 26h2M25 31h1M4 47h1M36 47h1"/><path stroke="#068" d="M49 0h1M35 47h1"/><path stroke="#069" d="M44 2h1M3 3h1"/><path stroke="#06a" d="M31 48h1"/><path stroke="#06c" d="M2 46h1"/><path stroke="#06d" d="M28 49h1"/><path stroke="#06f" d="M27 28h1M27 29h1"/><path stroke="#070" d="M57 3h1M35 20h1M68 26h1"/><path stroke="#071" d="M29 11h1M30 12h1M32 15h1M37 23h1"/><path stroke="#072" d="M65 53h1"/><path stroke="#073" d="M16 28h1"/><path stroke="#074" d="M56 1h1M39 25h1M12 26h1M14 27h1M19 30h1M60 50h1M62 51h1"/><path stroke="#075" d="M52 1h1M55 1h1M20 4h1M10 25h1M40 25h1M54 48h1"/><path stroke="#076" d="M51 0h3M55 0h1M51 1h1M21 4h1M6 24h2M46 26h1M50 47h2M55 48h1"/><path stroke="#077" d="M46 0h2M50 0h1M54 0h1M64 25h2M47 26h9M23 31h2M6 47h2"/><path stroke="#078" d="M48 2h1M61 25h3M5 47h1"/><path stroke="#07a" d="M3 23h1M34 47h1"/><path stroke="#07b" d="M0 2h1M26 30h1"/><path stroke="#07c" d="M2 2h1M0 46h1"/><path stroke="#07d" d="M30 48h1"/><path stroke="#07f" d="M27 49h1"/><path stroke="#080" d="M34 18h1M36 21h1M69 26h1M12 49h1M66 55h1"/><path stroke="#081" d="M27 8h1M28 9h1M31 13h1M33 16h1M69 25h1"/><path stroke="#082" d="M57 0h1M57 1h1M25 6h1M26 7h1M68 25h1"/><path stroke="#083" d="M24 5h1M38 24h1M11 48h1M64 52h1"/><path stroke="#084" d="M15 27h1M17 28h1M18 29h1M63 51h1"/><path stroke="#085" d="M56 0h1M22 4h1M13 26h1M20 30h1M58 49h1M61 50h1"/><path stroke="#086" d="M11 25h1M41 25h1M9 47h1M52 47h1M56 48h1M59 49h1"/><path stroke="#087" d="M8 24h1M42 25h1M8 47h1"/><path stroke="#088" d="M40 46h7"/><path stroke="#089" d="M45 2h3M49 2h1M59 25h2M39 46h1"/><path stroke="#08a" d="M58 25h1M38 46h1"/><path stroke="#08b" d="M1 2h1"/><path stroke="#08c" d="M1 46h1M33 47h1"/><path stroke="#08f" d="M26 49h1"/><path stroke="#090" d="M67 26h1M66 54h1"/><path stroke="#091" d="M32 14h1M35 19h1M37 22h1M67 25h1"/><path stroke="#092" d="M29 10h1M67 24h1"/><path stroke="#093" d="M57 2h1M69 24h1"/><path stroke="#094" d="M23 4h1M68 24h1M65 52h1"/><path stroke="#095" d="M39 24h1"/><path stroke="#096" d="M56 2h1M10 47h1M60 49h1M62 50h1"/><path stroke="#097" d="M55 2h1M66 24h1M53 47h1M57 48h1"/><path stroke="#098" d="M50 2h5M43 25h2M47 46h2"/><path stroke="#099" d="M4 3h9"/><path stroke="#09a" d="M64 24h1M57 25h1"/><path stroke="#09b" d="M3 2h1M63 24h1M37 46h1"/><path stroke="#09c" d="M3 46h1"/><path stroke="#09d" d="M0 1h1M2 1h1M36 46h1"/><path stroke="#09f" d="M26 29h1M32 47h1M28 48h2"/><path stroke="#0a0" d="M34 17h1M68 54h1M68 55h1M69 56h1M69 57h1"/><path stroke="#0a1" d="M36 20h1M66 53h1"/><path stroke="#0a2" d="M25 5h1M26 6h1M27 7h1M30 11h1M12 48h1M69 55h1"/><path stroke="#0a3" d="M24 4h1M38 23h1"/><path stroke="#0a5" d="M14 26h1M16 27h1M19 29h1M64 51h1"/><path stroke="#0a6" d="M12 25h1"/><path stroke="#0a7" d="M9 24h1M40 24h1"/><path stroke="#0a8" d="M49 46h1M54 47h1"/><path stroke="#0a9" d="M13 3h6M45 25h1"/><path stroke="#0ab" d="M65 24h1M56 25h1"/><path stroke="#0ac" d="M62 24h1M55 25h1"/><path stroke="#0ad" d="M1 1h1M61 24h1M25 30h1"/><path stroke="#0af" d="M30 47h2"/><path stroke="#0b0" d="M58 0h1M58 1h1M58 2h1M67 53h1M67 54h1"/><path stroke="#0b2" d="M28 8h1M68 53h1"/><path stroke="#0b3" d="M66 52h1M69 54h1"/><path stroke="#0b5" d="M65 51h1"/><path stroke="#0b6" d="M63 50h1"/><path stroke="#0b7" d="M21 30h1M58 48h1M61 49h1"/><path stroke="#0b8" d="M23 3h1"/><path stroke="#0b9" d="M22 3h1M5 23h1M46 25h1M50 46h1"/><path stroke="#0ba" d="M19 3h3"/><path stroke="#0bb" d="M4 2h13"/><path stroke="#0bd" d="M3 1h1M54 25h1"/><path stroke="#0be" d="M60 24h1"/><path stroke="#0bf" d="M66 22h1M33 46h3"/><path stroke="#0c1" d="M31 12h1"/><path stroke="#0c2" d="M37 21h1M67 52h1"/><path stroke="#0c3" d="M25 4h1"/><path stroke="#0c4" d="M66 51h1M68 52h1"/><path stroke="#0c5" d="M18 28h1M69 53h1"/><path stroke="#0c6" d="M24 3h1"/><path stroke="#0c7" d="M64 50h1"/><path stroke="#0c8" d="M69 23h1M10 24h1M55 47h1"/><path stroke="#0c9" d="M41 24h1"/><path stroke="#0ca" d="M6 23h1M47 25h1M51 46h1"/><path stroke="#0cb" d="M17 2h4M4 23h1M6 46h1"/><path stroke="#0cc" d="M4 46h2"/><path stroke="#0cd" d="M4 1h5M53 25h1"/><path stroke="#0cf" d="M67 22h1M65 23h1M59 24h1M25 29h1"/><path stroke="#0d0" d="M33 15h1M35 18h1"/><path stroke="#0d2" d="M26 5h1M29 9h1"/><path stroke="#0d6" d="M15 26h1M11 47h1"/><path stroke="#0d7" d="M13 25h1"/><path stroke="#0d8" d="M59 48h1M62 49h1"/><path stroke="#0d9" d="M22 30h1"/><path stroke="#0da" d="M23 2h1M42 24h1"/><path stroke="#0db" d="M21 2h2M68 23h1M48 25h1M7 46h2"/><path stroke="#0dc" d="M9 1h6M49 25h1"/><path stroke="#0dd" d="M15 1h1M50 25h1M52 25h1"/><path stroke="#0df" d="M60 23h1M62 23h3M58 24h1M36 45h1"/><path stroke="#0e1" d="M27 6h1"/><path stroke="#0e2" d="M38 22h1"/><path stroke="#0e4" d="M67 51h1"/><path stroke="#0e5" d="M39 23h1"/><path stroke="#0e7" d="M65 50h1"/><path stroke="#0e8" d="M24 2h1M69 52h1"/><path stroke="#0e9" d="M11 24h1"/><path stroke="#0ea" d="M56 47h1"/><path stroke="#0eb" d="M7 23h1M52 46h1"/><path stroke="#0ed" d="M16 1h2"/><path stroke="#0ee" d="M51 25h1"/><path stroke="#0ef" d="M61 23h1M56 24h2M24 30h1M37 45h7"/><path stroke="#0f0" d="M25 1h1M25 2h1M26 3h1M27 5h1M29 8h1M30 9h1M30 10h1M31 11h1M32 12h1M32 13h1M33 14h1M34 15h1M34 16h1M35 17h1M36 18h1M36 19h1M37 20h1M13 48h2"/><path stroke="#0f1" d="M26 4h2M28 6h1M28 7h1M31 10h1M33 13h1M38 21h1M32 67h1"/><path stroke="#0f2" d="M35 16h1"/><path stroke="#0f3" d="M29 7h1M37 19h1"/><path stroke="#0f4" d="M25 3h1"/><path stroke="#0f5" d="M39 22h1M12 47h2"/><path stroke="#0f6" d="M17 27h2M19 28h1"/><path stroke="#0f7" d="M16 26h1M20 29h1M66 50h1M68 51h1"/><path stroke="#0f8" d="M24 1h1M14 25h2M17 26h1M20 28h1"/><path stroke="#0f9" d="M40 23h1M12 24h2M11 46h1M63 49h1"/><path stroke="#0fa" d="M21 29h1M10 46h1M60 48h2M64 49h2"/><path stroke="#0fb" d="M8 23h1M41 23h1M9 46h1M57 47h2M62 48h1M67 50h1"/><path stroke="#0fc" d="M23 1h1M9 23h3M42 23h1M67 23h1M43 24h1M53 46h2M59 47h1"/><path stroke="#0fd" d="M18 1h2M44 24h1M22 29h1M23 30h1M52 45h1M55 46h2"/><path stroke="#0fe" d="M20 1h3M6 22h2M45 24h2M8 45h1M44 45h8M69 51h1"/><path stroke="#0ff" d="M0 22h6M68 22h2M66 23h1M47 24h4M53 24h3M0 45h8"/><path stroke="#100" d="M5 8h9M47 8h1M16 9h3M20 10h1M52 10h1M22 11h1M50 11h2M4 28h2M4 29h1M6 29h2M8 30h2M36 30h4M11 31h1M35 31h1M46 31h18M65 31h1M13 32h1M15 33h1M32 33h1M17 34h2M30 34h1M20 35h4M26 35h2M39 51h9M5 52h1M7 52h2M35 52h3M49 52h3M4 53h1M32 53h2M53 53h2M30 54h1M56 54h1M29 55h1M27 57h1"/><path stroke="#101" d="M45 5h1M46 7h1M48 10h1M23 12h1M24 13h1M27 16h1M28 17h1M29 18h1M29 19h1M30 20h1M31 22h1M32 25h1M33 27h1M55 54h1M57 55h1M58 56h1M59 57h1M60 58h1M61 59h1M61 60h1M62 61h1M62 62h1M22 64h1M63 64h1M63 65h1"/><path stroke="#102" d="M45 6h1M31 23h1M32 26h1M33 28h1M62 63h1"/><path stroke="#103" d="M32 28h1M22 62h1M21 65h1"/><path stroke="#104" d="M22 61h1M21 64h1"/><path stroke="#105" d="M22 60h1M21 63h1"/><path stroke="#106" d="M1 6h1M23 57h1M22 59h1M21 62h1M20 65h1"/><path stroke="#107" d="M1 25h1M1 49h1M23 56h1"/><path stroke="#109" d="M2 25h1"/><path stroke="#10a" d="M23 55h1"/><path stroke="#10d" d="M21 59h1"/><path stroke="#10f" d="M23 52h1M21 57h1M20 61h1M19 63h1M18 64h1"/><path stroke="#110" d="M54 7h1M53 9h1M34 32h1M10 51h1M9 52h1M31 54h1M30 55h1M28 56h1M28 57h1M27 58h1M26 59h1M26 60h1M26 61h1M25 64h1"/><path stroke="#11f" d="M17 65h1"/><path stroke="#120" d="M55 5h1M55 6h1M54 8h1M27 59h1M26 62h1M26 63h1"/><path stroke="#170" d="M68 27h1"/><path stroke="#180" d="M66 56h1"/><path stroke="#190" d="M68 56h1M69 58h1M69 59h1"/><path stroke="#1bf" d="M32 46h1"/><path stroke="#1d0" d="M13 49h1"/><path stroke="#1df" d="M65 22h1"/><path stroke="#1f0" d="M32 68h1"/><path stroke="#1f3" d="M24 0h1"/><path stroke="#1fb" d="M63 48h1"/><path stroke="#1fc" d="M60 47h1"/><path stroke="#1fd" d="M15 0h1M43 23h1M9 45h1"/><path stroke="#1fe" d="M0 0h3M12 0h3"/><path stroke="#1ff" d="M3 0h9M51 24h2M68 50h1"/><path stroke="#200" d="M14 9h2M39 31h7M22 36h3M38 52h5M44 52h5M5 53h3"/><path stroke="#201" d="M47 9h1M18 10h2M21 11h1M49 11h1M22 12h1M25 14h1M26 15h1M5 29h1M7 30h1M10 31h1M12 32h1M14 33h1M16 34h1M18 35h2M51 53h2M54 54h1M56 55h1"/><path stroke="#202" d="M46 8h1M28 18h1M30 21h1M59 58h1M60 59h1M61 61h1M62 64h1"/><path stroke="#203" d="M44 5h1M31 24h1M32 27h1M61 62h1"/><path stroke="#204" d="M3 27h1M3 51h1"/><path stroke="#206" d="M1 26h1M1 50h1"/><path stroke="#207" d="M0 5h2M0 6h1M0 25h1M0 26h1M0 49h1M21 61h1"/><path stroke="#208" d="M22 58h1M20 63h1M20 64h1"/><path stroke="#209" d="M2 49h1"/><path stroke="#20a" d="M21 60h1M19 65h1"/><path stroke="#20b" d="M22 57h1M20 62h1"/><path stroke="#20c" d="M19 64h1"/><path stroke="#20f" d="M22 54h1M20 59h1M19 61h1"/><path stroke="#210" d="M52 11h1M36 31h1M64 31h1M33 33h1M31 34h1M28 35h1M34 53h2M32 54h1M29 56h1"/><path stroke="#220" d="M53 10h1M10 52h1M28 58h1M27 60h1M26 64h1"/><path stroke="#22f" d="M55 68h1"/><path stroke="#230" d="M55 7h1M27 61h1M27 62h1M26 65h1"/><path stroke="#23f" d="M55 67h1"/><path stroke="#240" d="M66 29h1M11 51h1M27 63h1"/><path stroke="#250" d="M66 63h1"/><path stroke="#260" d="M68 28h1M66 60h1M66 61h1M66 62h1"/><path stroke="#26f" d="M24 50h1M15 68h1"/><path stroke="#270" d="M69 27h1M69 28h1M66 57h1M66 58h1M66 59h1"/><path stroke="#290" d="M67 27h1M68 57h1M68 58h1M68 59h1M69 60h1M69 61h1M69 62h1"/><path stroke="#2a0" d="M67 55h1"/><path stroke="#2c0" d="M58 3h1"/><path stroke="#2cf" d="M35 45h1"/><path stroke="#2df" d="M64 22h1M58 23h2"/><path stroke="#2f1" d="M33 69h1"/><path stroke="#2f3" d="M32 11h1"/><path stroke="#2f4" d="M30 8h1"/><path stroke="#2f5" d="M38 20h1"/><path stroke="#2f8" d="M19 27h1"/><path stroke="#2f9" d="M40 22h1M14 24h1M16 25h1M12 46h1"/><path stroke="#2fc" d="M17 0h1M57 46h1"/><path stroke="#2fd" d="M16 0h1M8 22h1M53 45h1M66 49h1"/><path stroke="#2ff" d="M23 29h2M41 44h6"/><path stroke="#300" d="M4 9h1M6 9h1M9 9h5M38 31h1M54 32h10M65 32h1M25 36h1M43 52h1M4 54h1M65 66h1"/><path stroke="#301" d="M17 10h1M20 11h1M6 30h1M9 31h1M11 32h1M13 33h1M20 36h2M49 53h2M53 54h1"/><path stroke="#302" d="M47 10h1M48 11h1M23 13h1M24 14h1M25 15h1M55 55h1M57 56h1M58 57h1"/><path stroke="#303" d="M45 7h1M46 9h1M26 16h1M27 17h1M29 20h1M30 22h1M60 60h1M61 63h1M62 65h1"/><path stroke="#304" d="M44 6h1M31 25h1M60 61h1M61 64h1"/><path stroke="#305" d="M43 4h1M31 26h1"/><path stroke="#306" d="M31 27h1M1 51h1"/><path stroke="#307" d="M0 50h1M0 51h1"/><path stroke="#309" d="M2 5h1M2 6h1M2 50h1"/><path stroke="#30d" d="M29 27h1M18 66h1"/><path stroke="#30e" d="M40 0h1"/><path stroke="#310" d="M37 31h1M35 32h1M29 35h1M26 36h1M8 53h2M36 53h2M33 54h1M24 66h1"/><path stroke="#31f" d="M18 63h1"/><path stroke="#320" d="M31 55h1M30 56h1M29 57h1"/><path stroke="#32f" d="M55 69h1"/><path stroke="#330" d="M54 9h1M28 59h1"/><path stroke="#340" d="M56 5h1M55 8h1M28 60h1M27 64h1"/><path stroke="#34f" d="M54 69h1"/><path stroke="#350" d="M56 6h1M66 64h1M27 65h1M66 65h1"/><path stroke="#35f" d="M14 69h1"/><path stroke="#360" d="M68 29h1"/><path stroke="#370" d="M12 50h1"/><path stroke="#380" d="M68 60h1M68 61h1M68 62h1M68 63h1M69 65h1"/><path stroke="#390" d="M67 28h1M69 63h1M69 64h1"/><path stroke="#39f" d="M69 21h1M25 49h1"/><path stroke="#3a0" d="M67 56h1M67 57h1M67 58h1M67 59h1"/><path stroke="#3af" d="M27 48h1"/><path stroke="#3bf" d="M29 47h1"/><path stroke="#3df" d="M63 22h1"/><path stroke="#3ef" d="M40 44h1"/><path stroke="#3f3" d="M28 5h1M32 66h1"/><path stroke="#3f4" d="M34 14h1"/><path stroke="#3f5" d="M36 17h1M33 68h1"/><path stroke="#3f7" d="M39 21h1"/><path stroke="#3fb" d="M12 23h1M64 48h1"/><path stroke="#3fc" d="M18 0h1M10 45h1M58 46h1M61 47h1"/><path stroke="#3fd" d="M9 22h1M44 23h1"/><path stroke="#3fe" d="M47 44h2"/><path stroke="#3ff" d="M69 50h1"/><path stroke="#400" d="M7 9h2M50 12h2M47 32h7M5 54h2"/><path stroke="#401" d="M5 9h1M16 10h1M4 30h2M8 31h1M15 34h1M17 35h1M47 53h2M52 54h1M22 66h2"/><path stroke="#402" d="M19 11h1M21 12h1M10 32h1M54 55h1M56 56h1"/><path stroke="#403" d="M22 13h1M57 57h1"/><path stroke="#404" d="M3 7h1M45 8h1M28 19h1M3 52h1M58 58h1M59 59h1M60 62h1"/><path stroke="#405" d="M3 8h1M30 23h1M60 63h1M61 65h1"/><path stroke="#406" d="M43 5h1M1 8h1"/><path stroke="#407" d="M1 27h1"/><path stroke="#409" d="M2 26h1M2 27h1M30 27h1M2 51h1"/><path stroke="#40b" d="M41 3h1"/><path stroke="#40f" d="M56 68h1"/><path stroke="#410" d="M64 32h1M30 35h1M27 36h1M38 53h2M7 54h1M34 54h1"/><path stroke="#41f" d="M21 56h1M56 67h1"/><path stroke="#420" d="M36 32h1M34 33h1M32 34h1M32 55h1"/><path stroke="#430" d="M53 11h1M10 53h1"/><path stroke="#43f" d="M27 27h1"/><path stroke="#440" d="M54 10h1M66 30h1M29 58h1"/><path stroke="#44f" d="M23 51h1"/><path stroke="#450" d="M28 61h1M28 62h1"/><path stroke="#45f" d="M54 66h1"/><path stroke="#460" d="M56 7h1M28 63h1M28 65h1"/><path stroke="#470" d="M57 4h1M69 29h1M28 64h1M68 65h1"/><path stroke="#47f" d="M67 21h1M16 66h1M13 69h1"/><path stroke="#480" d="M68 64h1"/><path stroke="#48f" d="M68 21h1"/><path stroke="#490" d="M67 29h1M67 61h1M67 62h1M67 63h1M67 65h1"/><path stroke="#49f" d="M14 68h1"/><path stroke="#4a0" d="M67 60h1"/><path stroke="#4af" d="M14 67h2"/><path stroke="#4bf" d="M31 46h1"/><path stroke="#4cf" d="M34 45h1"/><path stroke="#4df" d="M62 22h1M57 23h1M38 44h1"/><path stroke="#4ef" d="M39 44h1"/><path stroke="#4f5" d="M33 66h1"/><path stroke="#4f6" d="M34 69h1"/><path stroke="#4f8" d="M35 69h1"/><path stroke="#4f9" d="M0 21h1M18 26h1M34 67h1"/><path stroke="#4fb" d="M41 22h1M35 67h1"/><path stroke="#4fc" d="M19 0h1M62 47h1M65 48h1"/><path stroke="#4fd" d="M20 0h1M45 23h1M49 44h1M54 45h1"/><path stroke="#4ff" d="M22 0h2M67 49h1"/><path stroke="#500" d="M41 32h6M22 37h1M40 53h7"/><path stroke="#501" d="M14 10h2M49 12h1M7 31h1M19 36h1M51 54h1M64 66h1"/><path stroke="#502" d="M18 11h1M20 12h1M12 33h1M14 34h1M16 35h1M63 66h1"/><path stroke="#503" d="M23 14h1"/><path stroke="#504" d="M46 10h1M26 17h1M27 18h1M3 54h1M21 66h1"/><path stroke="#505" d="M44 7h1M29 21h1M3 28h1M3 53h1M59 60h1"/><path stroke="#506" d="M30 24h1M59 61h1M60 64h1"/><path stroke="#507" d="M0 7h2M0 8h1M30 25h1M0 27h1M0 28h2M0 52h2M1 53h1M60 65h1"/><path stroke="#508" d="M2 8h1M30 26h1M19 66h1"/><path stroke="#50d" d="M17 68h1"/><path stroke="#50e" d="M40 1h1"/><path stroke="#50f" d="M16 69h1"/><path stroke="#510" d="M28 36h1M8 54h1M35 54h1"/><path stroke="#520" d="M52 12h1M33 34h1M33 55h1M25 66h1"/><path stroke="#530" d="M31 56h1M26 66h1"/><path stroke="#53f" d="M20 58h1"/><path stroke="#540" d="M30 57h1"/><path stroke="#54f" d="M67 19h1M17 64h1M55 66h1"/><path stroke="#550" d="M66 31h1M11 52h1"/><path stroke="#560" d="M29 59h1"/><path stroke="#56f" d="M67 20h1"/><path stroke="#570" d="M57 5h1M68 30h2M68 31h1M12 51h1"/><path stroke="#57f" d="M54 68h1M53 69h1"/><path stroke="#590" d="M67 64h1M29 65h1"/><path stroke="#59f" d="M69 20h1M26 28h1M15 66h1M54 67h1M53 68h1M12 69h1M52 69h1"/><path stroke="#5af" d="M66 21h1M69 49h1M53 67h1M11 69h1M51 69h1"/><path stroke="#5bf" d="M52 67h1M13 68h1"/><path stroke="#5c0" d="M13 50h1"/><path stroke="#5cf" d="M13 67h1M51 67h1M12 68h1"/><path stroke="#5df" d="M61 22h1M56 23h1M11 67h2M48 67h3"/><path stroke="#5ef" d="M8 67h3"/><path stroke="#5f0" d="M14 49h1M31 66h1M31 67h1M32 69h1"/><path stroke="#5f2" d="M26 2h1"/><path stroke="#5f5" d="M28 4h1M29 6h1M2 20h1"/><path stroke="#5f6" d="M31 9h1M33 12h1"/><path stroke="#5f7" d="M37 18h1M2 21h1M2 44h1M2 68h1"/><path stroke="#5f8" d="M2 67h1M33 67h1M2 69h1"/><path stroke="#5f9" d="M0 44h2M0 67h1M34 68h1M0 69h1M36 69h1"/><path stroke="#5fa" d="M1 21h1M3 21h1M15 24h1M21 28h1M1 67h1M35 68h1M1 69h1"/><path stroke="#5fb" d="M13 23h1M3 44h1M11 45h1M36 68h1"/><path stroke="#5fc" d="M10 22h1M59 46h1M63 47h1M36 67h1"/><path stroke="#5fd" d="M4 21h1M46 23h1M50 44h1M55 45h1M37 67h2"/><path stroke="#5fe" d="M4 44h2"/><path stroke="#5ff" d="M21 0h1M66 48h1M68 49h1M4 67h1"/><path stroke="#600" d="M11 10h1M38 32h3M56 33h8M23 37h2M4 55h2M23 68h1M65 68h1"/><path stroke="#601" d="M4 10h1M12 10h2M6 31h1M21 37h1M49 54h2M22 68h1"/><path stroke="#602" d="M17 11h1M9 32h1M11 33h1M18 36h1M53 55h1"/><path stroke="#603" d="M47 11h1M48 12h1M21 13h1M3 55h1M55 56h1M62 66h1"/><path stroke="#604" d="M24 15h1M25 16h1M56 57h1M20 68h1"/><path stroke="#605" d="M3 9h1M45 9h1M57 58h1M58 59h1"/><path stroke="#606" d="M28 20h1M29 22h1M3 29h1"/><path stroke="#607" d="M43 6h1M1 29h1M0 53h1M59 62h1M20 66h1"/><path stroke="#608" d="M42 4h1M2 53h1M59 63h1M59 64h1"/><path stroke="#609" d="M2 7h1M2 28h1M2 52h1M59 65h1"/><path stroke="#60f" d="M56 69h1"/><path stroke="#610" d="M37 32h1M65 33h1M25 37h2M36 54h2"/><path stroke="#61f" d="M56 66h1"/><path stroke="#620" d="M35 33h1M31 35h1M29 36h1M9 54h1"/><path stroke="#640" d="M32 56h1"/><path stroke="#64f" d="M19 60h1"/><path stroke="#650" d="M66 32h1M27 66h1"/><path stroke="#65f" d="M22 53h1M18 62h1"/><path stroke="#660" d="M55 9h1M30 58h1"/><path stroke="#66f" d="M67 46h1"/><path stroke="#670" d="M56 8h1M69 31h1M29 60h1"/><path stroke="#67f" d="M68 19h2M23 50h1M17 63h1M16 65h1"/><path stroke="#680" d="M57 6h1M67 31h1M29 61h1M29 62h1"/><path stroke="#68f" d="M67 47h1"/><path stroke="#690" d="M67 30h1M29 63h1M29 64h1"/><path stroke="#69f" d="M68 20h1M24 49h1"/><path stroke="#6af" d="M67 48h1M69 48h1M52 68h1M50 69h1"/><path stroke="#6bf" d="M28 47h1M26 48h1M68 48h1M14 66h1M51 68h1M10 69h1"/><path stroke="#6cf" d="M33 45h1M47 67h1M11 68h1M49 68h2M8 69h2"/><path stroke="#6d0" d="M30 65h1"/><path stroke="#6df" d="M64 21h2M60 22h1M55 23h1M37 44h1M46 67h1M9 68h2M6 69h2"/><path stroke="#6ef" d="M54 23h1M6 67h2M44 67h2M5 69h1"/><path stroke="#6f0" d="M31 65h1M31 68h1"/><path stroke="#6f4" d="M27 3h1"/><path stroke="#6f5" d="M2 42h1M2 66h1"/><path stroke="#6f6" d="M29 5h1M30 7h1M2 43h1"/><path stroke="#6f7" d="M35 15h1M38 19h1M0 20h1"/><path stroke="#6f8" d="M39 20h1M0 43h1M14 47h1M0 68h1"/><path stroke="#6f9" d="M13 46h1M34 66h1M1 68h1"/><path stroke="#6fa" d="M40 21h1M17 25h1M37 69h1"/><path stroke="#6fb" d="M37 68h2M38 69h1"/><path stroke="#6fc" d="M11 22h1M42 22h1M64 47h1M3 67h1M39 67h1M3 69h1"/><path stroke="#6fd" d="M5 21h1M47 23h1M51 44h1M56 45h1M60 46h1M40 67h1"/><path stroke="#6fe" d="M48 23h1M6 44h2M41 67h2"/><path stroke="#6ff" d="M5 67h1M4 69h1"/><path stroke="#700" d="M6 10h5M50 13h1M50 33h6M23 69h1M65 69h1"/><path stroke="#701" d="M5 10h1M48 33h2M47 54h2M64 68h1M22 69h1M64 69h1"/><path stroke="#702" d="M16 11h1M4 31h2M8 32h1M20 37h1M52 55h1M63 68h1M21 69h1M63 69h1"/><path stroke="#703" d="M19 12h1M10 33h1M13 34h1M15 35h1M17 36h1M21 68h1M62 68h1"/><path stroke="#704" d="M3 10h1M22 14h1M54 56h1"/><path stroke="#705" d="M3 30h1M61 66h1"/><path stroke="#707" d="M44 8h1M27 19h1M1 54h1M58 60h1"/><path stroke="#708" d="M43 7h1M29 23h1M0 29h1"/><path stroke="#709" d="M42 5h1M2 29h1"/><path stroke="#70b" d="M58 65h1"/><path stroke="#70e" d="M57 68h1"/><path stroke="#70f" d="M40 2h1"/><path stroke="#710" d="M51 13h1M64 33h1M38 54h2M6 55h2M24 68h1M24 69h1"/><path stroke="#720" d="M27 37h1M25 68h1M25 69h1"/><path stroke="#730" d="M36 33h1M34 34h1M32 35h1M30 36h1M34 55h1M26 68h1M26 69h1"/><path stroke="#740" d="M53 12h1M66 33h1M66 68h1"/><path stroke="#750" d="M54 11h1M10 54h1M31 57h1M66 66h1"/><path stroke="#75f" d="M67 45h1M21 55h1"/><path stroke="#760" d="M55 10h1M11 53h1"/><path stroke="#77f" d="M69 18h1M69 46h1M18 61h1"/><path stroke="#780" d="M12 52h1"/><path stroke="#78f" d="M69 47h1M16 64h1"/><path stroke="#790" d="M57 7h1"/><path stroke="#79f" d="M26 27h1M53 66h1"/><path stroke="#7af" d="M66 20h1M68 47h1"/><path stroke="#7bf" d="M25 28h1M52 66h1M49 69h1"/><path stroke="#7c0" d="M58 4h1M30 66h1"/><path stroke="#7cf" d="M30 46h1M13 66h1M51 66h1M48 68h1M48 69h1"/><path stroke="#7d0" d="M58 5h1M30 64h1"/><path stroke="#7df" d="M63 21h1M58 22h2M36 44h1M12 66h1"/><path stroke="#7ef" d="M62 21h1M53 23h1M6 68h3"/><path stroke="#7f6" d="M15 48h1"/><path stroke="#7f7" d="M30 6h1M31 8h1M32 10h1M34 13h1M0 42h1M0 66h1"/><path stroke="#7f8" d="M36 16h1M1 20h1M15 47h1M1 66h1"/><path stroke="#7f9" d="M1 43h1"/><path stroke="#7fa" d="M19 26h1M20 27h1"/><path stroke="#7fb" d="M14 23h1M16 24h1M18 25h1M12 45h1M35 66h1M3 68h1"/><path stroke="#7fc" d="M36 66h1M39 68h1M39 69h1"/><path stroke="#7fd" d="M12 22h1M43 22h2M8 44h2M52 44h2M57 45h2M61 46h2M37 66h1M40 69h1"/><path stroke="#7fe" d="M6 21h2M49 23h1"/><path stroke="#7ff" d="M50 23h3M65 47h1M43 67h1M4 68h2"/><path stroke="#800" d="M40 33h6M22 38h1M41 54h5"/><path stroke="#801" d="M46 33h2M46 54h1"/><path stroke="#802" d="M14 11h2M6 32h2M21 38h1M51 55h1M21 67h1"/><path stroke="#803" d="M18 12h1M49 13h1M9 33h1M12 34h1M19 37h1M62 69h1"/><path stroke="#804" d="M20 13h1M14 35h1M16 36h1M20 67h1M20 69h1"/><path stroke="#805" d="M47 12h1M23 15h1M3 31h1M55 57h1M61 68h1M19 69h1M61 69h1"/><path stroke="#806" d="M1 10h1M46 11h1M24 16h1M25 17h1M60 68h1M60 69h1"/><path stroke="#807" d="M0 10h1M45 10h1M26 18h1M1 55h1M57 59h1"/><path stroke="#808" d="M0 9h2M44 9h1M28 21h1M1 30h1M0 54h1M0 55h1M58 61h1M19 68h1"/><path stroke="#809" d="M58 62h1M18 68h1"/><path stroke="#80a" d="M42 6h1M29 24h1M58 63h1M18 67h1M17 69h1"/><path stroke="#80b" d="M58 64h1"/><path stroke="#80c" d="M29 25h1"/><path stroke="#80d" d="M29 26h1M57 69h1"/><path stroke="#80f" d="M28 26h1M57 65h1M57 66h1M57 67h1"/><path stroke="#810" d="M23 38h1M40 54h1"/><path stroke="#81f" d="M56 65h1"/><path stroke="#820" d="M8 55h1M35 55h1"/><path stroke="#830" d="M52 13h1M66 67h1"/><path stroke="#840" d="M35 34h1M33 56h1M27 68h1M27 69h1M66 69h1"/><path stroke="#850" d="M28 67h1M28 69h1"/><path stroke="#860" d="M54 12h1M68 33h1M28 68h1"/><path stroke="#86f" d="M67 18h1M20 57h1"/><path stroke="#87f" d="M22 52h1M19 59h1"/><path stroke="#880" d="M56 9h1M68 32h1M28 66h1"/><path stroke="#88f" d="M68 18h1M69 45h1M17 62h1"/><path stroke="#890" d="M69 32h1M30 59h1M30 60h1M68 66h2"/><path stroke="#89f" d="M66 19h1M68 46h1M15 65h1"/><path stroke="#8a0" d="M57 8h1M30 61h1M29 66h1"/><path stroke="#8af" d="M23 49h1"/><path stroke="#8b0" d="M30 68h1"/><path stroke="#8bf" d="M25 48h1"/><path stroke="#8c0" d="M30 62h1M30 63h1"/><path stroke="#8cf" d="M32 45h1M29 46h1M27 47h1M47 68h1"/><path stroke="#8d0" d="M13 51h1M31 69h1"/><path stroke="#8df" d="M35 44h1M11 66h1M47 66h1M49 66h2M46 68h1M46 69h2"/><path stroke="#8ef" d="M61 21h1M56 22h2M24 28h1M40 43h3M9 66h2M48 66h1M44 69h2"/><path stroke="#8f0" d="M14 50h1M31 64h1"/><path stroke="#8f3" d="M25 0h1"/><path stroke="#8f4" d="M32 65h1"/><path stroke="#8f6" d="M2 19h1M33 65h1"/><path stroke="#8f7" d="M0 19h1M1 42h1M34 65h1"/><path stroke="#8f8" d="M32 9h1M33 11h1M35 14h1M37 17h1"/><path stroke="#8f9" d="M38 18h1"/><path stroke="#8fa" d="M39 19h1M14 46h1M3 66h1"/><path stroke="#8fb" d="M3 20h1M40 20h1M3 43h1"/><path stroke="#8fc" d="M41 21h1M15 23h1M17 24h1M22 28h1"/><path stroke="#8fd" d="M13 22h1M10 44h1M38 66h2M40 68h2M41 69h1"/><path stroke="#8fe" d="M8 21h2M45 22h1M46 43h3M54 44h1M59 45h1M63 46h1M42 68h1M42 69h1"/><path stroke="#8ff" d="M43 43h3M66 47h1M43 69h1"/><path stroke="#900" d="M39 33h1M59 34h6M4 56h1M65 67h1"/><path stroke="#901" d="M22 67h2M64 67h1"/><path stroke="#902" d="M12 11h2M49 55h2M63 67h1"/><path stroke="#903" d="M17 12h1M5 32h1M3 56h1M62 67h1"/><path stroke="#904" d="M11 34h1M18 37h1M53 56h1M61 67h1"/><path stroke="#905" d="M19 13h1M21 14h1M1 56h1M60 67h1"/><path stroke="#906" d="M22 15h1M0 31h2M0 56h1M56 58h1"/><path stroke="#908" d="M2 10h1M27 20h1M0 30h1M60 66h1"/><path stroke="#909" d="M2 55h1"/><path stroke="#90a" d="M43 8h1M2 9h1M2 54h1"/><path stroke="#90b" d="M58 66h1M58 68h1"/><path stroke="#90c" d="M41 4h1"/><path stroke="#90f" d="M57 64h1"/><path stroke="#910" d="M38 33h1M65 34h1M5 56h2M24 67h1"/><path stroke="#91f" d="M56 64h1"/><path stroke="#920" d="M37 33h1M24 38h1M36 55h2M25 67h1"/><path stroke="#930" d="M28 37h1M26 67h1"/><path stroke="#940" d="M66 34h1M33 35h1M9 55h1M34 56h1M27 67h1"/><path stroke="#95f" d="M69 6h1M55 65h1"/><path stroke="#960" d="M32 57h1"/><path stroke="#96f" d="M67 17h1"/><path stroke="#970" d="M55 11h1M69 33h1M11 54h1M31 58h1M68 68h1M68 69h1"/><path stroke="#97f" d="M27 26h1M67 44h1"/><path stroke="#980" d="M67 33h1"/><path stroke="#98f" d="M69 17h1M68 45h1M22 51h1M21 54h1M53 65h1"/><path stroke="#990" d="M69 68h1"/><path stroke="#99f" d="M66 18h1M22 50h1M20 56h1M19 58h1M18 60h1"/><path stroke="#9a0" d="M67 32h1"/><path stroke="#9af" d="M16 63h1"/><path stroke="#9b0" d="M67 66h1"/><path stroke="#9cf" d="M24 48h1"/><path stroke="#9df" d="M64 20h2M34 44h1M31 45h1M26 47h1"/><path stroke="#9e0" d="M58 6h1"/><path stroke="#9ef" d="M59 21h2M54 22h2M37 43h3M8 66h1M44 68h2"/><path stroke="#9f0" d="M59 0h1"/><path stroke="#9f4" d="M32 64h1"/><path stroke="#9f6" d="M2 40h1"/><path stroke="#9f7" d="M2 18h1"/><path stroke="#9f8" d="M29 4h1M1 19h1M0 40h1"/><path stroke="#9f9" d="M31 7h1M33 10h1M34 12h1M36 15h1"/><path stroke="#9fa" d="M3 42h1"/><path stroke="#9fb" d="M20 26h1"/><path stroke="#9fc" d="M19 25h1M21 27h1M13 45h1"/><path stroke="#9fd" d="M42 21h1M11 44h1M40 66h1"/><path stroke="#9fe" d="M10 21h2M46 22h2M4 43h2M7 43h1M49 43h3M55 44h2M60 45h2M64 46h1"/><path stroke="#9ff" d="M23 28h1M6 43h1M5 66h1M7 66h1M43 68h1"/><path stroke="#a01" d="M10 11h2M55 34h4"/><path stroke="#a02" d="M4 32h1M47 55h2"/><path stroke="#a03" d="M16 12h1M8 33h1M20 38h1"/><path stroke="#a04" d="M48 13h1M13 35h1M52 56h1"/><path stroke="#a06" d="M54 57h1"/><path stroke="#a07" d="M23 16h1M2 56h1M55 58h1"/><path stroke="#a08" d="M45 11h1M2 31h1"/><path stroke="#a09" d="M26 19h1M56 59h1M59 69h1"/><path stroke="#a0a" d="M28 22h1M2 30h1M57 60h1M59 66h1M59 68h1M18 69h1"/><path stroke="#a0b" d="M57 61h1M58 69h1"/><path stroke="#a0c" d="M42 7h1"/><path stroke="#a0d" d="M57 62h1"/><path stroke="#a0e" d="M41 5h1M57 63h1"/><path stroke="#a20" d="M25 38h1M38 55h2M7 56h1"/><path stroke="#a40" d="M31 36h1"/><path stroke="#a50" d="M53 13h1"/><path stroke="#a5f" d="M67 4h1M69 4h1M67 5h1M69 5h1M67 6h1M67 7h1M69 7h1M67 8h1M67 9h1M67 10h1M55 64h1"/><path stroke="#a60" d="M68 34h1M10 55h1"/><path stroke="#a6f" d="M68 6h1M68 7h1M68 8h1M67 16h1M67 43h1"/><path stroke="#a70" d="M69 34h1M68 67h1"/><path stroke="#a7f" d="M54 65h1"/><path stroke="#a80" d="M67 34h1"/><path stroke="#a8f" d="M69 16h1M68 17h1M68 43h2M69 44h1"/><path stroke="#a90" d="M67 67h1M69 67h1M67 68h1M29 69h1M67 69h1M69 69h1"/><path stroke="#a9f" d="M26 26h1M68 44h1M21 53h1"/><path stroke="#aa0" d="M56 10h1M29 68h1"/><path stroke="#aaf" d="M20 55h1M17 61h1M52 65h1"/><path stroke="#ab0" d="M30 67h1M30 69h1"/><path stroke="#abf" d="M66 44h1M15 64h1M14 65h1"/><path stroke="#acf" d="M66 45h1"/><path stroke="#adf" d="M25 27h1M33 44h1M30 45h1M28 46h1M66 46h1M46 66h1"/><path stroke="#aef" d="M62 20h2M58 21h1M36 43h1"/><path stroke="#af0" d="M59 1h1M59 3h1M59 4h1M58 7h1M31 63h1"/><path stroke="#af4" d="M32 63h1"/><path stroke="#af6" d="M26 1h1M15 49h1"/><path stroke="#af7" d="M2 41h1M33 64h1"/><path stroke="#af8" d="M0 18h1M1 40h1M0 41h1"/><path stroke="#af9" d="M30 5h1M1 18h1M3 19h1"/><path stroke="#afa" d="M32 8h1M35 13h1M37 16h1M16 47h1M35 65h1"/><path stroke="#afb" d="M38 17h1"/><path stroke="#afc" d="M41 20h1M16 23h1M18 24h1"/><path stroke="#afd" d="M14 22h1M12 44h1M41 66h1"/><path stroke="#afe" d="M4 20h2M12 21h1M43 21h2M8 43h2M52 43h1M57 44h1M62 45h1"/><path stroke="#aff" d="M6 20h2M48 22h6M65 46h1M6 66h1"/><path stroke="#b00" d="M4 11h5M3 57h1"/><path stroke="#b01" d="M9 11h1M53 34h2M46 55h1"/><path stroke="#b03" d="M3 11h1"/><path stroke="#b04" d="M17 37h1M1 57h1"/><path stroke="#b05" d="M0 11h2M0 32h2M3 32h1M15 36h1M0 57h1M2 57h1"/><path stroke="#b06" d="M2 11h1M20 14h1"/><path stroke="#b07" d="M46 12h1"/><path stroke="#b08" d="M24 17h1M25 18h1M2 32h1"/><path stroke="#b09" d="M44 10h1M19 67h1"/><path stroke="#b0a" d="M59 67h1"/><path stroke="#b0c" d="M58 67h1"/><path stroke="#b0f" d="M40 3h1M28 25h1M56 63h1"/><path stroke="#b10" d="M40 55h1"/><path stroke="#b30" d="M8 56h1"/><path stroke="#b40" d="M36 34h1M29 37h1M35 56h1"/><path stroke="#b50" d="M34 35h1"/><path stroke="#b5f" d="M69 8h1M55 63h1"/><path stroke="#b60" d="M33 57h1"/><path stroke="#b6f" d="M68 4h1M68 5h1M68 9h1M67 15h1M27 25h1M67 42h1"/><path stroke="#b7f" d="M66 11h1M54 64h1"/><path stroke="#b80" d="M32 58h1"/><path stroke="#b8f" d="M66 6h1M66 7h1M66 8h1M66 9h1M66 10h1M69 15h1M68 16h1"/><path stroke="#ba0" d="M31 59h1"/><path stroke="#baf" d="M66 17h1M21 52h1M19 57h1M18 59h1"/><path stroke="#bb0" d="M12 53h1"/><path stroke="#bbf" d="M66 43h1M22 49h1M16 62h1"/><path stroke="#bd0" d="M57 9h1"/><path stroke="#bdf" d="M27 46h1M25 47h1M23 48h1M13 65h1"/><path stroke="#bef" d="M61 20h1M57 21h1M35 43h1M32 44h1M29 45h1M44 66h2"/><path stroke="#bf0" d="M59 2h1M59 5h1M14 51h1M13 52h1M31 62h1"/><path stroke="#bf1" d="M59 6h1"/><path stroke="#bf2" d="M59 7h1"/><path stroke="#bf3" d="M32 62h1"/><path stroke="#bf6" d="M60 4h1M2 38h1M15 50h1M2 64h1"/><path stroke="#bf7" d="M2 65h1"/><path stroke="#bf9" d="M1 41h1M16 48h1"/><path stroke="#bfa" d="M3 41h1M34 64h1"/><path stroke="#bfb" d="M31 6h1M33 9h1M34 11h1M3 18h1M3 40h1"/><path stroke="#bfc" d="M36 14h1M39 18h1M40 19h1M15 46h1"/><path stroke="#bfd" d="M15 22h1M17 23h1M21 26h1M14 45h1"/><path stroke="#bfe" d="M8 20h2M13 21h1M45 21h1M22 27h1M10 43h1M53 43h2M58 44h2M63 45h1M42 66h1"/><path stroke="#bff" d="M41 42h7M64 45h1M4 66h1M43 66h1"/><path stroke="#c00" d="M43 55h2M4 57h1"/><path stroke="#c01" d="M51 34h2M45 55h1"/><path stroke="#c03" d="M15 12h1M7 33h1"/><path stroke="#c04" d="M10 34h1M19 38h1M51 56h1"/><path stroke="#c05" d="M18 13h1"/><path stroke="#c06" d="M53 57h1"/><path stroke="#c0f" d="M39 0h1"/><path stroke="#c10" d="M41 55h2"/><path stroke="#c30" d="M26 38h1"/><path stroke="#c4f" d="M55 62h1"/><path stroke="#c50" d="M9 56h1"/><path stroke="#c6f" d="M67 14h1M67 40h1M67 41h1"/><path stroke="#c7f" d="M67 13h1M54 63h1"/><path stroke="#c8f" d="M66 5h1M69 41h1M69 42h1"/><path stroke="#c9f" d="M68 15h1M68 42h1"/><path stroke="#ca0" d="M29 67h1"/><path stroke="#caf" d="M53 64h1"/><path stroke="#cbf" d="M66 16h1M20 54h1"/><path stroke="#ccf" d="M25 26h1M21 51h1M19 56h1M18 58h1M17 60h1M15 63h1M51 65h1"/><path stroke="#cdf" d="M22 48h1M14 64h1"/><path stroke="#cef" d="M63 19h3M59 20h2M55 21h2M24 27h1M34 43h1M31 44h1M26 46h1M24 47h1M12 65h1"/><path stroke="#cf0" d="M58 8h1M31 61h1"/><path stroke="#cf4" d="M59 8h1"/><path stroke="#cf6" d="M2 16h1M2 17h1"/><path stroke="#cf7" d="M60 5h1M60 6h1M15 51h1M33 63h1"/><path stroke="#cf8" d="M28 3h1M60 7h1M0 17h1M0 38h1M0 64h1M0 65h1"/><path stroke="#cf9" d="M16 49h1M1 65h1"/><path stroke="#cfa" d="M34 63h1"/><path stroke="#cfb" d="M30 4h1M35 64h1"/><path stroke="#cfc" d="M31 5h1M32 7h1M35 12h1M37 15h1"/><path stroke="#cfd" d="M34 10h1M41 19h1M19 24h1M20 25h1M13 44h1M36 65h1"/><path stroke="#cfe" d="M10 20h1M42 20h2M14 21h1M46 21h1M16 22h1M5 42h1M11 43h1M55 43h2M60 44h2"/><path stroke="#cff" d="M47 21h1M23 27h1M6 42h2M38 42h3M48 42h3M62 44h1M65 45h1"/><path stroke="#d00" d="M48 34h3"/><path stroke="#d02" d="M14 12h1"/><path stroke="#d03" d="M6 33h1M50 56h1"/><path stroke="#d05" d="M12 35h1"/><path stroke="#d06" d="M47 13h1"/><path stroke="#d0c" d="M43 9h1M27 21h1M56 60h1"/><path stroke="#d0f" d="M40 4h1M40 5h1M41 6h1M28 23h1M28 24h1M56 62h1"/><path stroke="#d20" d="M5 57h1"/><path stroke="#d2f" d="M40 6h1"/><path stroke="#d30" d="M37 34h1M36 56h1"/><path stroke="#d40" d="M32 36h1"/><path stroke="#d4f" d="M39 4h1M40 7h1M27 24h1"/><path stroke="#d5f" d="M67 11h1"/><path stroke="#d6f" d="M39 5h1"/><path stroke="#d8f" d="M66 4h1M69 13h1M69 14h1M68 40h2M68 41h1"/><path stroke="#d90" d="M55 12h1"/><path stroke="#d9f" d="M68 13h1M68 14h1M53 63h1"/><path stroke="#daf" d="M26 25h1"/><path stroke="#dcf" d="M66 42h1M52 64h1"/><path stroke="#ddf" d="M21 49h1M21 50h1M20 53h1M16 61h1M51 64h1M50 65h1"/><path stroke="#de0" d="M31 60h1"/><path stroke="#def" d="M64 18h1M62 19h1M33 43h1M30 44h1M28 45h1M23 47h1M15 62h1M13 64h1M50 64h1M11 65h1M46 65h2M49 65h1"/><path stroke="#df2" d="M14 52h1M32 61h1"/><path stroke="#df4" d="M14 53h1"/><path stroke="#df5" d="M59 9h1"/><path stroke="#df6" d="M2 39h1M2 63h1"/><path stroke="#df7" d="M33 62h1"/><path stroke="#df8" d="M60 8h1M0 16h1M1 17h1M1 38h1M0 39h1M15 52h1M1 64h1"/><path stroke="#df9" d="M1 16h1M16 50h1"/><path stroke="#dfa" d="M61 5h1"/><path stroke="#dfc" d="M17 48h1"/><path stroke="#dfd" d="M32 6h1M33 8h1M36 13h1M38 16h1M39 17h1M40 18h1M15 45h1M16 46h1M17 47h1M36 64h1"/><path stroke="#dfe" d="M5 19h1M11 20h2M44 20h1M15 21h1M18 23h1M21 25h1M22 26h1M12 43h1M14 44h1M37 65h4"/><path stroke="#dff" d="M61 19h1M57 20h2M48 21h7M4 42h1M8 42h2M36 42h2M51 42h2M57 43h2M63 44h2M48 65h1"/><path stroke="#e00" d="M50 14h2M44 34h4M22 39h1"/><path stroke="#e01" d="M21 39h1"/><path stroke="#e02" d="M5 33h1M49 56h1"/><path stroke="#e04" d="M9 34h1"/><path stroke="#e07" d="M21 15h1"/><path stroke="#e08" d="M54 58h1"/><path stroke="#e0b" d="M55 59h1"/><path stroke="#e0f" d="M41 7h1"/><path stroke="#e10" d="M67 35h1"/><path stroke="#e1f" d="M41 8h1"/><path stroke="#e20" d="M37 56h1M6 57h1"/><path stroke="#e30" d="M27 38h1"/><path stroke="#e5f" d="M67 3h1M69 3h1"/><path stroke="#e60" d="M34 57h1"/><path stroke="#e6f" d="M68 3h1M40 8h1M69 9h1M68 10h1M67 12h1M54 62h1"/><path stroke="#e7f" d="M39 6h1"/><path stroke="#e8f" d="M38 5h1M39 7h1M69 11h1M66 12h1M68 12h2"/><path stroke="#e9f" d="M38 6h1M26 24h1M53 62h1"/><path stroke="#ebf" d="M38 7h1M66 15h1M66 41h1"/><path stroke="#ec0" d="M56 11h1"/><path stroke="#ecf" d="M65 12h1M52 63h1"/><path stroke="#edf" d="M65 9h1M65 10h1M65 11h1M25 25h1M19 55h1M51 63h1"/><path stroke="#eef" d="M65 6h1M65 7h1M65 8h1M64 12h1M24 25h1M24 26h1M25 46h1M21 48h1M20 51h1M20 52h1M19 54h1M18 57h1M17 59h1M16 60h1M14 63h1M45 64h1M49 64h1"/><path stroke="#ef0" d="M58 9h1"/><path stroke="#ef6" d="M26 0h1"/><path stroke="#ef7" d="M59 10h1M0 63h1"/><path stroke="#ef8" d="M1 63h1"/><path stroke="#ef9" d="M61 4h1M60 9h1M1 39h1M15 53h1M34 62h1"/><path stroke="#efa" d="M61 6h1M60 10h1M16 51h1M15 54h1"/><path stroke="#efb" d="M61 7h1M61 8h1M3 17h1M16 52h1M3 64h1M3 65h1"/><path stroke="#efc" d="M61 9h1M17 49h1M16 53h1M35 63h1"/><path stroke="#efd" d="M62 5h1M62 6h1M17 50h1M17 51h1"/><path stroke="#efe" d="M32 5h1M33 7h1M34 9h1M35 11h1M36 12h1M37 14h1M38 15h1M41 18h1M42 19h1M17 22h1M19 23h1M20 24h1M5 41h1M16 45h1M17 46h1M18 47h1M18 48h1M36 63h1M37 64h1M41 65h1"/><path stroke="#eff" d="M39 16h1M64 16h1M40 17h1M62 18h2M65 18h1M4 19h1M6 19h6M43 19h1M59 19h2M13 20h2M45 20h3M55 20h2M16 21h1M6 41h2M38 41h13M10 42h2M34 42h2M53 42h4M13 43h1M31 43h2M59 43h6M15 44h1M29 44h1M65 44h1M26 45h2M24 46h1M22 47h1M11 64h2M38 64h5M46 64h3M10 65h1"/><path stroke="#f00" d="M0 12h12M0 33h3M39 34h5M52 35h15M68 35h2M23 39h1M40 56h7M0 58h4"/><path stroke="#f01" d="M12 12h2M3 33h1M48 35h4M47 56h2"/><path stroke="#f02" d="M49 14h1M4 33h1M21 40h1"/><path stroke="#f03" d="M14 13h2M6 34h3"/><path stroke="#f04" d="M16 13h2M48 14h1M11 35h1M20 39h1M50 57h1"/><path stroke="#f05" d="M9 35h2M13 36h2M16 37h1M18 38h1M51 57h1"/><path stroke="#f06" d="M18 14h2M47 14h1M12 36h1M15 37h1M17 38h1M19 39h1M52 57h1"/><path stroke="#f07" d="M17 14h1M14 37h1"/><path stroke="#f08" d="M46 13h1M19 15h2"/><path stroke="#f09" d="M22 16h1M53 58h1"/><path stroke="#f0a" d="M45 12h1M45 13h1M21 16h1M23 17h1"/><path stroke="#f0b" d="M22 17h1"/><path stroke="#f0c" d="M44 11h1M44 12h1M24 18h1M54 59h1"/><path stroke="#f0d" d="M43 11h1M25 19h1M26 20h1"/><path stroke="#f0e" d="M25 20h1"/><path stroke="#f0f" d="M42 8h1M42 9h1M43 10h1M26 21h1M27 22h1M27 23h1M55 60h1M56 61h1"/><path stroke="#f10" d="M38 34h1M24 39h1M22 40h1M38 56h2"/><path stroke="#f11" d="M65 36h1"/><path stroke="#f12" d="M50 15h1M45 35h3M63 36h2M66 36h1"/><path stroke="#f13" d="M68 36h1"/><path stroke="#f14" d="M13 13h1M5 34h1M67 36h1M69 36h1M49 57h1"/><path stroke="#f18" d="M16 38h1M18 39h1M52 58h1"/><path stroke="#f1b" d="M23 18h1"/><path stroke="#f1c" d="M24 19h1"/><path stroke="#f1f" d="M39 1h1M55 61h1"/><path stroke="#f20" d="M52 14h1M25 39h1M7 57h1M4 58h2"/><path stroke="#f21" d="M51 15h1M3 34h1"/><path stroke="#f22" d="M40 35h5M61 36h2"/><path stroke="#f23" d="M4 34h1M58 36h3"/><path stroke="#f24" d="M12 13h1M48 57h1"/><path stroke="#f25" d="M49 15h1"/><path stroke="#f27" d="M11 36h1M20 40h1"/><path stroke="#f2e" d="M42 10h1"/><path stroke="#f2f" d="M39 2h1"/><path stroke="#f30" d="M28 38h1M8 57h1M6 58h1"/><path stroke="#f32" d="M39 35h1"/><path stroke="#f34" d="M57 36h1"/><path stroke="#f35" d="M10 13h2M56 36h1M46 57h2"/><path stroke="#f36" d="M8 35h1"/><path stroke="#f37" d="M16 14h1"/><path stroke="#f39" d="M46 14h1"/><path stroke="#f3a" d="M20 16h1"/><path stroke="#f3b" d="M53 59h1"/><path stroke="#f3d" d="M54 60h1"/><path stroke="#f3f" d="M39 3h1M26 22h1"/><path stroke="#f40" d="M37 35h1M30 37h1M26 39h1"/><path stroke="#f41" d="M37 57h1M7 58h1"/><path stroke="#f42" d="M38 35h1M38 57h1"/><path stroke="#f44" d="M6 13h1M43 57h1"/><path stroke="#f45" d="M7 13h3M55 36h1M44 57h2"/><path stroke="#f46" d="M54 36h1"/><path stroke="#f47" d="M48 15h1M7 35h1"/><path stroke="#f48" d="M13 37h1M51 58h1"/><path stroke="#f49" d="M18 15h1"/><path stroke="#f4f" d="M67 2h1M69 2h1M41 9h1"/><path stroke="#f50" d="M53 14h1M35 35h2M33 36h2M31 37h1M29 38h1M36 57h1"/><path stroke="#f52" d="M52 15h1M23 40h1M0 59h1"/><path stroke="#f53" d="M39 57h2"/><path stroke="#f54" d="M4 13h2M41 57h2"/><path stroke="#f55" d="M21 41h1"/><path stroke="#f56" d="M4 35h1M53 36h1"/><path stroke="#f57" d="M6 35h1M52 36h1"/><path stroke="#f58" d="M15 14h1M10 36h1M50 58h1"/><path stroke="#f59" d="M15 38h1M17 39h1M19 40h1"/><path stroke="#f5a" d="M37 2h1"/><path stroke="#f5b" d="M44 13h1M21 17h1"/><path stroke="#f5c" d="M38 2h1"/><path stroke="#f5d" d="M43 12h1"/><path stroke="#f5e" d="M68 0h1M68 1h1M68 2h1"/><path stroke="#f5f" d="M38 0h1M67 0h1M69 0h1M38 1h1M67 1h1M69 1h1M54 61h1"/><path stroke="#f60" d="M32 37h1M9 57h1M35 57h1"/><path stroke="#f61" d="M35 36h1M27 39h1"/><path stroke="#f62" d="M8 58h1M1 59h1"/><path stroke="#f63" d="M24 40h1M4 59h1"/><path stroke="#f64" d="M5 59h1"/><path stroke="#f65" d="M64 2h1"/><path stroke="#f67" d="M33 2h2M5 35h1M50 36h2M62 37h4"/><path stroke="#f68" d="M35 2h1M14 14h1M49 58h1"/><path stroke="#f69" d="M36 2h1M65 2h1M17 15h1M47 15h1M9 36h1M12 37h1M20 41h1"/><path stroke="#f6a" d="M19 16h1M66 37h1"/><path stroke="#f6b" d="M66 2h1M45 14h1M22 18h1M68 37h1M52 59h1"/><path stroke="#f6c" d="M37 0h1M66 0h1M37 1h1M23 19h1M69 37h1"/><path stroke="#f6d" d="M42 11h1M24 20h1M25 21h1M67 37h1M53 60h1"/><path stroke="#f6e" d="M69 38h1"/><path stroke="#f6f" d="M38 3h1M41 10h1M67 38h1M67 39h1"/><path stroke="#f70" d="M54 13h1M10 56h1"/><path stroke="#f71" d="M30 38h1"/><path stroke="#f73" d="M1 34h2M3 59h1"/><path stroke="#f74" d="M28 39h1M25 40h1"/><path stroke="#f75" d="M6 59h1"/><path stroke="#f76" d="M32 2h1M22 41h1"/><path stroke="#f77" d="M63 2h1M42 36h1M47 36h3M59 37h3M43 58h1"/><path stroke="#f78" d="M12 14h2M45 36h2M57 37h2M45 58h4"/><path stroke="#f79" d="M33 0h1M8 36h1"/><path stroke="#f7a" d="M35 0h1M16 15h1M46 15h1M11 37h1M14 38h1M16 39h1M18 40h1"/><path stroke="#f7b" d="M36 0h1M36 1h1M18 16h1M20 17h1M51 59h1"/><path stroke="#f7c" d="M66 1h1M21 18h1"/><path stroke="#f7d" d="M37 3h1M43 13h1M68 38h1"/><path stroke="#f7f" d="M38 4h1M40 9h1M69 10h1M26 23h1M69 39h1"/><path stroke="#f80" d="M54 14h1"/><path stroke="#f82" d="M2 59h1"/><path stroke="#f83" d="M0 34h1M33 37h1"/><path stroke="#f84" d="M53 15h1M36 36h1M31 38h1M9 58h1"/><path stroke="#f85" d="M3 13h1M36 58h1"/><path stroke="#f86" d="M37 36h1M37 58h2M7 59h2M4 60h1"/><path stroke="#f87" d="M64 0h1M31 2h1M38 36h4M43 36h1M39 58h3"/><path stroke="#f88" d="M6 14h1M9 14h3M50 16h2M44 36h1M56 37h1M21 42h1M42 58h1M44 58h1"/><path stroke="#f89" d="M34 0h1M7 14h2M49 16h1M6 36h2M54 37h2"/><path stroke="#f8a" d="M65 0h1M34 1h2M15 15h1M10 37h1M50 59h1"/><path stroke="#f8b" d="M65 1h1M13 38h1M15 39h1M17 40h1M19 41h1"/><path stroke="#f8c" d="M44 14h1M19 17h1M66 38h1"/><path stroke="#f8d" d="M22 19h1M23 20h1M52 60h1"/><path stroke="#f8e" d="M41 11h1M42 12h1M24 21h1M25 22h1"/><path stroke="#f8f" d="M66 3h1M68 11h1M68 39h1M53 61h1"/><path stroke="#f90" d="M11 55h1M34 58h1"/><path stroke="#f91" d="M10 57h1"/><path stroke="#f93" d="M35 58h1"/><path stroke="#f95" d="M34 37h1"/><path stroke="#f96" d="M62 2h1M29 39h1M26 40h1"/><path stroke="#f97" d="M32 0h1M64 1h1M35 37h1M23 41h1M5 60h2"/><path stroke="#f98" d="M31 0h1M63 0h1M5 14h1M52 16h1M24 41h1"/><path stroke="#f99" d="M33 1h1M4 14h1M4 36h2M53 37h1"/><path stroke="#f9a" d="M14 15h1M48 16h1M51 37h2M62 38h4M48 59h2"/><path stroke="#f9b" d="M17 16h1M47 16h1M9 37h1M12 38h1M20 42h1"/><path stroke="#f9c" d="M36 3h1M45 15h1M18 41h1"/><path stroke="#f9d" d="M20 18h1"/><path stroke="#f9f" d="M39 8h1M40 10h1"/><path stroke="#fa0" d="M55 13h1M33 58h1"/><path stroke="#fa4" d="M55 14h1"/><path stroke="#fa5" d="M1 13h1"/><path stroke="#fa6" d="M61 2h1M10 58h1M3 60h1"/><path stroke="#fa7" d="M62 0h1M30 2h1M54 15h1M3 35h1M32 38h1M9 59h1"/><path stroke="#fa8" d="M30 0h1M32 1h1M36 37h1M33 38h1M30 39h1M27 40h1M7 60h1"/><path stroke="#fa9" d="M31 1h1M63 1h1M53 16h1M37 37h1M25 41h1M22 42h1M38 59h1"/><path stroke="#faa" d="M48 37h3M59 38h3M39 59h1M47 59h1"/><path stroke="#fab" d="M12 15h2M8 37h1M46 37h2M58 38h1M45 59h2"/><path stroke="#fac" d="M34 3h2M16 16h1M14 39h1M16 40h1"/><path stroke="#fad" d="M43 14h1M18 17h1M21 19h1M51 60h1"/><path stroke="#fae" d="M41 12h1M42 13h1M24 22h1"/><path stroke="#faf" d="M37 4h1M39 9h1M66 13h1M25 23h1M66 39h1M66 40h1M52 61h1"/><path stroke="#fb0" d="M11 56h1"/><path stroke="#fb3" d="M56 13h1"/><path stroke="#fb4" d="M2 13h1"/><path stroke="#fb5" d="M0 13h1M11 57h1M34 59h1M0 60h2"/><path stroke="#fb6" d="M35 59h1"/><path stroke="#fb8" d="M29 0h1M62 1h1M55 15h1M10 59h1M36 59h1"/><path stroke="#fb9" d="M34 38h1M31 39h1M28 40h1M37 59h1M8 60h1M4 61h2"/><path stroke="#fba" d="M38 37h3M29 40h1M26 41h1M23 42h1M40 59h2M6 61h1"/><path stroke="#fbb" d="M10 15h2M50 17h2M41 37h5M56 38h2M21 43h1M42 59h3"/><path stroke="#fbc" d="M8 15h2M15 16h1M46 16h1M49 17h1M7 37h1M11 38h1M55 38h1M20 43h1"/><path stroke="#fbd" d="M44 15h1M19 18h1M13 39h1M17 41h1M19 42h1M50 60h1"/><path stroke="#fbe" d="M65 3h1M22 20h1M23 21h1"/><path stroke="#fbf" d="M37 5h1M40 11h1M66 14h1M52 62h1"/><path stroke="#fc0" d="M33 59h1"/><path stroke="#fc4" d="M12 56h1"/><path stroke="#fc5" d="M2 60h1"/><path stroke="#fc6" d="M0 35h2"/><path stroke="#fc7" d="M28 0h1M61 0h1M61 1h1M29 2h1M56 14h1M11 58h1M3 61h1"/><path stroke="#fc8" d="M29 1h1M3 14h1"/><path stroke="#fc9" d="M30 1h1M3 36h1"/><path stroke="#fca" d="M64 3h1M54 16h1M35 38h1M32 39h1M9 60h1"/><path stroke="#fcb" d="M63 3h1M52 17h1M5 37h1M36 38h1M30 40h1M27 41h1M24 42h1M7 61h2"/><path stroke="#fcc" d="M4 15h4M6 37h1M53 38h2M62 39h4M4 62h1"/><path stroke="#fcd" d="M14 16h1M45 16h1M17 17h1M48 17h1M4 37h1M9 38h2M52 38h1M61 39h1M15 40h1M47 60h3"/><path stroke="#fce" d="M41 13h1M42 14h1M43 15h1M18 18h1M20 19h1M21 20h1M18 42h1M51 61h1"/><path stroke="#fcf" d="M36 4h1M37 6h1M38 8h1M39 10h1M40 12h1M25 24h1"/><path stroke="#fd0" d="M56 12h1M12 54h1M32 59h1"/><path stroke="#fd4" d="M57 12h1"/><path stroke="#fd6" d="M2 35h1M0 61h2"/><path stroke="#fd7" d="M57 13h1M1 14h1M12 57h1"/><path stroke="#fd9" d="M57 14h1M12 58h1M35 60h1"/><path stroke="#fda" d="M62 3h1M56 15h1M11 59h1"/><path stroke="#fdb" d="M32 3h1M55 16h1M10 60h1M36 60h1"/><path stroke="#fdc" d="M33 3h1M53 17h1M37 38h1M33 39h1M31 40h1M28 41h1M25 42h1M22 43h1M37 60h3M9 61h1M5 62h2"/><path stroke="#fdd" d="M12 16h2M47 17h1M54 17h1M8 38h1M38 38h3M48 38h4M12 39h1M57 39h4M23 43h1M21 44h1M40 60h7M7 62h1"/><path stroke="#fde" d="M11 16h1M44 16h1M15 17h2M19 19h1M22 21h1M11 39h1M14 40h1M16 41h1M19 43h1M20 44h1M50 61h1"/><path stroke="#fdf" d="M36 5h1M37 7h1M38 9h1M39 11h1M64 13h2M64 14h1M23 22h1M24 23h1M51 62h1"/><path stroke="#fe0" d="M12 55h1"/><path stroke="#fe5" d="M13 55h1"/><path stroke="#fe7" d="M58 12h1M0 14h1M1 36h1M13 56h1M34 60h1"/><path stroke="#fe9" d="M58 13h1M13 57h1"/><path stroke="#feb" d="M58 14h1"/><path stroke="#fec" d="M57 15h1M56 16h1M13 58h1M12 59h1M11 60h1"/><path stroke="#fed" d="M58 15h1M34 39h1M29 41h1M26 42h1M12 60h1M10 61h1M36 61h1M8 62h1M5 63h1"/><path stroke="#fee" d="M5 16h6M57 16h1M14 17h1M45 17h2M55 17h1M17 18h1M49 18h5M5 38h3M41 38h7M10 39h1M35 39h3M53 39h4M13 40h1M32 40h1M60 40h6M15 41h1M30 41h1M17 42h1M27 42h1M24 43h1M22 44h1M11 61h1M37 61h5M46 61h4M9 62h1M4 63h1M6 63h1"/><path stroke="#fef" d="M35 4h1M35 5h1M65 5h1M36 6h1M36 7h1M37 8h1M37 9h1M38 10h1M64 10h1M38 11h1M64 11h1M39 12h1M40 13h1M41 14h1M63 14h1M42 15h1M63 15h2M43 16h1M13 17h1M16 18h1M48 18h1M18 19h1M20 20h1M21 21h1M22 22h1M23 23h1M24 24h1M4 38h1M9 39h1M52 39h1M12 40h1M59 40h1M18 43h1M19 44h1M20 50h1M45 61h1M50 62h1M45 65h1"/><path stroke="#ff0" d="M57 10h1M57 11h1M13 53h1M13 54h1M32 60h1"/><path stroke="#ff2" d="M58 10h1"/><path stroke="#ff5" d="M60 0h1M60 1h1M60 2h1M60 3h1M58 11h1M33 60h1M2 61h1"/><path stroke="#ff6" d="M27 0h1M2 14h1M2 15h1M2 36h1M2 37h1M33 61h1M2 62h1"/><path stroke="#ff7" d="M27 1h1M27 2h2M0 15h1M0 36h1M0 37h1M14 54h1M0 62h2"/><path stroke="#ff8" d="M28 1h1M61 3h1M59 11h1M1 15h1M1 37h1M14 55h1M34 61h1"/><path stroke="#ff9" d="M3 62h1"/><path stroke="#ffa" d="M29 3h1M59 12h1M3 15h1M3 37h1M14 56h1M3 63h1"/><path stroke="#ffb" d="M60 11h1M3 16h1M3 38h1M3 39h1M35 61h1"/><path stroke="#ffc" d="M30 3h2M60 12h1M59 13h1M15 55h1M14 57h1M35 62h1"/><path stroke="#ffd" d="M62 4h1M61 10h1M61 11h1M59 14h1M16 54h1M15 56h1M13 59h1"/><path stroke="#ffe" d="M31 4h1M62 7h1M62 8h1M62 9h1M61 12h1M60 13h1M65 14h1M56 17h1M33 40h1M28 42h1M25 43h1M23 44h1M18 49h1M17 52h1M17 53h1M16 55h1M16 56h1M15 57h1M14 58h1M14 59h1M13 60h1M42 61h1M10 62h1M36 62h1M42 65h1"/><path stroke="#fff" d="M32 4h3M63 4h3M33 5h2M63 5h2M33 6h3M63 6h2M34 7h2M63 7h2M34 8h3M63 8h2M35 9h2M63 9h2M35 10h3M62 10h2M36 11h2M62 11h2M37 12h2M62 12h2M37 13h3M61 13h3M38 14h3M60 14h3M39 15h3M59 15h4M65 15h1M4 16h1M40 16h3M58 16h6M65 16h1M4 17h9M41 17h4M57 17h9M4 18h12M42 18h6M54 18h8M12 19h6M44 19h15M15 20h5M48 20h7M17 21h4M18 22h4M20 23h3M21 24h3M22 25h2M23 26h1M4 39h5M38 39h14M4 40h8M34 40h25M4 41h1M8 41h7M31 41h7M51 41h15M12 42h5M29 42h5M57 42h9M14 43h4M26 43h5M65 43h1M16 44h3M24 44h5M17 45h9M18 46h6M19 47h3M19 48h2M19 49h2M18 50h2M18 51h2M18 52h2M18 53h2M17 54h2M17 55h2M17 56h2M16 57h2M15 58h3M15 59h2M14 60h2M12 61h4M43 61h2M11 62h4M37 62h13M7 63h7M37 63h14M4 64h7M43 64h2M4 65h6M43 65h2"/></g></g></g>
<path fill-rule="evenodd" d="M257.0 800.0H331.4V876.3H257.0zM259.0 802.0H330.2V874.8H259.0z" fill="#fff"/>
<rect x="259.0" y="802.0" width="71.2" height="72.8" fill="#fff" fill-opacity="0.9"/>
<text x="294.8" y="850.2" font-size="44.3" fill="#1c1c1c" text-anchor="middle" font-family="'Liberation Sans',Arial,Helvetica,sans-serif">1</text>
<g clip-path="url(#cp1)"><g filter="url(#bp1)"><g transform="translate(344.05 539.95) scale(4.98281 5.01562) translate(0 .5)" fill="none" stroke-width="1.04"><path stroke="#000" d="M4 6h6M60 6h6M4 7h62M4 8h62M4 28h1M65 28h1M4 29h62M4 30h62M4 50h1M6 50h1M8 50h54M63 50h1M65 50h1M4 51h62M4 52h62M22 69h26"/><path stroke="#001" d="M5 50h1M7 50h1M21 69h1"/><path stroke="#004" d="M3 5h1M3 6h1M3 28h1M3 50h1"/><path stroke="#005" d="M3 4h1M3 27h1M3 49h1"/><path stroke="#007" d="M1 4h1M1 27h1M1 49h1"/><path stroke="#008" d="M0 4h1M0 27h1M0 49h1"/><path stroke="#009" d="M2 4h1M2 26h1M2 27h1M2 48h1M2 49h1"/><path stroke="#010" d="M62 50h1M64 50h1M48 69h1"/><path stroke="#011" d="M4 5h1M65 5h1M10 6h50M5 28h60M20 69h1M49 69h1"/><path stroke="#012" d="M19 69h1"/><path stroke="#019" d="M0 26h1M0 48h1"/><path stroke="#021" d="M50 69h1"/><path stroke="#022" d="M5 5h3M62 5h3M4 49h1M65 49h1"/><path stroke="#023" d="M61 5h1M5 49h1M18 69h1"/><path stroke="#028" d="M1 26h1M1 48h1"/><path stroke="#02a" d="M2 3h1M2 47h1"/><path stroke="#032" d="M8 5h1M64 49h1M51 69h1"/><path stroke="#033" d="M9 5h7M54 5h7M4 27h62M6 49h58"/><path stroke="#034" d="M53 5h1M16 69h2"/><path stroke="#037" d="M3 26h1M3 48h1"/><path stroke="#039" d="M0 47h2"/><path stroke="#03a" d="M0 3h1"/><path stroke="#03b" d="M2 25h1"/><path stroke="#040" d="M66 5h1M66 6h1M66 28h1M66 50h1"/><path stroke="#043" d="M16 5h1M52 69h2"/><path stroke="#044" d="M4 4h1M65 4h1M17 5h36"/><path stroke="#045" d="M15 69h1"/><path stroke="#04a" d="M1 3h1M0 25h1"/><path stroke="#050" d="M66 4h1M66 27h1M66 49h1"/><path stroke="#054" d="M54 69h1"/><path stroke="#055" d="M5 4h3M62 4h3"/><path stroke="#056" d="M60 4h2M4 48h2M14 69h1"/><path stroke="#059" d="M3 47h1"/><path stroke="#05a" d="M1 25h1"/><path stroke="#05b" d="M2 2h1"/><path stroke="#065" d="M8 4h2M64 48h2M55 69h1"/><path stroke="#066" d="M10 4h2M58 4h2M4 26h62M6 48h58"/><path stroke="#067" d="M56 4h2M13 69h1"/><path stroke="#070" d="M68 4h1M68 27h1M68 49h1"/><path stroke="#073" d="M66 26h1M66 48h1"/><path stroke="#076" d="M12 4h2M56 69h1"/><path stroke="#077" d="M14 4h3M53 4h3"/><path stroke="#078" d="M51 4h2M12 69h1"/><path stroke="#079" d="M3 3h1"/><path stroke="#07a" d="M3 25h1"/><path stroke="#07b" d="M0 2h2"/><path stroke="#07e" d="M2 1h1"/><path stroke="#080" d="M69 4h1M69 27h1M69 49h1"/><path stroke="#082" d="M68 26h1M68 48h1"/><path stroke="#087" d="M17 4h2M57 69h1"/><path stroke="#088" d="M19 4h32"/><path stroke="#089" d="M4 47h1M11 69h1"/><path stroke="#08a" d="M10 69h1"/><path stroke="#090" d="M67 4h1M67 26h1M67 27h1M67 48h1M67 49h1"/><path stroke="#091" d="M69 26h1M69 48h1"/><path stroke="#093" d="M68 47h2"/><path stroke="#095" d="M66 47h1"/><path stroke="#097" d="M66 3h1"/><path stroke="#098" d="M65 47h1M58 69h1"/><path stroke="#099" d="M5 47h60"/><path stroke="#09a" d="M3 2h1M61 3h4"/><path stroke="#09b" d="M9 69h1"/><path stroke="#09e" d="M0 1h1"/><path stroke="#0a2" d="M67 3h1M67 47h1"/><path stroke="#0a3" d="M69 3h1"/><path stroke="#0a4" d="M68 3h1M69 25h1"/><path stroke="#0a5" d="M68 25h1"/><path stroke="#0a7" d="M66 25h1"/><path stroke="#0a8" d="M59 69h1"/><path stroke="#0a9" d="M66 2h1M5 3h4"/><path stroke="#0aa" d="M4 3h1M9 3h3M58 3h3M65 3h1M4 25h62"/><path stroke="#0ab" d="M64 2h1M53 3h5"/><path stroke="#0ac" d="M8 69h1"/><path stroke="#0ae" d="M1 1h1"/><path stroke="#0b3" d="M67 25h1"/><path stroke="#0b5" d="M67 2h1"/><path stroke="#0b7" d="M68 2h2"/><path stroke="#0b9" d="M60 69h1"/><path stroke="#0ba" d="M5 2h1M12 3h5"/><path stroke="#0bb" d="M6 2h2M62 2h2M17 3h4M49 3h4"/><path stroke="#0bc" d="M60 2h2M65 2h1M46 3h3"/><path stroke="#0bd" d="M7 69h1"/><path stroke="#0be" d="M6 69h1"/><path stroke="#0ca" d="M61 69h1"/><path stroke="#0cb" d="M4 2h1M8 2h2M21 3h3"/><path stroke="#0cc" d="M10 2h1M59 2h1M24 3h7M39 3h7"/><path stroke="#0cd" d="M65 1h1M57 2h2M37 3h2"/><path stroke="#0ce" d="M5 69h1"/><path stroke="#0cf" d="M4 69h1"/><path stroke="#0db" d="M62 69h1"/><path stroke="#0dc" d="M4 1h1M11 2h2M31 3h2"/><path stroke="#0dd" d="M33 3h4"/><path stroke="#0de" d="M64 1h1M55 2h2"/><path stroke="#0df" d="M62 1h2"/><path stroke="#0e7" d="M67 1h1"/><path stroke="#0e9" d="M69 1h1"/><path stroke="#0ea" d="M68 1h1"/><path stroke="#0eb" d="M63 69h1"/><path stroke="#0ec" d="M64 69h1"/><path stroke="#0ed" d="M5 1h1M13 2h2"/><path stroke="#0ef" d="M3 1h1M55 1h7M52 2h3M3 69h1M67 69h1M69 69h1"/><path stroke="#0fc" d="M65 69h1"/><path stroke="#0fd" d="M6 1h2"/><path stroke="#0fe" d="M8 1h7M66 1h1M15 2h3M0 69h1M2 69h1M66 69h1"/><path stroke="#0ff" d="M18 2h34M0 24h70M0 46h70M11 68h48M1 69h1M68 69h1"/><path stroke="#100" d="M4 9h1M10 9h50M65 9h1M4 31h1M6 31h58M65 31h1M4 53h1M65 53h1"/><path stroke="#104" d="M3 29h1"/><path stroke="#107" d="M1 5h1"/><path stroke="#108" d="M0 5h1"/><path stroke="#140" d="M66 29h1"/><path stroke="#170" d="M68 5h1"/><path stroke="#180" d="M69 5h1"/><path stroke="#1ef" d="M54 1h1"/><path stroke="#1fe" d="M15 1h1"/><path stroke="#1ff" d="M24 67h22M10 68h1M59 68h1"/><path stroke="#200" d="M6 9h4M60 9h4M6 53h58"/><path stroke="#201" d="M5 9h1M5 31h1M5 53h1"/><path stroke="#204" d="M3 7h1M3 51h1"/><path stroke="#206" d="M1 6h1"/><path stroke="#207" d="M0 28h2M0 50h2"/><path stroke="#209" d="M2 5h1"/><path stroke="#210" d="M64 9h1M64 31h1M64 53h1"/><path stroke="#240" d="M66 7h1M66 51h1"/><path stroke="#260" d="M68 6h1"/><path stroke="#270" d="M68 28h2M68 50h2"/><path stroke="#290" d="M67 5h1"/><path stroke="#29f" d="M66 0h1"/><path stroke="#2cf" d="M68 0h1"/><path stroke="#2df" d="M69 0h1"/><path stroke="#2ef" d="M67 0h1M53 1h1"/><path stroke="#2f9" d="M3 0h1"/><path stroke="#2fc" d="M1 0h1"/><path stroke="#2fd" d="M0 0h1"/><path stroke="#2fe" d="M2 0h1M16 1h1"/><path stroke="#2ff" d="M4 45h62M19 67h5M46 67h5M8 68h2M60 68h2"/><path stroke="#300" d="M18 10h34M4 32h1M65 32h1"/><path stroke="#304" d="M3 30h1M3 52h1"/><path stroke="#306" d="M1 7h1M1 29h1M1 51h1"/><path stroke="#307" d="M0 6h1M0 29h1M0 51h1"/><path stroke="#309" d="M2 28h1M2 50h1"/><path stroke="#340" d="M66 30h1M66 52h1"/><path stroke="#360" d="M68 7h1M68 29h1M68 51h1"/><path stroke="#370" d="M69 6h1M69 29h1M69 51h1"/><path stroke="#390" d="M67 28h1M67 50h1"/><path stroke="#3af" d="M67 45h1"/><path stroke="#3bf" d="M69 45h1"/><path stroke="#3cf" d="M68 45h1"/><path stroke="#3df" d="M66 45h1"/><path stroke="#3ef" d="M52 1h1M15 67h2"/><path stroke="#3fa" d="M2 45h1"/><path stroke="#3fb" d="M0 45h1"/><path stroke="#3fc" d="M1 45h1"/><path stroke="#3fd" d="M3 45h1"/><path stroke="#3fe" d="M17 1h1M53 67h2"/><path stroke="#3ff" d="M17 67h2M51 67h2M6 68h2M62 68h2"/><path stroke="#400" d="M4 10h1M6 10h12M52 10h12M65 10h1M6 32h58M4 54h1M6 54h6M58 54h6M65 54h1"/><path stroke="#401" d="M5 32h1"/><path stroke="#405" d="M3 8h1"/><path stroke="#407" d="M0 7h1M0 30h2M1 52h1"/><path stroke="#409" d="M2 6h1M2 29h1M2 51h1"/><path stroke="#410" d="M64 32h1"/><path stroke="#450" d="M66 8h1"/><path stroke="#470" d="M69 7h1M68 30h2M68 52h1"/><path stroke="#48f" d="M67 68h1"/><path stroke="#490" d="M67 6h1M67 29h1M67 51h1"/><path stroke="#49f" d="M67 23h1M67 67h1M69 68h1"/><path stroke="#4af" d="M68 23h2M69 67h1M68 68h1"/><path stroke="#4bf" d="M68 67h1"/><path stroke="#4cf" d="M66 23h1"/><path stroke="#4df" d="M65 0h1M66 67h1"/><path stroke="#4ef" d="M51 1h1M6 67h9"/><path stroke="#4f8" d="M2 68h1"/><path stroke="#4f9" d="M2 23h1M2 67h1M0 68h1"/><path stroke="#4fa" d="M0 23h2M0 67h1M1 68h1"/><path stroke="#4fb" d="M1 67h1"/><path stroke="#4fc" d="M3 23h1"/><path stroke="#4fd" d="M4 0h1M3 67h1"/><path stroke="#4fe" d="M18 1h1M55 67h9"/><path stroke="#4ff" d="M4 23h62M23 66h24M4 67h2M64 67h2M4 68h2M64 68h2"/><path stroke="#500" d="M12 54h46"/><path stroke="#501" d="M5 10h1M5 54h1"/><path stroke="#505" d="M3 31h1M3 53h1"/><path stroke="#507" d="M0 8h2M1 31h1M0 52h1M1 53h1"/><path stroke="#508" d="M2 8h1"/><path stroke="#509" d="M2 7h1M2 30h1M2 52h1"/><path stroke="#510" d="M64 10h1M64 54h1"/><path stroke="#550" d="M66 31h1M66 53h1"/><path stroke="#55f" d="M67 43h1"/><path stroke="#56f" d="M67 66h1"/><path stroke="#570" d="M68 8h2M68 31h1M69 52h1M68 53h1"/><path stroke="#580" d="M67 8h1"/><path stroke="#590" d="M67 7h1M67 30h1M67 52h1"/><path stroke="#5df" d="M64 0h1"/><path stroke="#5ef" d="M50 1h1"/><path stroke="#5f5" d="M2 43h1"/><path stroke="#5f6" d="M2 66h1"/><path stroke="#5fd" d="M5 0h1"/><path stroke="#5fe" d="M19 1h1"/><path stroke="#5ff" d="M10 66h13M47 66h13M3 68h1M66 68h1"/><path stroke="#600" d="M23 11h24"/><path stroke="#604" d="M3 32h1M3 54h1"/><path stroke="#605" d="M3 10h1"/><path stroke="#606" d="M3 9h1"/><path stroke="#607" d="M1 9h1M0 31h1M0 53h1"/><path stroke="#608" d="M0 9h1M2 31h1M2 53h1"/><path stroke="#640" d="M66 32h1M66 54h1"/><path stroke="#650" d="M66 10h1"/><path stroke="#65f" d="M67 21h1"/><path stroke="#660" d="M66 9h1"/><path stroke="#670" d="M68 9h1M69 31h1M69 53h1"/><path stroke="#67f" d="M67 22h1M69 43h1M67 44h1"/><path stroke="#680" d="M69 9h1M67 31h1M67 53h1"/><path stroke="#68f" d="M69 22h1M69 66h1"/><path stroke="#69f" d="M68 66h1"/><path stroke="#6ef" d="M49 1h1M6 66h4"/><path stroke="#6f5" d="M2 21h1"/><path stroke="#6f7" d="M2 22h1M0 43h1M2 44h1"/><path stroke="#6f8" d="M0 22h1M0 66h1"/><path stroke="#6f9" d="M1 66h1"/><path stroke="#6fe" d="M20 1h1M60 66h4"/><path stroke="#6ff" d="M5 66h1M64 66h1"/><path stroke="#700" d="M6 11h17M47 11h17M6 33h58M5 55h3M62 55h3"/><path stroke="#701" d="M4 11h2M4 33h2M4 55h1"/><path stroke="#704" d="M3 33h1"/><path stroke="#709" d="M2 9h1"/><path stroke="#710" d="M64 11h2M64 33h2M65 55h1"/><path stroke="#740" d="M66 33h1"/><path stroke="#75f" d="M67 65h1"/><path stroke="#77f" d="M68 21h2M68 43h1"/><path stroke="#78f" d="M69 44h1"/><path stroke="#790" d="M67 9h1"/><path stroke="#79f" d="M68 22h1M68 44h1"/><path stroke="#7bf" d="M66 44h1"/><path stroke="#7df" d="M63 0h1"/><path stroke="#7ef" d="M48 1h1"/><path stroke="#7f5" d="M2 65h1"/><path stroke="#7f7" d="M0 21h2M1 43h1"/><path stroke="#7f8" d="M0 44h1"/><path stroke="#7f9" d="M1 22h1M1 44h1"/><path stroke="#7fb" d="M3 44h1"/><path stroke="#7fd" d="M6 0h1"/><path stroke="#7fe" d="M21 1h1"/><path stroke="#7ff" d="M4 66h1M65 66h1"/><path stroke="#800" d="M8 55h54"/><path stroke="#804" d="M3 11h1M3 55h1"/><path stroke="#806" d="M1 11h1M1 33h1M1 55h1"/><path stroke="#807" d="M1 10h1M0 33h1"/><path stroke="#808" d="M0 32h2M1 54h1"/><path stroke="#840" d="M66 11h1M66 55h1"/><path stroke="#860" d="M68 11h1M68 33h1M68 55h1"/><path stroke="#86f" d="M69 65h1"/><path stroke="#870" d="M68 10h1M69 33h1"/><path stroke="#87f" d="M68 65h1"/><path stroke="#880" d="M68 32h2M68 54h1"/><path stroke="#8bf" d="M66 22h1"/><path stroke="#8cf" d="M66 66h1"/><path stroke="#8df" d="M62 0h1"/><path stroke="#8ef" d="M46 1h2M64 22h2M64 44h2"/><path stroke="#8f6" d="M0 65h1"/><path stroke="#8f7" d="M1 65h1"/><path stroke="#8fb" d="M3 22h1"/><path stroke="#8fc" d="M3 66h1"/><path stroke="#8fd" d="M7 0h1"/><path stroke="#8fe" d="M22 1h2M4 22h2M4 44h2"/><path stroke="#8ff" d="M6 22h58M6 44h58"/><path stroke="#907" d="M0 11h1M0 55h1"/><path stroke="#908" d="M0 10h1M2 11h1M2 33h1M0 54h1M2 55h1"/><path stroke="#90a" d="M2 32h1"/><path stroke="#96f" d="M67 42h1"/><path stroke="#970" d="M69 11h1M69 55h1"/><path stroke="#97f" d="M67 20h1"/><path stroke="#980" d="M69 10h1M67 11h1M67 33h1M69 54h1M67 55h1"/><path stroke="#98f" d="M69 42h1"/><path stroke="#9a0" d="M67 32h1"/><path stroke="#9af" d="M66 21h1"/><path stroke="#9bf" d="M66 43h1"/><path stroke="#9f6" d="M2 42h1"/><path stroke="#9f7" d="M2 20h1"/><path stroke="#9f8" d="M0 42h1"/><path stroke="#9fa" d="M3 21h1"/><path stroke="#9fb" d="M3 43h1"/><path stroke="#9ff" d="M24 1h2M44 1h2M18 65h34"/><path stroke="#a00" d="M25 12h20"/><path stroke="#a0a" d="M2 10h1M2 54h1"/><path stroke="#a6f" d="M67 19h1M67 41h1"/><path stroke="#a7f" d="M67 64h1"/><path stroke="#a8f" d="M69 20h1M69 41h1M68 42h1M69 64h1"/><path stroke="#a9f" d="M68 20h1"/><path stroke="#aa0" d="M67 10h1M67 54h1"/><path stroke="#aaf" d="M66 20h1M66 42h1"/><path stroke="#abf" d="M66 65h1"/><path stroke="#adf" d="M61 0h1"/><path stroke="#aef" d="M64 43h1"/><path stroke="#af6" d="M2 19h1M2 41h1"/><path stroke="#af7" d="M2 64h1"/><path stroke="#af8" d="M0 20h1M0 41h1M1 42h1M0 64h1"/><path stroke="#af9" d="M1 20h1"/><path stroke="#afa" d="M3 20h1M3 42h1"/><path stroke="#afb" d="M3 65h1"/><path stroke="#afd" d="M8 0h1"/><path stroke="#afe" d="M5 43h1"/><path stroke="#aff" d="M26 1h2M42 1h2M12 65h6M52 65h6"/><path stroke="#b00" d="M9 12h16M45 12h16"/><path stroke="#b6f" d="M67 18h1M67 40h1M67 63h1"/><path stroke="#b8f" d="M68 19h2M69 63h1"/><path stroke="#b9f" d="M68 41h1M68 64h1"/><path stroke="#bbf" d="M66 64h1"/><path stroke="#bef" d="M60 0h1M64 21h1"/><path stroke="#bf6" d="M2 18h1M2 40h1M2 63h1"/><path stroke="#bf8" d="M0 19h2M0 63h1"/><path stroke="#bf9" d="M1 41h1M1 64h1"/><path stroke="#bfb" d="M3 64h1"/><path stroke="#bfe" d="M9 0h1M5 21h1"/><path stroke="#bff" d="M28 1h14M6 21h58M4 43h1M6 43h58M65 43h1M7 65h5M58 65h5"/><path stroke="#c00" d="M6 12h3M61 12h3M4 34h62M4 56h5M61 56h5"/><path stroke="#c01" d="M4 12h2"/><path stroke="#c02" d="M3 34h1M3 56h1"/><path stroke="#c03" d="M3 12h1"/><path stroke="#c04" d="M0 12h2M0 34h2M1 56h1"/><path stroke="#c05" d="M2 12h1M2 34h1M0 56h1"/><path stroke="#c06" d="M2 56h1"/><path stroke="#c10" d="M64 12h2"/><path stroke="#c20" d="M66 34h1M66 56h1"/><path stroke="#c30" d="M66 12h1"/><path stroke="#c40" d="M68 12h2M68 34h2M68 56h1"/><path stroke="#c50" d="M67 12h1M67 34h1M69 56h1"/><path stroke="#c60" d="M67 56h1"/><path stroke="#c6f" d="M67 17h1M67 39h1M67 62h1"/><path stroke="#c8f" d="M69 18h1M69 40h1M69 62h1M68 63h1"/><path stroke="#c9f" d="M68 18h1M68 40h1"/><path stroke="#cbf" d="M66 19h1M66 41h1"/><path stroke="#cef" d="M59 0h1"/><path stroke="#cf6" d="M2 17h1M2 39h1M2 62h1"/><path stroke="#cf8" d="M0 18h1M0 40h1M0 62h1M1 63h1"/><path stroke="#cf9" d="M1 18h1M1 40h1"/><path stroke="#cfb" d="M3 19h1M3 41h1"/><path stroke="#cfe" d="M10 0h1"/><path stroke="#cff" d="M4 21h1M65 21h1M26 64h18M5 65h2M63 65h2"/><path stroke="#d00" d="M9 56h22M39 56h22"/><path stroke="#d6f" d="M67 61h1"/><path stroke="#d8f" d="M68 17h2M68 39h2M69 61h1"/><path stroke="#d9f" d="M68 62h1"/><path stroke="#dbf" d="M66 63h1"/><path stroke="#def" d="M64 42h1"/><path stroke="#df6" d="M2 61h1"/><path stroke="#df8" d="M0 17h2M0 39h2M0 61h1"/><path stroke="#df9" d="M1 62h1"/><path stroke="#dfb" d="M3 63h1"/><path stroke="#dfe" d="M5 42h1"/><path stroke="#dff" d="M7 42h56M12 64h14M44 64h14M4 65h1M65 65h1"/><path stroke="#e00" d="M31 56h8"/><path stroke="#e8f" d="M68 61h1"/><path stroke="#ebf" d="M66 18h1M66 40h1M66 62h1"/><path stroke="#eef" d="M58 0h1M64 20h1"/><path stroke="#ef8" d="M1 61h1"/><path stroke="#efb" d="M3 18h1M3 40h1M3 62h1"/><path stroke="#efe" d="M11 0h1M5 20h1"/><path stroke="#eff" d="M4 20h1M6 20h58M65 20h1M4 42h1M6 42h1M63 42h1M65 42h1M5 64h7M58 64h7"/><path stroke="#f00" d="M0 13h70M0 35h70M0 57h70"/><path stroke="#f44" d="M14 14h42"/><path stroke="#f45" d="M11 14h3"/><path stroke="#f4c" d="M67 58h1"/><path stroke="#f54" d="M56 14h3"/><path stroke="#f55" d="M4 14h7M59 14h7M6 36h58"/><path stroke="#f56" d="M64 36h2M62 58h4"/><path stroke="#f59" d="M66 14h1M66 36h1M66 58h1"/><path stroke="#f5a" d="M68 58h1"/><path stroke="#f5b" d="M68 14h1M68 36h1M69 58h1"/><path stroke="#f5c" d="M69 14h1M69 36h1"/><path stroke="#f5d" d="M67 14h1M67 36h1"/><path stroke="#f65" d="M4 36h2M4 58h4"/><path stroke="#f66" d="M8 58h11M51 58h11"/><path stroke="#f67" d="M49 58h2"/><path stroke="#f6d" d="M69 59h1"/><path stroke="#f6e" d="M69 15h1M67 59h1"/><path stroke="#f6f" d="M67 15h1M67 16h1M67 37h1M67 38h1M67 60h1"/><path stroke="#f76" d="M19 58h2"/><path stroke="#f77" d="M21 58h28"/><path stroke="#f7c" d="M66 59h1"/><path stroke="#f7d" d="M68 15h1M68 37h1M68 59h1"/><path stroke="#f7e" d="M69 37h1"/><path stroke="#f7f" d="M69 16h1M69 38h1M69 60h1"/><path stroke="#f88" d="M7 15h1M9 15h52M62 15h1"/><path stroke="#f89" d="M8 15h1M64 15h1M64 59h1"/><path stroke="#f8c" d="M66 15h1M66 37h1"/><path stroke="#f8f" d="M68 16h1M68 38h1M68 60h1"/><path stroke="#f95" d="M3 14h1M3 36h1M3 58h1"/><path stroke="#f98" d="M5 15h1M61 15h1M5 59h1"/><path stroke="#f99" d="M4 15h1M6 15h1M63 15h1M65 15h1M5 37h60M4 59h1M6 59h15M49 59h15M65 59h1"/><path stroke="#f9a" d="M65 37h1M47 59h2"/><path stroke="#f9f" d="M66 60h1"/><path stroke="#fa5" d="M1 58h1"/><path stroke="#fa9" d="M4 37h1M21 59h2"/><path stroke="#faa" d="M23 59h24"/><path stroke="#faf" d="M66 16h1M66 38h1M66 61h1"/><path stroke="#fb5" d="M1 14h1M1 36h1M0 58h1"/><path stroke="#fbb" d="M20 16h30"/><path stroke="#fbc" d="M18 16h2M64 60h1"/><path stroke="#fbf" d="M66 17h1M66 39h1"/><path stroke="#fc4" d="M2 58h1"/><path stroke="#fc5" d="M0 14h1M0 36h1"/><path stroke="#fc7" d="M3 59h1"/><path stroke="#fc8" d="M3 15h1M3 37h1"/><path stroke="#fcb" d="M50 16h2M5 60h1"/><path stroke="#fcc" d="M4 16h14M52 16h14M6 38h58M4 60h1M6 60h11M53 60h11M65 60h1"/><path stroke="#fcd" d="M64 38h1M52 60h1"/><path stroke="#fd5" d="M2 14h1M2 36h1"/><path stroke="#fd6" d="M0 59h1"/><path stroke="#fd7" d="M1 15h1M1 37h1M1 59h1"/><path stroke="#fdc" d="M5 38h1M17 60h1"/><path stroke="#fdd" d="M4 38h1M65 38h1M18 60h34"/><path stroke="#fde" d="M64 61h1"/><path stroke="#fe6" d="M0 15h1M2 59h1"/><path stroke="#fe7" d="M0 37h1"/><path stroke="#fed" d="M5 61h1"/><path stroke="#fee" d="M25 0h20M5 17h60M6 39h58M4 61h1M6 61h10M54 61h10M65 61h1"/><path stroke="#fef" d="M56 0h2M64 39h1"/><path stroke="#ff6" d="M2 15h1M2 16h1M2 37h1M2 38h1M2 60h1"/><path stroke="#ff7" d="M0 16h1M0 38h1M0 60h1"/><path stroke="#ff8" d="M1 16h1M1 38h1M1 60h1"/><path stroke="#ff9" d="M3 60h1"/><path stroke="#ffa" d="M3 16h1M3 38h1M3 61h1"/><path stroke="#ffb" d="M3 17h1M3 39h1"/><path stroke="#ffe" d="M12 0h2M5 39h1"/><path stroke="#fff" d="M14 0h11M45 0h11M4 17h1M65 17h1M4 18h62M4 19h62M4 39h1M65 39h1M4 40h62M4 41h62M16 61h38M4 62h62M4 63h62M4 64h1M65 64h1"/></g></g></g>
<path fill-rule="evenodd" d="M601.0 800.0H678.2V876.3H601.0zM603.0 802.0H677.0V874.8H603.0z" fill="#fff"/>
<rect x="603.0" y="802.0" width="74.0" height="72.8" fill="#fff" fill-opacity="0.9"/>
<text x="640.4" y="850.2" font-size="44.3" fill="#1c1c1c" text-anchor="middle" font-family="'Liberation Sans',Arial,Helvetica,sans-serif">2</text>
<g clip-path="url(#cp2)"><g filter="url(#bp2)"><g transform="translate(687.16 539.95) scale(5.01250 5.01562) translate(0 .5)" fill="none" stroke-width="1.04"><path stroke="#000" d="M64 18h6M64 19h6M65 20h5M65 21h5M67 22h3M49 65h4M45 66h12M43 67h17M44 68h19M44 69h22"/><path stroke="#001" d="M53 14h4M55 15h5M57 16h6M59 17h6M60 18h4M61 19h3M62 20h3M64 21h1"/><path stroke="#002" d="M21 0h2M23 1h2M25 2h1M26 3h1M42 11h2M45 12h6M47 13h7M49 14h4M50 15h5M51 16h6M53 17h6M55 18h5M58 19h3M61 20h1"/><path stroke="#003" d="M23 0h2M25 1h1M26 2h1M27 3h1M28 4h2M30 5h1M32 6h1M33 7h1M35 8h1M38 9h1M40 10h4M44 11h4"/><path stroke="#010" d="M48 65h1M53 65h1M44 66h1M57 66h1M40 67h3M60 67h1M36 68h8M38 69h6"/><path stroke="#011" d="M57 14h1M60 15h2M63 16h3M65 17h5M47 65h1M54 65h1M42 66h2M58 66h1M38 67h2M61 67h1M35 68h1M63 68h1M35 69h3"/><path stroke="#012" d="M51 12h1M54 13h1M58 14h1M62 15h1"/><path stroke="#013" d="M39 9h1M44 10h1M48 11h1M52 12h1M55 13h1"/><path stroke="#014" d="M25 0h1M26 1h1M27 2h1M28 3h2M30 4h1M31 5h1M34 7h1M36 8h2M40 9h3M45 10h2M49 11h1"/><path stroke="#015" d="M27 1h1M28 2h1M31 4h1M32 5h1M33 6h1M35 7h2M38 8h3M43 9h1"/><path stroke="#016" d="M30 3h1M34 6h1M37 7h1"/><path stroke="#021" d="M66 16h4M50 64h2M46 65h1M41 66h1M36 67h2M34 68h1M34 69h1"/><path stroke="#022" d="M63 15h3M49 64h1M45 65h1M55 65h1M40 66h1M59 66h1"/><path stroke="#023" d="M56 13h1M59 14h2"/><path stroke="#024" d="M50 11h1M53 12h1"/><path stroke="#025" d="M26 0h1M44 9h1M47 10h1"/><path stroke="#026" d="M28 1h1M29 2h1M33 5h1M38 7h1M41 8h1"/><path stroke="#027" d="M32 4h1M35 6h1"/><path stroke="#028" d="M36 6h1"/><path stroke="#032" d="M66 15h4M48 64h1M52 64h1M43 65h2M56 65h1M39 66h1M35 67h1M33 69h1"/><path stroke="#033" d="M61 14h4"/><path stroke="#034" d="M54 12h1M57 13h1"/><path stroke="#035" d="M51 11h1"/><path stroke="#036" d="M45 9h1M48 10h1"/><path stroke="#037" d="M27 0h1M39 7h1M42 8h1"/><path stroke="#038" d="M30 2h1M31 3h1M34 5h1M40 7h1"/><path stroke="#039" d="M29 1h1M33 4h1M37 6h1"/><path stroke="#042" d="M38 66h1"/><path stroke="#043" d="M65 14h5M46 64h2M53 64h2M42 65h1M57 65h1M37 66h1M60 66h1M34 67h1M33 68h1M32 69h1"/><path stroke="#045" d="M55 12h1M58 13h2"/><path stroke="#046" d="M49 10h1M52 11h1"/><path stroke="#047" d="M46 9h1M50 10h1"/><path stroke="#048" d="M43 8h1M47 9h1"/><path stroke="#049" d="M28 0h1M44 8h1"/><path stroke="#04a" d="M32 3h1M38 6h1M41 7h1"/><path stroke="#04b" d="M35 5h1"/><path stroke="#053" d="M50 63h1M41 65h1M36 66h1"/><path stroke="#054" d="M65 13h1M49 63h1M51 63h1M44 64h2M55 64h1M40 65h1M58 65h1M35 66h1"/><path stroke="#055" d="M60 13h5"/><path stroke="#056" d="M53 11h1M56 12h1"/><path stroke="#057" d="M51 10h1M54 11h1M57 12h1"/><path stroke="#058" d="M48 9h1"/><path stroke="#059" d="M45 8h1"/><path stroke="#05a" d="M29 0h1M42 7h1"/><path stroke="#05b" d="M30 1h1M31 2h1M39 6h1"/><path stroke="#05c" d="M36 5h1"/><path stroke="#05d" d="M34 4h1"/><path stroke="#064" d="M66 13h4M48 63h1M52 63h1M43 64h1M39 65h1M33 67h1M32 68h1M31 69h1"/><path stroke="#065" d="M47 63h1M56 64h1M38 65h1M59 65h1"/><path stroke="#068" d="M52 10h1M55 11h1M58 12h1"/><path stroke="#069" d="M49 9h1"/><path stroke="#06a" d="M46 8h1"/><path stroke="#06b" d="M30 0h1M43 7h1"/><path stroke="#06c" d="M31 1h1M40 6h1"/><path stroke="#06d" d="M32 2h1M33 3h1M37 5h1"/><path stroke="#075" d="M46 63h1M53 63h1M42 64h1"/><path stroke="#076" d="M50 62h1M57 64h1"/><path stroke="#077" d="M61 12h4"/><path stroke="#078" d="M59 12h2"/><path stroke="#079" d="M53 10h1M56 11h1"/><path stroke="#07a" d="M47 8h1M50 9h1"/><path stroke="#07b" d="M44 7h2"/><path stroke="#07c" d="M31 0h1M41 6h2"/><path stroke="#07d" d="M32 1h1M38 5h2"/><path stroke="#07e" d="M33 2h1M35 4h2"/><path stroke="#07f" d="M34 3h1"/><path stroke="#085" d="M41 64h1M37 65h1M34 66h1M30 69h1"/><path stroke="#086" d="M65 12h5M49 62h1M51 62h1M45 63h1M54 63h1M31 68h1"/><path stroke="#08a" d="M54 10h1M57 11h1"/><path stroke="#08b" d="M48 8h1M51 9h1"/><path stroke="#08c" d="M43 6h1M46 7h1"/><path stroke="#08d" d="M32 0h1M40 5h2"/><path stroke="#08e" d="M33 1h1M37 4h2"/><path stroke="#08f" d="M34 2h1M35 3h2"/><path stroke="#096" d="M52 62h1M44 63h1M55 63h1M40 64h1M58 64h1M36 65h1M32 67h1M29 69h1"/><path stroke="#097" d="M48 62h1"/><path stroke="#099" d="M63 11h1"/><path stroke="#09a" d="M58 11h1M60 11h3"/><path stroke="#09b" d="M55 10h1M59 11h1"/><path stroke="#09c" d="M49 8h1M52 9h1"/><path stroke="#09d" d="M44 6h1"/><path stroke="#09e" d="M39 4h2M42 5h1"/><path stroke="#09f" d="M34 1h1M35 2h1M37 3h2"/><path stroke="#0a7" d="M47 62h1M53 62h1M43 63h1M56 63h1M39 64h1M59 64h1"/><path stroke="#0a8" d="M67 11h3"/><path stroke="#0a9" d="M64 11h3"/><path stroke="#0ac" d="M56 10h1"/><path stroke="#0ad" d="M47 7h1M53 9h1"/><path stroke="#0ae" d="M43 5h1M45 6h1"/><path stroke="#0af" d="M36 2h1M41 4h1"/><path stroke="#0b7" d="M35 65h1M30 68h1"/><path stroke="#0b8" d="M50 61h2M46 62h1M54 62h1M42 63h1M57 63h1M33 66h1M28 69h1"/><path stroke="#0bd" d="M57 10h2"/><path stroke="#0be" d="M48 7h1M50 8h1M54 9h1"/><path stroke="#0bf" d="M46 6h1"/><path stroke="#0c8" d="M38 64h1M31 67h1"/><path stroke="#0c9" d="M48 61h2M52 61h1M45 62h1"/><path stroke="#0cc" d="M64 10h6"/><path stroke="#0cd" d="M60 10h4"/><path stroke="#0ce" d="M55 9h1M59 10h1"/><path stroke="#0cf" d="M51 8h1"/><path stroke="#0d9" d="M44 62h1M41 63h1M37 64h1M29 68h1M27 69h1"/><path stroke="#0de" d="M67 9h3"/><path stroke="#0df" d="M65 9h2"/><path stroke="#0e9" d="M34 65h1M32 66h1"/><path stroke="#0ea" d="M50 60h2M46 61h2M43 62h1M40 63h1M30 67h1"/><path stroke="#0fa" d="M28 68h1M26 69h1"/><path stroke="#0fb" d="M49 60h1"/><path stroke="#101" d="M65 22h2"/><path stroke="#102" d="M19 0h2M21 1h2M23 2h2M25 3h1M27 4h1M29 5h1M30 6h1M38 10h2M40 11h2M42 12h3M44 13h3M46 14h3M47 15h3M49 16h2M51 17h2M54 18h1M60 20h1M62 21h2"/><path stroke="#103" d="M20 1h1M22 2h1M24 3h1M26 4h1M28 5h1M31 6h1M31 7h2M33 8h2M35 9h3M37 10h1M43 13h1M45 14h1M53 18h1M56 19h2M59 20h1"/><path stroke="#111" d="M66 69h4"/><path stroke="#122" d="M64 68h1"/><path stroke="#132" d="M62 67h1"/><path stroke="#154" d="M61 66h1"/><path stroke="#176" d="M60 65h1"/><path stroke="#19e" d="M33 0h1"/><path stroke="#1a8" d="M60 64h1"/><path stroke="#1af" d="M35 1h1M37 2h1M39 3h1"/><path stroke="#1bf" d="M42 4h1M44 5h1"/><path stroke="#1c9" d="M55 62h1M58 63h1"/><path stroke="#1cf" d="M49 7h1M52 8h1M56 9h1"/><path stroke="#1da" d="M53 61h1"/><path stroke="#1df" d="M57 9h1M61 9h4"/><path stroke="#1fa" d="M39 63h1M36 64h1M29 67h1M27 68h1M25 69h1"/><path stroke="#1fb" d="M48 60h1M45 61h1M42 62h1"/><path stroke="#202" d="M64 22h1M66 23h4"/><path stroke="#203" d="M18 0h1M19 1h1M19 2h3M21 3h3M24 4h2M26 5h2M28 6h2M30 7h1M32 8h1M34 9h1M36 10h1M38 11h2M40 12h2M41 13h2M43 14h2M45 15h2M47 16h2M50 17h1M52 18h1M55 19h1M61 21h1M63 22h1"/><path stroke="#204" d="M39 12h1M58 20h1M60 21h1"/><path stroke="#233" d="M65 68h1"/><path stroke="#243" d="M63 67h1"/><path stroke="#254" d="M64 67h1"/><path stroke="#265" d="M62 66h1"/><path stroke="#286" d="M61 65h1"/><path stroke="#2bf" d="M38 2h1M40 3h1"/><path stroke="#2cf" d="M45 5h1M47 6h1M50 7h1M53 8h1"/><path stroke="#2da" d="M56 62h1"/><path stroke="#2db" d="M54 61h1"/><path stroke="#2df" d="M54 8h1M58 9h3"/><path stroke="#2eb" d="M52 60h1"/><path stroke="#2fa" d="M33 65h1M31 66h1M24 69h1"/><path stroke="#2fb" d="M47 60h1M44 61h1M41 62h1M38 63h1M35 64h1"/><path stroke="#2fc" d="M50 59h2"/><path stroke="#303" d="M17 0h1M18 1h1M23 4h1M25 5h1M49 17h1M51 18h1M62 22h1M64 23h2M67 24h3"/><path stroke="#304" d="M18 2h1M19 3h2M21 4h2M23 5h2M26 6h2M28 7h2M30 8h2M32 9h2M34 10h2M36 11h2M38 12h1M40 13h1M42 14h1M44 15h1M46 16h1M48 17h1M53 19h2M56 20h2M59 21h1"/><path stroke="#343" d="M66 68h1"/><path stroke="#344" d="M67 68h3"/><path stroke="#355" d="M65 67h1"/><path stroke="#366" d="M63 66h1"/><path stroke="#397" d="M62 65h1"/><path stroke="#3b9" d="M61 64h1"/><path stroke="#3bf" d="M34 0h1M36 1h1"/><path stroke="#3ca" d="M59 63h1"/><path stroke="#3cf" d="M41 3h1M43 4h1M48 6h1"/><path stroke="#3df" d="M55 8h1M65 8h5"/><path stroke="#3fb" d="M40 62h1M37 63h1M32 65h1M30 66h1M28 67h1M26 68h1"/><path stroke="#3fc" d="M49 59h1M46 60h1M53 60h1M43 61h1"/><path stroke="#402" d="M67 40h3"/><path stroke="#403" d="M66 24h1"/><path stroke="#404" d="M17 1h1M17 2h1M18 3h1M20 4h1M22 5h1M25 6h1M27 7h1M29 8h1M31 9h1M39 13h1M41 14h1M43 15h1M45 16h1M50 18h1M52 19h1M61 22h1M63 23h1"/><path stroke="#405" d="M19 4h1M24 6h1M26 7h1M28 8h1M30 9h1M32 10h2M34 11h2M37 12h1M55 20h1M58 21h1M60 22h1"/><path stroke="#414" d="M16 0h1"/><path stroke="#466" d="M66 67h1"/><path stroke="#476" d="M64 66h1"/><path stroke="#498" d="M63 65h1"/><path stroke="#4ba" d="M62 64h1"/><path stroke="#4cf" d="M37 1h1M39 2h1M44 4h1M46 5h1"/><path stroke="#4db" d="M57 62h1"/><path stroke="#4df" d="M51 7h1M56 8h1M63 8h2"/><path stroke="#4eb" d="M55 61h1"/><path stroke="#4fa" d="M23 69h1"/><path stroke="#4fb" d="M34 64h1"/><path stroke="#4fc" d="M52 59h1"/><path stroke="#501" d="M67 41h3"/><path stroke="#503" d="M66 40h1"/><path stroke="#504" d="M47 17h1M62 23h1M65 24h1"/><path stroke="#505" d="M17 3h1M18 4h1M20 5h2M22 6h2M25 7h1M27 8h1M29 9h1M31 10h1M36 12h1M38 13h1M40 14h1M42 15h1M49 18h1M54 20h1M57 21h1M59 22h1"/><path stroke="#506" d="M33 11h1"/><path stroke="#514" d="M15 0h1M16 1h1"/><path stroke="#566" d="M67 67h3"/><path stroke="#587" d="M65 66h1"/><path stroke="#5a9" d="M64 65h1"/><path stroke="#5cf" d="M35 0h1M40 2h1M42 3h1"/><path stroke="#5db" d="M60 63h1"/><path stroke="#5df" d="M47 5h1M49 6h1M52 7h1"/><path stroke="#5ef" d="M57 8h1M62 8h1"/><path stroke="#5fb" d="M31 65h1M29 66h1M27 67h1M25 68h1M22 69h1"/><path stroke="#5fc" d="M48 59h1M45 60h1M54 60h1M42 61h1M39 62h1M36 63h1"/><path stroke="#601" d="M66 41h1"/><path stroke="#604" d="M64 24h1"/><path stroke="#605" d="M44 16h1M46 17h1M48 18h1M51 19h1M56 21h1M61 23h1"/><path stroke="#606" d="M19 5h1M21 6h1M23 7h2M26 8h1M28 9h1M30 10h1M35 12h1M37 13h1M39 14h1M41 15h1M58 22h1"/><path stroke="#615" d="M14 0h1M15 1h1M16 2h1"/><path stroke="#688" d="M66 66h1"/><path stroke="#6a9" d="M65 65h1"/><path stroke="#6ca" d="M63 64h1"/><path stroke="#6cf" d="M38 1h1"/><path stroke="#6db" d="M61 63h1"/><path stroke="#6df" d="M43 3h1M45 4h1M50 6h1M53 7h2M66 7h4"/><path stroke="#6eb" d="M58 62h1"/><path stroke="#6ec" d="M56 61h1"/><path stroke="#6ef" d="M60 8h2"/><path stroke="#6fa" d="M21 69h1"/><path stroke="#6fb" d="M33 64h1M28 66h1M26 67h1M24 68h1"/><path stroke="#6fc" d="M50 58h2M47 59h1M53 59h1M44 60h1M41 61h1M38 62h1M35 63h1"/><path stroke="#700" d="M49 31h1"/><path stroke="#702" d="M65 41h1"/><path stroke="#703" d="M65 40h1"/><path stroke="#704" d="M63 24h1"/><path stroke="#705" d="M60 23h1M67 39h3"/><path stroke="#706" d="M17 4h1M18 5h1M20 6h1M22 7h1M25 8h1M27 9h1M32 11h1M34 12h1M36 13h1M38 14h1M43 16h1M45 17h1M50 19h1M53 20h1M55 21h1M57 22h1M59 23h1"/><path stroke="#707" d="M29 10h1"/><path stroke="#710" d="M47 30h2M50 31h2"/><path stroke="#716" d="M14 1h1M15 2h1M16 3h1"/><path stroke="#720" d="M49 30h2"/><path stroke="#726" d="M13 0h1"/><path stroke="#798" d="M67 66h3"/><path stroke="#7cb" d="M64 64h1"/><path stroke="#7df" d="M36 0h1M39 1h1M41 2h1M44 3h1M46 4h1M48 5h1M51 6h1M64 7h2"/><path stroke="#7ef" d="M55 7h1M58 8h2"/><path stroke="#7fa" d="M20 69h1"/><path stroke="#7fb" d="M32 64h1M30 65h1M27 66h1M25 67h1M23 68h1"/><path stroke="#7fc" d="M49 58h1M46 59h1M43 60h1M55 60h1M40 61h1M37 62h1"/><path stroke="#7fd" d="M52 58h1"/><path stroke="#800" d="M43 29h2M45 30h2M48 31h1M50 32h2M67 42h3"/><path stroke="#801" d="M47 31h1"/><path stroke="#804" d="M67 25h3M64 40h1"/><path stroke="#805" d="M61 24h2"/><path stroke="#806" d="M47 18h1M52 20h1M58 23h1M66 39h1"/><path stroke="#807" d="M17 5h1M18 6h2M21 7h1M23 8h2M26 9h1M28 10h1M31 11h1M33 12h1M35 13h1M40 15h1M42 16h1"/><path stroke="#810" d="M42 28h2M45 29h2"/><path stroke="#812" d="M64 41h1"/><path stroke="#816" d="M14 2h1M15 3h1M16 4h1"/><path stroke="#820" d="M44 28h1M47 29h1M52 31h1"/><path stroke="#826" d="M12 0h1M13 1h1"/><path stroke="#830" d="M45 28h1M48 29h1M51 30h1"/><path stroke="#8ba" d="M66 65h1"/><path stroke="#8df" d="M37 0h1M40 1h1M42 2h1M49 5h1"/><path stroke="#8ec" d="M57 61h1M59 62h1M62 63h1"/><path stroke="#8ef" d="M45 3h1M47 4h1M52 6h1M56 7h1M62 7h2"/><path stroke="#8fa" d="M19 69h1"/><path stroke="#8fb" d="M31 64h1M29 65h1M26 66h1M24 67h1M22 68h1"/><path stroke="#8fc" d="M45 59h1M42 60h1M39 61h1M36 62h1M34 63h1"/><path stroke="#8fd" d="M48 58h1M54 59h1M56 60h1"/><path stroke="#900" d="M38 27h1M40 28h2M42 29h1M49 32h1M66 42h1"/><path stroke="#901" d="M44 30h1M46 31h1M65 42h1"/><path stroke="#904" d="M65 25h2"/><path stroke="#905" d="M58 24h3"/><path stroke="#906" d="M56 22h1M57 23h1M65 39h1"/><path stroke="#907" d="M19 7h2M22 8h1M25 9h1M30 11h1M37 14h1M39 15h1M44 17h1M49 19h1M54 21h1M67 38h3"/><path stroke="#908" d="M17 6h1M24 9h1M27 10h1M32 12h1"/><path stroke="#910" d="M3 13h2M6 14h1M8 15h2M11 16h1M14 17h1M37 26h1M39 27h2M52 32h1"/><path stroke="#911" d="M0 13h3M5 14h1"/><path stroke="#912" d="M63 41h1"/><path stroke="#915" d="M63 40h1"/><path stroke="#917" d="M14 3h1M15 4h1M16 5h1"/><path stroke="#920" d="M7 14h1M12 16h1M38 26h1M41 27h1"/><path stroke="#927" d="M11 0h1M12 1h1M13 2h1"/><path stroke="#930" d="M39 26h1M42 27h1M49 29h1"/><path stroke="#940" d="M43 27h1M46 28h1M52 30h1M53 31h1"/><path stroke="#9ba" d="M67 65h3"/><path stroke="#9dc" d="M65 64h1"/><path stroke="#9df" d="M66 6h4"/><path stroke="#9ec" d="M60 62h1"/><path stroke="#9ed" d="M58 61h1M63 63h1"/><path stroke="#9ef" d="M38 0h1M41 1h1M43 2h1M46 3h1M48 4h1M50 5h2M53 6h2M57 7h1M60 7h2"/><path stroke="#9fa" d="M18 69h1"/><path stroke="#9fb" d="M30 64h1M28 65h1M25 66h1M23 67h1M21 68h1"/><path stroke="#9fc" d="M41 60h1M38 61h1M35 62h1M33 63h1"/><path stroke="#9fd" d="M49 57h3M46 58h2M53 58h1M44 59h1M55 59h1"/><path stroke="#a00" d="M12 17h1M14 18h2M17 19h2M19 20h2M21 21h3M24 22h2M26 23h2M29 24h2M32 25h1M34 26h2M36 27h2M39 28h1M50 33h2M6 61h1M3 62h2"/><path stroke="#a01" d="M9 16h1M38 28h1M41 29h1M43 30h1M45 31h1M47 32h2M63 42h2"/><path stroke="#a04" d="M62 25h3"/><path stroke="#a05" d="M57 24h1"/><path stroke="#a06" d="M56 23h1"/><path stroke="#a07" d="M41 16h1M46 18h1M51 20h1M53 21h1M55 22h1M66 38h1M64 39h1"/><path stroke="#a08" d="M18 7h1M20 8h2M23 9h1M26 10h1M28 11h2M31 12h1M34 13h1M36 14h1"/><path stroke="#a10" d="M10 16h1M13 17h1M16 18h1M19 19h1M21 20h1M24 21h1M26 22h1M28 23h2M31 24h1M33 25h2M36 26h1M15 58h1M12 59h1M9 60h1M7 61h1"/><path stroke="#a11" d="M4 14h1M7 15h1"/><path stroke="#a13" d="M62 41h1"/><path stroke="#a17" d="M14 4h1"/><path stroke="#a18" d="M15 5h1M16 6h1"/><path stroke="#a20" d="M0 12h3M5 13h1M10 15h1M15 17h1M17 18h1M20 19h1M22 20h1M25 21h1M27 22h1M30 23h1M32 24h1M35 25h1M53 32h1M18 57h1"/><path stroke="#a27" d="M11 1h1M12 2h1M13 3h1"/><path stroke="#a30" d="M3 12h1M8 14h1M11 15h1M13 16h1M16 17h1M18 18h1M21 19h1M23 20h1M26 21h1M28 22h1M31 23h1M33 24h1M36 25h1M54 32h1"/><path stroke="#a37" d="M10 0h1"/><path stroke="#a40" d="M29 22h1M34 24h1M37 25h1M40 26h2M44 27h1M47 28h1M50 29h1"/><path stroke="#adc" d="M66 64h1"/><path stroke="#adf" d="M64 6h2"/><path stroke="#aed" d="M61 62h1M64 63h1"/><path stroke="#aef" d="M39 0h2M42 1h2M44 2h2M47 3h1M49 4h1M52 5h1M55 6h1M58 7h2"/><path stroke="#afa" d="M19 68h1"/><path stroke="#afb" d="M29 64h1M27 65h1M24 66h1M22 67h1M20 68h1"/><path stroke="#afc" d="M42 59h2M40 60h1M37 61h1M34 62h1M32 63h1"/><path stroke="#afd" d="M50 56h2M48 57h1M52 57h2M45 58h1M54 58h1M56 59h1M57 60h1M59 61h1M62 62h1"/><path stroke="#b00" d="M16 19h1M18 20h1M23 22h1M31 25h1M49 33h1M32 51h1M0 62h3"/><path stroke="#b01" d="M5 15h1M8 16h1M10 17h2M13 18h1M15 19h1M17 20h1M20 21h1M22 22h1M25 23h1M27 24h2M30 25h1M32 26h2M35 27h1M37 28h1M40 29h1M44 31h1M45 32h2M48 33h1M62 42h1M29 52h1M10 59h1M7 60h2M4 61h2"/><path stroke="#b02" d="M39 29h1M42 30h1M43 31h1"/><path stroke="#b03" d="M58 25h3"/><path stroke="#b04" d="M61 25h1"/><path stroke="#b05" d="M56 24h1"/><path stroke="#b06" d="M55 23h1"/><path stroke="#b07" d="M48 19h1M54 22h1M65 38h1M63 39h1"/><path stroke="#b08" d="M17 7h1M19 8h1M22 9h1M24 10h2M27 11h1M30 12h1M32 13h2M35 14h1M38 15h1M40 16h1M43 17h1M45 18h1M64 38h1"/><path stroke="#b10" d="M52 33h2M30 52h1M27 53h2M25 54h1M23 55h1M20 56h1M17 57h1M10 60h1M5 62h1M0 63h3"/><path stroke="#b11" d="M3 14h1M6 15h1M24 54h1M21 55h2M19 56h1M16 57h1M13 58h2M11 59h1"/><path stroke="#b12" d="M0 14h3"/><path stroke="#b15" d="M62 40h1"/><path stroke="#b18" d="M14 5h1M15 6h1"/><path stroke="#b20" d="M26 54h1M24 55h1M21 56h1M16 58h1M13 59h1M11 60h1M8 61h1M3 63h1"/><path stroke="#b28" d="M10 1h1M11 2h1M11 3h2M12 4h2"/><path stroke="#b30" d="M6 13h1M19 57h1M14 59h1"/><path stroke="#b38" d="M9 0h1M10 2h1"/><path stroke="#b40" d="M9 14h1M14 16h1M17 17h1M19 18h1M22 19h1M24 20h1M27 21h1M32 23h1M38 25h1M55 32h1"/><path stroke="#b50" d="M30 22h1M35 24h1M54 31h1"/><path stroke="#b51" d="M53 30h1"/><path stroke="#bdd" d="M67 64h3"/><path stroke="#bdf" d="M65 5h5"/><path stroke="#bef" d="M41 0h2M44 1h1M46 2h1M48 3h1M50 4h2M53 5h2M56 6h2M61 6h3"/><path stroke="#bfa" d="M17 69h1"/><path stroke="#bfb" d="M31 63h1M28 64h1M26 65h1M23 66h1M21 67h1"/><path stroke="#bfc" d="M41 59h1M39 60h1M36 61h1M33 62h1"/><path stroke="#bfd" d="M49 56h1M52 56h1M46 57h2M44 58h1M55 58h1M58 60h1M60 61h2M63 62h1"/><path stroke="#bfe" d="M54 57h1M56 58h1M57 59h1M64 62h1M65 63h1"/><path stroke="#c00" d="M0 27h6M0 37h4M0 38h7M0 39h6M0 50h5M35 50h1"/><path stroke="#c01" d="M12 18h1M14 19h1M16 20h1M19 21h1M21 22h1M24 23h1M26 24h1M29 25h1M34 27h1M46 33h2M7 38h1M39 48h1M36 49h2M33 50h2M31 51h1M28 52h1M26 53h1M23 54h1M12 58h1M8 59h2M5 60h2M0 61h4"/><path stroke="#c02" d="M4 15h1M6 16h2M9 17h1M11 18h1M13 19h1M18 21h1M23 23h1M28 25h1M31 26h1M36 28h1M38 29h1M40 30h2M41 31h2M43 32h2M30 51h1M25 53h1M22 54h1M20 55h1M17 56h1M14 57h1M11 58h1"/><path stroke="#c05" d="M55 24h1"/><path stroke="#c06" d="M54 23h1M66 37h4"/><path stroke="#c07" d="M53 22h1M65 37h1"/><path stroke="#c08" d="M18 8h1M21 9h1M23 10h1M26 11h1M28 12h2M37 15h1M39 16h1M42 17h1M44 18h1M47 19h1M50 20h1M52 21h1M63 38h1"/><path stroke="#c09" d="M31 13h1M34 14h1M36 15h1"/><path stroke="#c10" d="M0 26h4M6 27h1M0 40h4M63 43h2M38 49h1M5 50h1M36 50h1M0 51h3M33 51h2M31 52h1"/><path stroke="#c11" d="M18 56h1M15 57h1"/><path stroke="#c12" d="M61 42h1"/><path stroke="#c13" d="M61 41h1"/><path stroke="#c16" d="M61 40h1"/><path stroke="#c18" d="M14 6h1M16 7h1M62 39h1"/><path stroke="#c20" d="M54 33h1M65 43h1M32 52h1M29 53h1M27 54h1M6 62h1"/><path stroke="#c28" d="M10 3h1M11 4h1M12 5h2"/><path stroke="#c30" d="M25 55h1M22 56h1M17 58h1M9 61h1M4 63h1"/><path stroke="#c38" d="M8 0h1M8 1h2M9 2h1"/><path stroke="#c40" d="M4 12h1M7 13h1M12 15h1M20 57h1M15 59h1M12 60h1"/><path stroke="#c50" d="M15 16h1M20 18h1M25 20h1M28 21h1M31 22h1M33 23h1M36 24h1M39 25h1M42 26h1M45 27h1"/><path stroke="#c51" d="M23 19h1M48 28h1M51 29h1M56 32h1"/><path stroke="#c61" d="M55 31h1"/><path stroke="#c71" d="M54 30h1"/><path stroke="#cdf" d="M67 3h1M65 4h5M64 5h1"/><path stroke="#cef" d="M43 0h1M45 1h1M47 2h1M49 3h1M52 4h2M64 4h1M55 5h1M62 5h2M60 6h1"/><path stroke="#cfa" d="M18 68h1M16 69h1"/><path stroke="#cfb" d="M32 62h1M30 63h1M27 64h1M25 65h1M22 66h1M20 67h1"/><path stroke="#cfc" d="M42 58h1M40 59h1M37 60h2M35 61h1"/><path stroke="#cfd" d="M50 55h2M47 56h2M45 57h1M43 58h1"/><path stroke="#cfe" d="M52 55h1M53 56h2M55 57h2M57 58h1M58 59h1M59 60h3M62 61h3M65 62h5M66 63h4"/><path stroke="#cff" d="M56 5h1M58 6h2"/><path stroke="#d00" d="M50 34h1M0 36h3M4 37h4M6 39h1M61 43h1"/><path stroke="#d01" d="M0 28h8M43 33h3M8 37h5M8 38h6M7 39h7M11 40h4M44 46h1M41 47h2M40 48h1M0 49h5"/><path stroke="#d02" d="M3 15h1M5 16h1M7 17h2M9 18h2M11 19h2M14 20h2M16 21h2M19 22h2M22 23h1M24 24h2M26 25h2M29 26h2M32 27h2M35 28h1M41 32h2M14 38h1M14 39h1M15 40h1M43 46h1M40 47h1M37 48h2M35 49h1M32 50h1M29 51h1M27 52h1M24 53h1M21 54h1M19 55h1M15 56h2M12 57h2M8 58h3M5 59h3M0 60h5"/><path stroke="#d03" d="M0 15h3M13 20h1M57 25h1M37 29h1M38 30h2M39 31h2M40 32h1M34 49h1M31 50h1M28 51h1M26 52h1M23 53h1M18 55h1M11 57h1"/><path stroke="#d05" d="M54 24h1M66 36h4"/><path stroke="#d06" d="M53 23h1"/><path stroke="#d07" d="M52 22h1M63 37h2"/><path stroke="#d08" d="M17 8h1M20 9h1M22 10h1M25 11h1M27 12h1M30 13h1M40 17h2M43 18h1M46 19h1M48 20h2M51 21h1"/><path stroke="#d09" d="M19 9h1M32 14h2M35 15h1M38 16h1M61 38h2"/><path stroke="#d10" d="M4 26h2M7 27h2M4 40h3M0 41h5M62 43h1M43 47h1M41 48h1M39 49h1M3 51h2"/><path stroke="#d11" d="M9 27h1M8 28h4M7 40h4M5 41h7M45 46h1M5 49h4M6 50h2M5 51h1"/><path stroke="#d12" d="M62 26h2M60 42h1M7 58h1M4 59h1"/><path stroke="#d13" d="M64 26h6M25 52h1M20 54h1M17 55h1M13 56h2M10 57h1"/><path stroke="#d14" d="M60 41h1"/><path stroke="#d17" d="M60 40h1"/><path stroke="#d18" d="M13 6h1M15 7h1M61 39h1"/><path stroke="#d20" d="M55 33h1M66 43h4M37 50h1M35 51h1M33 52h1M30 53h1"/><path stroke="#d21" d="M9 49h2M8 50h1"/><path stroke="#d28" d="M11 5h1"/><path stroke="#d29" d="M10 4h1"/><path stroke="#d30" d="M56 33h1M31 53h1M28 54h1"/><path stroke="#d38" d="M7 0h1"/><path stroke="#d39" d="M7 1h1M7 2h2M8 3h2M9 4h1"/><path stroke="#d40" d="M26 55h1M23 56h1M7 62h1"/><path stroke="#d49" d="M6 0h1"/><path stroke="#d50" d="M0 11h3M5 12h1M10 14h1M13 15h1M21 57h1M18 58h1M13 60h1M10 61h1M5 63h1"/><path stroke="#d51" d="M18 17h1M21 18h1M26 20h1"/><path stroke="#d60" d="M29 21h1M34 23h1M37 24h1M40 25h1"/><path stroke="#d61" d="M43 26h1M46 27h1M49 28h1M52 29h1M57 32h1"/><path stroke="#d71" d="M56 31h1"/><path stroke="#d81" d="M55 30h1"/><path stroke="#ddf" d="M67 0h3M66 1h4M65 2h5M65 3h2M68 3h2"/><path stroke="#def" d="M44 0h1M46 1h1M48 2h1M50 3h1M63 3h2M61 4h3M60 5h2"/><path stroke="#dfa" d="M32 61h1M17 68h1M15 69h1"/><path stroke="#dfb" d="M37 59h2M35 60h2M33 61h2M30 62h2M28 63h2M26 64h1M23 65h2M21 66h1M19 67h1"/><path stroke="#dfc" d="M45 56h1M42 57h2M40 58h2M39 59h1"/><path stroke="#dfd" d="M50 54h1M47 55h3M46 56h1M44 57h1"/><path stroke="#dfe" d="M51 54h3M53 55h3M55 56h2M57 57h2M58 58h3M59 59h6M62 60h4M65 61h5"/><path stroke="#dff" d="M45 0h1M47 1h1M51 3h1M54 4h2M57 5h3M66 60h4"/><path stroke="#e00" d="M48 34h2M51 34h3M3 36h8"/><path stroke="#e01" d="M58 26h3M0 29h6M42 34h6M67 35h3M11 36h7M13 37h3M22 37h1M14 41h6M60 43h1M49 44h1M47 45h1M0 47h5M0 48h5"/><path stroke="#e02" d="M38 33h5M66 35h1M16 37h6M15 38h7M15 39h6M16 40h5M46 45h1"/><path stroke="#e03" d="M0 16h5M4 17h3M7 18h2M9 19h2M11 20h2M13 21h3M15 22h4M18 23h4M20 24h4M23 25h3M55 25h2M26 26h3M29 27h3M32 28h3M35 29h2M36 30h2M37 31h2M37 32h3M39 47h1M36 48h1M33 49h1"/><path stroke="#e04" d="M36 31h1"/><path stroke="#e05" d="M53 24h1M61 36h5"/><path stroke="#e07" d="M50 22h2M52 23h1"/><path stroke="#e08" d="M24 11h1M26 12h1M28 13h2M31 14h1M33 15h1M36 16h2M38 17h2M41 18h2M43 19h3M45 20h3M48 21h3M60 37h3"/><path stroke="#e09" d="M18 9h1M21 10h1M23 11h1M34 15h1"/><path stroke="#e0a" d="M60 38h1"/><path stroke="#e10" d="M6 26h3M54 34h1M46 46h1"/><path stroke="#e11" d="M9 26h1M10 27h5M12 28h5M6 29h11M23 37h1M12 41h2M20 41h2M4 42h7M50 44h3M48 45h1M0 46h8M5 47h4M5 48h4"/><path stroke="#e12" d="M61 26h1M22 38h5M21 39h4M21 40h3M22 41h1M59 42h1M51 43h1M48 44h1M45 45h1M0 59h4"/><path stroke="#e13" d="M0 17h4M4 18h3M6 19h3M9 20h2M12 21h1M47 44h1M44 45h1M41 46h2M30 50h1M16 55h1M12 56h1M9 57h1M6 58h1"/><path stroke="#e14" d="M40 46h1M37 47h2M34 48h2M32 49h1M29 50h1M26 51h2M24 52h1M21 53h2M19 54h1M15 55h1"/><path stroke="#e15" d="M31 49h1"/><path stroke="#e17" d="M59 40h1"/><path stroke="#e19" d="M13 7h2M16 8h1M60 39h1"/><path stroke="#e20" d="M0 25h5M49 45h1M47 46h1M44 47h2M42 48h1M40 49h1M38 50h1M0 52h4"/><path stroke="#e21" d="M0 42h4M9 47h3M9 48h4M11 49h1M9 50h2M6 51h4M4 52h2"/><path stroke="#e22" d="M25 39h3M24 40h4M23 41h2M12 47h1M12 49h2M11 50h2"/><path stroke="#e23" d="M7 57h2M4 58h2"/><path stroke="#e24" d="M43 45h1M18 54h1M13 55h2M10 56h2"/><path stroke="#e25" d="M59 41h1M39 46h1M36 47h1M33 48h1M30 49h1M28 50h1M25 51h1M22 52h2M20 53h1M16 54h2"/><path stroke="#e26" d="M35 47h1M32 48h1M29 49h1M27 50h1"/><path stroke="#e29" d="M9 5h2M11 6h2"/><path stroke="#e30" d="M57 33h1M43 48h1M41 49h1M39 50h1M36 51h1M34 52h1"/><path stroke="#e31" d="M60 44h1"/><path stroke="#e32" d="M28 40h1M13 47h2M13 48h3M14 49h1"/><path stroke="#e33" d="M6 57h1M0 58h4"/><path stroke="#e34" d="M9 56h1M5 57h1"/><path stroke="#e35" d="M12 55h1"/><path stroke="#e36" d="M24 51h1M19 53h1"/><path stroke="#e39" d="M6 2h1M6 3h2M7 4h2"/><path stroke="#e40" d="M37 51h1M35 52h1M32 53h1M29 54h1"/><path stroke="#e42" d="M61 44h2"/><path stroke="#e49" d="M4 0h2M4 1h3M5 2h1"/><path stroke="#e50" d="M3 11h1M6 12h1M8 13h1M33 53h1M30 54h1M27 55h1M24 56h1M8 62h1M0 64h3"/><path stroke="#e51" d="M11 14h1M14 15h1M16 16h1"/><path stroke="#e60" d="M32 22h1M35 23h1M31 54h1M28 55h1M25 56h1M22 57h1M19 58h1M16 59h1M14 60h1M11 61h1M9 62h1M6 63h1M3 64h1"/><path stroke="#e61" d="M19 17h1M22 18h1M24 19h1M27 20h1M30 21h1M33 22h1M38 24h1M41 25h1M44 26h1M47 27h1M50 28h1"/><path stroke="#e71" d="M53 29h1"/><path stroke="#e81" d="M57 31h1"/><path stroke="#e91" d="M56 30h1"/><path stroke="#eeb" d="M44 55h1"/><path stroke="#eec" d="M51 52h3M49 53h2M47 54h1"/><path stroke="#eef" d="M62 0h5M61 1h5M61 2h4M61 3h2M60 4h1"/><path stroke="#ef9" d="M35 59h1M24 63h1M21 64h1"/><path stroke="#efa" d="M40 57h1M38 58h1M36 59h1M33 60h2M30 61h2M27 62h3M25 63h3M22 64h3M19 65h4M18 66h2M16 67h3M16 68h1M13 69h2"/><path stroke="#efb" d="M59 50h1M55 51h3M45 55h1M42 56h2M41 57h1M39 58h1M25 64h1M20 66h1"/><path stroke="#efc" d="M60 50h2M58 51h3M54 52h5M48 54h1M46 55h1M44 56h1"/><path stroke="#efd" d="M62 50h2M61 51h2M59 52h2M51 53h9M49 54h1"/><path stroke="#efe" d="M63 51h1M61 52h1M60 53h1M54 54h4M56 55h1M57 56h1M59 57h1M61 58h2"/><path stroke="#eff" d="M46 0h4M48 1h4M49 2h5M52 3h6M60 3h1M56 4h4M57 55h1M58 56h4M60 57h4M63 58h7M65 59h5"/><path stroke="#f00" d="M0 34h12M0 35h42"/><path stroke="#f01" d="M16 27h3M19 28h1M0 30h4M29 34h13M42 35h10M18 36h7M56 43h4"/><path stroke="#f02" d="M9 23h1M11 24h2M14 25h2M16 26h3M19 27h3M20 28h5M23 29h3M32 33h6M55 35h3M61 35h5"/><path stroke="#f03" d="M14 22h1M10 23h8M13 24h7M16 25h7M19 26h7M22 27h7M25 28h7M26 29h6M28 30h4M31 31h1M32 32h5M58 35h3"/><path stroke="#f04" d="M32 29h3M32 30h4M32 31h4"/><path stroke="#f05" d="M31 17h1M33 18h2M36 19h2M39 20h2M42 21h1M45 22h1M48 23h1M51 24h2M57 36h4"/><path stroke="#f06" d="M27 15h2M29 16h3M32 17h2M35 18h2M38 19h2M41 20h1M43 21h2M46 22h2M49 23h1"/><path stroke="#f07" d="M22 12h1M24 13h1M26 14h2M29 15h2M32 16h2M34 17h2M37 18h2M40 19h2M42 20h3M45 21h3M48 22h2M50 23h2"/><path stroke="#f08" d="M18 10h2M20 11h3M23 12h3M25 13h3M28 14h3M31 15h2M34 16h2M36 17h2M39 18h2M42 19h1M58 37h2"/><path stroke="#f09" d="M17 9h1M20 10h1"/><path stroke="#f0a" d="M58 38h2"/><path stroke="#f10" d="M12 34h1M55 34h15M28 36h11M17 42h4"/><path stroke="#f11" d="M4 23h2M7 24h2M10 25h2M10 26h5M57 26h1M15 27h1M17 28h2M17 29h1M4 30h5M0 33h7M13 34h16M25 36h3M39 36h6M24 37h6M11 42h6M9 43h4M55 43h1M5 44h4M53 44h2M0 45h9M8 46h1"/><path stroke="#f12" d="M0 21h4M0 22h7M6 23h3M9 24h2M12 25h2M15 26h1M56 26h1M18 29h5M9 30h3M22 30h3M0 31h8M25 31h2M26 32h5M7 33h2M26 33h6M52 35h3M45 36h4M52 43h3M0 44h5"/><path stroke="#f13" d="M0 18h4M3 19h3M4 20h5M4 21h8M7 22h7M42 22h1M51 25h4M25 30h3M27 31h4M31 32h1M49 36h4M58 42h1M50 43h1"/><path stroke="#f14" d="M26 16h1M29 17h1M32 18h1M34 19h2M37 20h2M40 21h2M43 22h1M45 23h2M48 24h2M53 36h4"/><path stroke="#f15" d="M19 13h1M22 14h2M24 15h3M27 16h2M30 17h1M44 22h1M47 23h1M50 24h1"/><path stroke="#f16" d="M16 11h1M18 12h2M20 13h3M24 14h2"/><path stroke="#f17" d="M10 8h1M12 9h2M14 10h3M17 11h3M20 12h2M23 13h1M55 37h2"/><path stroke="#f18" d="M11 8h3M14 9h3M17 10h1M57 37h1"/><path stroke="#f19" d="M12 7h1M14 8h2M58 39h2"/><path stroke="#f1a" d="M57 38h1"/><path stroke="#f20" d="M4 24h1M5 25h2M31 37h6"/><path stroke="#f21" d="M0 23h4M5 24h2M7 25h3M30 37h1M37 37h4M27 38h5M21 42h4M5 43h4M13 43h9M9 44h8M55 44h4M9 45h6M9 46h2"/><path stroke="#f22" d="M43 23h1M46 24h1M49 25h1M54 26h2M12 30h10M8 31h10M19 31h6M0 32h15M21 32h5M9 33h17M41 37h3M28 39h1M25 41h2M0 43h5M11 46h3M13 50h2M10 51h1"/><path stroke="#f23" d="M23 16h1M0 19h3M33 19h1M0 20h4M35 20h2M38 21h2M41 22h1M44 23h1M47 24h1M50 25h1M44 37h3M56 42h2M15 50h1"/><path stroke="#f24" d="M16 13h1M18 14h2M20 15h4M24 16h2M27 17h2M30 18h2M47 37h1M53 42h3M49 43h1M34 44h2M46 44h1M31 45h2M29 46h1"/><path stroke="#f25" d="M10 10h1M12 11h2M14 12h3M17 13h2M20 14h2M57 41h2M52 42h1M48 43h1M36 44h2M45 44h1M33 45h2M42 45h1M30 46h1"/><path stroke="#f26" d="M4 7h1M6 8h2M8 9h3M11 10h3M14 11h2M17 12h1M52 37h2M56 41h1M38 46h1"/><path stroke="#f27" d="M0 6h5M5 7h3M8 8h2M11 9h1M54 37h1"/><path stroke="#f28" d="M0 5h6M5 6h4M8 7h4M57 40h2"/><path stroke="#f29" d="M9 6h2M55 38h1"/><path stroke="#f2a" d="M56 38h1M56 39h2"/><path stroke="#f30" d="M0 24h4M50 45h2M48 46h1M46 47h1"/><path stroke="#f31" d="M44 24h1M47 25h2M50 26h2M58 27h2M32 38h5M25 42h1M22 43h1M17 44h3M59 44h1M6 52h2M0 53h6M0 54h4"/><path stroke="#f32" d="M39 22h2M42 23h1M45 24h1M52 26h2M60 27h3M18 31h1M15 32h6M37 38h2M29 39h4M29 40h2M27 41h4M26 42h4M23 43h4M20 44h4M15 45h4M14 46h4M15 47h2M16 48h3M15 49h2M11 51h2M8 52h3M6 53h2M4 54h2"/><path stroke="#f33" d="M13 13h1M16 14h1M18 15h2M21 16h2M24 17h3M27 18h3M31 19h2M34 20h1M37 21h1M63 27h7M39 38h3M28 44h3M26 45h3M24 46h3M22 47h3M19 48h4M17 49h3M16 50h2M13 51h2M11 52h2M8 53h3M6 54h2"/><path stroke="#f34" d="M7 10h1M9 11h2M11 12h3M14 13h2M17 14h1M48 37h2M34 43h2M31 44h3M29 45h2M27 46h2M25 47h3M23 48h2M20 49h2M18 50h2M15 51h3M13 52h2M11 53h2M8 54h1M7 56h2M4 57h1"/><path stroke="#f35" d="M3 8h2M5 9h3M8 10h2M11 11h1M50 37h2M51 42h1M36 43h4M31 46h1M28 47h1M25 48h2M22 49h3M20 50h2M18 51h2M15 52h2M13 53h1M15 54h1M11 55h1"/><path stroke="#f36" d="M0 7h4M5 8h1M55 41h1M49 42h2M40 43h8M38 44h3M42 44h3M35 45h2M40 45h2M32 46h2M37 46h1M29 47h2M34 47h1M27 48h5M25 49h4M22 50h5M20 51h4M17 52h2M20 52h2M16 53h3M13 54h2"/><path stroke="#f37" d="M53 41h2M41 44h1M37 45h1M39 45h1M36 46h1M33 47h1M19 52h1"/><path stroke="#f38" d="M0 4h4M6 5h1M56 40h1"/><path stroke="#f39" d="M4 4h3M7 5h2M53 38h2M55 40h1"/><path stroke="#f3a" d="M54 39h2"/><path stroke="#f40" d="M48 26h2M51 27h1M58 33h1M49 46h1M47 47h1M44 48h1M42 49h1M40 50h1"/><path stroke="#f41" d="M40 23h2M43 24h1M46 25h1M52 45h3"/><path stroke="#f42" d="M17 15h1M20 16h1M23 17h1M26 18h1M29 19h2M32 20h2M35 21h2M38 22h1M56 27h2M33 39h4M31 40h3M31 41h1M27 43h1M24 44h1M19 45h4M18 46h4M17 47h3M0 55h4"/><path stroke="#f43" d="M7 11h1M10 12h1M12 13h1M15 14h1M37 39h2M34 40h1M32 41h4M30 42h5M28 43h5M25 44h3M23 45h3M22 46h2M20 47h2M4 55h2M0 56h4M0 57h4"/><path stroke="#f44" d="M0 9h4M5 10h2M8 11h1M42 38h2M39 39h2M36 41h2M35 42h2M33 43h1M9 54h2M6 55h3M4 56h3"/><path stroke="#f45" d="M0 8h3M4 9h1M44 38h2M37 42h3M14 53h1M11 54h2M9 55h2"/><path stroke="#f46" d="M46 38h2M40 42h4M15 53h1"/><path stroke="#f47" d="M48 38h2M52 41h1M44 42h5M38 45h1M34 46h2M31 47h2"/><path stroke="#f48" d="M50 38h3M51 41h1"/><path stroke="#f49" d="M3 0h1M0 1h4M0 2h5M0 3h6M52 39h2M53 40h2"/><path stroke="#f50" d="M50 27h1M50 46h1M48 47h1M45 48h1M43 49h1M38 51h1M36 52h1"/><path stroke="#f51" d="M0 10h3M5 11h1M7 12h1M9 13h2M12 14h1M15 15h1M17 16h1M20 17h1M30 20h1M33 21h1M36 22h2M39 23h1M41 24h2M44 25h2M47 26h1M52 27h3M59 33h11"/><path stroke="#f52" d="M3 10h1M6 11h1M8 12h2M11 13h1M13 14h2M16 15h1M18 16h2M21 17h2M24 18h2M27 19h2M31 20h1M34 21h1M55 27h1M63 44h2M55 45h2"/><path stroke="#f53" d="M4 10h1M35 40h2"/><path stroke="#f54" d="M37 40h2"/><path stroke="#f55" d="M41 39h2M39 40h3M38 41h3"/><path stroke="#f56" d="M43 39h2M42 40h2M41 41h2"/><path stroke="#f57" d="M45 39h2M44 40h2M43 41h3"/><path stroke="#f58" d="M47 39h3M46 40h3M46 41h5"/><path stroke="#f59" d="M0 0h3M50 39h2M49 40h1M51 40h2"/><path stroke="#f60" d="M4 11h1M46 48h1M44 49h1M41 50h1M39 51h1M37 52h1M34 53h1"/><path stroke="#f61" d="M23 18h1M25 19h2M28 20h2M31 21h2M34 22h2M36 23h3M39 24h2M42 25h2M45 26h2M48 27h2M51 28h2M51 46h2"/><path stroke="#f62" d="M65 44h1"/><path stroke="#f63" d="M66 44h4M57 45h1"/><path stroke="#f69" d="M50 40h1"/><path stroke="#f70" d="M42 50h1M40 51h1M35 53h1M32 54h1M29 55h1M26 56h1M23 57h1M20 58h1M17 59h1M15 60h1M12 61h1M10 62h1M7 63h1M4 64h2"/><path stroke="#f71" d="M53 28h3M49 47h1M47 48h1M45 49h1"/><path stroke="#f72" d="M56 28h4M53 46h2"/><path stroke="#f73" d="M60 28h1M58 45h1"/><path stroke="#f74" d="M61 28h2M59 45h1"/><path stroke="#f75" d="M63 28h1"/><path stroke="#f80" d="M38 52h1M36 53h1M33 54h2M30 55h1M27 56h1M24 57h1M21 58h1M18 59h1M16 60h1M13 61h1M11 62h1M8 63h2M6 64h2M0 65h6"/><path stroke="#f81" d="M54 29h2M58 32h4M50 47h1M48 48h1M46 49h1M43 50h1M41 51h1M39 52h1M31 55h1M28 56h1M25 57h1M22 58h1M19 59h1M17 60h1M14 61h1M12 62h1M10 63h1"/><path stroke="#f82" d="M62 32h8M51 47h1"/><path stroke="#f83" d="M55 46h1"/><path stroke="#f84" d="M60 45h2"/><path stroke="#f85" d="M64 28h1M62 45h1"/><path stroke="#f86" d="M65 28h5"/><path stroke="#f90" d="M0 66h5"/><path stroke="#f91" d="M56 29h2M57 30h1M58 31h1M44 50h1M42 51h1M37 53h1M35 54h1M32 55h1M29 56h1M26 57h1M23 58h1M15 61h1M13 62h1M11 63h1M8 64h2M6 65h2M5 66h1M0 67h3"/><path stroke="#f92" d="M58 29h2M52 47h1M49 48h1M47 49h1M45 50h1M40 52h1M38 53h1M30 56h1M27 57h1M24 58h1M20 59h2M18 60h1M16 61h1M14 62h1"/><path stroke="#f93" d="M60 29h1M53 47h1M50 48h1"/><path stroke="#f94" d="M61 29h1M56 46h1"/><path stroke="#f95" d="M62 29h1M63 45h1M57 46h1"/><path stroke="#f96" d="M64 45h2"/><path stroke="#fa1" d="M58 30h1M59 31h1M3 67h1"/><path stroke="#fa2" d="M59 30h1M60 31h2M43 51h1M36 54h1M33 55h1M12 63h1M10 64h1M8 65h1M6 66h1M4 67h1M0 68h3"/><path stroke="#fa3" d="M60 30h1M62 31h1M51 48h1M48 49h2M46 50h1M44 51h1M41 52h2M39 53h1M37 54h1M34 55h1M31 56h1M28 57h2M25 58h2M22 59h2M19 60h2M17 61h1M15 62h1M13 63h1M11 64h1M9 65h1M7 66h1"/><path stroke="#fa4" d="M63 31h2M54 47h1M52 48h1M47 50h1"/><path stroke="#fa5" d="M63 29h1M65 31h2M55 47h1"/><path stroke="#fa6" d="M64 29h1M67 31h3M58 46h2"/><path stroke="#fa7" d="M65 29h1M66 45h4M60 46h1"/><path stroke="#fa8" d="M66 29h4"/><path stroke="#fb3" d="M61 30h1M32 56h1M5 67h1M3 68h1"/><path stroke="#fb4" d="M62 30h1M50 49h1M48 50h1M45 51h1M43 52h1M40 53h1M38 54h1M35 55h2M33 56h1M30 57h1M27 58h1M24 59h1M21 60h2M18 61h2M16 62h2M14 63h2M12 64h2M10 65h2M8 66h1M6 67h1M4 68h1"/><path stroke="#fb5" d="M63 30h1M53 48h1M51 49h1M49 50h1M46 51h1M44 52h1M41 53h1M28 58h1M25 59h1"/><path stroke="#fb6" d="M64 30h1M56 47h1M54 48h1"/><path stroke="#fb7" d="M65 30h1M61 46h2M57 47h1"/><path stroke="#fb8" d="M66 30h4M63 46h1"/><path stroke="#fc4" d="M9 66h1M7 67h1M5 68h1M0 69h3"/><path stroke="#fc5" d="M47 51h1M42 53h1M39 54h1M37 55h1M34 56h1M31 57h2M29 58h1M26 59h1M23 60h1M20 61h1M18 62h1M16 63h1M14 64h1M12 65h1M10 66h1M8 67h1M6 68h1M3 69h2"/><path stroke="#fc6" d="M52 49h1M50 50h1M48 51h1M45 52h1M43 53h1M40 54h2M38 55h1M35 56h1M30 58h1M27 59h1M24 60h1M21 61h1"/><path stroke="#fc7" d="M55 48h1M53 49h1M51 50h1M46 52h1"/><path stroke="#fc8" d="M58 47h2M56 48h1"/><path stroke="#fc9" d="M64 46h1"/><path stroke="#fca" d="M65 46h1"/><path stroke="#fd6" d="M36 56h1M33 57h1M31 58h1M28 59h1M25 60h1M22 61h1M19 62h1M17 63h1M15 64h1M13 65h1M11 66h1M9 67h1M7 68h1M5 69h1"/><path stroke="#fd7" d="M54 49h1M44 53h1M42 54h1M39 55h2M37 56h2M34 57h2M32 58h1M29 59h1M26 60h1M23 61h2M20 62h2M18 63h1M16 64h1M14 65h1M12 66h1M10 67h1M8 68h1M6 69h1"/><path stroke="#fd8" d="M57 48h1M55 49h1M52 50h1M49 51h1M47 52h1M45 53h1M43 54h1"/><path stroke="#fd9" d="M60 47h2M58 48h1M53 50h1M50 51h1M48 52h1"/><path stroke="#fda" d="M62 47h1M51 51h1"/><path stroke="#fdb" d="M66 46h4"/><path stroke="#fe7" d="M33 58h1M30 59h1M27 60h1"/><path stroke="#fe8" d="M41 55h1M39 56h1M36 57h2M34 58h2M31 59h2M28 60h2M25 61h2M22 62h2M19 63h2M17 64h1M15 65h2M13 66h2M11 67h2M9 68h2M7 69h2"/><path stroke="#fe9" d="M59 48h1M56 49h2M46 53h1M44 54h1M42 55h1M40 56h1M38 57h1M24 62h1M21 63h1M18 64h3M17 65h2M15 66h2M13 67h3M11 68h3M9 69h4"/><path stroke="#fea" d="M63 47h1M60 48h1M54 50h2M49 52h1M47 53h1M45 54h1M43 55h1M41 56h1"/><path stroke="#feb" d="M64 47h1M61 48h1M52 51h3M50 52h1M48 53h1M46 54h1"/><path stroke="#fec" d="M65 47h1"/><path stroke="#ff8" d="M33 59h1"/><path stroke="#ff9" d="M36 58h1M34 59h1M30 60h3M27 61h3M25 62h2M22 63h2M17 66h1M14 68h1"/><path stroke="#ffa" d="M58 49h2M56 50h1M39 57h1M37 58h1M15 68h1"/><path stroke="#ffb" d="M62 48h1M60 49h1M57 50h2"/><path stroke="#ffc" d="M63 48h1M61 49h2"/><path stroke="#ffd" d="M66 47h1M64 48h1M63 49h2"/><path stroke="#ffe" d="M67 47h3M65 48h5M65 49h2M64 50h2M64 51h1M62 52h3M61 53h2M58 54h3"/><path stroke="#fff" d="M50 0h12M52 1h9M54 2h7M58 3h2M67 49h3M66 50h4M65 51h5M65 52h5M63 53h7M61 54h9M58 55h12M62 56h8M64 57h6"/></g></g></g>
<path fill-rule="evenodd" d="M946.0 800.0H1023.3V876.3H946.0zM948.0 802.0H1022.1V874.8H948.0z" fill="#fff"/>
<rect x="948.0" y="802.0" width="74.1" height="72.8" fill="#fff" fill-opacity="0.9"/>
<text x="985.1" y="850.2" font-size="44.3" fill="#1c1c1c" text-anchor="middle" font-family="'Liberation Sans',Arial,Helvetica,sans-serif">3</text>
<g clip-path="url(#cp3)"><g filter="url(#bp3)"><g transform="translate(1032.77 539.95) scale(4.97812 5.01562) translate(0 .5)" fill="none" stroke-width="1.04"><path stroke="#000" d="M42 4h3M47 4h3M52 4h3M43 5h3M47 5h1M51 5h3M4 6h1M6 6h10M43 6h11M4 7h15M44 7h9M4 8h1M14 8h7M45 8h7M17 9h5M46 9h4M19 10h4M21 11h4M22 12h4M23 13h3M25 14h2M26 15h2M26 16h3M27 17h3M28 18h2M29 19h2M29 20h2M30 21h2M30 22h3M31 23h2M31 24h3M32 25h2M32 26h3M4 27h1M33 27h5M63 27h1M65 27h1M4 28h5M34 28h32M6 29h5M33 29h33M7 30h7M32 30h4M10 31h6M31 31h4M13 32h5M30 32h4M15 33h6M28 33h4M18 34h13M21 35h8M41 49h13M39 50h19M37 51h5M53 51h7M36 52h4M56 52h6M4 53h10M35 53h3M59 53h4M4 54h13M34 54h3M60 54h4M4 55h1M6 55h10M33 55h3M61 55h3M33 56h2M62 56h3M32 57h2M63 57h3M32 58h2M63 58h3M32 59h2M64 59h2M32 60h2M64 60h2M31 61h3M64 61h2M31 62h2M64 62h2M31 63h2M64 63h2M31 64h2M65 64h1M31 65h2M65 65h1"/><path stroke="#001" d="M46 4h1M5 6h1M5 27h1M33 28h1M32 29h1M31 30h1M30 31h1M29 32h1M27 33h1M38 50h1M36 51h1M35 52h1M34 53h1M33 54h1M32 56h1M31 59h1M31 60h1M64 65h1"/><path stroke="#002" d="M41 4h1M33 53h1M32 55h1M31 58h1"/><path stroke="#003" d="M31 29h1"/><path stroke="#004" d="M41 3h1M3 6h1M3 26h1M3 27h1M3 52h1M3 53h1M32 54h1"/><path stroke="#005" d="M40 3h1M3 5h1M30 29h1M3 51h1M32 53h1"/><path stroke="#006" d="M3 4h1"/><path stroke="#007" d="M39 3h1M1 4h1M29 29h1M1 51h1"/><path stroke="#008" d="M0 4h1M2 24h1M0 25h2M0 51h1"/><path stroke="#009" d="M39 2h1M2 4h1M2 25h1M2 50h1M2 51h1"/><path stroke="#00a" d="M38 0h1M38 1h1M38 2h1M31 52h1"/><path stroke="#00b" d="M28 28h1"/><path stroke="#00f" d="M27 28h1M30 51h2M30 52h1M58 68h1"/><path stroke="#010" d="M51 4h1M49 5h1M16 6h1M19 7h1M21 8h1M22 9h1M23 10h1M26 13h1M27 14h1M28 15h1M30 18h1M31 20h1M32 21h1M33 23h1M34 25h1M35 26h1M62 27h1M64 27h1M11 29h1M54 49h1M60 51h1M4 52h1M62 52h1M14 53h3M63 53h1M64 54h1M64 55h2M65 56h1M34 57h1M33 62h1M33 63h1M33 65h1"/><path stroke="#011" d="M4 5h9M48 5h1M17 6h1M4 26h1M65 26h1M6 27h2M38 27h24M9 28h1M12 29h1M14 30h1M16 31h1M18 32h1M28 32h1M21 33h2M25 33h2M43 48h10M40 49h1M55 49h2M58 50h2M61 51h1M5 52h5"/><path stroke="#012" d="M45 4h1M46 5h1M29 31h1M42 48h1M39 49h1M37 50h1M34 52h1"/><path stroke="#013" d="M30 30h1M35 51h1"/><path stroke="#014" d="M33 52h1"/><path stroke="#015" d="M44 3h1M34 51h1"/><path stroke="#017" d="M32 52h1"/><path stroke="#018" d="M39 1h1M0 24h1M1 50h1"/><path stroke="#019" d="M28 29h1M0 50h1"/><path stroke="#01f" d="M26 28h1M58 67h1"/><path stroke="#020" d="M25 11h1M26 12h1M29 16h1M31 19h1M33 22h1M34 24h1M65 54h1"/><path stroke="#021" d="M50 4h1M13 5h1M50 5h1M18 6h2M20 7h1M23 9h1M24 10h1M35 25h1M36 26h1M10 28h2M13 29h1M15 30h1M17 31h1M19 32h1M60 50h1M62 51h1M10 52h1M63 52h1M64 53h1"/><path stroke="#022" d="M14 5h2M37 26h2M60 26h5M8 27h1M23 33h2M53 48h2M57 49h1M11 52h3"/><path stroke="#023" d="M59 26h1M27 32h1M41 48h1M38 49h1M36 50h1"/><path stroke="#024" d="M42 3h1M29 30h1M28 31h1"/><path stroke="#025" d="M35 50h1"/><path stroke="#026" d="M3 25h1"/><path stroke="#027" d="M46 3h1M33 51h1"/><path stroke="#028" d="M1 24h1"/><path stroke="#029" d="M39 0h1M2 49h1"/><path stroke="#030" d="M27 13h1M30 17h1M32 20h1M34 23h1M17 53h1M65 53h1"/><path stroke="#031" d="M52 3h1M20 6h1M21 7h1M22 8h1M64 52h1"/><path stroke="#032" d="M16 5h2M6 26h1M39 26h1M9 27h1M12 28h1M14 29h1M20 32h1M55 48h1M58 49h2M61 50h1M63 51h1M14 52h2"/><path stroke="#033" d="M47 3h1M65 25h1M5 26h1M40 26h2M56 26h3M46 47h4M4 51h4"/><path stroke="#034" d="M43 3h1M4 4h2M54 26h2M26 32h1M44 47h2M40 48h1"/><path stroke="#035" d="M39 48h1M37 49h1"/><path stroke="#036" d="M28 30h1M27 31h1"/><path stroke="#037" d="M40 1h1M36 49h1M3 50h1M34 50h1"/><path stroke="#039" d="M51 1h1M0 49h2M32 51h1"/><path stroke="#03a" d="M2 3h1"/><path stroke="#03c" d="M27 29h1"/><path stroke="#03f" d="M32 50h1"/><path stroke="#040" d="M28 14h1M29 15h1M31 18h1M33 21h1M66 26h1M66 27h1"/><path stroke="#041" d="M54 3h1M23 8h1M24 9h1M35 24h1M65 52h1"/><path stroke="#042" d="M36 25h1M16 30h1M18 31h1M62 50h1M16 52h1"/><path stroke="#043" d="M49 3h1M53 3h1M18 5h2M7 26h1M42 26h2M10 27h1M21 32h1M50 47h2M56 48h1M60 49h1M8 51h2"/><path stroke="#044" d="M48 3h1M6 4h8M62 25h3M44 26h10M52 47h1M10 51h2"/><path stroke="#045" d="M60 25h2M25 32h1M42 47h2"/><path stroke="#046" d="M38 48h1"/><path stroke="#047" d="M41 1h1M46 1h1M3 24h1M26 31h1"/><path stroke="#048" d="M40 0h1M46 0h1M35 49h1"/><path stroke="#049" d="M51 0h1M27 30h1"/><path stroke="#04a" d="M0 3h2M33 50h1"/><path stroke="#04f" d="M31 50h1"/><path stroke="#050" d="M55 3h1M30 16h1M32 19h1M34 22h1M66 25h1"/><path stroke="#051" d="M22 7h1M25 10h1M26 11h1M27 12h1M17 52h1"/><path stroke="#052" d="M21 6h1M15 29h1M64 51h1"/><path stroke="#053" d="M37 25h1M11 27h1M13 28h1M57 48h1M61 49h1M63 50h1"/><path stroke="#054" d="M14 4h2M38 25h1M8 26h1M22 32h1M53 47h1M58 48h1M12 51h1"/><path stroke="#055" d="M16 4h1M4 25h1M59 25h1M23 32h2M13 51h1"/><path stroke="#056" d="M42 1h1M57 25h2M41 47h1M4 50h1"/><path stroke="#057" d="M41 0h1M44 1h1M40 47h1"/><path stroke="#058" d="M51 3h1M37 48h1"/><path stroke="#059" d="M40 2h1M46 2h1M3 49h1"/><path stroke="#05c" d="M34 49h1"/><path stroke="#05f" d="M33 49h1"/><path stroke="#060" d="M45 3h1M31 17h1M33 20h1"/><path stroke="#061" d="M28 13h1M35 23h1"/><path stroke="#062" d="M36 24h1M65 51h1"/><path stroke="#063" d="M20 5h1M66 24h1M14 28h1M17 30h1M64 50h1"/><path stroke="#064" d="M50 3h1M9 26h1M12 27h1M19 31h1M62 49h1"/><path stroke="#065" d="M17 4h2M5 25h2M39 25h2M54 47h2M59 48h1M14 51h2"/><path stroke="#066" d="M43 1h1M48 1h2M53 1h1M65 24h1M56 25h1M5 50h3"/><path stroke="#067" d="M42 0h1M47 1h1M63 24h2M55 25h1M44 46h4"/><path stroke="#068" d="M44 0h1M25 31h1M39 47h1"/><path stroke="#069" d="M41 2h1M3 3h1"/><path stroke="#06a" d="M36 48h1"/><path stroke="#06b" d="M51 2h1M26 30h1M38 47h1"/><path stroke="#06f" d="M26 29h1M32 49h1"/><path stroke="#070" d="M56 3h1M68 25h1M18 52h1"/><path stroke="#071" d="M24 8h1M25 9h1M26 10h1M27 11h1M29 14h1M30 15h1M32 18h1M34 21h1"/><path stroke="#072" d="M22 6h1M23 7h1"/><path stroke="#073" d="M45 1h1M21 5h1M16 29h1"/><path stroke="#074" d="M54 1h2M18 30h1"/><path stroke="#075" d="M54 0h1M19 4h1M10 26h1M20 31h1M60 48h1M16 51h1"/><path stroke="#076" d="M7 25h1M41 25h2M49 46h2M56 47h1M8 50h3"/><path stroke="#077" d="M43 0h1M47 0h3M53 0h1M62 24h1M43 25h5M49 25h6M48 46h1M51 46h2"/><path stroke="#078" d="M59 24h3M43 46h1"/><path stroke="#079" d="M42 2h1M42 46h1"/><path stroke="#07a" d="M44 2h1M41 46h1"/><path stroke="#07b" d="M0 2h1"/><path stroke="#07c" d="M2 2h1"/><path stroke="#07f" d="M34 48h2"/><path stroke="#080" d="M69 24h1M69 25h1M66 52h1M66 53h1"/><path stroke="#081" d="M33 19h1M34 20h1M35 22h1M68 24h1"/><path stroke="#082" d="M56 1h1M28 12h1M31 16h1M36 23h1"/><path stroke="#084" d="M55 0h1M50 1h1M52 1h1M20 4h1M37 24h1M13 27h1M15 28h1M17 29h1M65 50h1M17 51h1"/><path stroke="#085" d="M66 23h1M11 26h1M63 49h1"/><path stroke="#086" d="M38 24h1M8 25h1M21 31h1M57 47h1M61 48h1"/><path stroke="#087" d="M53 46h1M58 47h1M11 50h3"/><path stroke="#088" d="M49 2h1M48 25h1"/><path stroke="#089" d="M47 2h1M53 2h1M64 23h1M57 24h2M24 31h1M4 49h1"/><path stroke="#08b" d="M1 2h1"/><path stroke="#08d" d="M40 46h1"/><path stroke="#08f" d="M36 47h2"/><path stroke="#090" d="M57 0h1M57 1h1M67 24h1M67 25h1M66 51h1M68 53h1M69 54h1"/><path stroke="#092" d="M22 5h1M23 6h1M24 7h1M25 8h1M29 13h1M35 21h1M67 23h1"/><path stroke="#093" d="M56 0h1M56 2h1M21 4h1M69 23h1M18 51h1"/><path stroke="#094" d="M45 0h1M50 0h1M68 23h1"/><path stroke="#095" d="M52 0h1M14 27h1M64 49h1"/><path stroke="#096" d="M55 2h1M9 25h1M12 26h1M62 48h1"/><path stroke="#097" d="M54 2h1M39 24h1M54 46h1M59 47h1M14 50h1"/><path stroke="#098" d="M43 2h1M48 2h1M5 24h1M40 24h1"/><path stroke="#099" d="M4 3h9M5 49h3"/><path stroke="#09a" d="M62 23h2M56 24h1"/><path stroke="#09b" d="M3 2h1M61 23h1M55 24h1"/><path stroke="#09d" d="M0 1h1M2 1h1"/><path stroke="#09f" d="M25 29h1M25 30h1M39 46h1M35 47h1"/><path stroke="#0a0" d="M57 2h1M68 52h1M69 53h1"/><path stroke="#0a2" d="M26 9h1M32 17h1M66 50h1M69 52h1"/><path stroke="#0a3" d="M36 22h1"/><path stroke="#0a5" d="M69 22h1M37 23h1M16 28h1M65 49h1"/><path stroke="#0a6" d="M45 2h1M50 2h1M19 30h1"/><path stroke="#0a7" d="M52 2h1M10 25h1M60 47h1M63 48h1"/><path stroke="#0a8" d="M6 24h1M22 31h1M55 46h1M15 50h1"/><path stroke="#0a9" d="M13 3h5M4 24h1M41 24h1M8 49h2"/><path stroke="#0aa" d="M65 23h1M23 31h1"/><path stroke="#0ac" d="M60 23h1M54 24h1"/><path stroke="#0ad" d="M1 1h1"/><path stroke="#0ae" d="M0 23h1"/><path stroke="#0af" d="M37 46h2"/><path stroke="#0b0" d="M67 51h1M19 52h1"/><path stroke="#0b1" d="M67 50h1M68 51h1"/><path stroke="#0b2" d="M27 10h1"/><path stroke="#0b3" d="M22 4h1M23 5h1M68 50h1"/><path stroke="#0b4" d="M66 49h1M69 51h1"/><path stroke="#0b6" d="M21 3h1"/><path stroke="#0b7" d="M64 48h1"/><path stroke="#0b8" d="M20 3h1M68 22h1M56 46h1M16 50h1"/><path stroke="#0b9" d="M18 3h2M7 24h1M42 24h1M10 49h1"/><path stroke="#0bb" d="M4 2h12"/><path stroke="#0bc" d="M53 24h1M46 45h2"/><path stroke="#0bd" d="M3 1h1M65 22h1M59 23h1M45 45h1M0 48h1"/><path stroke="#0be" d="M64 22h1M58 23h1M44 45h1M1 48h2"/><path stroke="#0c1" d="M30 14h1"/><path stroke="#0c2" d="M24 6h1M33 18h1"/><path stroke="#0c3" d="M67 49h1"/><path stroke="#0c6" d="M13 26h1M69 50h1"/><path stroke="#0c8" d="M67 22h1M11 25h1M61 47h1"/><path stroke="#0c9" d="M20 2h1M57 46h1"/><path stroke="#0ca" d="M43 24h1M11 49h1"/><path stroke="#0cb" d="M16 2h4M49 45h2"/><path stroke="#0cc" d="M7 1h4M48 45h1"/><path stroke="#0cd" d="M4 1h3M51 24h2"/><path stroke="#0cf" d="M63 22h1M1 23h2M57 23h1M24 30h1M40 45h4"/><path stroke="#0d1" d="M28 11h1"/><path stroke="#0d2" d="M34 19h1"/><path stroke="#0d6" d="M15 27h1"/><path stroke="#0d8" d="M38 23h1M65 48h1"/><path stroke="#0d9" d="M8 24h1M62 47h1"/><path stroke="#0da" d="M58 46h1M12 49h1"/><path stroke="#0db" d="M44 24h1M51 45h2"/><path stroke="#0dc" d="M11 1h4M45 24h1"/><path stroke="#0dd" d="M66 22h1"/><path stroke="#0de" d="M50 24h1M3 48h1"/><path stroke="#0df" d="M64 21h3M59 22h4M56 23h1"/><path stroke="#0e1" d="M31 15h1"/><path stroke="#0e2" d="M25 7h1M35 20h1"/><path stroke="#0e5" d="M22 3h1M68 49h1"/><path stroke="#0e6" d="M18 29h1"/><path stroke="#0e8" d="M17 50h1"/><path stroke="#0e9" d="M21 2h1M20 30h1"/><path stroke="#0ea" d="M39 23h1"/><path stroke="#0eb" d="M13 49h1"/><path stroke="#0ec" d="M15 1h1M53 45h1"/><path stroke="#0ed" d="M16 1h1M46 24h2M5 48h2"/><path stroke="#0ee" d="M48 24h2M4 48h1"/><path stroke="#0ef" d="M54 23h2"/><path stroke="#0f0" d="M22 1h1M23 3h1M25 6h1M27 9h1M28 10h1M29 12h1M30 13h1M31 14h1M32 16h1M33 17h1M19 51h2M39 68h1"/><path stroke="#0f1" d="M24 4h1M24 5h1M26 7h1M26 8h1M29 11h1M34 18h1"/><path stroke="#0f2" d="M22 2h1M23 4h1M32 15h1M35 19h1M36 21h1M39 67h1"/><path stroke="#0f3" d="M27 8h1M30 12h1M36 20h1"/><path stroke="#0f4" d="M33 16h1"/><path stroke="#0f5" d="M37 21h1M37 22h1M17 28h1"/><path stroke="#0f6" d="M16 27h1M18 28h1M19 50h1"/><path stroke="#0f7" d="M14 26h2M17 27h1M66 48h1M18 50h1"/><path stroke="#0f8" d="M12 25h1M19 29h1"/><path stroke="#0f9" d="M21 1h1M38 22h1M13 25h1M67 48h1"/><path stroke="#0fa" d="M9 24h1M63 47h1M65 47h1"/><path stroke="#0fb" d="M10 24h2M20 29h1M59 46h1M64 47h1M17 49h1"/><path stroke="#0fc" d="M20 1h1M40 23h1M21 30h1M54 45h1M60 46h3M14 49h3M69 49h1"/><path stroke="#0fd" d="M17 1h3M5 23h4M41 23h1M55 45h4M66 47h1M7 48h2M12 48h1"/><path stroke="#0fe" d="M4 23h1M42 23h1M2 47h1M9 48h3M68 48h1"/><path stroke="#0ff" d="M67 21h3M3 23h1M43 23h3M51 23h3M22 30h2M45 44h8M0 47h2M3 47h2"/><path stroke="#100" d="M5 8h9M15 9h2M50 9h1M18 10h1M47 10h3M20 11h1M24 14h1M25 15h1M28 19h1M4 29h2M4 30h1M6 30h1M36 30h28M65 30h1M8 31h2M11 32h2M13 33h2M32 33h1M16 34h2M18 35h3M29 35h1M22 36h5M42 51h11M40 52h2M54 52h2M38 53h1M57 53h2M5 55h1M4 56h1"/><path stroke="#101" d="M43 7h1M44 8h1M45 9h1M21 12h1M22 13h1M25 16h1M26 17h1M27 18h1M28 20h1M29 21h1M29 22h1M30 23h1M31 25h1M31 26h1M32 27h1M5 30h1M59 54h1M62 57h1M63 59h1M63 60h1M30 64h1M64 64h1"/><path stroke="#102" d="M42 5h1M30 24h1M32 28h1M30 62h1M30 63h1M30 65h1"/><path stroke="#103" d="M31 57h1M30 61h1"/><path stroke="#104" d="M31 56h1M30 60h1"/><path stroke="#105" d="M31 55h1M30 58h1M30 59h1"/><path stroke="#106" d="M1 6h1M1 26h1"/><path stroke="#107" d="M31 54h1"/><path stroke="#108" d="M31 53h1"/><path stroke="#10f" d="M30 53h1"/><path stroke="#110" d="M53 7h1M52 8h1M51 9h1M31 34h1M39 53h1M37 54h1M16 55h1M36 55h1M35 56h1M34 58h1M34 59h1M33 64h1"/><path stroke="#120" d="M54 5h1M17 54h1M35 57h1M34 60h1M34 61h1"/><path stroke="#130" d="M55 4h1M66 63h1"/><path stroke="#13f" d="M25 67h1"/><path stroke="#160" d="M18 53h1"/><path stroke="#170" d="M66 54h1"/><path stroke="#190" d="M69 55h1M69 56h1"/><path stroke="#1a0" d="M57 3h1M67 52h1"/><path stroke="#1cf" d="M69 20h1"/><path stroke="#1df" d="M63 21h1M58 22h1"/><path stroke="#1ef" d="M44 44h1"/><path stroke="#1f1" d="M40 69h1"/><path stroke="#1f9" d="M14 25h1"/><path stroke="#1fa" d="M12 24h1"/><path stroke="#1fb" d="M2 22h1M39 22h1"/><path stroke="#1fc" d="M3 22h1M9 23h1M63 46h1"/><path stroke="#1fd" d="M13 0h2M1 22h1M59 45h1M13 48h1"/><path stroke="#1fe" d="M0 0h3M12 0h1M0 22h1M53 44h1M7 47h1"/><path stroke="#1ff" d="M3 0h9M46 23h5M5 47h2"/><path stroke="#200" d="M13 9h2M21 36h1M27 36h1M42 52h2M51 52h3M6 56h9"/><path stroke="#201" d="M17 10h1M46 10h1M19 11h1M23 14h1M24 15h1M6 31h2M9 32h2M12 33h1M15 34h1M17 35h1M20 36h1M55 53h2M58 54h1M60 55h1M5 56h1M61 56h1"/><path stroke="#202" d="M42 6h1M26 18h1M27 19h1M62 58h1M63 61h1"/><path stroke="#203" d="M30 25h1M31 27h1M31 28h1M63 62h1M63 63h1M63 64h1"/><path stroke="#204" d="M3 28h1M29 65h1"/><path stroke="#205" d="M29 63h1M29 64h1"/><path stroke="#206" d="M1 27h1M30 28h1M1 53h1M30 57h1M29 61h1M29 62h1"/><path stroke="#207" d="M0 5h2M0 6h1M0 26h1M0 27h1M0 52h2M0 53h1M30 56h1M29 60h1"/><path stroke="#208" d="M29 28h1"/><path stroke="#209" d="M2 26h1"/><path stroke="#20a" d="M30 55h1"/><path stroke="#20c" d="M30 54h1"/><path stroke="#20f" d="M29 55h1M29 56h1"/><path stroke="#210" d="M50 10h1M64 30h1M35 31h1M34 32h1M33 33h1M30 35h1M28 36h1M40 53h1M38 54h1M15 56h2"/><path stroke="#21f" d="M25 68h1M57 69h1"/><path stroke="#220" d="M54 6h1M37 55h1M36 56h1M35 58h1M34 62h1M66 64h1M66 65h1"/><path stroke="#230" d="M17 55h1M66 62h1M34 63h1M34 64h1M34 65h1"/><path stroke="#240" d="M66 28h1M66 61h1"/><path stroke="#25f" d="M57 68h1"/><path stroke="#260" d="M66 56h1M66 57h1M66 58h1M66 59h1"/><path stroke="#270" d="M68 26h2M68 27h2M66 55h1"/><path stroke="#28f" d="M33 48h1"/><path stroke="#290" d="M68 54h1M68 55h1M69 57h1"/><path stroke="#2af" d="M68 20h1"/><path stroke="#2bf" d="M39 45h1"/><path stroke="#2df" d="M62 21h1M57 22h1M43 44h1"/><path stroke="#2f0" d="M23 2h1"/><path stroke="#2f3" d="M25 5h1M39 66h1"/><path stroke="#2f4" d="M21 0h1M28 9h1"/><path stroke="#2f5" d="M34 17h1"/><path stroke="#2f8" d="M16 26h1"/><path stroke="#2fc" d="M15 0h2M40 22h1M64 46h1"/><path stroke="#2fd" d="M60 45h1M14 48h1"/><path stroke="#2fe" d="M4 22h1M54 44h1M8 47h1"/><path stroke="#2ff" d="M69 48h1"/><path stroke="#300" d="M4 9h1M6 9h1M8 9h5M38 31h5M24 37h2M44 52h7M4 57h1M65 66h1"/><path stroke="#301" d="M16 10h1M18 11h1M20 12h1M4 31h2M8 32h1M11 33h1M14 34h1M16 35h1M19 36h1M23 37h1M54 53h1M57 54h1"/><path stroke="#302" d="M43 8h1M44 9h1M21 13h1M22 14h1M28 21h1M59 55h1M60 56h1"/><path stroke="#303" d="M42 7h1M24 16h1M25 17h1M29 23h1M61 57h1M62 59h1"/><path stroke="#304" d="M41 5h1M30 26h1M3 54h1M62 60h1M62 61h1M63 65h1"/><path stroke="#305" d="M40 4h1M62 62h1"/><path stroke="#307" d="M1 28h1M28 65h1"/><path stroke="#309" d="M2 5h1M2 6h1M2 52h1M2 53h1M29 59h1M28 63h1"/><path stroke="#30a" d="M29 58h1"/><path stroke="#30b" d="M28 62h1"/><path stroke="#30c" d="M29 57h1M28 61h1"/><path stroke="#30d" d="M37 0h1"/><path stroke="#30f" d="M29 54h1M28 58h1M28 59h1M28 60h1M27 63h1M26 66h1"/><path stroke="#310" d="M36 31h2M32 34h1M29 36h1M26 37h1M41 53h1M32 66h1"/><path stroke="#31f" d="M25 69h1"/><path stroke="#320" d="M53 8h1M52 9h1M35 32h1M34 33h1M39 54h1"/><path stroke="#32f" d="M58 66h1"/><path stroke="#330" d="M35 59h1"/><path stroke="#340" d="M35 60h1"/><path stroke="#350" d="M55 5h1M18 54h1M35 61h1M35 62h1M35 65h1"/><path stroke="#360" d="M68 28h1M66 60h1M35 63h1M35 64h1"/><path stroke="#370" d="M68 63h1"/><path stroke="#380" d="M68 56h1M68 57h1M68 58h1M68 61h1M68 62h1"/><path stroke="#38f" d="M67 20h1"/><path stroke="#390" d="M67 26h1M67 27h1M69 58h1M69 59h1M69 60h1M69 61h1M69 62h1M69 63h1"/><path stroke="#3a0" d="M67 53h1M67 54h1M67 55h1"/><path stroke="#3bf" d="M24 29h1"/><path stroke="#3df" d="M61 21h1M56 22h1M42 44h1"/><path stroke="#3f0" d="M38 66h1M38 67h1"/><path stroke="#3f5" d="M31 13h1"/><path stroke="#3f6" d="M40 68h1"/><path stroke="#3f7" d="M35 18h1"/><path stroke="#3fa" d="M18 49h1"/><path stroke="#3fc" d="M17 0h1M10 23h1M15 48h1"/><path stroke="#3fd" d="M6 22h1M55 44h1M61 45h1M9 47h2"/><path stroke="#3fe" d="M5 22h1"/><path stroke="#3ff" d="M67 47h1"/><path stroke="#400" d="M7 9h1M48 11h1M43 31h21M65 31h1M6 57h8"/><path stroke="#401" d="M5 9h1M14 10h2M47 11h1M7 32h1M10 33h1M13 34h1M18 36h1M22 37h1M52 53h2M56 54h1M5 57h1M31 66h1"/><path stroke="#402" d="M45 10h1M17 11h1M19 12h1M58 55h1M30 66h1"/><path stroke="#403" d="M23 15h1M27 20h1"/><path stroke="#404" d="M41 6h1M3 7h1M28 22h1M29 24h1M3 55h1M61 58h1"/><path stroke="#405" d="M3 8h1M30 27h1M3 29h1M62 63h1"/><path stroke="#406" d="M1 8h1M1 54h1M62 64h1M62 65h1"/><path stroke="#407" d="M0 54h1"/><path stroke="#408" d="M28 64h1"/><path stroke="#409" d="M2 27h1M2 28h1"/><path stroke="#40d" d="M27 65h1"/><path stroke="#40f" d="M28 57h1M27 61h1M27 62h1M27 64h1M26 65h1"/><path stroke="#410" d="M49 11h1M64 31h1M27 37h1M42 53h1M14 57h2"/><path stroke="#420" d="M51 10h1M33 34h1M31 35h1"/><path stroke="#430" d="M38 55h1M37 56h1"/><path stroke="#440" d="M54 7h1M66 29h1M36 57h1"/><path stroke="#44f" d="M25 66h1"/><path stroke="#450" d="M55 6h1"/><path stroke="#45f" d="M57 66h1M56 69h1"/><path stroke="#460" d="M18 55h1"/><path stroke="#46f" d="M30 50h1"/><path stroke="#470" d="M56 4h1M69 28h1M68 64h1M68 65h1"/><path stroke="#480" d="M68 59h1M68 60h1M36 65h1M69 65h1"/><path stroke="#490" d="M67 28h1M67 59h1M67 60h1M69 64h1"/><path stroke="#49f" d="M56 67h1"/><path stroke="#4a0" d="M67 56h1M67 57h1M67 58h1"/><path stroke="#4af" d="M66 20h1M36 46h1"/><path stroke="#4b0" d="M19 53h1"/><path stroke="#4bf" d="M69 47h1"/><path stroke="#4cf" d="M65 20h1"/><path stroke="#4df" d="M60 21h1M55 22h1"/><path stroke="#4f0" d="M58 0h1"/><path stroke="#4f3" d="M24 3h1"/><path stroke="#4f4" d="M25 4h1"/><path stroke="#4f5" d="M26 6h1M41 69h1"/><path stroke="#4f6" d="M29 10h1M20 50h1"/><path stroke="#4f7" d="M36 19h1"/><path stroke="#4f9" d="M38 21h1M19 28h1"/><path stroke="#4fa" d="M13 24h1M41 67h1"/><path stroke="#4fc" d="M21 29h1M65 46h1"/><path stroke="#4fd" d="M18 0h3M41 22h1M56 44h1M11 47h1"/><path stroke="#4ff" d="M68 47h1M16 67h2"/><path stroke="#501" d="M13 10h1M46 11h1M6 32h1M9 33h1M21 37h1M50 53h2M55 54h1"/><path stroke="#502" d="M12 34h1M15 35h1M17 36h1M64 66h1"/><path stroke="#503" d="M43 9h1M44 10h1M20 13h1M59 56h1"/><path stroke="#504" d="M42 8h1M21 14h1M25 18h1M26 19h1M60 57h1"/><path stroke="#505" d="M61 59h1"/><path stroke="#506" d="M29 25h1"/><path stroke="#507" d="M40 5h1M0 7h2M0 8h1M29 26h1M0 28h1M0 29h2M0 55h2M61 60h1M61 61h1"/><path stroke="#508" d="M2 8h1M29 27h1M61 63h1"/><path stroke="#509" d="M2 54h1M2 55h1M61 65h1"/><path stroke="#50b" d="M38 3h1"/><path stroke="#50f" d="M59 66h1M26 67h1M59 67h1M58 69h1"/><path stroke="#510" d="M50 11h1M43 53h2"/><path stroke="#51f" d="M29 53h1"/><path stroke="#520" d="M36 32h1M30 36h1M28 37h1M40 54h1M33 66h1"/><path stroke="#52f" d="M26 64h1"/><path stroke="#530" d="M35 33h1M32 35h1M16 57h1M34 66h1"/><path stroke="#540" d="M53 9h1"/><path stroke="#550" d="M54 8h1M66 30h1M17 56h1M36 58h1"/><path stroke="#55f" d="M67 18h1"/><path stroke="#560" d="M36 59h1"/><path stroke="#570" d="M68 29h2M68 30h1"/><path stroke="#57f" d="M67 19h1M55 69h1"/><path stroke="#580" d="M56 5h1M36 62h1M36 63h1"/><path stroke="#58f" d="M31 49h1M57 67h1M56 68h1M24 69h1"/><path stroke="#590" d="M67 29h1M36 64h1"/><path stroke="#59f" d="M68 19h2M55 68h1"/><path stroke="#5a0" d="M67 61h1M67 62h1M67 63h1M67 64h1M67 65h1"/><path stroke="#5af" d="M34 47h1"/><path stroke="#5b0" d="M19 54h1"/><path stroke="#5bf" d="M38 45h1M67 46h1M55 67h1"/><path stroke="#5cf" d="M64 20h1M41 44h1M53 67h2"/><path stroke="#5d0" d="M37 65h1"/><path stroke="#5df" d="M59 21h1M54 22h1"/><path stroke="#5e0" d="M38 68h1"/><path stroke="#5ef" d="M23 29h1"/><path stroke="#5f0" d="M58 1h1M20 52h1M38 65h1M39 69h1"/><path stroke="#5f5" d="M2 20h1M21 50h1"/><path stroke="#5f6" d="M27 7h1"/><path stroke="#5f7" d="M32 14h1M2 46h1M2 67h1M42 69h1"/><path stroke="#5f8" d="M37 20h1M0 46h1M0 67h1M2 69h1"/><path stroke="#5f9" d="M15 25h1M1 46h1M1 67h1M40 67h1M41 68h2M0 69h1"/><path stroke="#5fc" d="M11 23h1M16 48h1M42 67h3"/><path stroke="#5fd" d="M7 22h1M42 22h1M57 44h1M62 45h2"/><path stroke="#5fe" d="M18 67h1"/><path stroke="#5ff" d="M22 29h1M66 46h1M15 67h1M19 67h1"/><path stroke="#600" d="M10 10h1M24 38h2M46 53h4M65 68h1"/><path stroke="#601" d="M4 10h1M11 10h2M20 37h1M54 54h1M31 68h1"/><path stroke="#602" d="M16 11h1M4 32h2M8 33h1M11 34h1M14 35h1M19 37h1M57 55h1M30 68h1"/><path stroke="#603" d="M18 12h1"/><path stroke="#604" d="M22 15h1M23 16h1M63 66h1"/><path stroke="#605" d="M3 9h1M24 17h1M27 21h1M3 31h1M3 56h1M3 57h1M29 66h1"/><path stroke="#606" d="M41 7h1M28 23h1M3 30h1"/><path stroke="#607" d="M1 30h1M0 56h2"/><path stroke="#608" d="M0 30h1M2 30h1M2 56h1M61 62h1"/><path stroke="#609" d="M2 7h1M2 29h1M61 64h1"/><path stroke="#60b" d="M27 66h1"/><path stroke="#60c" d="M60 65h1"/><path stroke="#60e" d="M37 1h1M59 68h1"/><path stroke="#60f" d="M27 27h1M59 65h1"/><path stroke="#610" d="M38 32h1M45 53h1M32 68h1"/><path stroke="#620" d="M37 32h1M41 54h1"/><path stroke="#62f" d="M28 56h1M27 60h1"/><path stroke="#630" d="M52 10h1M34 34h1M39 55h1M66 66h1"/><path stroke="#640" d="M66 31h1"/><path stroke="#650" d="M38 56h1M37 57h1"/><path stroke="#65f" d="M67 17h1"/><path stroke="#660" d="M55 7h1"/><path stroke="#66f" d="M69 17h1M67 44h1"/><path stroke="#670" d="M69 30h1M36 60h1"/><path stroke="#680" d="M67 30h1M36 61h1"/><path stroke="#68f" d="M68 18h2M67 45h1"/><path stroke="#69f" d="M69 46h1M56 66h1M24 68h1M54 69h1"/><path stroke="#6af" d="M66 19h1M32 48h1M24 67h1M54 68h1"/><path stroke="#6bf" d="M68 46h1M23 67h1"/><path stroke="#6c0" d="M37 66h1"/><path stroke="#6cf" d="M52 67h1"/><path stroke="#6df" d="M62 20h2M58 21h1M53 22h1M22 67h1M51 67h1"/><path stroke="#6e0" d="M37 64h1"/><path stroke="#6ef" d="M47 43h1M20 67h2M49 67h2M15 69h1"/><path stroke="#6f0" d="M58 2h1"/><path stroke="#6f5" d="M2 44h1"/><path stroke="#6f6" d="M26 5h1M2 21h1"/><path stroke="#6f7" d="M30 11h1M0 20h1M2 45h1M2 68h1"/><path stroke="#6f8" d="M1 20h1M0 45h1M40 66h1"/><path stroke="#6f9" d="M17 26h1M18 27h1M43 69h1"/><path stroke="#6fa" d="M19 49h1M41 66h1M43 68h1M1 69h1"/><path stroke="#6fb" d="M39 21h1M14 24h1M3 46h1M3 69h1"/><path stroke="#6fc" d="M12 23h1M45 67h1"/><path stroke="#6fd" d="M8 22h1M43 22h2M58 44h2M64 45h1M12 47h1M46 67h1M17 69h1"/><path stroke="#6fe" d="M51 43h1M4 46h4M4 67h2M47 67h1"/><path stroke="#6ff" d="M48 43h3M6 67h6M13 67h2M48 67h1M5 69h1M7 69h2M16 69h1"/><path stroke="#700" d="M6 10h4M48 12h1M39 32h25M6 58h8M65 69h1"/><path stroke="#701" d="M5 10h1M47 12h1M22 38h2M52 54h2M4 58h2M30 69h2"/><path stroke="#702" d="M14 11h2M7 33h1M10 34h1M13 35h1M16 36h1M18 37h1M64 68h1M64 69h1"/><path stroke="#703" d="M45 11h1M17 12h1M56 55h1M29 68h1"/><path stroke="#704" d="M3 10h1M19 13h1M58 56h1M3 58h1M63 68h1"/><path stroke="#705" d="M59 57h1M62 68h1"/><path stroke="#706" d="M42 9h1M26 20h1M60 58h1M28 68h1"/><path stroke="#707" d="M40 6h1M25 19h1"/><path stroke="#708" d="M39 4h1M28 24h1"/><path stroke="#709" d="M39 5h1"/><path stroke="#70c" d="M28 27h1M60 63h1M60 64h1M60 66h1"/><path stroke="#70f" d="M26 68h1"/><path stroke="#710" d="M64 32h2M26 38h1M14 58h1M32 69h1"/><path stroke="#720" d="M27 38h1M42 54h1M15 58h1M33 68h1M33 69h1"/><path stroke="#730" d="M51 11h1M31 36h1M29 37h1M40 55h1M34 68h1M66 68h1M34 69h1M66 69h1"/><path stroke="#73f" d="M26 63h1"/><path stroke="#740" d="M36 33h1M33 35h1M35 68h1"/><path stroke="#74f" d="M29 52h1M28 55h1M27 59h1"/><path stroke="#750" d="M17 57h1"/><path stroke="#75f" d="M26 27h1M67 43h1"/><path stroke="#760" d="M54 9h1"/><path stroke="#76f" d="M25 27h1M29 51h1"/><path stroke="#770" d="M35 66h1"/><path stroke="#77f" d="M68 17h1M69 44h1M29 50h1"/><path stroke="#780" d="M56 6h1"/><path stroke="#790" d="M36 66h1"/><path stroke="#79f" d="M25 28h1M69 45h1M30 49h1M24 66h1"/><path stroke="#7af" d="M68 45h1"/><path stroke="#7b0" d="M57 4h1"/><path stroke="#7bf" d="M35 46h1M33 47h1M55 66h1M23 68h1M53 68h1M23 69h1M53 69h1"/><path stroke="#7cf" d="M40 44h1M37 45h1M54 66h1M52 68h1M22 69h1M52 69h1"/><path stroke="#7df" d="M65 19h1M61 20h1M57 21h1"/><path stroke="#7e0" d="M37 63h1"/><path stroke="#7ef" d="M50 22h3M45 43h2M12 69h3"/><path stroke="#7f0" d="M20 53h1"/><path stroke="#7f1" d="M38 64h1"/><path stroke="#7f3" d="M22 0h1"/><path stroke="#7f5" d="M39 65h1"/><path stroke="#7f6" d="M0 44h1M40 65h1M2 66h1"/><path stroke="#7f7" d="M27 6h1M28 8h1M1 44h1"/><path stroke="#7f8" d="M33 15h1M34 16h1M0 21h2M0 68h2"/><path stroke="#7f9" d="M35 17h1M36 18h1M37 19h1M1 45h1"/><path stroke="#7fa" d="M38 20h1M3 21h1M16 25h1"/><path stroke="#7fb" d="M20 49h1M3 67h1M44 68h1M44 69h1"/><path stroke="#7fc" d="M13 23h1M17 48h1M42 66h3M45 69h1"/><path stroke="#7fd" d="M40 21h1M9 22h2M13 47h2M18 69h1"/><path stroke="#7fe" d="M45 22h2M52 43h3M60 44h3M8 46h3M19 69h1"/><path stroke="#7ff" d="M47 22h3M65 45h1M12 67h1M12 68h1M17 68h1M4 69h1M6 69h1M9 69h3"/><path stroke="#801" d="M49 54h3"/><path stroke="#802" d="M13 11h1M5 33h2M9 34h1M21 38h1"/><path stroke="#803" d="M16 12h1M46 12h1M12 35h1M15 36h1M17 37h1M20 38h1M55 55h1M29 67h1M29 69h1M63 69h1"/><path stroke="#804" d="M44 11h1M57 56h1M62 67h1"/><path stroke="#805" d="M43 10h1M20 14h1M3 32h1M28 69h1M62 69h1"/><path stroke="#806" d="M1 10h1M21 15h1M22 16h1M1 58h1"/><path stroke="#807" d="M41 8h1M0 10h1M23 17h1M24 18h1M62 66h1"/><path stroke="#808" d="M0 9h2M26 21h1M27 22h1M1 31h1M0 57h2M28 66h1"/><path stroke="#809" d="M28 25h1M0 31h1M60 59h1M60 60h1M61 66h1"/><path stroke="#80a" d="M60 61h1M60 68h1"/><path stroke="#80b" d="M28 26h1M60 62h1"/><path stroke="#80c" d="M59 69h1"/><path stroke="#80f" d="M37 2h1M59 64h1"/><path stroke="#810" d="M49 12h1M44 54h2M32 67h1"/><path stroke="#820" d="M43 54h1M66 67h1"/><path stroke="#830" d="M50 12h1M28 38h1"/><path stroke="#840" d="M52 11h1M66 32h1M35 34h1M32 36h1M30 37h1M16 58h1M35 67h1M35 69h1"/><path stroke="#84f" d="M58 65h1"/><path stroke="#850" d="M53 10h1"/><path stroke="#85f" d="M26 62h1"/><path stroke="#860" d="M68 32h1"/><path stroke="#86f" d="M28 54h1M27 58h1M57 65h1"/><path stroke="#87f" d="M69 16h1M25 65h1"/><path stroke="#880" d="M55 8h1M68 31h1M18 56h1M37 58h1M68 66h1"/><path stroke="#88f" d="M69 43h1M56 65h1"/><path stroke="#890" d="M56 7h1M69 31h1M37 59h1"/><path stroke="#89f" d="M66 17h1M66 18h1M68 44h1"/><path stroke="#8a0" d="M37 60h1M69 66h1M37 68h1"/><path stroke="#8b0" d="M19 55h1"/><path stroke="#8bf" d="M31 48h1"/><path stroke="#8c0" d="M57 5h1M37 61h1M38 69h1"/><path stroke="#8cf" d="M24 28h1M39 44h1M34 46h1"/><path stroke="#8d0" d="M37 62h1"/><path stroke="#8df" d="M64 19h1M60 20h1M56 21h1M52 66h2M22 68h1M51 68h1M51 69h1"/><path stroke="#8ef" d="M63 19h1M59 20h1M55 21h1M43 43h2M66 45h1M11 68h1M21 68h1M50 68h1M20 69h2M49 69h2"/><path stroke="#8f7" d="M0 66h1"/><path stroke="#8f8" d="M26 4h1M29 9h1M31 12h1"/><path stroke="#8f9" d="M28 7h1M30 10h1M32 13h1"/><path stroke="#8fb" d="M15 24h1M18 26h1M19 27h1M20 28h1M3 45h1M3 68h1"/><path stroke="#8fc" d="M18 48h1M45 66h1M45 68h1"/><path stroke="#8fd" d="M41 21h1M11 22h1M15 47h1M18 68h1M46 68h1M46 69h1"/><path stroke="#8fe" d="M4 21h4M55 43h3M63 44h1M11 46h1M19 68h1M47 68h1M47 69h1"/><path stroke="#8ff" d="M10 68h1M13 68h4M48 69h1"/><path stroke="#900" d="M25 39h1M47 54h2M6 59h6M65 67h1"/><path stroke="#901" d="M24 39h1M4 59h2M31 67h1"/><path stroke="#902" d="M11 11h2M4 33h1M53 55h2M30 67h1M64 67h1"/><path stroke="#903" d="M8 34h1M11 35h1M14 36h1M63 67h1"/><path stroke="#904" d="M18 13h1M3 59h1"/><path stroke="#906" d="M19 14h1M0 32h2M58 57h1M28 67h1"/><path stroke="#907" d="M42 10h1M0 58h1"/><path stroke="#908" d="M41 9h1M2 10h1M25 20h1M2 58h1M59 58h1M61 69h1"/><path stroke="#909" d="M40 7h1M61 68h1"/><path stroke="#90a" d="M2 9h1M27 23h1M2 31h1M2 57h1"/><path stroke="#90b" d="M39 6h1"/><path stroke="#90d" d="M38 4h1"/><path stroke="#90f" d="M59 63h1M26 69h1"/><path stroke="#910" d="M39 33h1M46 54h1M12 59h2"/><path stroke="#920" d="M38 33h1M33 67h1"/><path stroke="#930" d="M37 33h1M41 55h2M34 67h1"/><path stroke="#94f" d="M58 64h1"/><path stroke="#950" d="M34 35h1M39 56h1"/><path stroke="#95f" d="M67 4h1"/><path stroke="#960" d="M17 58h1M36 69h1"/><path stroke="#96f" d="M69 4h1M69 5h1M67 16h1M67 41h1"/><path stroke="#970" d="M54 10h1M69 32h1M38 57h1M68 68h1M68 69h1"/><path stroke="#97f" d="M67 42h1M27 57h1M26 61h1"/><path stroke="#980" d="M55 9h1M67 32h1M36 68h1"/><path stroke="#98f" d="M68 16h1M68 43h1M28 53h1M25 64h1M24 65h1"/><path stroke="#990" d="M69 68h1"/><path stroke="#99f" d="M66 16h1"/><path stroke="#9a0" d="M67 31h1"/><path stroke="#9af" d="M24 27h1"/><path stroke="#9b0" d="M67 66h1"/><path stroke="#9bf" d="M23 66h1"/><path stroke="#9cf" d="M36 45h1M32 47h1"/><path stroke="#9df" d="M38 44h1M51 66h1"/><path stroke="#9ef" d="M62 19h1M58 20h1M53 21h2M23 28h1M41 43h2M9 68h1M20 68h1M49 68h1"/><path stroke="#9f0" d="M58 3h1M20 54h1"/><path stroke="#9f1" d="M38 63h1"/><path stroke="#9f6" d="M2 18h1M2 19h1M21 51h1M39 64h1"/><path stroke="#9f7" d="M0 19h1M2 43h1"/><path stroke="#9f8" d="M0 43h1M1 66h1"/><path stroke="#9f9" d="M27 5h1"/><path stroke="#9fa" d="M29 8h1M31 11h1M33 14h1M34 15h1M3 20h1M3 44h1"/><path stroke="#9fb" d="M38 19h1M17 25h1M21 49h1"/><path stroke="#9fc" d="M39 20h1M14 23h1M19 48h1"/><path stroke="#9fd" d="M12 22h1M16 47h1"/><path stroke="#9fe" d="M8 21h1M42 21h2M58 43h2M64 44h1M4 45h2M7 45h1M12 46h2"/><path stroke="#9ff" d="M6 45h1M4 68h5M48 68h1"/><path stroke="#a01" d="M9 11h2"/><path stroke="#a02" d="M23 39h1M52 55h1"/><path stroke="#a03" d="M15 12h1M7 34h1M19 38h1"/><path stroke="#a04" d="M45 12h1M16 37h1M56 56h1"/><path stroke="#a05" d="M17 13h1M3 33h1"/><path stroke="#a06" d="M1 33h1M0 59h2"/><path stroke="#a07" d="M20 15h1M0 33h1M2 59h1"/><path stroke="#a08" d="M2 33h1"/><path stroke="#a09" d="M2 32h1"/><path stroke="#a0b" d="M60 67h1M60 69h1"/><path stroke="#a0f" d="M27 26h1"/><path stroke="#a10" d="M40 33h3"/><path stroke="#a20" d="M14 59h1"/><path stroke="#a30" d="M26 39h1M15 59h1"/><path stroke="#a40" d="M51 12h1M29 38h1"/><path stroke="#a4f" d="M26 26h1M58 63h1"/><path stroke="#a50" d="M36 34h1M33 36h1M31 37h1M40 56h1"/><path stroke="#a5f" d="M67 5h1M67 6h1M69 6h1M67 7h1M67 8h1"/><path stroke="#a60" d="M53 11h1"/><path stroke="#a6f" d="M68 4h1M68 6h1M68 7h1M67 14h1M67 15h1"/><path stroke="#a70" d="M68 67h1"/><path stroke="#a7f" d="M57 64h1"/><path stroke="#a80" d="M67 67h1M69 67h1M69 69h1"/><path stroke="#a8f" d="M69 14h1M68 15h2M69 41h1M69 42h1M28 52h1M26 60h1"/><path stroke="#a90" d="M67 68h1M67 69h1"/><path stroke="#a9f" d="M68 41h1M68 42h1M27 56h1M26 59h1M25 63h1"/><path stroke="#aaf" d="M28 50h1M28 51h1"/><path stroke="#ab0" d="M37 67h1M37 69h1"/><path stroke="#abf" d="M66 42h1M66 43h1M29 49h1"/><path stroke="#acf" d="M66 44h1M30 48h1"/><path stroke="#adf" d="M64 18h2M37 44h1M35 45h1M33 46h1M22 66h1M50 66h1"/><path stroke="#ae0" d="M57 6h1"/><path stroke="#aef" d="M61 19h1M57 20h1M40 43h1"/><path stroke="#af0" d="M58 4h1"/><path stroke="#af5" d="M21 53h1"/><path stroke="#af6" d="M23 1h1M2 42h1M21 52h1M39 63h1"/><path stroke="#af8" d="M0 18h2M1 19h1M0 42h2M1 43h1"/><path stroke="#af9" d="M22 50h1"/><path stroke="#afa" d="M28 6h1M3 19h1M3 43h1M41 65h1M3 66h1"/><path stroke="#afb" d="M30 9h1M32 12h1M35 16h1M36 17h1M37 18h1M22 49h1"/><path stroke="#afc" d="M16 24h1"/><path stroke="#afd" d="M40 20h1M13 22h1M21 28h1M17 47h1M20 48h1M46 66h1"/><path stroke="#afe" d="M9 21h2M44 21h1M60 43h2M8 45h3M14 46h1"/><path stroke="#aff" d="M45 21h3M50 21h3M22 28h1M45 42h10M65 44h1M48 66h1"/><path stroke="#b00" d="M4 11h4M46 33h1M58 33h8"/><path stroke="#b01" d="M8 11h1"/><path stroke="#b02" d="M51 55h1"/><path stroke="#b03" d="M3 11h1M14 12h1M6 34h1M10 35h1M22 39h1"/><path stroke="#b04" d="M13 36h1"/><path stroke="#b05" d="M0 11h2"/><path stroke="#b06" d="M43 11h1M57 57h1"/><path stroke="#b07" d="M2 11h1"/><path stroke="#b08" d="M21 16h1"/><path stroke="#b09" d="M24 19h1"/><path stroke="#b0a" d="M40 8h1M61 67h1M27 68h1M27 69h1"/><path stroke="#b0d" d="M27 24h1"/><path stroke="#b0f" d="M36 0h1M38 5h1M59 62h1"/><path stroke="#b10" d="M43 33h3"/><path stroke="#b30" d="M66 33h1M27 39h1M43 55h1"/><path stroke="#b3f" d="M58 62h1"/><path stroke="#b50" d="M68 33h2M16 59h1"/><path stroke="#b60" d="M67 33h1M35 35h1"/><path stroke="#b6f" d="M68 5h1M67 39h1"/><path stroke="#b7f" d="M66 9h1M67 13h1M57 63h1"/><path stroke="#b80" d="M39 57h1"/><path stroke="#b8f" d="M66 5h1M66 6h1M66 7h1M66 8h1M69 13h1M68 14h1"/><path stroke="#b90" d="M36 67h1"/><path stroke="#b9f" d="M27 55h1M25 62h1"/><path stroke="#ba0" d="M18 57h1M38 58h1"/><path stroke="#baf" d="M66 14h1M27 54h1M26 58h1M25 61h1M56 64h1"/><path stroke="#bbf" d="M66 41h1M24 64h1M55 65h1"/><path stroke="#bdf" d="M31 47h1"/><path stroke="#bef" d="M63 18h1M59 19h2M55 20h2M39 43h1M20 66h2M49 66h1"/><path stroke="#bf0" d="M58 5h1M38 62h1"/><path stroke="#bf4" d="M59 4h1"/><path stroke="#bf6" d="M2 41h1M21 54h1"/><path stroke="#bf8" d="M0 41h1"/><path stroke="#bf9" d="M40 64h1"/><path stroke="#bfb" d="M29 7h1M3 18h1M3 42h1M41 64h1"/><path stroke="#bfc" d="M33 13h1M18 25h1M19 26h1"/><path stroke="#bfd" d="M39 19h1M15 23h1M17 24h1M20 27h1"/><path stroke="#bfe" d="M4 20h2M41 20h1M11 21h1M62 43h2M5 44h1M11 45h1M15 46h1M18 47h1M47 66h1"/><path stroke="#bff" d="M6 20h1M48 21h2M43 42h2M55 42h3M64 43h1"/><path stroke="#c00" d="M47 33h11"/><path stroke="#c02" d="M50 55h1"/><path stroke="#c03" d="M5 34h1M9 35h1"/><path stroke="#c04" d="M18 38h1M55 56h1"/><path stroke="#c08" d="M22 17h1"/><path stroke="#c09" d="M23 18h1M58 58h1"/><path stroke="#c0b" d="M59 59h1M27 67h1"/><path stroke="#c0c" d="M26 22h1"/><path stroke="#c0e" d="M59 60h1"/><path stroke="#c0f" d="M37 3h1M27 25h1M59 61h1"/><path stroke="#c10" d="M45 55h1"/><path stroke="#c20" d="M44 55h1"/><path stroke="#c2f" d="M26 25h1"/><path stroke="#c50" d="M37 34h1M41 56h1"/><path stroke="#c6f" d="M67 12h1M67 40h1"/><path stroke="#c7f" d="M57 62h1"/><path stroke="#c8f" d="M69 12h1M69 39h1M69 40h1"/><path stroke="#c9f" d="M68 13h1M25 26h1"/><path stroke="#caf" d="M66 15h1"/><path stroke="#cbf" d="M27 53h1M26 57h1M25 60h1"/><path stroke="#cc0" d="M56 8h1"/><path stroke="#ccf" d="M28 49h1M24 63h1M55 64h1M23 65h1"/><path stroke="#cdf" d="M34 45h1M32 46h1M29 48h1M54 65h1"/><path stroke="#cef" d="M64 17h2M61 18h2M58 19h1M54 20h1M41 42h2M38 43h1M36 44h1"/><path stroke="#cf0" d="M58 6h1M57 7h1M20 55h1M19 56h1M38 61h1"/><path stroke="#cf5" d="M59 5h1M39 61h1"/><path stroke="#cf6" d="M59 6h1M2 16h1M2 17h1M2 40h1M39 62h1"/><path stroke="#cf7" d="M21 55h1"/><path stroke="#cf8" d="M0 17h1"/><path stroke="#cf9" d="M1 41h1M22 51h1M22 52h1M40 63h1"/><path stroke="#cfc" d="M28 5h1M31 10h1M34 14h1M23 49h1M42 65h1"/><path stroke="#cfd" d="M30 8h1M35 15h1M36 16h1M37 17h1M38 18h1M14 22h1M16 23h1M21 48h1M43 65h1"/><path stroke="#cfe" d="M7 20h2M42 20h2M12 21h1M12 45h2M16 46h1M19 47h1M44 65h1M18 66h2"/><path stroke="#cff" d="M58 42h3M65 43h1M4 44h1M6 44h3"/><path stroke="#d00" d="M47 55h2"/><path stroke="#d01" d="M49 55h1"/><path stroke="#d02" d="M4 34h1"/><path stroke="#d03" d="M13 12h1M21 39h1M54 56h1"/><path stroke="#d04" d="M12 36h1M15 37h1"/><path stroke="#d05" d="M16 13h1"/><path stroke="#d06" d="M18 14h1"/><path stroke="#d0e" d="M39 7h1"/><path stroke="#d0f" d="M37 4h1"/><path stroke="#d10" d="M46 55h1"/><path stroke="#d2f" d="M58 61h1"/><path stroke="#d4f" d="M36 4h1"/><path stroke="#d50" d="M52 12h1M30 38h1"/><path stroke="#d5f" d="M67 9h1"/><path stroke="#d60" d="M32 37h1"/><path stroke="#d6f" d="M67 38h1"/><path stroke="#d7f" d="M67 11h1"/><path stroke="#d8f" d="M69 11h1M25 25h1M68 39h1"/><path stroke="#d9f" d="M66 4h1M68 11h1M68 12h1M68 40h1"/><path stroke="#daf" d="M56 63h1"/><path stroke="#dbf" d="M24 26h1"/><path stroke="#dcf" d="M27 52h1M26 56h1"/><path stroke="#ddf" d="M65 9h1M23 26h1M27 51h1M26 55h1M25 59h1M24 62h1M23 64h1M54 64h1"/><path stroke="#def" d="M60 18h1M57 19h1M23 27h1M37 43h1M35 44h1M33 45h1M31 46h1M30 47h1M51 65h3"/><path stroke="#df0" d="M38 60h1"/><path stroke="#df1" d="M20 56h1"/><path stroke="#df2" d="M58 7h1"/><path stroke="#df4" d="M58 8h1M20 57h1"/><path stroke="#df6" d="M2 39h1"/><path stroke="#df7" d="M59 7h1M2 65h1"/><path stroke="#df8" d="M25 3h1M60 5h1M0 16h2M0 39h1M0 40h1M21 56h1"/><path stroke="#df9" d="M1 17h1M1 40h1M40 62h1"/><path stroke="#dfa" d="M22 53h1M22 54h1"/><path stroke="#dfc" d="M27 4h1M3 41h1"/><path stroke="#dfd" d="M29 6h1M32 11h1M23 50h1M42 64h1"/><path stroke="#dfe" d="M31 9h1M33 12h1M39 18h1M5 19h1M40 19h2M13 21h1M15 22h1M18 24h1M19 25h1M20 26h1M21 27h1M5 43h1M14 45h1M17 46h1M20 47h1M22 48h1M45 65h1M17 66h1"/><path stroke="#dff" d="M63 17h1M59 18h1M56 19h1M9 20h2M44 20h2M51 20h3M22 27h1M46 41h10M40 42h1M61 42h4M9 44h3M12 66h5"/><path stroke="#e00" d="M47 13h3M25 40h1M4 60h9"/><path stroke="#e01" d="M1 60h1M3 60h1"/><path stroke="#e02" d="M12 12h1M0 60h1M2 60h1"/><path stroke="#e03" d="M3 34h1M8 35h1"/><path stroke="#e05" d="M44 12h1"/><path stroke="#e0f" d="M38 6h1"/><path stroke="#e1f" d="M37 5h1"/><path stroke="#e3f" d="M37 6h1"/><path stroke="#e40" d="M28 39h1"/><path stroke="#e5f" d="M67 3h1M69 3h1M37 7h1"/><path stroke="#e60" d="M34 36h1"/><path stroke="#e6f" d="M36 5h1M69 7h1M68 8h1M57 61h1"/><path stroke="#e7f" d="M36 6h1M67 10h1M25 24h1"/><path stroke="#e8f" d="M35 5h1M69 9h1M68 10h2M68 38h2"/><path stroke="#eaf" d="M56 62h1"/><path stroke="#ebf" d="M24 25h1"/><path stroke="#ecf" d="M65 10h1M66 40h1"/><path stroke="#edf" d="M65 7h1M65 8h1M27 50h1M55 63h1"/><path stroke="#eef" d="M65 6h1M64 10h1M64 16h1M29 47h1M28 48h1M27 49h1M26 53h1M26 54h1M25 57h1M25 58h1M24 60h1M24 61h1M23 63h1M50 64h1M53 64h1M50 65h1"/><path stroke="#ef0" d="M38 59h1"/><path stroke="#ef8" d="M60 4h1M59 8h1M1 39h1M0 65h1"/><path stroke="#ef9" d="M60 6h1M21 57h1M1 65h1"/><path stroke="#efa" d="M60 7h1M21 58h1"/><path stroke="#efb" d="M61 5h1M60 8h1M3 17h1M22 55h1"/><path stroke="#efc" d="M61 6h1M22 56h1M41 62h1M41 63h1"/><path stroke="#efd" d="M61 7h1M23 51h1M23 52h1M23 53h1"/><path stroke="#efe" d="M30 7h1M32 10h1M34 13h1M35 14h1M36 15h1M37 16h1M38 17h1M14 21h1M16 22h1M17 23h1M18 46h1M23 48h1M24 49h1M23 54h1M42 63h1M43 64h1M46 65h1"/><path stroke="#eff" d="M65 16h1M60 17h3M40 18h1M57 18h2M4 19h1M6 19h4M42 19h2M53 19h3M11 20h2M46 20h5M42 41h4M56 41h7M64 41h1M38 42h2M4 43h1M6 43h4M36 43h1M12 44h2M34 44h1M15 45h2M32 45h1M19 46h1M30 46h1M21 47h1M22 64h1M44 64h4M51 64h2M5 66h7"/><path stroke="#f00" d="M0 12h11M48 14h1M0 34h2M40 34h30M3 35h1M24 40h1M47 56h2M13 60h1M6 61h3"/><path stroke="#f01" d="M11 12h1M49 56h3"/><path stroke="#f02" d="M46 13h1M5 35h3M23 40h1M52 56h2"/><path stroke="#f03" d="M2 34h1M4 35h1M10 36h2M19 39h2M22 40h1"/><path stroke="#f04" d="M13 13h3M45 13h1M8 36h2M13 37h2M16 38h2M18 39h1M21 40h1"/><path stroke="#f05" d="M12 37h1M15 38h1M54 57h2"/><path stroke="#f06" d="M44 13h1M16 14h1M56 57h1"/><path stroke="#f07" d="M17 14h1"/><path stroke="#f08" d="M43 12h1M19 15h1"/><path stroke="#f09" d="M42 11h1M18 15h1M56 58h1"/><path stroke="#f0a" d="M41 10h1M42 12h1M19 16h2M57 58h1"/><path stroke="#f0b" d="M41 11h1M21 17h1"/><path stroke="#f0c" d="M22 18h1"/><path stroke="#f0d" d="M40 9h1M40 10h1M23 19h1M24 20h1M25 21h1"/><path stroke="#f0f" d="M38 7h1M39 8h1M39 9h1M24 21h1M25 22h1M26 23h1M26 24h1M58 59h1M58 60h1"/><path stroke="#f10" d="M39 34h1M25 41h1M45 56h2M14 60h1M0 61h2M3 61h3M9 61h2"/><path stroke="#f13" d="M47 14h1"/><path stroke="#f14" d="M12 13h1M24 41h1"/><path stroke="#f15" d="M53 57h1"/><path stroke="#f16" d="M14 38h1M17 39h1"/><path stroke="#f1b" d="M20 17h1"/><path stroke="#f1c" d="M22 19h1M57 59h1"/><path stroke="#f1d" d="M23 20h1"/><path stroke="#f1f" d="M36 1h1"/><path stroke="#f20" d="M50 13h1M2 35h1M26 40h1M44 56h1M15 60h1M2 61h1"/><path stroke="#f21" d="M11 61h2"/><path stroke="#f24" d="M11 13h1"/><path stroke="#f25" d="M46 14h1M7 36h1M52 57h1"/><path stroke="#f26" d="M11 37h1M20 40h1"/><path stroke="#f27" d="M15 14h1"/><path stroke="#f29" d="M17 15h1"/><path stroke="#f2c" d="M21 18h1"/><path stroke="#f2f" d="M36 2h1M25 23h1"/><path stroke="#f30" d="M38 34h1M43 56h1"/><path stroke="#f31" d="M49 14h1M1 35h1M13 61h1"/><path stroke="#f35" d="M9 13h2M51 57h1"/><path stroke="#f36" d="M6 36h1M23 41h1"/><path stroke="#f37" d="M10 37h1"/><path stroke="#f39" d="M43 13h1M69 35h1"/><path stroke="#f3f" d="M36 3h1M38 8h1"/><path stroke="#f40" d="M51 13h1M27 40h1M42 56h1"/><path stroke="#f42" d="M40 35h1M14 61h1"/><path stroke="#f43" d="M41 35h1"/><path stroke="#f44" d="M5 13h1M63 35h1"/><path stroke="#f45" d="M6 13h3M60 35h3M64 35h2M4 36h1"/><path stroke="#f46" d="M50 57h1"/><path stroke="#f47" d="M14 14h1M45 14h1M66 35h1M19 40h1M22 41h1"/><path stroke="#f48" d="M68 35h1M13 38h1M16 39h1"/><path stroke="#f49" d="M55 58h1"/><path stroke="#f4a" d="M18 16h1M67 35h1"/><path stroke="#f4c" d="M35 2h1"/><path stroke="#f4f" d="M35 0h1M67 2h1"/><path stroke="#f50" d="M29 39h1M16 60h1"/><path stroke="#f51" d="M38 35h1"/><path stroke="#f52" d="M50 14h1M0 35h1M39 35h1"/><path stroke="#f53" d="M42 35h1"/><path stroke="#f54" d="M4 13h1M43 35h2"/><path stroke="#f55" d="M45 35h1M55 35h5M25 42h1M47 57h2M6 62h3"/><path stroke="#f56" d="M52 35h3M5 36h1M49 57h1"/><path stroke="#f57" d="M9 37h1"/><path stroke="#f58" d="M13 14h1M54 58h1"/><path stroke="#f59" d="M16 15h1"/><path stroke="#f5a" d="M34 2h1"/><path stroke="#f5b" d="M41 12h1"/><path stroke="#f5c" d="M40 11h1"/><path stroke="#f5d" d="M34 0h1M39 10h1M24 22h1"/><path stroke="#f5e" d="M68 0h1M68 1h1M68 2h1M35 3h1"/><path stroke="#f5f" d="M67 0h1M69 0h1M35 1h1M67 1h1M69 1h1M69 2h1M57 60h1"/><path stroke="#f60" d="M52 13h1M37 35h1M31 38h1M28 40h1"/><path stroke="#f61" d="M42 57h1"/><path stroke="#f62" d="M26 41h1"/><path stroke="#f63" d="M43 57h2M15 61h1"/><path stroke="#f64" d="M45 57h1"/><path stroke="#f65" d="M64 2h1M46 35h3M46 57h1M4 62h2M9 62h1"/><path stroke="#f66" d="M49 35h3M10 62h3"/><path stroke="#f67" d="M30 2h2"/><path stroke="#f68" d="M32 2h1M12 14h1M8 37h1M12 38h1M18 40h1M21 41h1M53 58h1"/><path stroke="#f69" d="M33 2h1M65 2h1M44 14h1M15 39h1"/><path stroke="#f6b" d="M66 2h1M42 13h1M19 17h1M56 59h1"/><path stroke="#f6c" d="M34 1h1M20 18h1M68 36h1"/><path stroke="#f6d" d="M23 21h1M69 36h1"/><path stroke="#f6e" d="M38 9h1M67 36h1"/><path stroke="#f6f" d="M68 3h1M67 37h1"/><path stroke="#f70" d="M53 12h1M36 35h1M35 36h1M33 37h1M32 38h1M30 39h1M41 57h1"/><path stroke="#f74" d="M51 14h1M16 61h1"/><path stroke="#f76" d="M29 2h1M13 62h1"/><path stroke="#f77" d="M63 2h1M48 15h1"/><path stroke="#f78" d="M10 14h2M4 37h1M6 37h2M24 42h1M50 58h3"/><path stroke="#f79" d="M30 0h1M11 38h1M14 39h1M17 40h1M20 41h1M23 42h1"/><path stroke="#f7a" d="M32 0h1M43 14h1M15 15h1"/><path stroke="#f7b" d="M33 0h1M33 1h1M17 16h1M66 36h1M55 59h1"/><path stroke="#f7c" d="M66 0h1M66 1h1M18 17h1M21 19h1"/><path stroke="#f7d" d="M34 3h1M39 11h1M40 12h1M22 20h1"/><path stroke="#f7e" d="M56 60h1"/><path stroke="#f7f" d="M35 4h1M37 8h1M69 8h1M24 23h1M68 37h2"/><path stroke="#f80" d="M36 36h1M34 37h1M40 57h1M17 59h1"/><path stroke="#f83" d="M31 39h1M29 40h1"/><path stroke="#f84" d="M27 41h1"/><path stroke="#f85" d="M3 13h1"/><path stroke="#f86" d="M3 36h1"/><path stroke="#f87" d="M64 0h1M28 2h1M39 36h3M26 42h1M44 58h2M14 62h1"/><path stroke="#f88" d="M6 14h4M47 15h1M49 15h1M42 36h2M60 36h5M5 37h1M25 43h1M46 58h4M6 63h4"/><path stroke="#f89" d="M31 0h1M46 15h1M59 36h1M65 36h1M10 38h1"/><path stroke="#f8a" d="M65 0h1M30 1h3M13 15h2M45 15h1M9 38h1M13 39h1M16 40h1M19 41h1M22 42h1"/><path stroke="#f8b" d="M16 16h1M54 59h1"/><path stroke="#f8c" d="M33 3h1M41 13h1"/><path stroke="#f8d" d="M19 18h1M20 19h1"/><path stroke="#f8e" d="M38 10h1M22 21h1M23 22h1"/><path stroke="#f8f" d="M66 3h1M36 7h1M37 9h1M68 9h1M66 10h1"/><path stroke="#f90" d="M54 11h1M17 60h1"/><path stroke="#f93" d="M53 13h1M35 37h1M33 38h1"/><path stroke="#f94" d="M37 36h1"/><path stroke="#f96" d="M61 2h2M52 14h1M38 36h1M30 40h1M28 41h1M42 58h1M3 62h1"/><path stroke="#f97" d="M64 1h1M43 58h1M15 62h1"/><path stroke="#f98" d="M28 0h2M63 0h1M5 14h1M50 15h1M44 36h1M4 63h2M10 63h2"/><path stroke="#f99" d="M4 14h1M45 36h14M12 63h1"/><path stroke="#f9a" d="M12 15h1M8 38h1"/><path stroke="#f9b" d="M65 1h1M31 3h1M44 15h1M12 39h1M15 40h1M18 41h1M21 42h1M24 43h1M53 59h1"/><path stroke="#f9c" d="M42 14h1M15 16h1M17 17h1"/><path stroke="#f9d" d="M55 60h1"/><path stroke="#f9e" d="M21 20h1M66 37h1"/><path stroke="#f9f" d="M24 24h1M56 61h1"/><path stroke="#fa0" d="M54 12h1"/><path stroke="#fa4" d="M41 58h1"/><path stroke="#fa5" d="M1 13h1"/><path stroke="#fa6" d="M54 13h1M36 37h1M34 38h1M32 39h1M17 61h1"/><path stroke="#fa7" d="M62 0h1M27 2h1M53 14h1M37 37h1M29 41h1M27 42h1"/><path stroke="#fa8" d="M27 0h1M51 15h1M16 62h1"/><path stroke="#fa9" d="M28 1h2M63 1h1M13 63h2"/><path stroke="#faa" d="M5 38h1"/><path stroke="#fab" d="M10 15h2M48 16h1M6 38h2M11 39h1M50 59h3"/><path stroke="#fac" d="M32 3h1M43 15h1M14 40h1M17 41h1M20 42h1M23 43h1"/><path stroke="#fad" d="M40 13h1M18 18h1"/><path stroke="#fae" d="M38 11h1M39 12h1"/><path stroke="#faf" d="M34 4h1M35 6h1M36 8h1M37 10h1M66 11h1M23 23h1M66 38h1M66 39h1"/><path stroke="#fb0" d="M55 10h1M40 58h1"/><path stroke="#fb4" d="M2 13h1"/><path stroke="#fb5" d="M55 12h1M0 13h1M18 60h1M0 62h2"/><path stroke="#fb6" d="M1 36h1"/><path stroke="#fb7" d="M61 0h1M35 38h1M33 39h1M31 40h1M3 63h1"/><path stroke="#fb8" d="M26 0h1M62 1h1M3 37h1M38 37h1"/><path stroke="#fb9" d="M27 1h1M52 15h1M30 41h1M28 42h1M26 43h1M43 59h1M17 62h1"/><path stroke="#fba" d="M39 37h3M44 59h2M15 63h1"/><path stroke="#fbb" d="M64 3h1M8 15h2M47 16h1M49 16h1M42 37h1M62 37h2M65 37h1M4 38h1M25 44h1M46 59h4M6 64h4"/><path stroke="#fbc" d="M6 15h2M14 16h1M46 16h1M60 37h2M64 37h1M9 39h2M13 40h1M16 41h1M19 42h1M22 43h1"/><path stroke="#fbd" d="M41 14h1M16 17h1M54 60h1"/><path stroke="#fbe" d="M65 3h1M19 19h1M20 20h1M21 21h1M22 22h1"/><path stroke="#fbf" d="M34 5h1M35 7h1M36 9h1M66 12h1M55 61h1"/><path stroke="#fc0" d="M55 11h1M39 58h1"/><path stroke="#fc4" d="M56 11h1"/><path stroke="#fc5" d="M60 2h1M2 62h1"/><path stroke="#fc6" d="M0 36h1M1 63h1"/><path stroke="#fc7" d="M25 0h1M61 1h1M26 2h1M55 13h1M41 59h1M18 61h1"/><path stroke="#fc8" d="M3 14h1M54 14h1M42 59h1"/><path stroke="#fc9" d="M26 1h1M36 38h1M34 39h1M32 40h1"/><path stroke="#fca" d="M53 15h1M37 38h1M35 39h1M33 40h1M31 41h1M29 42h1M27 43h1"/><path stroke="#fcb" d="M63 3h1M5 15h1M50 16h1M43 37h2M16 63h1M5 64h1M10 64h1"/><path stroke="#fcc" d="M4 15h1M13 16h1M51 16h1M45 37h15M26 44h1M4 64h1M11 64h2"/><path stroke="#fcd" d="M42 15h1M12 16h1M45 16h1M15 17h1M7 39h2M12 40h1M15 41h1M18 42h1M21 43h1M24 44h1M52 60h2"/><path stroke="#fce" d="M38 12h1M39 13h1M40 14h1M17 18h1"/><path stroke="#fcf" d="M33 4h1M34 6h1M35 8h1M37 11h1M65 11h1M66 13h1M23 24h1M55 62h1"/><path stroke="#fd0" d="M18 58h1M18 59h1"/><path stroke="#fd5" d="M40 59h1"/><path stroke="#fd6" d="M2 36h1M0 63h1"/><path stroke="#fd7" d="M56 12h1M1 14h1M1 37h1"/><path stroke="#fd9" d="M56 13h1"/><path stroke="#fda" d="M62 3h1M55 14h1M18 62h1"/><path stroke="#fdb" d="M29 3h1M38 38h1M42 60h1"/><path stroke="#fdc" d="M30 3h1M54 15h1M52 16h1M39 38h1M36 39h1M34 40h1M32 41h1M30 42h1M28 43h1M43 60h2M17 63h1M13 64h1"/><path stroke="#fdd" d="M10 16h2M44 16h1M40 38h2M5 39h2M11 40h1M23 44h1M25 45h1M45 60h7M14 64h1"/><path stroke="#fde" d="M41 15h1M9 16h1M43 16h1M14 17h1M16 18h1M18 19h1M19 20h1M64 38h1M10 40h1M14 41h1M17 42h1M20 43h1M54 61h1"/><path stroke="#fdf" d="M33 5h1M34 7h1M35 9h1M36 10h1M64 11h1M64 12h1M20 21h1M21 22h1M22 23h1"/><path stroke="#fe0" d="M56 10h1"/><path stroke="#fe5" d="M57 10h1M19 59h1M2 63h1"/><path stroke="#fe6" d="M60 0h1M60 1h1M0 37h1M2 37h1"/><path stroke="#fe7" d="M57 11h1M0 14h1M19 60h1"/><path stroke="#fe8" d="M61 3h1"/><path stroke="#fe9" d="M57 12h1M41 60h1"/><path stroke="#fea" d="M58 11h1M3 38h1M19 61h1"/><path stroke="#fec" d="M58 12h1M57 13h1M56 14h1M19 62h1"/><path stroke="#fed" d="M57 14h1M55 15h1M53 16h1M42 38h1M37 39h1M35 40h1M33 41h1M31 42h1M29 43h1M27 44h1M26 45h1M18 63h1M15 64h1"/><path stroke="#fee" d="M64 13h1M5 16h4M42 16h1M54 16h1M12 17h2M45 17h7M15 18h1M17 19h1M43 38h21M65 38h1M4 39h1M38 39h2M6 40h4M36 40h1M12 41h2M34 41h1M16 42h1M32 42h1M19 43h1M30 43h1M22 44h1M28 44h1M24 45h1M43 61h3M51 61h3M16 64h1"/><path stroke="#fef" d="M32 4h1M32 5h1M65 5h1M33 6h1M33 7h1M64 7h1M34 8h1M64 8h1M34 9h1M64 9h1M35 10h1M36 11h1M36 12h2M63 12h1M37 13h2M62 13h2M39 14h1M40 15h1M11 17h1M44 17h1M18 20h1M22 24h1M23 25h1M64 39h1M15 42h1M18 43h1M21 44h1M23 45h1M25 46h1M26 52h1M25 56h1M50 61h1M54 62h1M54 63h1M22 65h1"/><path stroke="#ff0" d="M57 8h1M56 9h1M19 57h1M19 58h1M39 59h1"/><path stroke="#ff1" d="M57 9h1"/><path stroke="#ff2" d="M59 0h1M59 1h1"/><path stroke="#ff3" d="M59 2h1M59 3h1M39 60h1"/><path stroke="#ff6" d="M23 0h2M58 9h1M2 14h1M2 15h1M2 38h1M2 64h1"/><path stroke="#ff7" d="M24 1h1M24 2h2M60 3h1M0 15h1M0 38h1M20 58h1M40 60h1M0 64h1"/><path stroke="#ff8" d="M25 1h1M58 10h1M1 15h1M1 38h1M20 59h1M40 61h1M1 64h1"/><path stroke="#ff9" d="M59 9h1M3 64h1"/><path stroke="#ffa" d="M3 15h1M20 60h1"/><path stroke="#ffb" d="M26 3h1M61 4h1M59 10h1M3 16h1M3 39h1M3 40h1M41 61h1"/><path stroke="#ffc" d="M27 3h2M60 9h1M59 11h1M21 59h1M20 61h1M3 65h1"/><path stroke="#ffd" d="M61 8h1M60 10h1M58 13h1M22 57h1M21 60h1M42 61h1"/><path stroke="#ffe" d="M62 4h1M29 5h1M62 5h1M62 6h1M61 9h1M60 11h1M59 12h1M65 12h1M56 15h1M52 17h1M40 39h1M5 40h1M37 40h1M27 45h1M24 50h1M24 51h1M23 55h1M23 56h1M22 58h1M22 59h1M21 61h1M46 61h1M20 62h1M42 62h1M19 63h1"/><path stroke="#fff" d="M28 4h4M63 4h3M30 5h2M63 5h2M30 6h3M63 6h2M31 7h2M62 7h2M31 8h3M62 8h2M32 9h2M62 9h2M33 10h2M61 10h3M33 11h3M61 11h3M34 12h2M60 12h3M35 13h2M59 13h3M65 13h1M36 14h3M58 14h8M37 15h3M57 15h9M4 16h1M38 16h4M55 16h9M4 17h7M39 17h5M53 17h7M4 18h11M41 18h16M10 19h7M44 19h9M13 20h5M15 21h5M17 22h4M18 23h4M19 24h3M20 25h3M21 26h2M41 39h23M65 39h1M4 40h1M38 40h28M4 41h8M35 41h7M63 41h1M65 41h1M4 42h11M33 42h5M65 42h1M10 43h8M31 43h5M14 44h7M29 44h5M17 45h6M28 45h4M20 46h5M26 46h4M22 47h7M24 48h4M25 49h2M25 50h2M25 51h2M24 52h2M24 53h2M24 54h2M24 55h2M24 56h1M23 57h2M23 58h2M23 59h2M22 60h2M22 61h2M47 61h3M21 62h3M43 62h11M20 63h3M43 63h11M17 64h5M48 64h2M4 65h18M47 65h3M4 66h1"/></g></g></g>
<path fill-rule="evenodd" d="M1291.0 800.0H1366.6V876.3H1291.0zM1293.0 802.0H1365.4V874.8H1293.0z" fill="#fff"/>
<rect x="1293.0" y="802.0" width="72.4" height="72.8" fill="#fff" fill-opacity="0.9"/>
<text x="1330.0" y="850.2" font-size="44.3" fill="#1c1c1c" text-anchor="middle" font-family="'Liberation Sans',Arial,Helvetica,sans-serif">4</text>
<g clip-path="url(#cp4)"><g filter="url(#bp4)"><g transform="translate(1378.96 539.95) scale(4.97969 5.01562) translate(0 .5)" fill="none" stroke-width="1.04"><path stroke="#000" d="M4 6h6M60 6h6M4 7h62M4 8h62M4 28h1M65 28h1M4 29h62M4 30h62M4 50h1M6 50h1M8 50h54M63 50h1M65 50h1M4 51h62M4 52h62M22 69h26"/><path stroke="#001" d="M5 50h1M7 50h1M21 69h1"/><path stroke="#004" d="M3 5h1M3 6h1M3 28h1M3 50h1"/><path stroke="#005" d="M3 4h1M3 27h1M3 49h1"/><path stroke="#007" d="M1 4h1M1 27h1M1 49h1"/><path stroke="#008" d="M0 4h1M0 27h1M0 49h1"/><path stroke="#009" d="M2 4h1M2 26h1M2 27h1M2 48h1M2 49h1"/><path stroke="#010" d="M62 50h1M64 50h1M48 69h1"/><path stroke="#011" d="M4 5h1M65 5h1M10 6h50M5 28h60M20 69h1M49 69h1"/><path stroke="#012" d="M19 69h1"/><path stroke="#019" d="M0 26h1M0 48h1"/><path stroke="#021" d="M50 69h1"/><path stroke="#022" d="M5 5h3M62 5h3M4 49h1M65 49h1"/><path stroke="#023" d="M61 5h1M5 49h1M18 69h1"/><path stroke="#028" d="M1 26h1M1 48h1"/><path stroke="#02a" d="M2 3h1M2 47h1"/><path stroke="#032" d="M8 5h1M64 49h1M51 69h1"/><path stroke="#033" d="M9 5h7M54 5h7M4 27h62M6 49h58"/><path stroke="#034" d="M53 5h1M16 69h2"/><path stroke="#037" d="M3 26h1M3 48h1"/><path stroke="#039" d="M0 47h2"/><path stroke="#03a" d="M0 3h1"/><path stroke="#03b" d="M2 25h1"/><path stroke="#040" d="M66 5h1M66 6h1M66 28h1M66 50h1"/><path stroke="#043" d="M16 5h1M52 69h2"/><path stroke="#044" d="M4 4h1M65 4h1M17 5h36"/><path stroke="#045" d="M15 69h1"/><path stroke="#04a" d="M1 3h1M0 25h1"/><path stroke="#050" d="M66 4h1M66 27h1M66 49h1"/><path stroke="#054" d="M54 69h1"/><path stroke="#055" d="M5 4h3M62 4h3"/><path stroke="#056" d="M60 4h2M4 48h2M14 69h1"/><path stroke="#059" d="M3 47h1"/><path stroke="#05a" d="M1 25h1"/><path stroke="#05b" d="M2 2h1"/><path stroke="#065" d="M8 4h2M64 48h2M55 69h1"/><path stroke="#066" d="M10 4h2M58 4h2M4 26h62M6 48h58"/><path stroke="#067" d="M56 4h2M13 69h1"/><path stroke="#070" d="M68 4h1M68 27h1M68 49h1"/><path stroke="#073" d="M66 26h1M66 48h1"/><path stroke="#076" d="M12 4h2M56 69h1"/><path stroke="#077" d="M14 4h3M53 4h3"/><path stroke="#078" d="M51 4h2M12 69h1"/><path stroke="#079" d="M3 3h1"/><path stroke="#07a" d="M3 25h1"/><path stroke="#07b" d="M0 2h2"/><path stroke="#07e" d="M2 1h1"/><path stroke="#080" d="M69 4h1M69 27h1M69 49h1"/><path stroke="#082" d="M68 26h1M68 48h1"/><path stroke="#087" d="M17 4h2M57 69h1"/><path stroke="#088" d="M19 4h32"/><path stroke="#089" d="M4 47h1M11 69h1"/><path stroke="#08a" d="M10 69h1"/><path stroke="#090" d="M67 4h1M67 26h1M67 27h1M67 48h1M67 49h1"/><path stroke="#091" d="M69 26h1M69 48h1"/><path stroke="#093" d="M68 47h2"/><path stroke="#095" d="M66 47h1"/><path stroke="#097" d="M66 3h1"/><path stroke="#098" d="M65 47h1M58 69h1"/><path stroke="#099" d="M5 47h60"/><path stroke="#09a" d="M3 2h1M61 3h4"/><path stroke="#09b" d="M9 69h1"/><path stroke="#09e" d="M0 1h1"/><path stroke="#0a2" d="M67 3h1M67 47h1"/><path stroke="#0a3" d="M69 3h1"/><path stroke="#0a4" d="M68 3h1M69 25h1"/><path stroke="#0a5" d="M68 25h1"/><path stroke="#0a7" d="M66 25h1"/><path stroke="#0a8" d="M59 69h1"/><path stroke="#0a9" d="M66 2h1M5 3h4"/><path stroke="#0aa" d="M4 3h1M9 3h3M58 3h3M65 3h1M4 25h62"/><path stroke="#0ab" d="M64 2h1M53 3h5"/><path stroke="#0ac" d="M8 69h1"/><path stroke="#0ae" d="M1 1h1"/><path stroke="#0b3" d="M67 25h1"/><path stroke="#0b5" d="M67 2h1"/><path stroke="#0b7" d="M68 2h2"/><path stroke="#0b9" d="M60 69h1"/><path stroke="#0ba" d="M5 2h1M12 3h5"/><path stroke="#0bb" d="M6 2h2M62 2h2M17 3h4M49 3h4"/><path stroke="#0bc" d="M60 2h2M65 2h1M46 3h3"/><path stroke="#0bd" d="M7 69h1"/><path stroke="#0be" d="M6 69h1"/><path stroke="#0ca" d="M61 69h1"/><path stroke="#0cb" d="M4 2h1M8 2h2M21 3h3"/><path stroke="#0cc" d="M10 2h1M59 2h1M24 3h7M39 3h7"/><path stroke="#0cd" d="M65 1h1M57 2h2M37 3h2"/><path stroke="#0ce" d="M5 69h1"/><path stroke="#0cf" d="M4 69h1"/><path stroke="#0db" d="M62 69h1"/><path stroke="#0dc" d="M4 1h1M11 2h2M31 3h2"/><path stroke="#0dd" d="M33 3h4"/><path stroke="#0de" d="M64 1h1M55 2h2"/><path stroke="#0df" d="M62 1h2"/><path stroke="#0e7" d="M67 1h1"/><path stroke="#0e9" d="M69 1h1"/><path stroke="#0ea" d="M68 1h1"/><path stroke="#0eb" d="M63 69h1"/><path stroke="#0ec" d="M64 69h1"/><path stroke="#0ed" d="M5 1h1M13 2h2"/><path stroke="#0ef" d="M3 1h1M55 1h7M52 2h3M3 69h1M67 69h1M69 69h1"/><path stroke="#0fc" d="M65 69h1"/><path stroke="#0fd" d="M6 1h2"/><path stroke="#0fe" d="M8 1h7M66 1h1M15 2h3M0 69h1M2 69h1M66 69h1"/><path stroke="#0ff" d="M18 2h34M0 24h70M0 46h70M11 68h48M1 69h1M68 69h1"/><path stroke="#100" d="M4 9h1M10 9h50M65 9h1M4 31h1M6 31h58M65 31h1M4 53h1M65 53h1"/><path stroke="#104" d="M3 29h1"/><path stroke="#107" d="M1 5h1"/><path stroke="#108" d="M0 5h1"/><path stroke="#140" d="M66 29h1"/><path stroke="#170" d="M68 5h1"/><path stroke="#180" d="M69 5h1"/><path stroke="#1ef" d="M54 1h1"/><path stroke="#1fe" d="M15 1h1"/><path stroke="#1ff" d="M24 67h22M10 68h1M59 68h1"/><path stroke="#200" d="M6 9h4M60 9h4M6 53h58"/><path stroke="#201" d="M5 9h1M5 31h1M5 53h1"/><path stroke="#204" d="M3 7h1M3 51h1"/><path stroke="#206" d="M1 6h1"/><path stroke="#207" d="M0 28h2M0 50h2"/><path stroke="#209" d="M2 5h1"/><path stroke="#210" d="M64 9h1M64 31h1M64 53h1"/><path stroke="#240" d="M66 7h1M66 51h1"/><path stroke="#260" d="M68 6h1"/><path stroke="#270" d="M68 28h2M68 50h2"/><path stroke="#290" d="M67 5h1"/><path stroke="#29f" d="M66 0h1"/><path stroke="#2cf" d="M68 0h1"/><path stroke="#2df" d="M69 0h1"/><path stroke="#2ef" d="M67 0h1M53 1h1"/><path stroke="#2f9" d="M3 0h1"/><path stroke="#2fc" d="M1 0h1"/><path stroke="#2fd" d="M0 0h1"/><path stroke="#2fe" d="M2 0h1M16 1h1"/><path stroke="#2ff" d="M4 45h62M19 67h5M46 67h5M8 68h2M60 68h2"/><path stroke="#300" d="M18 10h34M4 32h1M65 32h1"/><path stroke="#304" d="M3 30h1M3 52h1"/><path stroke="#306" d="M1 7h1M1 29h1M1 51h1"/><path stroke="#307" d="M0 6h1M0 29h1M0 51h1"/><path stroke="#309" d="M2 28h1M2 50h1"/><path stroke="#340" d="M66 30h1M66 52h1"/><path stroke="#360" d="M68 7h1M68 29h1M68 51h1"/><path stroke="#370" d="M69 6h1M69 29h1M69 51h1"/><path stroke="#390" d="M67 28h1M67 50h1"/><path stroke="#3af" d="M67 45h1"/><path stroke="#3bf" d="M69 45h1"/><path stroke="#3cf" d="M68 45h1"/><path stroke="#3df" d="M66 45h1"/><path stroke="#3ef" d="M52 1h1M15 67h2"/><path stroke="#3fa" d="M2 45h1"/><path stroke="#3fb" d="M0 45h1"/><path stroke="#3fc" d="M1 45h1"/><path stroke="#3fd" d="M3 45h1"/><path stroke="#3fe" d="M17 1h1M53 67h2"/><path stroke="#3ff" d="M17 67h2M51 67h2M6 68h2M62 68h2"/><path stroke="#400" d="M4 10h1M6 10h12M52 10h12M65 10h1M6 32h58M4 54h1M6 54h6M58 54h6M65 54h1"/><path stroke="#401" d="M5 32h1"/><path stroke="#405" d="M3 8h1"/><path stroke="#407" d="M0 7h1M0 30h2M1 52h1"/><path stroke="#409" d="M2 6h1M2 29h1M2 51h1"/><path stroke="#410" d="M64 32h1"/><path stroke="#450" d="M66 8h1"/><path stroke="#470" d="M69 7h1M68 30h2M68 52h1"/><path stroke="#48f" d="M67 68h1"/><path stroke="#490" d="M67 6h1M67 29h1M67 51h1"/><path stroke="#49f" d="M67 23h1M67 67h1M69 68h1"/><path stroke="#4af" d="M68 23h2M69 67h1M68 68h1"/><path stroke="#4bf" d="M68 67h1"/><path stroke="#4cf" d="M66 23h1"/><path stroke="#4df" d="M65 0h1M66 67h1"/><path stroke="#4ef" d="M51 1h1M6 67h9"/><path stroke="#4f8" d="M2 68h1"/><path stroke="#4f9" d="M2 23h1M2 67h1M0 68h1"/><path stroke="#4fa" d="M0 23h2M0 67h1M1 68h1"/><path stroke="#4fb" d="M1 67h1"/><path stroke="#4fc" d="M3 23h1"/><path stroke="#4fd" d="M4 0h1M3 67h1"/><path stroke="#4fe" d="M18 1h1M55 67h9"/><path stroke="#4ff" d="M4 23h62M23 66h24M4 67h2M64 67h2M4 68h2M64 68h2"/><path stroke="#500" d="M12 54h46"/><path stroke="#501" d="M5 10h1M5 54h1"/><path stroke="#505" d="M3 31h1M3 53h1"/><path stroke="#507" d="M0 8h2M1 31h1M0 52h1M1 53h1"/><path stroke="#508" d="M2 8h1"/><path stroke="#509" d="M2 7h1M2 30h1M2 52h1"/><path stroke="#510" d="M64 10h1M64 54h1"/><path stroke="#550" d="M66 31h1M66 53h1"/><path stroke="#55f" d="M67 43h1"/><path stroke="#56f" d="M67 66h1"/><path stroke="#570" d="M68 8h2M68 31h1M69 52h1M68 53h1"/><path stroke="#580" d="M67 8h1"/><path stroke="#590" d="M67 7h1M67 30h1M67 52h1"/><path stroke="#5df" d="M64 0h1"/><path stroke="#5ef" d="M50 1h1"/><path stroke="#5f5" d="M2 43h1"/><path stroke="#5f6" d="M2 66h1"/><path stroke="#5fd" d="M5 0h1"/><path stroke="#5fe" d="M19 1h1"/><path stroke="#5ff" d="M10 66h13M47 66h13M3 68h1M66 68h1"/><path stroke="#600" d="M23 11h24"/><path stroke="#604" d="M3 32h1M3 54h1"/><path stroke="#605" d="M3 10h1"/><path stroke="#606" d="M3 9h1"/><path stroke="#607" d="M1 9h1M0 31h1M0 53h1"/><path stroke="#608" d="M0 9h1M2 31h1M2 53h1"/><path stroke="#640" d="M66 32h1M66 54h1"/><path stroke="#650" d="M66 10h1"/><path stroke="#65f" d="M67 21h1"/><path stroke="#660" d="M66 9h1"/><path stroke="#670" d="M68 9h1M69 31h1M69 53h1"/><path stroke="#67f" d="M67 22h1M69 43h1M67 44h1"/><path stroke="#680" d="M69 9h1M67 31h1M67 53h1"/><path stroke="#68f" d="M69 22h1M69 66h1"/><path stroke="#69f" d="M68 66h1"/><path stroke="#6ef" d="M49 1h1M6 66h4"/><path stroke="#6f5" d="M2 21h1"/><path stroke="#6f7" d="M2 22h1M0 43h1M2 44h1"/><path stroke="#6f8" d="M0 22h1M0 66h1"/><path stroke="#6f9" d="M1 66h1"/><path stroke="#6fe" d="M20 1h1M60 66h4"/><path stroke="#6ff" d="M5 66h1M64 66h1"/><path stroke="#700" d="M6 11h17M47 11h17M6 33h58M5 55h3M62 55h3"/><path stroke="#701" d="M4 11h2M4 33h2M4 55h1"/><path stroke="#704" d="M3 33h1"/><path stroke="#709" d="M2 9h1"/><path stroke="#710" d="M64 11h2M64 33h2M65 55h1"/><path stroke="#740" d="M66 33h1"/><path stroke="#75f" d="M67 65h1"/><path stroke="#77f" d="M68 21h2M68 43h1"/><path stroke="#78f" d="M69 44h1"/><path stroke="#790" d="M67 9h1"/><path stroke="#79f" d="M68 22h1M68 44h1"/><path stroke="#7bf" d="M66 44h1"/><path stroke="#7df" d="M63 0h1"/><path stroke="#7ef" d="M48 1h1"/><path stroke="#7f5" d="M2 65h1"/><path stroke="#7f7" d="M0 21h2M1 43h1"/><path stroke="#7f8" d="M0 44h1"/><path stroke="#7f9" d="M1 22h1M1 44h1"/><path stroke="#7fb" d="M3 44h1"/><path stroke="#7fd" d="M6 0h1"/><path stroke="#7fe" d="M21 1h1"/><path stroke="#7ff" d="M4 66h1M65 66h1"/><path stroke="#800" d="M8 55h54"/><path stroke="#804" d="M3 11h1M3 55h1"/><path stroke="#806" d="M1 11h1M1 33h1M1 55h1"/><path stroke="#807" d="M1 10h1M0 33h1"/><path stroke="#808" d="M0 32h2M1 54h1"/><path stroke="#840" d="M66 11h1M66 55h1"/><path stroke="#860" d="M68 11h1M68 33h1M68 55h1"/><path stroke="#86f" d="M69 65h1"/><path stroke="#870" d="M68 10h1M69 33h1"/><path stroke="#87f" d="M68 65h1"/><path stroke="#880" d="M68 32h2M68 54h1"/><path stroke="#8bf" d="M66 22h1"/><path stroke="#8cf" d="M66 66h1"/><path stroke="#8df" d="M62 0h1"/><path stroke="#8ef" d="M46 1h2M64 22h2M64 44h2"/><path stroke="#8f6" d="M0 65h1"/><path stroke="#8f7" d="M1 65h1"/><path stroke="#8fb" d="M3 22h1"/><path stroke="#8fc" d="M3 66h1"/><path stroke="#8fd" d="M7 0h1"/><path stroke="#8fe" d="M22 1h2M4 22h2M4 44h2"/><path stroke="#8ff" d="M6 22h58M6 44h58"/><path stroke="#907" d="M0 11h1M0 55h1"/><path stroke="#908" d="M0 10h1M2 11h1M2 33h1M0 54h1M2 55h1"/><path stroke="#90a" d="M2 32h1"/><path stroke="#96f" d="M67 42h1"/><path stroke="#970" d="M69 11h1M69 55h1"/><path stroke="#97f" d="M67 20h1"/><path stroke="#980" d="M69 10h1M67 11h1M67 33h1M69 54h1M67 55h1"/><path stroke="#98f" d="M69 42h1"/><path stroke="#9a0" d="M67 32h1"/><path stroke="#9af" d="M66 21h1"/><path stroke="#9bf" d="M66 43h1"/><path stroke="#9f6" d="M2 42h1"/><path stroke="#9f7" d="M2 20h1"/><path stroke="#9f8" d="M0 42h1"/><path stroke="#9fa" d="M3 21h1"/><path stroke="#9fb" d="M3 43h1"/><path stroke="#9ff" d="M24 1h2M44 1h2M18 65h34"/><path stroke="#a00" d="M25 12h20"/><path stroke="#a0a" d="M2 10h1M2 54h1"/><path stroke="#a6f" d="M67 19h1M67 41h1"/><path stroke="#a7f" d="M67 64h1"/><path stroke="#a8f" d="M69 20h1M69 41h1M68 42h1M69 64h1"/><path stroke="#a9f" d="M68 20h1"/><path stroke="#aa0" d="M67 10h1M67 54h1"/><path stroke="#aaf" d="M66 20h1M66 42h1"/><path stroke="#abf" d="M66 65h1"/><path stroke="#adf" d="M61 0h1"/><path stroke="#aef" d="M64 43h1"/><path stroke="#af6" d="M2 19h1M2 41h1"/><path stroke="#af7" d="M2 64h1"/><path stroke="#af8" d="M0 20h1M0 41h1M1 42h1M0 64h1"/><path stroke="#af9" d="M1 20h1"/><path stroke="#afa" d="M3 20h1M3 42h1"/><path stroke="#afb" d="M3 65h1"/><path stroke="#afd" d="M8 0h1"/><path stroke="#afe" d="M5 43h1"/><path stroke="#aff" d="M26 1h2M42 1h2M12 65h6M52 65h6"/><path stroke="#b00" d="M9 12h16M45 12h16"/><path stroke="#b6f" d="M67 18h1M67 40h1M67 63h1"/><path stroke="#b8f" d="M68 19h2M69 63h1"/><path stroke="#b9f" d="M68 41h1M68 64h1"/><path stroke="#bbf" d="M66 64h1"/><path stroke="#bef" d="M60 0h1M64 21h1"/><path stroke="#bf6" d="M2 18h1M2 40h1M2 63h1"/><path stroke="#bf8" d="M0 19h2M0 63h1"/><path stroke="#bf9" d="M1 41h1M1 64h1"/><path stroke="#bfb" d="M3 64h1"/><path stroke="#bfe" d="M9 0h1M5 21h1"/><path stroke="#bff" d="M28 1h14M6 21h58M4 43h1M6 43h58M65 43h1M7 65h5M58 65h5"/><path stroke="#c00" d="M6 12h3M61 12h3M4 34h62M4 56h5M61 56h5"/><path stroke="#c01" d="M4 12h2"/><path stroke="#c02" d="M3 34h1M3 56h1"/><path stroke="#c03" d="M3 12h1"/><path stroke="#c04" d="M0 12h2M0 34h2M1 56h1"/><path stroke="#c05" d="M2 12h1M2 34h1M0 56h1"/><path stroke="#c06" d="M2 56h1"/><path stroke="#c10" d="M64 12h2"/><path stroke="#c20" d="M66 34h1M66 56h1"/><path stroke="#c30" d="M66 12h1"/><path stroke="#c40" d="M68 12h2M68 34h2M68 56h1"/><path stroke="#c50" d="M67 12h1M67 34h1M69 56h1"/><path stroke="#c60" d="M67 56h1"/><path stroke="#c6f" d="M67 17h1M67 39h1M67 62h1"/><path stroke="#c8f" d="M69 18h1M69 40h1M69 62h1M68 63h1"/><path stroke="#c9f" d="M68 18h1M68 40h1"/><path stroke="#cbf" d="M66 19h1M66 41h1"/><path stroke="#cef" d="M59 0h1"/><path stroke="#cf6" d="M2 17h1M2 39h1M2 62h1"/><path stroke="#cf8" d="M0 18h1M0 40h1M0 62h1M1 63h1"/><path stroke="#cf9" d="M1 18h1M1 40h1"/><path stroke="#cfb" d="M3 19h1M3 41h1"/><path stroke="#cfe" d="M10 0h1"/><path stroke="#cff" d="M4 21h1M65 21h1M26 64h18M5 65h2M63 65h2"/><path stroke="#d00" d="M9 56h22M39 56h22"/><path stroke="#d6f" d="M67 61h1"/><path stroke="#d8f" d="M68 17h2M68 39h2M69 61h1"/><path stroke="#d9f" d="M68 62h1"/><path stroke="#dbf" d="M66 63h1"/><path stroke="#def" d="M64 42h1"/><path stroke="#df6" d="M2 61h1"/><path stroke="#df8" d="M0 17h2M0 39h2M0 61h1"/><path stroke="#df9" d="M1 62h1"/><path stroke="#dfb" d="M3 63h1"/><path stroke="#dfe" d="M5 42h1"/><path stroke="#dff" d="M7 42h56M12 64h14M44 64h14M4 65h1M65 65h1"/><path stroke="#e00" d="M31 56h8"/><path stroke="#e8f" d="M68 61h1"/><path stroke="#ebf" d="M66 18h1M66 40h1M66 62h1"/><path stroke="#eef" d="M58 0h1M64 20h1"/><path stroke="#ef8" d="M1 61h1"/><path stroke="#efb" d="M3 18h1M3 40h1M3 62h1"/><path stroke="#efe" d="M11 0h1M5 20h1"/><path stroke="#eff" d="M4 20h1M6 20h58M65 20h1M4 42h1M6 42h1M63 42h1M65 42h1M5 64h7M58 64h7"/><path stroke="#f00" d="M0 13h70M0 35h70M0 57h70"/><path stroke="#f44" d="M14 14h42"/><path stroke="#f45" d="M11 14h3"/><path stroke="#f4c" d="M67 58h1"/><path stroke="#f54" d="M56 14h3"/><path stroke="#f55" d="M4 14h7M59 14h7M6 36h58"/><path stroke="#f56" d="M64 36h2M62 58h4"/><path stroke="#f59" d="M66 14h1M66 36h1M66 58h1"/><path stroke="#f5a" d="M68 58h1"/><path stroke="#f5b" d="M68 14h1M68 36h1M69 58h1"/><path stroke="#f5c" d="M69 14h1M69 36h1"/><path stroke="#f5d" d="M67 14h1M67 36h1"/><path stroke="#f65" d="M4 36h2M4 58h4"/><path stroke="#f66" d="M8 58h11M51 58h11"/><path stroke="#f67" d="M49 58h2"/><path stroke="#f6d" d="M69 59h1"/><path stroke="#f6e" d="M69 15h1M67 59h1"/><path stroke="#f6f" d="M67 15h1M67 16h1M67 37h1M67 38h1M67 60h1"/><path stroke="#f76" d="M19 58h2"/><path stroke="#f77" d="M21 58h28"/><path stroke="#f7c" d="M66 59h1"/><path stroke="#f7d" d="M68 15h1M68 37h1M68 59h1"/><path stroke="#f7e" d="M69 37h1"/><path stroke="#f7f" d="M69 16h1M69 38h1M69 60h1"/><path stroke="#f88" d="M7 15h1M9 15h52M62 15h1"/><path stroke="#f89" d="M8 15h1M64 15h1M64 59h1"/><path stroke="#f8c" d="M66 15h1M66 37h1"/><path stroke="#f8f" d="M68 16h1M68 38h1M68 60h1"/><path stroke="#f95" d="M3 14h1M3 36h1M3 58h1"/><path stroke="#f98" d="M5 15h1M61 15h1M5 59h1"/><path stroke="#f99" d="M4 15h1M6 15h1M63 15h1M65 15h1M5 37h60M4 59h1M6 59h15M49 59h15M65 59h1"/><path stroke="#f9a" d="M65 37h1M47 59h2"/><path stroke="#f9f" d="M66 60h1"/><path stroke="#fa5" d="M1 58h1"/><path stroke="#fa9" d="M4 37h1M21 59h2"/><path stroke="#faa" d="M23 59h24"/><path stroke="#faf" d="M66 16h1M66 38h1M66 61h1"/><path stroke="#fb5" d="M1 14h1M1 36h1M0 58h1"/><path stroke="#fbb" d="M20 16h30"/><path stroke="#fbc" d="M18 16h2M64 60h1"/><path stroke="#fbf" d="M66 17h1M66 39h1"/><path stroke="#fc4" d="M2 58h1"/><path stroke="#fc5" d="M0 14h1M0 36h1"/><path stroke="#fc7" d="M3 59h1"/><path stroke="#fc8" d="M3 15h1M3 37h1"/><path stroke="#fcb" d="M50 16h2M5 60h1"/><path stroke="#fcc" d="M4 16h14M52 16h14M6 38h58M4 60h1M6 60h11M53 60h11M65 60h1"/><path stroke="#fcd" d="M64 38h1M52 60h1"/><path stroke="#fd5" d="M2 14h1M2 36h1"/><path stroke="#fd6" d="M0 59h1"/><path stroke="#fd7" d="M1 15h1M1 37h1M1 59h1"/><path stroke="#fdc" d="M5 38h1M17 60h1"/><path stroke="#fdd" d="M4 38h1M65 38h1M18 60h34"/><path stroke="#fde" d="M64 61h1"/><path stroke="#fe6" d="M0 15h1M2 59h1"/><path stroke="#fe7" d="M0 37h1"/><path stroke="#fed" d="M5 61h1"/><path stroke="#fee" d="M25 0h20M5 17h60M6 39h58M4 61h1M6 61h10M54 61h10M65 61h1"/><path stroke="#fef" d="M56 0h2M64 39h1"/><path stroke="#ff6" d="M2 15h1M2 16h1M2 37h1M2 38h1M2 60h1"/><path stroke="#ff7" d="M0 16h1M0 38h1M0 60h1"/><path stroke="#ff8" d="M1 16h1M1 38h1M1 60h1"/><path stroke="#ff9" d="M3 60h1"/><path stroke="#ffa" d="M3 16h1M3 38h1M3 61h1"/><path stroke="#ffb" d="M3 17h1M3 39h1"/><path stroke="#ffe" d="M12 0h2M5 39h1"/><path stroke="#fff" d="M14 0h11M45 0h11M4 17h1M65 17h1M4 18h62M4 19h62M4 39h1M65 39h1M4 40h62M4 41h62M16 61h38M4 62h62M4 63h62M4 64h1M65 64h1"/></g></g></g>
<path fill-rule="evenodd" d="M1636.0 800.0H1712.9V876.3H1636.0zM1638.0 802.0H1711.7V874.8H1638.0z" fill="#fff"/>
<rect x="1638.0" y="802.0" width="73.7" height="72.8" fill="#fff" fill-opacity="0.9"/>
<text x="1674.7" y="850.2" font-size="44.3" fill="#1c1c1c" text-anchor="middle" font-family="'Liberation Sans',Arial,Helvetica,sans-serif">5</text>
<g fill="none" stroke="#000" stroke-width="2">
<rect x="1.0" y="543.0" width="1723.5" height="344.8"/>
<path d="M345.35 543.0V887.8"/>
<path d="M690.10 543.0V887.8"/>
<path d="M1034.95 543.0V887.8"/>
<path d="M1379.70 543.0V887.8"/>
</g>
<g font-family="'Liberation Sans',Arial,Helvetica,sans-serif" fill="#222" text-anchor="middle" font-size="44.4">
<text x="160.5" y="938.3">state 0</text>
<text x="515.0" y="938.3">state 1</text>
<text x="862.5" y="934.8">reseting</text>
<text x="1207.2" y="938.3">state 0</text>
<text x="1549.4" y="938.3">state 1</text>
</g>
<g stroke="#d8d8d8" stroke-width="1.6" fill="none">
<path d="M460.1 1010.0V1636.2"/>
<path d="M660.4 1010.0V1636.2"/>
<path d="M860.7 1010.0V1636.2"/>
<path d="M1061.0 1010.0V1636.2"/>
<path d="M1261.3 1010.0V1636.2"/>
<path d="M234.8 1584.0H1486.7"/>
<path d="M234.8 1479.7H1486.7"/>
<path d="M234.8 1375.4H1486.7"/>
<path d="M234.8 1271.1H1486.7"/>
<path d="M234.8 1166.8H1486.7"/>
<path d="M234.8 1062.5H1486.7"/>
</g>
<g stroke="#333" stroke-width="1.1" fill="none">
<path d="M259.8 1636.2v-13.6M259.8 1010.0v13.6M299.9 1636.2v-8.4M299.9 1010.0v8.4M340.0 1636.2v-8.4M340.0 1010.0v8.4M380.0 1636.2v-8.4M380.0 1010.0v8.4M420.1 1636.2v-8.4M420.1 1010.0v8.4M460.1 1636.2v-13.6M460.1 1010.0v13.6M500.2 1636.2v-8.4M500.2 1010.0v8.4M540.3 1636.2v-8.4M540.3 1010.0v8.4M580.3 1636.2v-8.4M580.3 1010.0v8.4M620.4 1636.2v-8.4M620.4 1010.0v8.4M660.4 1636.2v-13.6M660.4 1010.0v13.6M700.5 1636.2v-8.4M700.5 1010.0v8.4M740.6 1636.2v-8.4M740.6 1010.0v8.4M780.6 1636.2v-8.4M780.6 1010.0v8.4M820.7 1636.2v-8.4M820.7 1010.0v8.4M860.7 1636.2v-13.6M860.7 1010.0v13.6M900.8 1636.2v-8.4M900.8 1010.0v8.4M940.9 1636.2v-8.4M940.9 1010.0v8.4M980.9 1636.2v-8.4M980.9 1010.0v8.4M1021.0 1636.2v-8.4M1021.0 1010.0v8.4M1061.0 1636.2v-13.6M1061.0 1010.0v13.6M1101.1 1636.2v-8.4M1101.1 1010.0v8.4M1141.2 1636.2v-8.4M1141.2 1010.0v8.4M1181.2 1636.2v-8.4M1181.2 1010.0v8.4M1221.3 1636.2v-8.4M1221.3 1010.0v8.4M1261.3 1636.2v-13.6M1261.3 1010.0v13.6M1301.4 1636.2v-8.4M1301.4 1010.0v8.4M1341.5 1636.2v-8.4M1341.5 1010.0v8.4M1381.5 1636.2v-8.4M1381.5 1010.0v8.4M1421.6 1636.2v-8.4M1421.6 1010.0v8.4M1461.6 1636.2v-13.6M1461.6 1010.0v13.6M234.8 1625.7h8.4M234.8 1604.9h8.4M234.8 1584.0h13.6M234.8 1563.1h8.4M234.8 1542.3h8.4M234.8 1521.4h8.4M234.8 1500.6h8.4M234.8 1479.7h13.6M234.8 1458.8h8.4M234.8 1438.0h8.4M234.8 1417.1h8.4M234.8 1396.3h8.4M234.8 1375.4h13.6M234.8 1354.5h8.4M234.8 1333.7h8.4M234.8 1312.8h8.4M234.8 1292.0h8.4M234.8 1271.1h13.6M234.8 1250.2h8.4M234.8 1229.4h8.4M234.8 1208.5h8.4M234.8 1187.7h8.4M234.8 1166.8h13.6M234.8 1145.9h8.4M234.8 1125.1h8.4M234.8 1104.2h8.4M234.8 1083.4h8.4M234.8 1062.5h13.6M234.8 1041.6h8.4M234.8 1020.8h8.4"/>
</g>
<g stroke="#f00" stroke-width="4.6" fill="none" stroke-linejoin="miter">
<path d="M257.7 1238.0L400.0 1238.0L400.0 1636.2"/>
<path d="M801.2 1636.2L801.2 1031.6L840.6 1031.6L840.6 1636.2"/>
<path d="M1121.4 1636.2L1121.4 1238.0L1261.4 1238.0L1261.4 1636.2"/>
</g>
<path d="M261.7 1540.0L267.2 1530.3L274.0 1501.0L278.2 1494.8L281.3 1479.1L285.5 1455.1L290.2 1449.9L293.8 1432.2L299.6 1406.1L303.7 1400.3L307.9 1401.4L312.6 1396.5L323.0 1397.2L331.4 1398.3L339.7 1396.7L349.1 1396.5L359.6 1397.9L375.2 1397.2L402.4 1397.2L405.5 1400.3L412.3 1402.4L422.2 1400.9L430.0 1400.7L460.0 1401.3L500.0 1401.5L802.3 1401.5L804.4 1404.0L806.3 1524.3L807.0 1480.0L808.0 1420.0L808.9 1380.0L810.7 1230.0L812.5 1188.0L813.6 1176.0L815.6 1167.5L817.2 1172.0L819.0 1160.0L824.0 1155.0L843.2 1154.4L843.5 1230.0L846.1 1380.0L846.7 1403.0L848.7 1418.0L849.6 1438.0L850.4 1461.0L850.8 1470.0L852.9 1483.9L853.9 1504.8L854.3 1518.7L853.4 1527.3L855.6 1520.0L859.5 1529.8L864.3 1537.5L866.4 1543.7L869.5 1547.6L873.4 1550.7L876.3 1548.8L879.0 1545.1L882.0 1541.8L884.9 1539.9L887.6 1541.6L890.1 1545.1L895.7 1554.9L898.6 1560.0L900.9 1562.5L903.2 1560.2L905.4 1554.9L909.6 1539.6L913.0 1522.9L914.8 1518.0L917.2 1516.3L920.0 1522.9L923.5 1536.1L927.0 1546.5L928.8 1549.2L930.4 1550.0L932.7 1549.0L935.3 1546.5L940.9 1537.5L943.8 1534.0L946.4 1532.6L949.0 1533.7L951.3 1536.1L954.2 1538.6L956.9 1540.4L960.4 1541.0L964.0 1540.4L968.0 1539.2L972.0 1537.7L975.7 1537.1L980.0 1537.8L984.8 1538.9L998.7 1538.9L1009.8 1540.6L1021.1 1541.0L1030.0 1538.6L1037.0 1537.8L1044.0 1538.8L1050.9 1539.9L1061.3 1539.9L1070.0 1538.5L1080.0 1538.3L1095.0 1539.2L1110.0 1539.6L1122.5 1539.7L1126.7 1535.5L1129.8 1528.2L1134.5 1503.1L1139.2 1493.7L1142.3 1479.1L1146.0 1455.1L1151.2 1450.4L1154.9 1432.2L1160.1 1406.1L1164.8 1399.8L1168.4 1401.9L1173.1 1396.5L1183.1 1397.0L1192.0 1398.5L1200.7 1396.7L1210.0 1396.5L1220.0 1398.0L1235.0 1397.2L1262.4 1397.2L1265.5 1400.3L1273.2 1402.9L1283.0 1401.0L1290.0 1400.7L1320.0 1401.3L1361.7 1401.5L1464.3 1401.5" stroke="#000" stroke-width="4.6" fill="none" stroke-linejoin="round"/>
<rect x="251.5" y="1529.8" width="20.4" height="20.4" fill="#f00"/>
<text x="260.3" y="1509.9" font-size="36" font-weight="bold" text-anchor="middle" font-family="'Liberation Sans',Arial,Helvetica,sans-serif">1</text>
<rect x="489.5" y="1390.3" width="20.4" height="20.4" fill="#f00"/>
<text x="500.4" y="1374.8" font-size="36" font-weight="bold" text-anchor="middle" font-family="'Liberation Sans',Arial,Helvetica,sans-serif">2</text>
<rect x="814.0" y="1145.2" width="20.4" height="20.4" fill="#f00"/>
<text x="824.6" y="1135.0" font-size="36" font-weight="bold" text-anchor="middle" font-family="'Liberation Sans',Arial,Helvetica,sans-serif">3</text>
<rect x="1010.9" y="1530.8" width="20.4" height="20.4" fill="#f00"/>
<text x="1021.0" y="1520.8" font-size="36" font-weight="bold" text-anchor="middle" font-family="'Liberation Sans',Arial,Helvetica,sans-serif">4</text>
<rect x="1351.5" y="1390.4" width="20.4" height="20.4" fill="#f00"/>
<text x="1361.6" y="1374.8" font-size="36" font-weight="bold" text-anchor="middle" font-family="'Liberation Sans',Arial,Helvetica,sans-serif">5</text>
<g fill="#000" fill-opacity="0.8">
<rect x="260.0" y="1584" width="139.5" height="52.2"/>
<rect x="801.4" y="1584" width="459.4" height="52.2"/>
</g>
<g fill="#fff" font-size="40" text-anchor="middle" font-family="'Liberation Sans',Arial,Helvetica,sans-serif">
<text x="330.0" y="1620.6">set</text>
<text x="960.9" y="1620.6">reset</text>
<text x="1191.3" y="1620.6">set</text>
</g>
<path d="M234.8 1010.0H1486.7M234.8 1010.0V1636.2H1486.7" stroke="#222" stroke-width="1.2" fill="none"/>
<path d="M1486.7 1010.0V1636.2" stroke="#f33" stroke-width="1.2" fill="none"/>
<path d="M1486.7 1435.5h-13.6M1486.7 1234.8h-13.6M1486.7 1034.1h-13.6" stroke="#f00" stroke-width="1.1" fill="none"/>
<g font-family="'Liberation Sans',Arial,Helvetica,sans-serif" font-size="37.3" fill="#000">
<text x="260.3" y="1674.5" text-anchor="middle">0</text>
<text x="460.6" y="1674.5" text-anchor="middle">5</text>
<text x="660.9" y="1674.5" text-anchor="middle">10</text>
<text x="861.2" y="1674.5" text-anchor="middle">15</text>
<text x="1061.5" y="1674.5" text-anchor="middle">20</text>
<text x="1261.8" y="1674.5" text-anchor="middle">25</text>
<text x="1462.1" y="1674.5" text-anchor="middle">30</text>
<text x="226.6" y="1595.2" text-anchor="end">0.98</text>
<text x="226.6" y="1490.9" text-anchor="end">0.99</text>
<text x="226.6" y="1386.6" text-anchor="end">1.00</text>
<text x="226.6" y="1282.3" text-anchor="end">1.01</text>
<text x="226.6" y="1178.0" text-anchor="end">1.02</text>
<text x="226.6" y="1073.7" text-anchor="end">1.03</text>
</g>
<g font-family="'Liberation Sans',Arial,Helvetica,sans-serif" font-size="37.3" fill="#f00">
<text x="1496" y="1645.9">1</text>
<text x="1496" y="1446.8">10</text>
<text x="1496" y="1245.9">100</text>
<text x="1496" y="1044.3">1000</text>
</g>
<text x="860.5" y="1740.9" font-size="44.3" text-anchor="middle" font-family="'Liberation Sans',Arial,Helvetica,sans-serif">Time t [ns]</text>
<text transform="translate(118.6 1079.8) rotate(-90)" font-size="43.4" text-anchor="end" font-family="'Liberation Sans',Arial,Helvetica,sans-serif">normalized resistance R/R</text>
<text transform="translate(126.9 1079.2) rotate(-90)" font-size="31" font-family="'Liberation Sans',Arial,Helvetica,sans-serif">1</text>
<text transform="translate(1656.3 1596.6) rotate(-90)" font-size="43.6" fill="#f00" font-family="'Liberation Sans',Arial,Helvetica,sans-serif">Current density j</text>
<text transform="translate(1656.3 1270.6) rotate(-90)" font-size="43.6" letter-spacing="0.9" fill="#f00" font-family="'Liberation Sans',Arial,Helvetica,sans-serif">[10<tspan font-size="31" dy="-20.3">10</tspan><tspan dy="20.3"> A/m</tspan><tspan font-size="31" dy="-20.3">2</tspan><tspan dy="20.3">]</tspan></text>
</svg></body></html>
